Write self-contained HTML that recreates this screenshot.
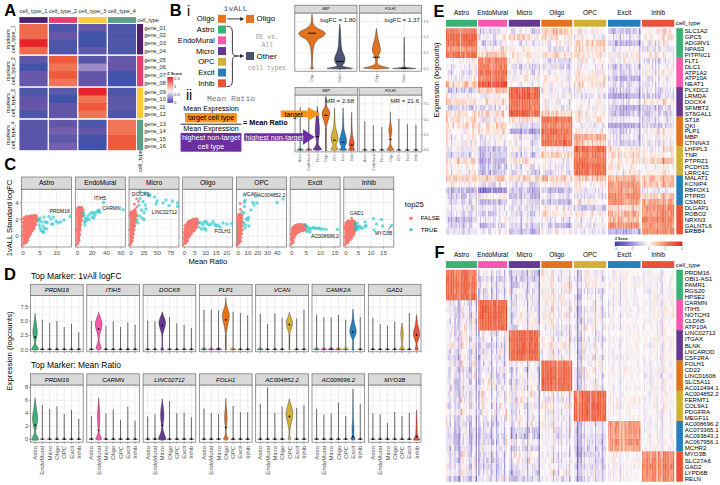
<!DOCTYPE html>
<html><head><meta charset="utf-8"><style>html,body{margin:0;padding:0;background:#fff;width:720px;height:485px;overflow:hidden}svg{display:block}</style></head><body>
<svg width="720" height="485" viewBox="0 0 720 485">
<style>.s{font-family:"Liberation Sans",sans-serif}.m{font-family:"Liberation Mono",monospace}</style>
<rect x="0" y="0" width="720" height="485" fill="#FFFFFF"/>
<text class="s" x="4.3" y="16.3" font-size="16.5" font-weight="bold" fill="#000">A</text>
<rect x="19.4" y="17.1" width="28.2" height="5.8" fill="#4F1F6E"/>
<text class="s" x="33.5" y="13.3" font-size="5.5" text-anchor="middle" fill="#222">cell_type_1</text>
<rect x="48.9" y="17.1" width="28.2" height="5.8" fill="#E8406E"/>
<text class="s" x="63" y="13.3" font-size="5.5" text-anchor="middle" fill="#222">cell_type_2</text>
<rect x="78.4" y="17.1" width="28.2" height="5.8" fill="#FDCB3A"/>
<text class="s" x="92.5" y="13.3" font-size="5.5" text-anchor="middle" fill="#222">cell_type_3</text>
<rect x="107.9" y="17.1" width="28.2" height="5.8" fill="#5C9E86"/>
<text class="s" x="122" y="13.3" font-size="5.5" text-anchor="middle" fill="#222">cell_type_4</text>
<text class="s" x="137.2" y="21.6" font-size="5.5" fill="#222">cell_type</text>
<rect x="19.4" y="24" width="28.2" height="8.2" fill="#EE6A4C"/>
<rect x="48.9" y="24" width="28.2" height="8.2" fill="#4E56A9"/>
<rect x="78.4" y="24" width="28.2" height="8.2" fill="#6757A9"/>
<rect x="107.9" y="24" width="28.2" height="8.2" fill="#4E56A9"/>
<text class="s" x="144.3" y="29.8" font-size="5.5" fill="#222">gene_01</text>
<rect x="19.4" y="31.6" width="28.2" height="8.2" fill="#EE6A4C"/>
<rect x="48.9" y="31.6" width="28.2" height="8.2" fill="#6757A9"/>
<rect x="78.4" y="31.6" width="28.2" height="8.2" fill="#4252A8"/>
<rect x="107.9" y="31.6" width="28.2" height="8.2" fill="#4E56A9"/>
<text class="s" x="144.3" y="37.4" font-size="5.5" fill="#222">gene_02</text>
<rect x="19.4" y="39.2" width="28.2" height="8.2" fill="#E8232B"/>
<rect x="48.9" y="39.2" width="28.2" height="8.2" fill="#4E56A9"/>
<rect x="78.4" y="39.2" width="28.2" height="8.2" fill="#4252A8"/>
<rect x="107.9" y="39.2" width="28.2" height="8.2" fill="#4E56A9"/>
<text class="s" x="144.3" y="45" font-size="5.5" fill="#222">gene_03</text>
<rect x="19.4" y="46.8" width="28.2" height="7.6" fill="#EE6A4C"/>
<rect x="48.9" y="46.8" width="28.2" height="7.6" fill="#4E56A9"/>
<rect x="78.4" y="46.8" width="28.2" height="7.6" fill="#5D58AA"/>
<rect x="107.9" y="46.8" width="28.2" height="7.6" fill="#4E56A9"/>
<text class="s" x="144.3" y="52.6" font-size="5.5" fill="#222">gene_04</text>
<rect x="137" y="24" width="6.1" height="30.4" fill="#4F1F6E"/>
<text class="s" x="9.9" y="39.2" font-size="5.5" text-anchor="middle" fill="#222" transform="rotate(-90 9.9 39.2)">markers</text>
<text class="s" x="15" y="39.2" font-size="5.5" text-anchor="middle" fill="#222" transform="rotate(-90 15 39.2)">cell_type_1</text>
<rect x="19.4" y="55.9" width="28.2" height="8.2" fill="#5E56A9"/>
<rect x="48.9" y="55.9" width="28.2" height="8.2" fill="#EF5A3C"/>
<rect x="78.4" y="55.9" width="28.2" height="8.2" fill="#5656A8"/>
<rect x="107.9" y="55.9" width="28.2" height="8.2" fill="#6757A9"/>
<text class="s" x="144.3" y="61.7" font-size="5.5" fill="#222">gene_05</text>
<rect x="19.4" y="63.5" width="28.2" height="8.2" fill="#4252A8"/>
<rect x="48.9" y="63.5" width="28.2" height="8.2" fill="#F07456"/>
<rect x="78.4" y="63.5" width="28.2" height="8.2" fill="#9C8CC8"/>
<rect x="107.9" y="63.5" width="28.2" height="8.2" fill="#6757A9"/>
<text class="s" x="144.3" y="69.3" font-size="5.5" fill="#222">gene_06</text>
<rect x="19.4" y="71.1" width="28.2" height="8.2" fill="#6757A9"/>
<rect x="48.9" y="71.1" width="28.2" height="8.2" fill="#EF5A3C"/>
<rect x="78.4" y="71.1" width="28.2" height="8.2" fill="#6356A9"/>
<rect x="107.9" y="71.1" width="28.2" height="8.2" fill="#4252A8"/>
<text class="s" x="144.3" y="76.9" font-size="5.5" fill="#222">gene_07</text>
<rect x="19.4" y="78.7" width="28.2" height="7.6" fill="#6757A9"/>
<rect x="48.9" y="78.7" width="28.2" height="7.6" fill="#F07456"/>
<rect x="78.4" y="78.7" width="28.2" height="7.6" fill="#6356A9"/>
<rect x="107.9" y="78.7" width="28.2" height="7.6" fill="#4252A8"/>
<text class="s" x="144.3" y="84.5" font-size="5.5" fill="#222">gene_08</text>
<rect x="137" y="55.9" width="6.1" height="30.4" fill="#E8406E"/>
<text class="s" x="9.9" y="71.1" font-size="5.5" text-anchor="middle" fill="#222" transform="rotate(-90 9.9 71.1)">markers</text>
<text class="s" x="15" y="71.1" font-size="5.5" text-anchor="middle" fill="#222" transform="rotate(-90 15 71.1)">cell_type_2</text>
<rect x="19.4" y="87.8" width="28.2" height="8.2" fill="#4E56A9"/>
<rect x="48.9" y="87.8" width="28.2" height="8.2" fill="#5A58A8"/>
<rect x="78.4" y="87.8" width="28.2" height="8.2" fill="#E8232B"/>
<rect x="107.9" y="87.8" width="28.2" height="8.2" fill="#4E56A9"/>
<text class="s" x="144.3" y="93.6" font-size="5.5" fill="#222">gene_09</text>
<rect x="19.4" y="95.4" width="28.2" height="8.2" fill="#6055A8"/>
<rect x="48.9" y="95.4" width="28.2" height="8.2" fill="#4252A8"/>
<rect x="78.4" y="95.4" width="28.2" height="8.2" fill="#F07456"/>
<rect x="107.9" y="95.4" width="28.2" height="8.2" fill="#5D58A8"/>
<text class="s" x="144.3" y="101.2" font-size="5.5" fill="#222">gene_10</text>
<rect x="19.4" y="103" width="28.2" height="8.2" fill="#6757A9"/>
<rect x="48.9" y="103" width="28.2" height="8.2" fill="#6155A8"/>
<rect x="78.4" y="103" width="28.2" height="8.2" fill="#EF5A3C"/>
<rect x="107.9" y="103" width="28.2" height="8.2" fill="#5D58A8"/>
<text class="s" x="144.3" y="108.8" font-size="5.5" fill="#222">gene_11</text>
<rect x="19.4" y="110.6" width="28.2" height="7.6" fill="#4E56A9"/>
<rect x="48.9" y="110.6" width="28.2" height="7.6" fill="#6155A8"/>
<rect x="78.4" y="110.6" width="28.2" height="7.6" fill="#F07456"/>
<rect x="107.9" y="110.6" width="28.2" height="7.6" fill="#4E56A9"/>
<text class="s" x="144.3" y="116.4" font-size="5.5" fill="#222">gene_12</text>
<rect x="137" y="87.8" width="6.1" height="30.4" fill="#FDCB3A"/>
<text class="s" x="9.9" y="103" font-size="5.5" text-anchor="middle" fill="#222" transform="rotate(-90 9.9 103)">markers</text>
<text class="s" x="15" y="103" font-size="5.5" text-anchor="middle" fill="#222" transform="rotate(-90 15 103)">cell_type_3</text>
<rect x="19.4" y="119.8" width="28.2" height="8.2" fill="#5855A8"/>
<rect x="48.9" y="119.8" width="28.2" height="8.2" fill="#6355A8"/>
<rect x="78.4" y="119.8" width="28.2" height="8.2" fill="#4E56A9"/>
<rect x="107.9" y="119.8" width="28.2" height="8.2" fill="#F07456"/>
<text class="s" x="144.3" y="125.6" font-size="5.5" fill="#222">gene_13</text>
<rect x="19.4" y="127.4" width="28.2" height="8.2" fill="#5855A8"/>
<rect x="48.9" y="127.4" width="28.2" height="8.2" fill="#7460AE"/>
<rect x="78.4" y="127.4" width="28.2" height="8.2" fill="#6356A9"/>
<rect x="107.9" y="127.4" width="28.2" height="8.2" fill="#F07456"/>
<text class="s" x="144.3" y="133.2" font-size="5.5" fill="#222">gene_14</text>
<rect x="19.4" y="135" width="28.2" height="8.2" fill="#5855A8"/>
<rect x="48.9" y="135" width="28.2" height="8.2" fill="#5D58A8"/>
<rect x="78.4" y="135" width="28.2" height="8.2" fill="#4252A8"/>
<rect x="107.9" y="135" width="28.2" height="8.2" fill="#EF5A3C"/>
<text class="s" x="144.3" y="140.8" font-size="5.5" fill="#222">gene_15</text>
<rect x="19.4" y="142.6" width="28.2" height="7.6" fill="#5A55A8"/>
<rect x="48.9" y="142.6" width="28.2" height="7.6" fill="#7460AE"/>
<rect x="78.4" y="142.6" width="28.2" height="7.6" fill="#4252A8"/>
<rect x="107.9" y="142.6" width="28.2" height="7.6" fill="#EF5A3C"/>
<text class="s" x="144.3" y="148.4" font-size="5.5" fill="#222">gene_16</text>
<rect x="137" y="119.8" width="6.1" height="30.4" fill="#5C9E86"/>
<text class="s" x="9.9" y="135" font-size="5.5" text-anchor="middle" fill="#222" transform="rotate(-90 9.9 135)">markers</text>
<text class="s" x="15" y="135" font-size="5.5" text-anchor="middle" fill="#222" transform="rotate(-90 15 135)">cell_type_4</text>
<text class="s" x="142.4" y="171.8" font-size="5.5" fill="#222" transform="rotate(-90 142.4 171.8)">cell_type</text>
<defs><linearGradient id="gA" x1="0" y1="0" x2="0" y2="1"><stop offset="0" stop-color="#E8202A"/><stop offset="0.33" stop-color="#F4A090"/><stop offset="0.55" stop-color="#F4F0F4"/><stop offset="0.8" stop-color="#9A8CC8"/><stop offset="1" stop-color="#3A4FB0"/></linearGradient></defs>
<text class="s" x="167" y="74.7" font-size="4.1" font-weight="bold" fill="#222">Z Score</text>
<rect x="167.3" y="77" width="5.9" height="25.8" fill="url(#gA)"/>
<text class="s" x="173.9" y="79.9" font-size="4.2" fill="#333">1.5</text>
<text class="s" x="173.9" y="88" font-size="4.2" fill="#333">1</text>
<text class="s" x="173.9" y="95.8" font-size="4.2" fill="#333">0.5</text>
<text class="s" x="173.9" y="103.8" font-size="4.2" fill="#333">0</text>
<text class="s" x="169.8" y="16.4" font-size="16.5" font-weight="bold" fill="#000">B</text>
<text class="s" x="187" y="16" font-size="14" fill="#000">i</text>
<text class="m" x="223.6" y="10.9" font-size="8" fill="#555">1vALL</text>
<rect x="218" y="14.8" width="8" height="8" fill="#E2731F"/>
<text class="s" x="214.6" y="21.4" font-size="7.6" text-anchor="end">Oligo</text>
<rect x="218" y="25.55" width="8" height="8" fill="#3BB273"/>
<text class="s" x="214.6" y="32.15" font-size="7.6" text-anchor="end">Astro</text>
<rect x="218" y="36.3" width="8" height="8" fill="#F558AE"/>
<text class="s" x="214.6" y="42.9" font-size="7.6" text-anchor="end">EndoMural</text>
<rect x="218" y="47.05" width="8" height="8" fill="#663894"/>
<text class="s" x="214.6" y="53.65" font-size="7.6" text-anchor="end">Micro</text>
<rect x="218" y="57.8" width="8" height="8" fill="#D2B037"/>
<text class="s" x="214.6" y="64.4" font-size="7.6" text-anchor="end">OPC</text>
<rect x="218" y="68.55" width="8" height="8" fill="#247FBC"/>
<text class="s" x="214.6" y="75.15" font-size="7.6" text-anchor="end">Excit</text>
<rect x="218" y="79.3" width="8" height="8" fill="#EA5136"/>
<text class="s" x="214.6" y="85.9" font-size="7.6" text-anchor="end">Inhib</text>
<line x1="227.2" y1="18.9" x2="241" y2="18.9" stroke="#222" stroke-width="0.9"/>
<path d="M244.2 18.9 L240.2 16.9 L240.2 20.9 Z" fill="#222"/>
<rect x="246" y="14.9" width="8" height="8" fill="#E2731F"/>
<text class="s" x="256.6" y="21.4" font-size="8">Oligo</text>
<path d="M226.6 26.3 C231.5 26.3 232.4 28.5 232.4 33 L232.4 50 C232.4 54.5 233.5 56 237.6 56 M226.6 86.6 C231.5 86.6 232.4 84.5 232.4 80 L232.4 62 C232.4 57.5 233.5 56 237.6 56 L241 56" fill="none" stroke="#222" stroke-width="0.9"/>
<path d="M244.2 56 L240.2 54 L240.2 58 Z" fill="#222"/>
<rect x="246" y="52" width="8" height="8" fill="#4B5571"/>
<text class="s" x="256.6" y="58.5" font-size="8">Other</text>
<text class="m" x="255.8" y="38.7" font-size="6.3" fill="#999">DE vs.</text>
<text class="m" x="267.3" y="46.5" font-size="6.3" text-anchor="middle" fill="#999">All</text>
<text class="m" x="248" y="70.4" font-size="6.3" fill="#999">cell types</text>
<rect x="294.8" y="13" width="62.2" height="58.2" fill="#FFFFFF"/>
<line x1="294.8" y1="68.7" x2="357" y2="68.7" stroke="#E6E6E6" stroke-width="0.7"/>
<line x1="294.8" y1="52.93" x2="357" y2="52.93" stroke="#E6E6E6" stroke-width="0.7"/>
<line x1="294.8" y1="37.15" x2="357" y2="37.15" stroke="#E6E6E6" stroke-width="0.7"/>
<line x1="294.8" y1="21.38" x2="357" y2="21.38" stroke="#E6E6E6" stroke-width="0.7"/>
<line x1="312.22" y1="13" x2="312.22" y2="71.2" stroke="#E6E6E6" stroke-width="0.7"/>
<line x1="339.58" y1="13" x2="339.58" y2="71.2" stroke="#E6E6E6" stroke-width="0.7"/>
<rect x="294.8" y="13" width="62.2" height="58.2" fill="none" stroke="#6e6e6e" stroke-width="0.7"/>
<rect x="294.8" y="5.2" width="62.2" height="7.8" fill="#D9D9D9" stroke="#6e6e6e" stroke-width="0.7"/>
<text class="s" x="325.9" y="10.32" font-size="3.4" text-anchor="middle" font-style="italic">MBP</text>
<line x1="312.22" y1="71.2" x2="312.22" y2="72.7" stroke="#777" stroke-width="0.4"/>
<line x1="339.58" y1="71.2" x2="339.58" y2="72.7" stroke="#777" stroke-width="0.4"/>
<rect x="359.6" y="13" width="61.9" height="58.2" fill="#FFFFFF"/>
<line x1="359.6" y1="68.7" x2="421.5" y2="68.7" stroke="#E6E6E6" stroke-width="0.7"/>
<line x1="359.6" y1="52.93" x2="421.5" y2="52.93" stroke="#E6E6E6" stroke-width="0.7"/>
<line x1="359.6" y1="37.15" x2="421.5" y2="37.15" stroke="#E6E6E6" stroke-width="0.7"/>
<line x1="359.6" y1="21.38" x2="421.5" y2="21.38" stroke="#E6E6E6" stroke-width="0.7"/>
<line x1="376.93" y1="13" x2="376.93" y2="71.2" stroke="#E6E6E6" stroke-width="0.7"/>
<line x1="404.17" y1="13" x2="404.17" y2="71.2" stroke="#E6E6E6" stroke-width="0.7"/>
<rect x="359.6" y="13" width="61.9" height="58.2" fill="none" stroke="#6e6e6e" stroke-width="0.7"/>
<rect x="359.6" y="5.2" width="61.9" height="7.8" fill="#D9D9D9" stroke="#6e6e6e" stroke-width="0.7"/>
<text class="s" x="390.55" y="10.32" font-size="3.4" text-anchor="middle" font-style="italic">FOLH1</text>
<line x1="376.93" y1="71.2" x2="376.93" y2="72.7" stroke="#777" stroke-width="0.4"/>
<line x1="404.17" y1="71.2" x2="404.17" y2="72.7" stroke="#777" stroke-width="0.4"/>
<path d="M312.1 14.3 C312.15 14.92 312.2 16.38 312.4 18 C312.6 19.62 312.53 22.33 313.3 24 C314.07 25.67 315.38 26.83 317 28 C318.62 29.17 321.63 30.12 323 31 C324.37 31.88 325.12 32.47 325.2 33.3 C325.28 34.13 324.62 35.05 323.5 36 C322.38 36.95 319.92 37.83 318.5 39 C317.08 40.17 315.85 41.5 315 43 C314.15 44.5 313.77 46.17 313.4 48 C313.03 49.83 312.95 52 312.8 54 C312.65 56 312.55 58 312.5 60 C312.45 62 312.32 64.63 312.5 66 C312.68 67.37 313.65 67.7 313.6 68.2 C313.55 68.7 312.43 68.87 312.2 69 L311.8 69 C311.57 68.87 310.45 68.7 310.4 68.2 C310.35 67.7 311.32 67.37 311.5 66 C311.68 64.63 311.55 62 311.5 60 C311.45 58 311.35 56 311.2 54 C311.05 52 310.97 49.83 310.6 48 C310.23 46.17 309.85 44.5 309 43 C308.15 41.5 306.92 40.17 305.5 39 C304.08 37.83 301.62 36.95 300.5 36 C299.38 35.05 298.72 34.13 298.8 33.3 C298.88 32.47 299.63 31.88 301 31 C302.37 30.12 305.38 29.17 307 28 C308.62 26.83 309.93 25.67 310.7 24 C311.47 22.33 311.4 19.62 311.6 18 C311.8 16.38 311.85 14.92 311.9 14.3 Z" fill="#E2731F" stroke="#222" stroke-width="0.4"/>
<line x1="308" y1="33.2" x2="316" y2="33.2" stroke="#000" stroke-width="0.9"/>
<path d="M339.9 24.3 C339.98 25.25 340.23 27.38 340.4 30 C340.57 32.62 340.73 37.17 340.9 40 C341.07 42.83 341.12 45 341.4 47 C341.68 49 342.1 50.5 342.6 52 C343.1 53.5 343.98 54.73 344.4 56 C344.82 57.27 345.13 58.43 345.1 59.6 C345.07 60.77 344.62 61.93 344.2 63 C343.78 64.07 341.83 65.23 342.6 66 C343.37 66.77 347.2 67.17 348.8 67.6 C350.4 68.03 353.65 68.33 352.2 68.6 C350.75 68.87 342.12 69.1 340.1 69.2 L339.5 69.2 C337.48 69.1 328.85 68.87 327.4 68.6 C325.95 68.33 329.2 68.03 330.8 67.6 C332.4 67.17 336.23 66.77 337 66 C337.77 65.23 335.82 64.07 335.4 63 C334.98 61.93 334.53 60.77 334.5 59.6 C334.47 58.43 334.78 57.27 335.2 56 C335.62 54.73 336.5 53.5 337 52 C337.5 50.5 337.92 49 338.2 47 C338.48 45 338.53 42.83 338.7 40 C338.87 37.17 339.03 32.62 339.2 30 C339.37 27.38 339.62 25.25 339.7 24.3 Z" fill="#4B5571" stroke="#222" stroke-width="0.4"/>
<line x1="336" y1="61.4" x2="343.6" y2="61.4" stroke="#000" stroke-width="0.9"/>
<path d="M376.5 28.6 C376.58 29.33 376.78 31.43 377 33 C377.22 34.57 377.43 36.33 377.8 38 C378.17 39.67 378.77 41.17 379.2 43 C379.63 44.83 380.3 47.33 380.4 49 C380.5 50.67 380.17 51.83 379.8 53 C379.43 54.17 378.6 54.83 378.2 56 C377.8 57.17 377.55 58.83 377.4 60 C377.25 61.17 376.88 62.08 377.3 63 C377.72 63.92 378.38 64.78 379.9 65.5 C381.42 66.22 384.95 66.83 386.4 67.3 C387.85 67.77 390.22 68.02 388.6 68.3 C386.98 68.58 378.68 68.88 376.7 69 L376.1 69 C374.12 68.88 365.82 68.58 364.2 68.3 C362.58 68.02 364.95 67.77 366.4 67.3 C367.85 66.83 371.38 66.22 372.9 65.5 C374.42 64.78 375.08 63.92 375.5 63 C375.92 62.08 375.55 61.17 375.4 60 C375.25 58.83 375 57.17 374.6 56 C374.2 54.83 373.37 54.17 373 53 C372.63 51.83 372.3 50.67 372.4 49 C372.5 47.33 373.17 44.83 373.6 43 C374.03 41.17 374.63 39.67 375 38 C375.37 36.33 375.58 34.57 375.8 33 C376.02 31.43 376.22 29.33 376.3 28.6 Z" fill="#E2731F" stroke="#222" stroke-width="0.4"/>
<line x1="372.8" y1="57.2" x2="380" y2="57.2" stroke="#000" stroke-width="0.9"/>
<path d="M404.25 37 C404.28 38.33 404.4 41.17 404.45 45 C404.5 48.83 404.51 56.42 404.55 60 C404.59 63.58 403.84 65.22 404.7 66.5 C405.56 67.78 407.87 67.37 409.7 67.7 C411.53 68.03 416.58 68.28 415.7 68.5 C414.82 68.72 406.28 68.92 404.4 69 L404 69 C402.12 68.92 393.58 68.72 392.7 68.5 C391.82 68.28 396.87 68.03 398.7 67.7 C400.53 67.37 402.84 67.78 403.7 66.5 C404.56 65.22 403.81 63.58 403.85 60 C403.89 56.42 403.9 48.83 403.95 45 C404 41.17 404.12 38.33 404.15 37 Z" fill="#4B5571" stroke="#222" stroke-width="0.35"/>
<line x1="401.7" y1="68.3" x2="406.7" y2="68.3" stroke="#000" stroke-width="0.9"/>
<text class="s" x="355.8" y="21.5" font-size="6.2" text-anchor="end" fill="#222">logFC = 1.80</text>
<text class="s" x="420" y="21.5" font-size="6.2" text-anchor="end" fill="#222">logFC = 1.37</text>
<line x1="421.5" y1="68.7" x2="423" y2="68.7" stroke="#777" stroke-width="0.4"/>
<text class="s" x="423.6" y="69.9" font-size="3.4" fill="#555">0.0</text>
<line x1="421.5" y1="52.93" x2="423" y2="52.93" stroke="#777" stroke-width="0.4"/>
<text class="s" x="423.6" y="54.13" font-size="3.4" fill="#555">2.5</text>
<line x1="421.5" y1="37.15" x2="423" y2="37.15" stroke="#777" stroke-width="0.4"/>
<text class="s" x="423.6" y="38.35" font-size="3.4" fill="#555">5.0</text>
<line x1="421.5" y1="21.38" x2="423" y2="21.38" stroke="#777" stroke-width="0.4"/>
<text class="s" x="423.6" y="22.58" font-size="3.4" fill="#555">7.5</text>
<text class="s" x="313.2" y="74" font-size="3.4" text-anchor="end" fill="#555" transform="rotate(-90 313.2 74)">Oligo</text>
<text class="s" x="341" y="74" font-size="3.4" text-anchor="end" fill="#555" transform="rotate(-90 341 74)">Other</text>
<text class="s" x="377.6" y="74" font-size="3.4" text-anchor="end" fill="#555" transform="rotate(-90 377.6 74)">Oligo</text>
<text class="s" x="405.4" y="74" font-size="3.4" text-anchor="end" fill="#555" transform="rotate(-90 405.4 74)">Other</text>
<text class="s" x="186" y="99.8" font-size="14" fill="#000">ii</text>
<text class="m" x="207" y="100.8" font-size="8" fill="#777">Mean Ratio</text>
<text class="s" x="211" y="111.4" font-size="7.2" text-anchor="middle">Mean Expression</text>
<rect x="185" y="113" width="51.9" height="9.4" fill="#F7941D"/>
<text class="s" x="211" y="120.3" font-size="7.2" text-anchor="middle">target cell type</text>
<line x1="180.6" y1="124.2" x2="241.4" y2="124.2" stroke="#111" stroke-width="0.9"/>
<text class="s" x="211" y="131" font-size="7.2" text-anchor="middle">Mean Expression</text>
<rect x="180.6" y="132.9" width="60.8" height="18.8" fill="#6B2FA0"/>
<text class="s" x="211" y="139.7" font-size="7.2" text-anchor="middle" fill="#FFFFFF">highest non-target</text>
<text class="s" x="211" y="149" font-size="7.2" text-anchor="middle" fill="#FFFFFF">cell type</text>
<text class="s" x="243" y="125.4" font-size="7.2" font-weight="bold" fill="#000">= Mean Ratio</text>
<rect x="295" y="95" width="62.4" height="56.9" fill="#FFFFFF"/>
<line x1="295" y1="150.2" x2="357.4" y2="150.2" stroke="#E6E6E6" stroke-width="0.7"/>
<line x1="295" y1="134.77" x2="357.4" y2="134.77" stroke="#E6E6E6" stroke-width="0.7"/>
<line x1="295" y1="119.35" x2="357.4" y2="119.35" stroke="#E6E6E6" stroke-width="0.7"/>
<line x1="295" y1="103.92" x2="357.4" y2="103.92" stroke="#E6E6E6" stroke-width="0.7"/>
<line x1="300.2" y1="95" x2="300.2" y2="151.9" stroke="#E6E6E6" stroke-width="0.7"/>
<line x1="308.78" y1="95" x2="308.78" y2="151.9" stroke="#E6E6E6" stroke-width="0.7"/>
<line x1="317.36" y1="95" x2="317.36" y2="151.9" stroke="#E6E6E6" stroke-width="0.7"/>
<line x1="325.94" y1="95" x2="325.94" y2="151.9" stroke="#E6E6E6" stroke-width="0.7"/>
<line x1="334.52" y1="95" x2="334.52" y2="151.9" stroke="#E6E6E6" stroke-width="0.7"/>
<line x1="343.1" y1="95" x2="343.1" y2="151.9" stroke="#E6E6E6" stroke-width="0.7"/>
<line x1="351.68" y1="95" x2="351.68" y2="151.9" stroke="#E6E6E6" stroke-width="0.7"/>
<rect x="295" y="95" width="62.4" height="56.9" fill="none" stroke="#6e6e6e" stroke-width="0.7"/>
<rect x="295" y="87.5" width="62.4" height="7.5" fill="#D9D9D9" stroke="#6e6e6e" stroke-width="0.7"/>
<text class="s" x="326.2" y="92.47" font-size="3.4" text-anchor="middle" font-style="italic">MBP</text>
<line x1="300.2" y1="151.9" x2="300.2" y2="153.3" stroke="#777" stroke-width="0.4"/>
<text class="s" x="301.4" y="154" font-size="3.4" text-anchor="end" fill="#555" transform="rotate(-90 301.4 154)">Astro</text>
<line x1="308.78" y1="151.9" x2="308.78" y2="153.3" stroke="#777" stroke-width="0.4"/>
<text class="s" x="309.98" y="154" font-size="3.4" text-anchor="end" fill="#555" transform="rotate(-90 309.98 154)">EndoMural</text>
<line x1="317.36" y1="151.9" x2="317.36" y2="153.3" stroke="#777" stroke-width="0.4"/>
<text class="s" x="318.56" y="154" font-size="3.4" text-anchor="end" fill="#555" transform="rotate(-90 318.56 154)">Micro</text>
<line x1="325.94" y1="151.9" x2="325.94" y2="153.3" stroke="#777" stroke-width="0.4"/>
<text class="s" x="327.14" y="154" font-size="3.4" text-anchor="end" fill="#555" transform="rotate(-90 327.14 154)">Oligo</text>
<line x1="334.52" y1="151.9" x2="334.52" y2="153.3" stroke="#777" stroke-width="0.4"/>
<text class="s" x="335.72" y="154" font-size="3.4" text-anchor="end" fill="#555" transform="rotate(-90 335.72 154)">OPC</text>
<line x1="343.1" y1="151.9" x2="343.1" y2="153.3" stroke="#777" stroke-width="0.4"/>
<text class="s" x="344.3" y="154" font-size="3.4" text-anchor="end" fill="#555" transform="rotate(-90 344.3 154)">Excit</text>
<line x1="351.68" y1="151.9" x2="351.68" y2="153.3" stroke="#777" stroke-width="0.4"/>
<text class="s" x="352.88" y="154" font-size="3.4" text-anchor="end" fill="#555" transform="rotate(-90 352.88 154)">Inhib</text>
<rect x="359.1" y="95" width="62.8" height="56.9" fill="#FFFFFF"/>
<line x1="359.1" y1="150.2" x2="421.9" y2="150.2" stroke="#E6E6E6" stroke-width="0.7"/>
<line x1="359.1" y1="134.77" x2="421.9" y2="134.77" stroke="#E6E6E6" stroke-width="0.7"/>
<line x1="359.1" y1="119.35" x2="421.9" y2="119.35" stroke="#E6E6E6" stroke-width="0.7"/>
<line x1="359.1" y1="103.92" x2="421.9" y2="103.92" stroke="#E6E6E6" stroke-width="0.7"/>
<line x1="364.8" y1="95" x2="364.8" y2="151.9" stroke="#E6E6E6" stroke-width="0.7"/>
<line x1="373.32" y1="95" x2="373.32" y2="151.9" stroke="#E6E6E6" stroke-width="0.7"/>
<line x1="381.84" y1="95" x2="381.84" y2="151.9" stroke="#E6E6E6" stroke-width="0.7"/>
<line x1="390.36" y1="95" x2="390.36" y2="151.9" stroke="#E6E6E6" stroke-width="0.7"/>
<line x1="398.88" y1="95" x2="398.88" y2="151.9" stroke="#E6E6E6" stroke-width="0.7"/>
<line x1="407.4" y1="95" x2="407.4" y2="151.9" stroke="#E6E6E6" stroke-width="0.7"/>
<line x1="415.92" y1="95" x2="415.92" y2="151.9" stroke="#E6E6E6" stroke-width="0.7"/>
<rect x="359.1" y="95" width="62.8" height="56.9" fill="none" stroke="#6e6e6e" stroke-width="0.7"/>
<rect x="359.1" y="87.5" width="62.8" height="7.5" fill="#D9D9D9" stroke="#6e6e6e" stroke-width="0.7"/>
<text class="s" x="390.5" y="92.47" font-size="3.4" text-anchor="middle" font-style="italic">FOLH1</text>
<line x1="364.8" y1="151.9" x2="364.8" y2="153.3" stroke="#777" stroke-width="0.4"/>
<text class="s" x="366" y="154" font-size="3.4" text-anchor="end" fill="#555" transform="rotate(-90 366 154)">Astro</text>
<line x1="373.32" y1="151.9" x2="373.32" y2="153.3" stroke="#777" stroke-width="0.4"/>
<text class="s" x="374.52" y="154" font-size="3.4" text-anchor="end" fill="#555" transform="rotate(-90 374.52 154)">EndoMural</text>
<line x1="381.84" y1="151.9" x2="381.84" y2="153.3" stroke="#777" stroke-width="0.4"/>
<text class="s" x="383.04" y="154" font-size="3.4" text-anchor="end" fill="#555" transform="rotate(-90 383.04 154)">Micro</text>
<line x1="390.36" y1="151.9" x2="390.36" y2="153.3" stroke="#777" stroke-width="0.4"/>
<text class="s" x="391.56" y="154" font-size="3.4" text-anchor="end" fill="#555" transform="rotate(-90 391.56 154)">Oligo</text>
<line x1="398.88" y1="151.9" x2="398.88" y2="153.3" stroke="#777" stroke-width="0.4"/>
<text class="s" x="400.08" y="154" font-size="3.4" text-anchor="end" fill="#555" transform="rotate(-90 400.08 154)">OPC</text>
<line x1="407.4" y1="151.9" x2="407.4" y2="153.3" stroke="#777" stroke-width="0.4"/>
<text class="s" x="408.6" y="154" font-size="3.4" text-anchor="end" fill="#555" transform="rotate(-90 408.6 154)">Excit</text>
<line x1="415.92" y1="151.9" x2="415.92" y2="153.3" stroke="#777" stroke-width="0.4"/>
<text class="s" x="417.12" y="154" font-size="3.4" text-anchor="end" fill="#555" transform="rotate(-90 417.12 154)">Inhib</text>
<line x1="300.2" y1="107.1" x2="300.2" y2="147.8" stroke="#3a3a3a" stroke-width="0.75"/>
<path d="M300.4 147.5 C300.67 147.75 301.5 148.57 302.01 149 C302.53 149.43 303.79 149.81 303.5 150.05 C303.21 150.29 300.79 150.38 300.25 150.45 L300.15 150.45 C299.61 150.38 297.19 150.29 296.9 150.05 C296.61 149.81 297.87 149.43 298.38 149 C298.9 148.57 299.73 147.75 300 147.5 Z" fill="#3BB273" stroke="#333" stroke-width="0.35"/>
<circle cx="300.2" cy="150" r="0.75" fill="#000"/>
<line x1="308.78" y1="107.6" x2="308.78" y2="147.8" stroke="#3a3a3a" stroke-width="0.75"/>
<path d="M308.98 147.5 C309.25 147.75 310.08 148.57 310.59 149 C311.11 149.43 312.37 149.81 312.08 150.05 C311.79 150.29 309.37 150.38 308.83 150.45 L308.73 150.45 C308.19 150.38 305.77 150.29 305.48 150.05 C305.19 149.81 306.45 149.43 306.96 149 C307.48 148.57 308.31 147.75 308.58 147.5 Z" fill="#F558AE" stroke="#333" stroke-width="0.35"/>
<circle cx="308.78" cy="150" r="0.75" fill="#000"/>
<path d="M317.41 106.4 C317.47 107 317.62 108.73 317.76 110 C317.9 111.27 318.08 112.33 318.26 114 C318.44 115.67 318.68 118 318.86 120 C319.04 122 319.24 124.17 319.36 126 C319.48 127.83 319.59 129.33 319.56 131 C319.53 132.67 319.36 134.33 319.16 136 C318.96 137.67 318.46 139.58 318.36 141 C318.26 142.42 318.26 143.42 318.56 144.5 C318.86 145.58 319.64 146.67 320.16 147.5 C320.68 148.33 322.08 149 321.66 149.5 C321.24 150 318.33 150.33 317.66 150.5 L317.06 150.5 C316.39 150.33 313.48 150 313.06 149.5 C312.64 149 314.04 148.33 314.56 147.5 C315.08 146.67 315.86 145.58 316.16 144.5 C316.46 143.42 316.46 142.42 316.36 141 C316.26 139.58 315.76 137.67 315.56 136 C315.36 134.33 315.19 132.67 315.16 131 C315.13 129.33 315.24 127.83 315.36 126 C315.48 124.17 315.68 122 315.86 120 C316.04 118 316.28 115.67 316.46 114 C316.64 112.33 316.82 111.27 316.96 110 C317.1 108.73 317.25 107 317.31 106.4 Z" fill="#663894" stroke="#222" stroke-width="0.35"/>
<line x1="315.76" y1="136.5" x2="318.96" y2="136.5" stroke="#000" stroke-width="0.9"/>
<path d="M325.99 96.5 C326.03 97.75 326 102.17 326.24 104 C326.48 105.83 326.96 106.42 327.44 107.5 C327.92 108.58 328.72 109.48 329.14 110.5 C329.56 111.52 329.91 112.52 329.94 113.6 C329.97 114.68 329.67 115.77 329.34 117 C329.01 118.23 328.34 119.67 327.94 121 C327.54 122.33 327.21 123.5 326.94 125 C326.67 126.5 326.45 126 326.34 130 C326.23 134 326.26 145.62 326.29 149 C326.32 152.38 326.58 150 326.54 150.3 C326.5 150.6 326.12 150.72 326.04 150.8 L325.84 150.8 C325.76 150.72 325.38 150.6 325.34 150.3 C325.3 150 325.56 152.38 325.59 149 C325.62 145.62 325.65 134 325.54 130 C325.43 126 325.21 126.5 324.94 125 C324.67 123.5 324.34 122.33 323.94 121 C323.54 119.67 322.87 118.23 322.54 117 C322.21 115.77 321.91 114.68 321.94 113.6 C321.97 112.52 322.32 111.52 322.74 110.5 C323.16 109.48 323.96 108.58 324.44 107.5 C324.92 106.42 325.4 105.83 325.64 104 C325.88 102.17 325.85 97.75 325.89 96.5 Z" fill="#E2731F" stroke="#222" stroke-width="0.35"/>
<line x1="324.14" y1="115.4" x2="327.74" y2="115.4" stroke="#000" stroke-width="0.9"/>
<line x1="325.94" y1="128" x2="325.94" y2="149.5" stroke="#3a3a3a" stroke-width="0.6"/>
<line x1="325.94" y1="96.5" x2="325.94" y2="106" stroke="#3a3a3a" stroke-width="0.6"/>
<path d="M334.57 108 C334.61 109.17 334.75 112.67 334.82 115 C334.89 117.33 334.9 120 335.02 122 C335.14 124 335.2 125.33 335.52 127 C335.84 128.67 336.5 130.22 336.92 132 C337.34 133.78 337.92 136.12 338.02 137.7 C338.12 139.28 337.84 140.28 337.52 141.5 C337.2 142.72 336.25 144.05 336.12 145 C335.99 145.95 336.35 146.48 336.72 147.2 C337.09 147.92 338.64 148.75 338.32 149.3 C338 149.85 335.4 150.3 334.82 150.5 L334.22 150.5 C333.64 150.3 331.04 149.85 330.72 149.3 C330.4 148.75 331.95 147.92 332.32 147.2 C332.69 146.48 333.05 145.95 332.92 145 C332.79 144.05 331.84 142.72 331.52 141.5 C331.2 140.28 330.92 139.28 331.02 137.7 C331.12 136.12 331.7 133.78 332.12 132 C332.54 130.22 333.2 128.67 333.52 127 C333.84 125.33 333.9 124 334.02 122 C334.14 120 334.14 117.33 334.22 115 C334.29 112.67 334.43 109.17 334.47 108 Z" fill="#D2B037" stroke="#222" stroke-width="0.35"/>
<line x1="332.92" y1="140.2" x2="336.12" y2="140.2" stroke="#000" stroke-width="0.9"/>
<path d="M343.15 108 C343.19 109.33 343.32 113.33 343.4 116 C343.48 118.67 343.52 121.67 343.65 124 C343.78 126.33 343.88 128.08 344.2 130 C344.52 131.92 345.18 133.7 345.6 135.5 C346.02 137.3 346.65 139.3 346.7 140.8 C346.75 142.3 346.22 143.47 345.9 144.5 C345.58 145.53 344.87 146.33 344.8 147 C344.73 147.67 345.15 148.03 345.5 148.5 C345.85 148.97 347.25 149.45 346.9 149.8 C346.55 150.15 343.98 150.47 343.4 150.6 L342.8 150.6 C342.22 150.47 339.65 150.15 339.3 149.8 C338.95 149.45 340.35 148.97 340.7 148.5 C341.05 148.03 341.47 147.67 341.4 147 C341.33 146.33 340.62 145.53 340.3 144.5 C339.98 143.47 339.45 142.3 339.5 140.8 C339.55 139.3 340.18 137.3 340.6 135.5 C341.02 133.7 341.67 131.92 342 130 C342.32 128.08 342.42 126.33 342.55 124 C342.68 121.67 342.72 118.67 342.8 116 C342.88 113.33 343.01 109.33 343.05 108 Z" fill="#247FBC" stroke="#222" stroke-width="0.35"/>
<line x1="341.5" y1="142.3" x2="344.7" y2="142.3" stroke="#000" stroke-width="0.9"/>
<path d="M351.73 112.3 C351.76 113.58 351.86 117.05 351.93 120 C352 122.95 352.06 127.33 352.18 130 C352.31 132.67 352.43 134.25 352.68 136 C352.93 137.75 353.41 139.18 353.68 140.5 C353.95 141.82 354.28 142.9 354.28 143.9 C354.28 144.9 353.75 145.73 353.68 146.5 C353.61 147.27 353.68 147.92 353.88 148.5 C354.08 149.08 355.2 149.63 354.88 150 C354.56 150.37 352.46 150.58 351.98 150.7 L351.38 150.7 C350.9 150.58 348.8 150.37 348.48 150 C348.16 149.63 349.28 149.08 349.48 148.5 C349.68 147.92 349.75 147.27 349.68 146.5 C349.61 145.73 349.08 144.9 349.08 143.9 C349.08 142.9 349.41 141.82 349.68 140.5 C349.95 139.18 350.43 137.75 350.68 136 C350.93 134.25 351.06 132.67 351.18 130 C351.31 127.33 351.36 122.95 351.43 120 C351.5 117.05 351.6 113.58 351.63 112.3 Z" fill="#EA5136" stroke="#222" stroke-width="0.35"/>
<line x1="350.38" y1="145.1" x2="352.98" y2="145.1" stroke="#000" stroke-width="0.9"/>
<line x1="364.8" y1="121.2" x2="364.8" y2="149.2" stroke="#3a3a3a" stroke-width="0.75"/>
<path d="M365 148.9 C365.2 149.03 365.83 149.51 366.23 149.7 C366.63 149.89 367.63 149.92 367.4 150.05 C367.17 150.17 365.28 150.38 364.85 150.45 L364.75 150.45 C364.32 150.38 362.43 150.17 362.2 150.05 C361.97 149.92 362.97 149.89 363.37 149.7 C363.77 149.51 364.4 149.03 364.6 148.9 Z" fill="#444" stroke="#333" stroke-width="0.35"/>
<circle cx="364.8" cy="150" r="0.75" fill="#000"/>
<line x1="373.32" y1="125.3" x2="373.32" y2="149.2" stroke="#3a3a3a" stroke-width="0.75"/>
<path d="M373.52 148.9 C373.72 149.03 374.35 149.51 374.75 149.7 C375.15 149.89 376.15 149.92 375.92 150.05 C375.69 150.17 373.8 150.38 373.37 150.45 L373.27 150.45 C372.84 150.38 370.95 150.17 370.72 150.05 C370.49 149.92 371.49 149.89 371.89 149.7 C372.29 149.51 372.92 149.03 373.12 148.9 Z" fill="#444" stroke="#333" stroke-width="0.35"/>
<circle cx="373.32" cy="150" r="0.75" fill="#000"/>
<line x1="381.84" y1="126.9" x2="381.84" y2="149.2" stroke="#3a3a3a" stroke-width="0.75"/>
<path d="M382.04 148.9 C382.25 149.03 382.87 149.51 383.27 149.7 C383.67 149.89 384.67 149.92 384.44 150.05 C384.21 150.17 382.32 150.38 381.89 150.45 L381.79 150.45 C381.37 150.38 379.47 150.17 379.24 150.05 C379.01 149.92 380.01 149.89 380.41 149.7 C380.81 149.51 381.44 149.03 381.64 148.9 Z" fill="#444" stroke="#333" stroke-width="0.35"/>
<circle cx="381.84" cy="150" r="0.75" fill="#000"/>
<line x1="390.36" y1="111.7" x2="390.36" y2="123.5" stroke="#3a3a3a" stroke-width="0.7"/>
<path d="M390.41 121.5 C390.5 121.92 390.75 123 390.96 124 C391.17 125 391.49 126.35 391.66 127.5 C391.83 128.65 391.98 129.82 391.96 130.9 C391.94 131.98 391.73 132.98 391.56 134 C391.39 135.02 391.09 136 390.96 137 C390.83 138 390.79 138.83 390.76 140 C390.73 141.17 390.59 142.92 390.76 144 C390.93 145.08 391.36 145.7 391.76 146.5 C392.16 147.3 392.79 148.2 393.16 148.8 C393.53 149.4 394.38 149.8 393.96 150.1 C393.54 150.4 391.21 150.52 390.66 150.6 L390.06 150.6 C389.51 150.52 387.18 150.4 386.76 150.1 C386.34 149.8 387.19 149.4 387.56 148.8 C387.93 148.2 388.56 147.3 388.96 146.5 C389.36 145.7 389.79 145.08 389.96 144 C390.13 142.92 389.99 141.17 389.96 140 C389.93 138.83 389.89 138 389.76 137 C389.63 136 389.33 135.02 389.16 134 C388.99 132.98 388.78 131.98 388.76 130.9 C388.74 129.82 388.89 128.65 389.06 127.5 C389.23 126.35 389.55 125 389.76 124 C389.97 123 390.22 121.92 390.31 121.5 Z" fill="#E2731F" stroke="#222" stroke-width="0.35"/>
<line x1="389.06" y1="139.3" x2="391.66" y2="139.3" stroke="#000" stroke-width="0.9"/>
<line x1="398.88" y1="118.8" x2="398.88" y2="149.2" stroke="#3a3a3a" stroke-width="0.75"/>
<path d="M399.08 148.9 C399.28 149.03 399.91 149.51 400.31 149.7 C400.71 149.89 401.71 149.92 401.48 150.05 C401.25 150.17 399.36 150.38 398.93 150.45 L398.83 150.45 C398.4 150.38 396.51 150.17 396.28 150.05 C396.05 149.92 397.05 149.89 397.45 149.7 C397.85 149.51 398.48 149.03 398.68 148.9 Z" fill="#444" stroke="#333" stroke-width="0.35"/>
<circle cx="398.88" cy="150" r="0.75" fill="#000"/>
<line x1="407.4" y1="124.3" x2="407.4" y2="149.2" stroke="#3a3a3a" stroke-width="0.75"/>
<path d="M407.6 148.9 C407.8 149.03 408.43 149.51 408.83 149.7 C409.23 149.89 410.23 149.92 410 150.05 C409.77 150.17 407.88 150.38 407.45 150.45 L407.35 150.45 C406.92 150.38 405.03 150.17 404.8 150.05 C404.57 149.92 405.57 149.89 405.97 149.7 C406.37 149.51 407 149.03 407.2 148.9 Z" fill="#444" stroke="#333" stroke-width="0.35"/>
<circle cx="407.4" cy="150" r="0.75" fill="#000"/>
<line x1="415.92" y1="124.7" x2="415.92" y2="149.2" stroke="#3a3a3a" stroke-width="0.75"/>
<path d="M416.12 148.9 C416.32 149.03 416.95 149.51 417.35 149.7 C417.75 149.89 418.75 149.92 418.52 150.05 C418.29 150.17 416.4 150.38 415.97 150.45 L415.87 150.45 C415.44 150.38 413.55 150.17 413.32 150.05 C413.09 149.92 414.09 149.89 414.49 149.7 C414.89 149.51 415.52 149.03 415.72 148.9 Z" fill="#444" stroke="#333" stroke-width="0.35"/>
<circle cx="415.92" cy="150" r="0.75" fill="#000"/>
<text class="s" x="354" y="103.2" font-size="6.2" text-anchor="end" fill="#222">MR = 2.68</text>
<text class="s" x="419.2" y="102.9" font-size="6.2" text-anchor="end" fill="#222">MR = 21.6</text>
<line x1="421.9" y1="150.2" x2="423.4" y2="150.2" stroke="#777" stroke-width="0.4"/>
<text class="s" x="423.8" y="151.4" font-size="3.4" fill="#555">0.0</text>
<line x1="421.9" y1="134.77" x2="423.4" y2="134.77" stroke="#777" stroke-width="0.4"/>
<text class="s" x="423.8" y="135.97" font-size="3.4" fill="#555">2.5</text>
<line x1="421.9" y1="119.35" x2="423.4" y2="119.35" stroke="#777" stroke-width="0.4"/>
<text class="s" x="423.8" y="120.55" font-size="3.4" fill="#555">5.0</text>
<line x1="421.9" y1="103.92" x2="423.4" y2="103.92" stroke="#777" stroke-width="0.4"/>
<text class="s" x="423.8" y="105.12" font-size="3.4" fill="#555">7.5</text>
<path d="M280.7 110.6 L308.2 110.6 L308.2 107.3 L320.5 113.9 L308.2 120.5 L308.2 117.2 L280.7 117.2 Z" fill="#F7941D"/>
<text class="s" x="284.3" y="116.5" font-size="7.2">target</text>
<path d="M244.2 133.3 L303.0 133.3 L303.0 129.2 L314.8 137.0 L303.0 144.8 L303.0 140.7 L244.2 140.7 Z" fill="#6B2FA0"/>
<text class="s" x="245.6" y="139.6" font-size="7.2" fill="#FFFFFF">highest non-target</text>
<text class="s" x="439.2" y="80" font-size="7.4" text-anchor="middle" transform="rotate(-90 439.2 80)">Expression (logcounts)</text>
<text class="s" x="4.2" y="170.3" font-size="16.5" font-weight="bold" fill="#000">C</text>
<rect x="21.6" y="189.2" width="50" height="57.8" fill="#FFFFFF"/>
<line x1="21.6" y1="194.05" x2="71.6" y2="194.05" stroke="#F2F2F2" stroke-width="0.5"/>
<line x1="21.6" y1="210.95" x2="71.6" y2="210.95" stroke="#F2F2F2" stroke-width="0.5"/>
<line x1="21.6" y1="227.8" x2="71.6" y2="227.8" stroke="#F2F2F2" stroke-width="0.5"/>
<line x1="21.6" y1="244.65" x2="71.6" y2="244.65" stroke="#F2F2F2" stroke-width="0.5"/>
<line x1="31.4" y1="189.2" x2="31.4" y2="247" stroke="#F2F2F2" stroke-width="0.5"/>
<line x1="48.4" y1="189.2" x2="48.4" y2="247" stroke="#F2F2F2" stroke-width="0.5"/>
<line x1="65.1" y1="189.2" x2="65.1" y2="247" stroke="#F2F2F2" stroke-width="0.5"/>
<line x1="21.6" y1="202.5" x2="71.6" y2="202.5" stroke="#E6E6E6" stroke-width="0.7"/>
<line x1="21.6" y1="219.4" x2="71.6" y2="219.4" stroke="#E6E6E6" stroke-width="0.7"/>
<line x1="21.6" y1="236.2" x2="71.6" y2="236.2" stroke="#E6E6E6" stroke-width="0.7"/>
<line x1="22.9" y1="189.2" x2="22.9" y2="247" stroke="#E6E6E6" stroke-width="0.7"/>
<line x1="39.9" y1="189.2" x2="39.9" y2="247" stroke="#E6E6E6" stroke-width="0.7"/>
<line x1="56.6" y1="189.2" x2="56.6" y2="247" stroke="#E6E6E6" stroke-width="0.7"/>
<rect x="21.6" y="189.2" width="50" height="57.8" fill="none" stroke="#6e6e6e" stroke-width="0.7"/>
<rect x="21.6" y="177" width="50" height="12.2" fill="#D9D9D9" stroke="#6e6e6e" stroke-width="0.7"/>
<text class="s" x="46.6" y="185.48" font-size="6.6" text-anchor="middle">Astro</text>
<line x1="22.9" y1="247" x2="22.9" y2="248.6" stroke="#555" stroke-width="0.5"/>
<text class="s" x="22.9" y="255.4" font-size="6.2" text-anchor="middle" fill="#4d4d4d">0</text>
<line x1="39.9" y1="247" x2="39.9" y2="248.6" stroke="#555" stroke-width="0.5"/>
<text class="s" x="39.9" y="255.4" font-size="6.2" text-anchor="middle" fill="#4d4d4d">5</text>
<line x1="56.6" y1="247" x2="56.6" y2="248.6" stroke="#555" stroke-width="0.5"/>
<text class="s" x="56.6" y="255.4" font-size="6.2" text-anchor="middle" fill="#4d4d4d">10</text>
<rect x="75.3" y="189.2" width="50" height="57.8" fill="#FFFFFF"/>
<line x1="75.3" y1="194.05" x2="125.3" y2="194.05" stroke="#F2F2F2" stroke-width="0.5"/>
<line x1="75.3" y1="210.95" x2="125.3" y2="210.95" stroke="#F2F2F2" stroke-width="0.5"/>
<line x1="75.3" y1="227.8" x2="125.3" y2="227.8" stroke="#F2F2F2" stroke-width="0.5"/>
<line x1="75.3" y1="244.65" x2="125.3" y2="244.65" stroke="#F2F2F2" stroke-width="0.5"/>
<line x1="84.75" y1="189.2" x2="84.75" y2="247" stroke="#F2F2F2" stroke-width="0.5"/>
<line x1="99.45" y1="189.2" x2="99.45" y2="247" stroke="#F2F2F2" stroke-width="0.5"/>
<line x1="113.75" y1="189.2" x2="113.75" y2="247" stroke="#F2F2F2" stroke-width="0.5"/>
<line x1="75.3" y1="202.5" x2="125.3" y2="202.5" stroke="#E6E6E6" stroke-width="0.7"/>
<line x1="75.3" y1="219.4" x2="125.3" y2="219.4" stroke="#E6E6E6" stroke-width="0.7"/>
<line x1="75.3" y1="236.2" x2="125.3" y2="236.2" stroke="#E6E6E6" stroke-width="0.7"/>
<line x1="77.4" y1="189.2" x2="77.4" y2="247" stroke="#E6E6E6" stroke-width="0.7"/>
<line x1="92.1" y1="189.2" x2="92.1" y2="247" stroke="#E6E6E6" stroke-width="0.7"/>
<line x1="106.4" y1="189.2" x2="106.4" y2="247" stroke="#E6E6E6" stroke-width="0.7"/>
<line x1="121" y1="189.2" x2="121" y2="247" stroke="#E6E6E6" stroke-width="0.7"/>
<rect x="75.3" y="189.2" width="50" height="57.8" fill="none" stroke="#6e6e6e" stroke-width="0.7"/>
<rect x="75.3" y="177" width="50" height="12.2" fill="#D9D9D9" stroke="#6e6e6e" stroke-width="0.7"/>
<text class="s" x="100.3" y="185.48" font-size="6.6" text-anchor="middle">EndoMural</text>
<line x1="77.4" y1="247" x2="77.4" y2="248.6" stroke="#555" stroke-width="0.5"/>
<text class="s" x="77.4" y="255.4" font-size="6.2" text-anchor="middle" fill="#4d4d4d">0</text>
<line x1="92.1" y1="247" x2="92.1" y2="248.6" stroke="#555" stroke-width="0.5"/>
<text class="s" x="92.1" y="255.4" font-size="6.2" text-anchor="middle" fill="#4d4d4d">20</text>
<line x1="106.4" y1="247" x2="106.4" y2="248.6" stroke="#555" stroke-width="0.5"/>
<text class="s" x="106.4" y="255.4" font-size="6.2" text-anchor="middle" fill="#4d4d4d">40</text>
<line x1="121" y1="247" x2="121" y2="248.6" stroke="#555" stroke-width="0.5"/>
<text class="s" x="121" y="255.4" font-size="6.2" text-anchor="middle" fill="#4d4d4d">60</text>
<rect x="129" y="189.2" width="50" height="57.8" fill="#FFFFFF"/>
<line x1="129" y1="194.05" x2="179" y2="194.05" stroke="#F2F2F2" stroke-width="0.5"/>
<line x1="129" y1="210.95" x2="179" y2="210.95" stroke="#F2F2F2" stroke-width="0.5"/>
<line x1="129" y1="227.8" x2="179" y2="227.8" stroke="#F2F2F2" stroke-width="0.5"/>
<line x1="129" y1="244.65" x2="179" y2="244.65" stroke="#F2F2F2" stroke-width="0.5"/>
<line x1="137.55" y1="189.2" x2="137.55" y2="247" stroke="#F2F2F2" stroke-width="0.5"/>
<line x1="150.65" y1="189.2" x2="150.65" y2="247" stroke="#F2F2F2" stroke-width="0.5"/>
<line x1="163.95" y1="189.2" x2="163.95" y2="247" stroke="#F2F2F2" stroke-width="0.5"/>
<line x1="177.25" y1="189.2" x2="177.25" y2="247" stroke="#F2F2F2" stroke-width="0.5"/>
<line x1="129" y1="202.5" x2="179" y2="202.5" stroke="#E6E6E6" stroke-width="0.7"/>
<line x1="129" y1="219.4" x2="179" y2="219.4" stroke="#E6E6E6" stroke-width="0.7"/>
<line x1="129" y1="236.2" x2="179" y2="236.2" stroke="#E6E6E6" stroke-width="0.7"/>
<line x1="131" y1="189.2" x2="131" y2="247" stroke="#E6E6E6" stroke-width="0.7"/>
<line x1="144.1" y1="189.2" x2="144.1" y2="247" stroke="#E6E6E6" stroke-width="0.7"/>
<line x1="157.4" y1="189.2" x2="157.4" y2="247" stroke="#E6E6E6" stroke-width="0.7"/>
<line x1="170.7" y1="189.2" x2="170.7" y2="247" stroke="#E6E6E6" stroke-width="0.7"/>
<rect x="129" y="189.2" width="50" height="57.8" fill="none" stroke="#6e6e6e" stroke-width="0.7"/>
<rect x="129" y="177" width="50" height="12.2" fill="#D9D9D9" stroke="#6e6e6e" stroke-width="0.7"/>
<text class="s" x="154" y="185.48" font-size="6.6" text-anchor="middle">Micro</text>
<line x1="131" y1="247" x2="131" y2="248.6" stroke="#555" stroke-width="0.5"/>
<text class="s" x="131" y="255.4" font-size="6.2" text-anchor="middle" fill="#4d4d4d">0</text>
<line x1="144.1" y1="247" x2="144.1" y2="248.6" stroke="#555" stroke-width="0.5"/>
<text class="s" x="144.1" y="255.4" font-size="6.2" text-anchor="middle" fill="#4d4d4d">25</text>
<line x1="157.4" y1="247" x2="157.4" y2="248.6" stroke="#555" stroke-width="0.5"/>
<text class="s" x="157.4" y="255.4" font-size="6.2" text-anchor="middle" fill="#4d4d4d">50</text>
<line x1="170.7" y1="247" x2="170.7" y2="248.6" stroke="#555" stroke-width="0.5"/>
<text class="s" x="170.7" y="255.4" font-size="6.2" text-anchor="middle" fill="#4d4d4d">75</text>
<rect x="182.7" y="189.2" width="50" height="57.8" fill="#FFFFFF"/>
<line x1="182.7" y1="194.05" x2="232.7" y2="194.05" stroke="#F2F2F2" stroke-width="0.5"/>
<line x1="182.7" y1="210.95" x2="232.7" y2="210.95" stroke="#F2F2F2" stroke-width="0.5"/>
<line x1="182.7" y1="227.8" x2="232.7" y2="227.8" stroke="#F2F2F2" stroke-width="0.5"/>
<line x1="182.7" y1="244.65" x2="232.7" y2="244.65" stroke="#F2F2F2" stroke-width="0.5"/>
<line x1="189.65" y1="189.2" x2="189.65" y2="247" stroke="#F2F2F2" stroke-width="0.5"/>
<line x1="200.15" y1="189.2" x2="200.15" y2="247" stroke="#F2F2F2" stroke-width="0.5"/>
<line x1="210.85" y1="189.2" x2="210.85" y2="247" stroke="#F2F2F2" stroke-width="0.5"/>
<line x1="221.45" y1="189.2" x2="221.45" y2="247" stroke="#F2F2F2" stroke-width="0.5"/>
<line x1="232.05" y1="189.2" x2="232.05" y2="247" stroke="#F2F2F2" stroke-width="0.5"/>
<line x1="182.7" y1="202.5" x2="232.7" y2="202.5" stroke="#E6E6E6" stroke-width="0.7"/>
<line x1="182.7" y1="219.4" x2="232.7" y2="219.4" stroke="#E6E6E6" stroke-width="0.7"/>
<line x1="182.7" y1="236.2" x2="232.7" y2="236.2" stroke="#E6E6E6" stroke-width="0.7"/>
<line x1="184.4" y1="189.2" x2="184.4" y2="247" stroke="#E6E6E6" stroke-width="0.7"/>
<line x1="194.9" y1="189.2" x2="194.9" y2="247" stroke="#E6E6E6" stroke-width="0.7"/>
<line x1="205.6" y1="189.2" x2="205.6" y2="247" stroke="#E6E6E6" stroke-width="0.7"/>
<line x1="216.2" y1="189.2" x2="216.2" y2="247" stroke="#E6E6E6" stroke-width="0.7"/>
<line x1="226.8" y1="189.2" x2="226.8" y2="247" stroke="#E6E6E6" stroke-width="0.7"/>
<rect x="182.7" y="189.2" width="50" height="57.8" fill="none" stroke="#6e6e6e" stroke-width="0.7"/>
<rect x="182.7" y="177" width="50" height="12.2" fill="#D9D9D9" stroke="#6e6e6e" stroke-width="0.7"/>
<text class="s" x="207.7" y="185.48" font-size="6.6" text-anchor="middle">Oligo</text>
<line x1="184.4" y1="247" x2="184.4" y2="248.6" stroke="#555" stroke-width="0.5"/>
<text class="s" x="184.4" y="255.4" font-size="6.2" text-anchor="middle" fill="#4d4d4d">0</text>
<line x1="194.9" y1="247" x2="194.9" y2="248.6" stroke="#555" stroke-width="0.5"/>
<text class="s" x="194.9" y="255.4" font-size="6.2" text-anchor="middle" fill="#4d4d4d">5</text>
<line x1="205.6" y1="247" x2="205.6" y2="248.6" stroke="#555" stroke-width="0.5"/>
<text class="s" x="205.6" y="255.4" font-size="6.2" text-anchor="middle" fill="#4d4d4d">10</text>
<line x1="216.2" y1="247" x2="216.2" y2="248.6" stroke="#555" stroke-width="0.5"/>
<text class="s" x="216.2" y="255.4" font-size="6.2" text-anchor="middle" fill="#4d4d4d">15</text>
<line x1="226.8" y1="247" x2="226.8" y2="248.6" stroke="#555" stroke-width="0.5"/>
<text class="s" x="226.8" y="255.4" font-size="6.2" text-anchor="middle" fill="#4d4d4d">20</text>
<rect x="236.4" y="189.2" width="50" height="57.8" fill="#FFFFFF"/>
<line x1="236.4" y1="194.05" x2="286.4" y2="194.05" stroke="#F2F2F2" stroke-width="0.5"/>
<line x1="236.4" y1="210.95" x2="286.4" y2="210.95" stroke="#F2F2F2" stroke-width="0.5"/>
<line x1="236.4" y1="227.8" x2="286.4" y2="227.8" stroke="#F2F2F2" stroke-width="0.5"/>
<line x1="236.4" y1="244.65" x2="286.4" y2="244.65" stroke="#F2F2F2" stroke-width="0.5"/>
<line x1="243.1" y1="189.2" x2="243.1" y2="247" stroke="#F2F2F2" stroke-width="0.5"/>
<line x1="252.9" y1="189.2" x2="252.9" y2="247" stroke="#F2F2F2" stroke-width="0.5"/>
<line x1="262.6" y1="189.2" x2="262.6" y2="247" stroke="#F2F2F2" stroke-width="0.5"/>
<line x1="272.3" y1="189.2" x2="272.3" y2="247" stroke="#F2F2F2" stroke-width="0.5"/>
<line x1="282" y1="189.2" x2="282" y2="247" stroke="#F2F2F2" stroke-width="0.5"/>
<line x1="236.4" y1="202.5" x2="286.4" y2="202.5" stroke="#E6E6E6" stroke-width="0.7"/>
<line x1="236.4" y1="219.4" x2="286.4" y2="219.4" stroke="#E6E6E6" stroke-width="0.7"/>
<line x1="236.4" y1="236.2" x2="286.4" y2="236.2" stroke="#E6E6E6" stroke-width="0.7"/>
<line x1="238.2" y1="189.2" x2="238.2" y2="247" stroke="#E6E6E6" stroke-width="0.7"/>
<line x1="248" y1="189.2" x2="248" y2="247" stroke="#E6E6E6" stroke-width="0.7"/>
<line x1="257.7" y1="189.2" x2="257.7" y2="247" stroke="#E6E6E6" stroke-width="0.7"/>
<line x1="267.4" y1="189.2" x2="267.4" y2="247" stroke="#E6E6E6" stroke-width="0.7"/>
<line x1="277.1" y1="189.2" x2="277.1" y2="247" stroke="#E6E6E6" stroke-width="0.7"/>
<rect x="236.4" y="189.2" width="50" height="57.8" fill="none" stroke="#6e6e6e" stroke-width="0.7"/>
<rect x="236.4" y="177" width="50" height="12.2" fill="#D9D9D9" stroke="#6e6e6e" stroke-width="0.7"/>
<text class="s" x="261.4" y="185.48" font-size="6.6" text-anchor="middle">OPC</text>
<line x1="238.2" y1="247" x2="238.2" y2="248.6" stroke="#555" stroke-width="0.5"/>
<text class="s" x="238.2" y="255.4" font-size="6.2" text-anchor="middle" fill="#4d4d4d">0</text>
<line x1="248" y1="247" x2="248" y2="248.6" stroke="#555" stroke-width="0.5"/>
<text class="s" x="248" y="255.4" font-size="6.2" text-anchor="middle" fill="#4d4d4d">10</text>
<line x1="257.7" y1="247" x2="257.7" y2="248.6" stroke="#555" stroke-width="0.5"/>
<text class="s" x="257.7" y="255.4" font-size="6.2" text-anchor="middle" fill="#4d4d4d">20</text>
<line x1="267.4" y1="247" x2="267.4" y2="248.6" stroke="#555" stroke-width="0.5"/>
<text class="s" x="267.4" y="255.4" font-size="6.2" text-anchor="middle" fill="#4d4d4d">30</text>
<line x1="277.1" y1="247" x2="277.1" y2="248.6" stroke="#555" stroke-width="0.5"/>
<text class="s" x="277.1" y="255.4" font-size="6.2" text-anchor="middle" fill="#4d4d4d">40</text>
<rect x="290.1" y="189.2" width="50" height="57.8" fill="#FFFFFF"/>
<line x1="290.1" y1="194.05" x2="340.1" y2="194.05" stroke="#F2F2F2" stroke-width="0.5"/>
<line x1="290.1" y1="210.95" x2="340.1" y2="210.95" stroke="#F2F2F2" stroke-width="0.5"/>
<line x1="290.1" y1="227.8" x2="340.1" y2="227.8" stroke="#F2F2F2" stroke-width="0.5"/>
<line x1="290.1" y1="244.65" x2="340.1" y2="244.65" stroke="#F2F2F2" stroke-width="0.5"/>
<line x1="299" y1="189.2" x2="299" y2="247" stroke="#F2F2F2" stroke-width="0.5"/>
<line x1="313.4" y1="189.2" x2="313.4" y2="247" stroke="#F2F2F2" stroke-width="0.5"/>
<line x1="327.7" y1="189.2" x2="327.7" y2="247" stroke="#F2F2F2" stroke-width="0.5"/>
<line x1="290.1" y1="202.5" x2="340.1" y2="202.5" stroke="#E6E6E6" stroke-width="0.7"/>
<line x1="290.1" y1="219.4" x2="340.1" y2="219.4" stroke="#E6E6E6" stroke-width="0.7"/>
<line x1="290.1" y1="236.2" x2="340.1" y2="236.2" stroke="#E6E6E6" stroke-width="0.7"/>
<line x1="291.8" y1="189.2" x2="291.8" y2="247" stroke="#E6E6E6" stroke-width="0.7"/>
<line x1="306.2" y1="189.2" x2="306.2" y2="247" stroke="#E6E6E6" stroke-width="0.7"/>
<line x1="320.5" y1="189.2" x2="320.5" y2="247" stroke="#E6E6E6" stroke-width="0.7"/>
<line x1="334.9" y1="189.2" x2="334.9" y2="247" stroke="#E6E6E6" stroke-width="0.7"/>
<rect x="290.1" y="189.2" width="50" height="57.8" fill="none" stroke="#6e6e6e" stroke-width="0.7"/>
<rect x="290.1" y="177" width="50" height="12.2" fill="#D9D9D9" stroke="#6e6e6e" stroke-width="0.7"/>
<text class="s" x="315.1" y="185.48" font-size="6.6" text-anchor="middle">Excit</text>
<line x1="291.8" y1="247" x2="291.8" y2="248.6" stroke="#555" stroke-width="0.5"/>
<text class="s" x="291.8" y="255.4" font-size="6.2" text-anchor="middle" fill="#4d4d4d">0</text>
<line x1="306.2" y1="247" x2="306.2" y2="248.6" stroke="#555" stroke-width="0.5"/>
<text class="s" x="306.2" y="255.4" font-size="6.2" text-anchor="middle" fill="#4d4d4d">5</text>
<line x1="320.5" y1="247" x2="320.5" y2="248.6" stroke="#555" stroke-width="0.5"/>
<text class="s" x="320.5" y="255.4" font-size="6.2" text-anchor="middle" fill="#4d4d4d">10</text>
<line x1="334.9" y1="247" x2="334.9" y2="248.6" stroke="#555" stroke-width="0.5"/>
<text class="s" x="334.9" y="255.4" font-size="6.2" text-anchor="middle" fill="#4d4d4d">15</text>
<rect x="343.8" y="189.2" width="50" height="57.8" fill="#FFFFFF"/>
<line x1="343.8" y1="194.05" x2="393.8" y2="194.05" stroke="#F2F2F2" stroke-width="0.5"/>
<line x1="343.8" y1="210.95" x2="393.8" y2="210.95" stroke="#F2F2F2" stroke-width="0.5"/>
<line x1="343.8" y1="227.8" x2="393.8" y2="227.8" stroke="#F2F2F2" stroke-width="0.5"/>
<line x1="343.8" y1="244.65" x2="393.8" y2="244.65" stroke="#F2F2F2" stroke-width="0.5"/>
<line x1="352.15" y1="189.2" x2="352.15" y2="247" stroke="#F2F2F2" stroke-width="0.5"/>
<line x1="364.65" y1="189.2" x2="364.65" y2="247" stroke="#F2F2F2" stroke-width="0.5"/>
<line x1="377.15" y1="189.2" x2="377.15" y2="247" stroke="#F2F2F2" stroke-width="0.5"/>
<line x1="389.75" y1="189.2" x2="389.75" y2="247" stroke="#F2F2F2" stroke-width="0.5"/>
<line x1="343.8" y1="202.5" x2="393.8" y2="202.5" stroke="#E6E6E6" stroke-width="0.7"/>
<line x1="343.8" y1="219.4" x2="393.8" y2="219.4" stroke="#E6E6E6" stroke-width="0.7"/>
<line x1="343.8" y1="236.2" x2="393.8" y2="236.2" stroke="#E6E6E6" stroke-width="0.7"/>
<line x1="345.9" y1="189.2" x2="345.9" y2="247" stroke="#E6E6E6" stroke-width="0.7"/>
<line x1="358.4" y1="189.2" x2="358.4" y2="247" stroke="#E6E6E6" stroke-width="0.7"/>
<line x1="370.9" y1="189.2" x2="370.9" y2="247" stroke="#E6E6E6" stroke-width="0.7"/>
<line x1="383.5" y1="189.2" x2="383.5" y2="247" stroke="#E6E6E6" stroke-width="0.7"/>
<rect x="343.8" y="189.2" width="50" height="57.8" fill="none" stroke="#6e6e6e" stroke-width="0.7"/>
<rect x="343.8" y="177" width="50" height="12.2" fill="#D9D9D9" stroke="#6e6e6e" stroke-width="0.7"/>
<text class="s" x="368.8" y="185.48" font-size="6.6" text-anchor="middle">Inhib</text>
<line x1="345.9" y1="247" x2="345.9" y2="248.6" stroke="#555" stroke-width="0.5"/>
<text class="s" x="345.9" y="255.4" font-size="6.2" text-anchor="middle" fill="#4d4d4d">0</text>
<line x1="358.4" y1="247" x2="358.4" y2="248.6" stroke="#555" stroke-width="0.5"/>
<text class="s" x="358.4" y="255.4" font-size="6.2" text-anchor="middle" fill="#4d4d4d">5</text>
<line x1="370.9" y1="247" x2="370.9" y2="248.6" stroke="#555" stroke-width="0.5"/>
<text class="s" x="370.9" y="255.4" font-size="6.2" text-anchor="middle" fill="#4d4d4d">10</text>
<line x1="383.5" y1="247" x2="383.5" y2="248.6" stroke="#555" stroke-width="0.5"/>
<text class="s" x="383.5" y="255.4" font-size="6.2" text-anchor="middle" fill="#4d4d4d">15</text>
<line x1="19.9" y1="202.5" x2="21.6" y2="202.5" stroke="#555" stroke-width="0.5"/>
<text class="s" x="18.8" y="204.7" font-size="6.2" text-anchor="end" fill="#4d4d4d">4</text>
<line x1="19.9" y1="219.4" x2="21.6" y2="219.4" stroke="#555" stroke-width="0.5"/>
<text class="s" x="18.8" y="221.6" font-size="6.2" text-anchor="end" fill="#4d4d4d">2</text>
<line x1="19.9" y1="236.2" x2="21.6" y2="236.2" stroke="#555" stroke-width="0.5"/>
<text class="s" x="18.8" y="238.4" font-size="6.2" text-anchor="end" fill="#4d4d4d">0</text>
<text class="s" x="11.8" y="218" font-size="7.6" text-anchor="middle" transform="rotate(-90 11.8 218)">1vALL Standard logFC</text>
<text class="s" x="207.8" y="264.4" font-size="7.6" text-anchor="middle">Mean Ratio</text>
<text class="s" x="404.8" y="207.2" font-size="7.6">top25</text>
<circle cx="410.9" cy="218.2" r="1.7" fill="#F8766D"/>
<circle cx="410.9" cy="229.7" r="1.7" fill="#00BFC4" fill-opacity="0.75"/>
<text class="s" x="420.7" y="220.3" font-size="6.2">FALSE</text>
<text class="s" x="420.7" y="231.9" font-size="6.2">TRUE</text>
<path d="M22.3 244.8 L22.4 226 L23.5 218.5 L26 216.3 L30 215.8 L33 215.3 L36.5 215.3 L37.2 219 L35.5 224 L34 229 L31 234 L28 240 L25.5 244.8 Z" fill="#F8766D"/>
<circle cx="22.34" cy="244.97" r="1.2" fill="#F8766D"/>
<circle cx="22.18" cy="235.41" r="1.2" fill="#F8766D"/>
<circle cx="22.71" cy="226.32" r="1.2" fill="#F8766D"/>
<circle cx="22.65" cy="222.02" r="1.2" fill="#F8766D"/>
<circle cx="23.14" cy="218.45" r="1.2" fill="#F8766D"/>
<circle cx="24.37" cy="217.37" r="1.2" fill="#F8766D"/>
<circle cx="26.12" cy="216.12" r="1.2" fill="#F8766D"/>
<circle cx="28.14" cy="216.12" r="1.2" fill="#F8766D"/>
<circle cx="29.62" cy="215.85" r="1.2" fill="#F8766D"/>
<circle cx="31.31" cy="215.48" r="1.2" fill="#F8766D"/>
<circle cx="32.83" cy="215.45" r="1.2" fill="#F8766D"/>
<circle cx="34.7" cy="215.03" r="1.2" fill="#F8766D"/>
<circle cx="36.54" cy="215.52" r="1.2" fill="#F8766D"/>
<circle cx="36.7" cy="216.93" r="1.2" fill="#F8766D"/>
<circle cx="37.11" cy="219.35" r="1.2" fill="#F8766D"/>
<circle cx="36.73" cy="221.64" r="1.2" fill="#F8766D"/>
<circle cx="35.82" cy="224.28" r="1.2" fill="#F8766D"/>
<circle cx="34.65" cy="226.17" r="1.2" fill="#F8766D"/>
<circle cx="34.12" cy="229.05" r="1.2" fill="#F8766D"/>
<circle cx="32.39" cy="231.28" r="1.2" fill="#F8766D"/>
<circle cx="30.93" cy="233.98" r="1.2" fill="#F8766D"/>
<circle cx="29.32" cy="236.83" r="1.2" fill="#F8766D"/>
<circle cx="27.97" cy="240.29" r="1.2" fill="#F8766D"/>
<circle cx="26.82" cy="242.23" r="1.2" fill="#F8766D"/>
<circle cx="38.5" cy="219.5" r="1.75" fill="#00BFC4" fill-opacity="0.55"/>
<circle cx="40" cy="218" r="1.75" fill="#00BFC4" fill-opacity="0.55"/>
<circle cx="42" cy="222" r="1.75" fill="#00BFC4" fill-opacity="0.55"/>
<circle cx="44" cy="217" r="1.75" fill="#00BFC4" fill-opacity="0.55"/>
<circle cx="45.5" cy="222" r="1.75" fill="#00BFC4" fill-opacity="0.55"/>
<circle cx="47" cy="222.5" r="1.75" fill="#00BFC4" fill-opacity="0.55"/>
<circle cx="44.5" cy="228.5" r="1.75" fill="#00BFC4" fill-opacity="0.55"/>
<circle cx="46.5" cy="229" r="1.75" fill="#00BFC4" fill-opacity="0.55"/>
<circle cx="43" cy="226" r="1.75" fill="#00BFC4" fill-opacity="0.55"/>
<circle cx="40" cy="228" r="1.75" fill="#00BFC4" fill-opacity="0.55"/>
<circle cx="39" cy="225" r="1.75" fill="#00BFC4" fill-opacity="0.55"/>
<circle cx="49" cy="216.5" r="1.75" fill="#00BFC4" fill-opacity="0.55"/>
<circle cx="51.5" cy="224" r="1.75" fill="#00BFC4" fill-opacity="0.55"/>
<circle cx="53" cy="224" r="1.75" fill="#00BFC4" fill-opacity="0.55"/>
<circle cx="51" cy="219" r="1.75" fill="#00BFC4" fill-opacity="0.55"/>
<circle cx="53.5" cy="217" r="1.75" fill="#00BFC4" fill-opacity="0.55"/>
<circle cx="56" cy="221" r="1.75" fill="#00BFC4" fill-opacity="0.55"/>
<circle cx="58" cy="223" r="1.75" fill="#00BFC4" fill-opacity="0.55"/>
<circle cx="60.5" cy="222" r="1.75" fill="#00BFC4" fill-opacity="0.55"/>
<circle cx="64" cy="220" r="1.75" fill="#00BFC4" fill-opacity="0.55"/>
<circle cx="70" cy="216.5" r="1.75" fill="#00BFC4" fill-opacity="0.55"/>
<circle cx="39.5" cy="221" r="1.75" fill="#00BFC4" fill-opacity="0.55"/>
<circle cx="41" cy="230.5" r="1.75" fill="#00BFC4" fill-opacity="0.55"/>
<circle cx="42.5" cy="231.5" r="1.75" fill="#00BFC4" fill-opacity="0.55"/>
<circle cx="44" cy="232.5" r="1.75" fill="#00BFC4" fill-opacity="0.55"/>
<path d="M76.3 244.8 L76.2 215 L77 208.3 L79 206.8 L82 207.3 L82.9 210 L82.5 216 L81.2 225 L80.2 235 L79 244.8 Z" fill="#F8766D"/>
<circle cx="76.12" cy="244.76" r="1.2" fill="#F8766D"/>
<circle cx="76.01" cy="229.66" r="1.2" fill="#F8766D"/>
<circle cx="76.21" cy="214.67" r="1.2" fill="#F8766D"/>
<circle cx="76.59" cy="211.54" r="1.2" fill="#F8766D"/>
<circle cx="77.17" cy="208.5" r="1.2" fill="#F8766D"/>
<circle cx="78.15" cy="207.7" r="1.2" fill="#F8766D"/>
<circle cx="78.9" cy="206.93" r="1.2" fill="#F8766D"/>
<circle cx="80.37" cy="207.11" r="1.2" fill="#F8766D"/>
<circle cx="81.86" cy="207.26" r="1.2" fill="#F8766D"/>
<circle cx="82.1" cy="208.44" r="1.2" fill="#F8766D"/>
<circle cx="83.28" cy="209.78" r="1.2" fill="#F8766D"/>
<circle cx="82.85" cy="213.12" r="1.2" fill="#F8766D"/>
<circle cx="82.68" cy="215.98" r="1.2" fill="#F8766D"/>
<circle cx="81.93" cy="220.15" r="1.2" fill="#F8766D"/>
<circle cx="80.86" cy="224.76" r="1.2" fill="#F8766D"/>
<circle cx="80.42" cy="229.68" r="1.2" fill="#F8766D"/>
<circle cx="79.9" cy="235.04" r="1.2" fill="#F8766D"/>
<circle cx="79.35" cy="240.26" r="1.2" fill="#F8766D"/>
<circle cx="83.5" cy="212.5" r="1.75" fill="#00BFC4" fill-opacity="0.55"/>
<circle cx="84" cy="215" r="1.75" fill="#00BFC4" fill-opacity="0.55"/>
<circle cx="85" cy="218" r="1.75" fill="#00BFC4" fill-opacity="0.55"/>
<circle cx="86" cy="221" r="1.75" fill="#00BFC4" fill-opacity="0.55"/>
<circle cx="87" cy="219" r="1.75" fill="#00BFC4" fill-opacity="0.55"/>
<circle cx="84.5" cy="222" r="1.75" fill="#00BFC4" fill-opacity="0.55"/>
<circle cx="88" cy="216" r="1.75" fill="#00BFC4" fill-opacity="0.55"/>
<circle cx="90" cy="214" r="1.75" fill="#00BFC4" fill-opacity="0.55"/>
<circle cx="92" cy="212.5" r="1.75" fill="#00BFC4" fill-opacity="0.55"/>
<circle cx="94" cy="213" r="1.75" fill="#00BFC4" fill-opacity="0.55"/>
<circle cx="95" cy="215" r="1.75" fill="#00BFC4" fill-opacity="0.55"/>
<circle cx="96.5" cy="212" r="1.75" fill="#00BFC4" fill-opacity="0.55"/>
<circle cx="98" cy="211" r="1.75" fill="#00BFC4" fill-opacity="0.55"/>
<circle cx="99" cy="210" r="1.75" fill="#00BFC4" fill-opacity="0.55"/>
<circle cx="100" cy="212.5" r="1.75" fill="#00BFC4" fill-opacity="0.55"/>
<circle cx="92.5" cy="217" r="1.75" fill="#00BFC4" fill-opacity="0.55"/>
<circle cx="94" cy="218" r="1.75" fill="#00BFC4" fill-opacity="0.55"/>
<circle cx="89" cy="219.5" r="1.75" fill="#00BFC4" fill-opacity="0.55"/>
<circle cx="103.5" cy="202.6" r="1.75" fill="#00BFC4" fill-opacity="0.55"/>
<circle cx="123" cy="209.7" r="1.75" fill="#00BFC4" fill-opacity="0.55"/>
<circle cx="85" cy="225" r="1.75" fill="#00BFC4" fill-opacity="0.55"/>
<path d="M129.6 244.8 L129.5 215 L130.5 211.8 L133 210.8 L136 211.3 L136.6 216 L135.5 222 L134.5 230 L133 238 L132 244.8 Z" fill="#F8766D"/>
<circle cx="129.75" cy="244.83" r="1.2" fill="#F8766D"/>
<circle cx="129.72" cy="229.71" r="1.2" fill="#F8766D"/>
<circle cx="129.84" cy="215.27" r="1.2" fill="#F8766D"/>
<circle cx="130.18" cy="213.38" r="1.2" fill="#F8766D"/>
<circle cx="130.77" cy="212" r="1.2" fill="#F8766D"/>
<circle cx="131.88" cy="211.63" r="1.2" fill="#F8766D"/>
<circle cx="133.11" cy="210.69" r="1.2" fill="#F8766D"/>
<circle cx="134.54" cy="210.81" r="1.2" fill="#F8766D"/>
<circle cx="135.75" cy="211.48" r="1.2" fill="#F8766D"/>
<circle cx="136.53" cy="214.03" r="1.2" fill="#F8766D"/>
<circle cx="136.88" cy="216.03" r="1.2" fill="#F8766D"/>
<circle cx="135.72" cy="218.99" r="1.2" fill="#F8766D"/>
<circle cx="135.84" cy="222.23" r="1.2" fill="#F8766D"/>
<circle cx="134.99" cy="225.96" r="1.2" fill="#F8766D"/>
<circle cx="134.27" cy="229.74" r="1.2" fill="#F8766D"/>
<circle cx="133.41" cy="234.31" r="1.2" fill="#F8766D"/>
<circle cx="133.11" cy="237.71" r="1.2" fill="#F8766D"/>
<circle cx="132.43" cy="241.04" r="1.2" fill="#F8766D"/>
<circle cx="136.5" cy="198.8" r="1.4" fill="#F8766D" fill-opacity="0.85"/>
<circle cx="138.5" cy="201.5" r="1.4" fill="#F8766D" fill-opacity="0.85"/>
<circle cx="134.5" cy="204.2" r="1.4" fill="#F8766D" fill-opacity="0.85"/>
<circle cx="137" cy="207" r="1.4" fill="#F8766D" fill-opacity="0.85"/>
<circle cx="135" cy="209" r="1.4" fill="#F8766D" fill-opacity="0.85"/>
<circle cx="140" cy="191.5" r="1.75" fill="#00BFC4" fill-opacity="0.55"/>
<circle cx="145" cy="193" r="1.75" fill="#00BFC4" fill-opacity="0.55"/>
<circle cx="149" cy="196" r="1.75" fill="#00BFC4" fill-opacity="0.55"/>
<circle cx="140" cy="198.5" r="1.75" fill="#00BFC4" fill-opacity="0.55"/>
<circle cx="143" cy="201.5" r="1.75" fill="#00BFC4" fill-opacity="0.55"/>
<circle cx="139" cy="205" r="1.75" fill="#00BFC4" fill-opacity="0.55"/>
<circle cx="141.5" cy="210" r="1.75" fill="#00BFC4" fill-opacity="0.55"/>
<circle cx="144" cy="212.5" r="1.75" fill="#00BFC4" fill-opacity="0.55"/>
<circle cx="145.5" cy="205" r="1.75" fill="#00BFC4" fill-opacity="0.55"/>
<circle cx="146" cy="209" r="1.75" fill="#00BFC4" fill-opacity="0.55"/>
<circle cx="150" cy="195" r="1.75" fill="#00BFC4" fill-opacity="0.55"/>
<circle cx="154.5" cy="197" r="1.75" fill="#00BFC4" fill-opacity="0.55"/>
<circle cx="157" cy="201" r="1.75" fill="#00BFC4" fill-opacity="0.55"/>
<circle cx="156" cy="204" r="1.75" fill="#00BFC4" fill-opacity="0.55"/>
<circle cx="163" cy="203" r="1.75" fill="#00BFC4" fill-opacity="0.55"/>
<circle cx="166" cy="200" r="1.75" fill="#00BFC4" fill-opacity="0.55"/>
<circle cx="169" cy="205.5" r="1.75" fill="#00BFC4" fill-opacity="0.55"/>
<circle cx="172.5" cy="201" r="1.75" fill="#00BFC4" fill-opacity="0.55"/>
<circle cx="177.5" cy="203" r="1.75" fill="#00BFC4" fill-opacity="0.55"/>
<circle cx="177.5" cy="206.5" r="1.75" fill="#00BFC4" fill-opacity="0.55"/>
<circle cx="139.5" cy="216" r="1.75" fill="#00BFC4" fill-opacity="0.55"/>
<circle cx="142" cy="218" r="1.75" fill="#00BFC4" fill-opacity="0.55"/>
<circle cx="144" cy="219.5" r="1.75" fill="#00BFC4" fill-opacity="0.55"/>
<circle cx="137" cy="220" r="1.75" fill="#00BFC4" fill-opacity="0.55"/>
<circle cx="138" cy="223" r="1.75" fill="#00BFC4" fill-opacity="0.55"/>
<path d="M183.3 244.8 L183.5 232 L185 226 L187.5 222 L191 219.8 L195 218.8 L197.5 219.3 L197.7 224 L196 228 L194 231 L191 234 L188.5 238 L186.5 244.8 Z" fill="#F8766D"/>
<circle cx="183.07" cy="244.98" r="1.2" fill="#F8766D"/>
<circle cx="183.52" cy="238.38" r="1.2" fill="#F8766D"/>
<circle cx="183.32" cy="232.12" r="1.2" fill="#F8766D"/>
<circle cx="184.62" cy="228.95" r="1.2" fill="#F8766D"/>
<circle cx="184.66" cy="225.65" r="1.2" fill="#F8766D"/>
<circle cx="185.92" cy="224.37" r="1.2" fill="#F8766D"/>
<circle cx="187.53" cy="222.27" r="1.2" fill="#F8766D"/>
<circle cx="188.99" cy="220.71" r="1.2" fill="#F8766D"/>
<circle cx="191.15" cy="220.12" r="1.2" fill="#F8766D"/>
<circle cx="192.87" cy="218.95" r="1.2" fill="#F8766D"/>
<circle cx="195.29" cy="218.63" r="1.2" fill="#F8766D"/>
<circle cx="196.44" cy="218.78" r="1.2" fill="#F8766D"/>
<circle cx="197.66" cy="219.57" r="1.2" fill="#F8766D"/>
<circle cx="197.78" cy="221.54" r="1.2" fill="#F8766D"/>
<circle cx="197.88" cy="223.71" r="1.2" fill="#F8766D"/>
<circle cx="196.7" cy="225.94" r="1.2" fill="#F8766D"/>
<circle cx="196.3" cy="227.72" r="1.2" fill="#F8766D"/>
<circle cx="195.3" cy="229.74" r="1.2" fill="#F8766D"/>
<circle cx="194.38" cy="230.89" r="1.2" fill="#F8766D"/>
<circle cx="192.26" cy="232.29" r="1.2" fill="#F8766D"/>
<circle cx="191.26" cy="234.37" r="1.2" fill="#F8766D"/>
<circle cx="189.91" cy="235.99" r="1.2" fill="#F8766D"/>
<circle cx="188.33" cy="238.27" r="1.2" fill="#F8766D"/>
<circle cx="187.8" cy="241.07" r="1.2" fill="#F8766D"/>
<circle cx="199" cy="222.5" r="1.75" fill="#00BFC4" fill-opacity="0.55"/>
<circle cx="201" cy="223" r="1.75" fill="#00BFC4" fill-opacity="0.55"/>
<circle cx="203" cy="225" r="1.75" fill="#00BFC4" fill-opacity="0.55"/>
<circle cx="204" cy="222" r="1.75" fill="#00BFC4" fill-opacity="0.55"/>
<circle cx="206" cy="221.5" r="1.75" fill="#00BFC4" fill-opacity="0.55"/>
<circle cx="207" cy="223.5" r="1.75" fill="#00BFC4" fill-opacity="0.55"/>
<circle cx="209" cy="225" r="1.75" fill="#00BFC4" fill-opacity="0.55"/>
<circle cx="211" cy="224" r="1.75" fill="#00BFC4" fill-opacity="0.55"/>
<circle cx="213" cy="221.5" r="1.75" fill="#00BFC4" fill-opacity="0.55"/>
<circle cx="214.5" cy="224" r="1.75" fill="#00BFC4" fill-opacity="0.55"/>
<circle cx="216" cy="226" r="1.75" fill="#00BFC4" fill-opacity="0.55"/>
<circle cx="218" cy="225" r="1.75" fill="#00BFC4" fill-opacity="0.55"/>
<circle cx="220" cy="227" r="1.75" fill="#00BFC4" fill-opacity="0.55"/>
<circle cx="223" cy="223" r="1.75" fill="#00BFC4" fill-opacity="0.55"/>
<circle cx="227" cy="224" r="1.75" fill="#00BFC4" fill-opacity="0.55"/>
<circle cx="231.5" cy="223.5" r="1.75" fill="#00BFC4" fill-opacity="0.55"/>
<circle cx="199" cy="227" r="1.75" fill="#00BFC4" fill-opacity="0.55"/>
<circle cx="201.5" cy="229" r="1.75" fill="#00BFC4" fill-opacity="0.55"/>
<circle cx="204.5" cy="228.5" r="1.75" fill="#00BFC4" fill-opacity="0.55"/>
<circle cx="206" cy="230" r="1.75" fill="#00BFC4" fill-opacity="0.55"/>
<path d="M237 244.8 L237 220 L238 214.8 L240 213.8 L242.2 215.3 L242.6 222 L242.2 230 L241.2 238 L240.2 244.8 Z" fill="#F8766D"/>
<circle cx="236.77" cy="245.07" r="1.2" fill="#F8766D"/>
<circle cx="237.28" cy="232.25" r="1.2" fill="#F8766D"/>
<circle cx="236.82" cy="219.94" r="1.2" fill="#F8766D"/>
<circle cx="237.53" cy="217.08" r="1.2" fill="#F8766D"/>
<circle cx="238.27" cy="214.83" r="1.2" fill="#F8766D"/>
<circle cx="239.22" cy="214.08" r="1.2" fill="#F8766D"/>
<circle cx="240.37" cy="214" r="1.2" fill="#F8766D"/>
<circle cx="240.97" cy="214.91" r="1.2" fill="#F8766D"/>
<circle cx="242.36" cy="215.57" r="1.2" fill="#F8766D"/>
<circle cx="242.04" cy="218.29" r="1.2" fill="#F8766D"/>
<circle cx="242.79" cy="221.84" r="1.2" fill="#F8766D"/>
<circle cx="242.41" cy="225.73" r="1.2" fill="#F8766D"/>
<circle cx="242.58" cy="230" r="1.2" fill="#F8766D"/>
<circle cx="241.96" cy="233.66" r="1.2" fill="#F8766D"/>
<circle cx="241.18" cy="237.65" r="1.2" fill="#F8766D"/>
<circle cx="241.01" cy="241.36" r="1.2" fill="#F8766D"/>
<circle cx="240.2" cy="203.5" r="1.4" fill="#F8766D" fill-opacity="0.85"/>
<circle cx="240.5" cy="209.5" r="1.4" fill="#F8766D" fill-opacity="0.85"/>
<circle cx="244" cy="195" r="1.75" fill="#00BFC4" fill-opacity="0.55"/>
<circle cx="245" cy="200.5" r="1.75" fill="#00BFC4" fill-opacity="0.55"/>
<circle cx="244.5" cy="202" r="1.75" fill="#00BFC4" fill-opacity="0.55"/>
<circle cx="244.5" cy="206.5" r="1.75" fill="#00BFC4" fill-opacity="0.55"/>
<circle cx="242" cy="212" r="1.75" fill="#00BFC4" fill-opacity="0.55"/>
<circle cx="244" cy="213" r="1.75" fill="#00BFC4" fill-opacity="0.55"/>
<circle cx="246" cy="219" r="1.75" fill="#00BFC4" fill-opacity="0.55"/>
<circle cx="248" cy="220" r="1.75" fill="#00BFC4" fill-opacity="0.55"/>
<circle cx="243.5" cy="223" r="1.75" fill="#00BFC4" fill-opacity="0.55"/>
<circle cx="245.5" cy="225" r="1.75" fill="#00BFC4" fill-opacity="0.55"/>
<circle cx="245" cy="228" r="1.75" fill="#00BFC4" fill-opacity="0.55"/>
<circle cx="251" cy="210" r="1.75" fill="#00BFC4" fill-opacity="0.55"/>
<circle cx="253" cy="202.5" r="1.75" fill="#00BFC4" fill-opacity="0.55"/>
<circle cx="254" cy="205" r="1.75" fill="#00BFC4" fill-opacity="0.55"/>
<circle cx="257" cy="203" r="1.75" fill="#00BFC4" fill-opacity="0.55"/>
<circle cx="255.5" cy="196.5" r="1.75" fill="#00BFC4" fill-opacity="0.55"/>
<circle cx="277" cy="202.5" r="1.75" fill="#00BFC4" fill-opacity="0.55"/>
<circle cx="283" cy="199" r="1.75" fill="#00BFC4" fill-opacity="0.55"/>
<circle cx="248.5" cy="217.5" r="1.75" fill="#00BFC4" fill-opacity="0.55"/>
<circle cx="249" cy="226" r="1.75" fill="#00BFC4" fill-opacity="0.55"/>
<path d="M290.8 244.8 L291 234 L292 229 L294 226 L297 224.6 L301 224.1 L304.7 224.3 L305.7 227 L305.2 230 L301 231.5 L297.5 233 L295 236 L293.5 240 L293 244.8 Z" fill="#F8766D"/>
<circle cx="290.45" cy="244.46" r="1.2" fill="#F8766D"/>
<circle cx="290.93" cy="239.06" r="1.2" fill="#F8766D"/>
<circle cx="290.75" cy="233.95" r="1.2" fill="#F8766D"/>
<circle cx="291.5" cy="231.57" r="1.2" fill="#F8766D"/>
<circle cx="292.1" cy="228.9" r="1.2" fill="#F8766D"/>
<circle cx="293.09" cy="227.23" r="1.2" fill="#F8766D"/>
<circle cx="293.82" cy="226.24" r="1.2" fill="#F8766D"/>
<circle cx="295.22" cy="225.08" r="1.2" fill="#F8766D"/>
<circle cx="296.79" cy="224.58" r="1.2" fill="#F8766D"/>
<circle cx="298.6" cy="223.97" r="1.2" fill="#F8766D"/>
<circle cx="300.97" cy="223.83" r="1.2" fill="#F8766D"/>
<circle cx="302.99" cy="224.44" r="1.2" fill="#F8766D"/>
<circle cx="304.76" cy="224.46" r="1.2" fill="#F8766D"/>
<circle cx="305.11" cy="225.29" r="1.2" fill="#F8766D"/>
<circle cx="305.65" cy="226.9" r="1.2" fill="#F8766D"/>
<circle cx="305.53" cy="228.21" r="1.2" fill="#F8766D"/>
<circle cx="304.98" cy="230.25" r="1.2" fill="#F8766D"/>
<circle cx="302.91" cy="230.68" r="1.2" fill="#F8766D"/>
<circle cx="301.35" cy="231.32" r="1.2" fill="#F8766D"/>
<circle cx="298.97" cy="232.41" r="1.2" fill="#F8766D"/>
<circle cx="297.55" cy="233.09" r="1.2" fill="#F8766D"/>
<circle cx="295.88" cy="234.43" r="1.2" fill="#F8766D"/>
<circle cx="294.6" cy="235.8" r="1.2" fill="#F8766D"/>
<circle cx="294.41" cy="237.65" r="1.2" fill="#F8766D"/>
<circle cx="293.34" cy="240.39" r="1.2" fill="#F8766D"/>
<circle cx="293.63" cy="242.39" r="1.2" fill="#F8766D"/>
<circle cx="305.5" cy="225" r="1.75" fill="#00BFC4" fill-opacity="0.55"/>
<circle cx="307" cy="226.5" r="1.75" fill="#00BFC4" fill-opacity="0.55"/>
<circle cx="309" cy="228" r="1.75" fill="#00BFC4" fill-opacity="0.55"/>
<circle cx="308" cy="230" r="1.75" fill="#00BFC4" fill-opacity="0.55"/>
<circle cx="311" cy="229" r="1.75" fill="#00BFC4" fill-opacity="0.55"/>
<circle cx="313" cy="227.5" r="1.75" fill="#00BFC4" fill-opacity="0.55"/>
<circle cx="315" cy="228" r="1.75" fill="#00BFC4" fill-opacity="0.55"/>
<circle cx="317" cy="228.5" r="1.75" fill="#00BFC4" fill-opacity="0.55"/>
<circle cx="319" cy="228" r="1.75" fill="#00BFC4" fill-opacity="0.55"/>
<circle cx="320.5" cy="229" r="1.75" fill="#00BFC4" fill-opacity="0.55"/>
<circle cx="323" cy="229" r="1.75" fill="#00BFC4" fill-opacity="0.55"/>
<circle cx="326" cy="229.5" r="1.75" fill="#00BFC4" fill-opacity="0.55"/>
<circle cx="307" cy="231.5" r="1.75" fill="#00BFC4" fill-opacity="0.55"/>
<circle cx="310" cy="232" r="1.75" fill="#00BFC4" fill-opacity="0.55"/>
<circle cx="337.5" cy="229.5" r="1.75" fill="#00BFC4" fill-opacity="0.55"/>
<path d="M344.5 244.8 L344.5 228 L345.5 223 L348 220.8 L352 220.3 L354.7 221.3 L355.7 226 L355.6 231 L353 236 L350 240 L347.5 244.8 Z" fill="#F8766D"/>
<circle cx="344.69" cy="244.91" r="1.2" fill="#F8766D"/>
<circle cx="344.47" cy="236.69" r="1.2" fill="#F8766D"/>
<circle cx="344.24" cy="228.26" r="1.2" fill="#F8766D"/>
<circle cx="344.63" cy="225.79" r="1.2" fill="#F8766D"/>
<circle cx="345.64" cy="222.96" r="1.2" fill="#F8766D"/>
<circle cx="346.89" cy="221.87" r="1.2" fill="#F8766D"/>
<circle cx="348.22" cy="220.49" r="1.2" fill="#F8766D"/>
<circle cx="350.01" cy="220.85" r="1.2" fill="#F8766D"/>
<circle cx="352.34" cy="220.08" r="1.2" fill="#F8766D"/>
<circle cx="353.15" cy="221.12" r="1.2" fill="#F8766D"/>
<circle cx="354.58" cy="220.95" r="1.2" fill="#F8766D"/>
<circle cx="355.37" cy="223.58" r="1.2" fill="#F8766D"/>
<circle cx="355.89" cy="225.98" r="1.2" fill="#F8766D"/>
<circle cx="355.65" cy="228.43" r="1.2" fill="#F8766D"/>
<circle cx="355.43" cy="231.32" r="1.2" fill="#F8766D"/>
<circle cx="354.44" cy="233.73" r="1.2" fill="#F8766D"/>
<circle cx="353.32" cy="235.8" r="1.2" fill="#F8766D"/>
<circle cx="351.84" cy="238.29" r="1.2" fill="#F8766D"/>
<circle cx="350" cy="240.05" r="1.2" fill="#F8766D"/>
<circle cx="348.44" cy="242.61" r="1.2" fill="#F8766D"/>
<circle cx="351.5" cy="218.2" r="1.4" fill="#F8766D" fill-opacity="0.85"/>
<circle cx="355" cy="224" r="1.75" fill="#00BFC4" fill-opacity="0.55"/>
<circle cx="356" cy="226" r="1.75" fill="#00BFC4" fill-opacity="0.55"/>
<circle cx="357.5" cy="227.5" r="1.75" fill="#00BFC4" fill-opacity="0.55"/>
<circle cx="359" cy="226" r="1.75" fill="#00BFC4" fill-opacity="0.55"/>
<circle cx="360.5" cy="227" r="1.75" fill="#00BFC4" fill-opacity="0.55"/>
<circle cx="362" cy="228.5" r="1.75" fill="#00BFC4" fill-opacity="0.55"/>
<circle cx="358" cy="229.5" r="1.75" fill="#00BFC4" fill-opacity="0.55"/>
<circle cx="355.5" cy="229" r="1.75" fill="#00BFC4" fill-opacity="0.55"/>
<circle cx="365" cy="222" r="1.75" fill="#00BFC4" fill-opacity="0.55"/>
<circle cx="366" cy="225.5" r="1.75" fill="#00BFC4" fill-opacity="0.55"/>
<circle cx="365" cy="227" r="1.75" fill="#00BFC4" fill-opacity="0.55"/>
<circle cx="373.5" cy="218.5" r="1.75" fill="#00BFC4" fill-opacity="0.55"/>
<circle cx="376.5" cy="224" r="1.75" fill="#00BFC4" fill-opacity="0.55"/>
<circle cx="381.5" cy="219.5" r="1.75" fill="#00BFC4" fill-opacity="0.55"/>
<circle cx="382.5" cy="226" r="1.75" fill="#00BFC4" fill-opacity="0.55"/>
<circle cx="374" cy="230" r="1.75" fill="#00BFC4" fill-opacity="0.55"/>
<circle cx="391.5" cy="225.5" r="1.75" fill="#00BFC4" fill-opacity="0.55"/>
<circle cx="357" cy="223" r="1.75" fill="#00BFC4" fill-opacity="0.55"/>
<text class="s" x="49.5" y="212.5" font-size="5" fill="#111">PRDM16</text>
<text class="s" x="93.9" y="199.5" font-size="5" fill="#111">ITIH5</text>
<text class="s" x="102.2" y="209.8" font-size="5" fill="#111">CARMN</text>
<text class="s" x="132.1" y="196.4" font-size="5" fill="#111">DOCK8</text>
<text class="s" x="151.8" y="213.5" font-size="5" fill="#111">LINC02712</text>
<text class="s" x="214.6" y="232.7" font-size="5" fill="#111">FOLH1</text>
<text class="s" x="243.7" y="195.7" font-size="5" fill="#111">VCAN</text>
<text class="s" x="257.5" y="197.1" font-size="5" fill="#111">AC004852.2</text>
<text class="s" x="311.1" y="238" font-size="5" fill="#111">AC008696.2</text>
<text class="s" x="349.8" y="214.8" font-size="5" fill="#111">GAD1</text>
<text class="s" x="374.9" y="235.3" font-size="5" fill="#111">MYO3B</text>
<line x1="387.6" y1="230.6" x2="391" y2="226.2" stroke="#111" stroke-width="0.5"/>
<text class="s" x="4" y="279.8" font-size="16.5" font-weight="bold" fill="#000">D</text>
<text class="s" x="31" y="278.7" font-size="8.5">Top Marker: 1vAll logFC</text>
<text class="s" x="31" y="368.3" font-size="8.45">Top Marker: Mean Ratio</text>
<text class="s" x="11.6" y="351" font-size="7.8" text-anchor="middle" transform="rotate(-90 11.6 351)">Expression (logcounts)</text>
<rect x="30.5" y="295.6" width="52.7" height="56.2" fill="#FFFFFF"/>
<line x1="30.5" y1="342.49" x2="83.2" y2="342.49" stroke="#F2F2F2" stroke-width="0.5"/>
<line x1="30.5" y1="328.26" x2="83.2" y2="328.26" stroke="#F2F2F2" stroke-width="0.5"/>
<line x1="30.5" y1="314.04" x2="83.2" y2="314.04" stroke="#F2F2F2" stroke-width="0.5"/>
<line x1="30.5" y1="299.81" x2="83.2" y2="299.81" stroke="#F2F2F2" stroke-width="0.5"/>
<line x1="30.5" y1="349.6" x2="83.2" y2="349.6" stroke="#E6E6E6" stroke-width="0.7"/>
<line x1="30.5" y1="335.38" x2="83.2" y2="335.38" stroke="#E6E6E6" stroke-width="0.7"/>
<line x1="30.5" y1="321.15" x2="83.2" y2="321.15" stroke="#E6E6E6" stroke-width="0.7"/>
<line x1="30.5" y1="306.93" x2="83.2" y2="306.93" stroke="#E6E6E6" stroke-width="0.7"/>
<line x1="35.1" y1="295.6" x2="35.1" y2="351.8" stroke="#E6E6E6" stroke-width="0.7"/>
<line x1="42.38" y1="295.6" x2="42.38" y2="351.8" stroke="#E6E6E6" stroke-width="0.7"/>
<line x1="49.66" y1="295.6" x2="49.66" y2="351.8" stroke="#E6E6E6" stroke-width="0.7"/>
<line x1="56.94" y1="295.6" x2="56.94" y2="351.8" stroke="#E6E6E6" stroke-width="0.7"/>
<line x1="64.22" y1="295.6" x2="64.22" y2="351.8" stroke="#E6E6E6" stroke-width="0.7"/>
<line x1="71.5" y1="295.6" x2="71.5" y2="351.8" stroke="#E6E6E6" stroke-width="0.7"/>
<line x1="78.78" y1="295.6" x2="78.78" y2="351.8" stroke="#E6E6E6" stroke-width="0.7"/>
<rect x="30.5" y="295.6" width="52.7" height="56.2" fill="none" stroke="#6e6e6e" stroke-width="0.7"/>
<rect x="30.5" y="284.3" width="52.7" height="11.3" fill="#D9D9D9" stroke="#6e6e6e" stroke-width="0.7"/>
<text class="s" x="56.85" y="292.11" font-size="6" text-anchor="middle" font-style="italic">PRDM16</text>
<line x1="35.1" y1="351.8" x2="35.1" y2="353.4" stroke="#555" stroke-width="0.5"/>
<line x1="42.38" y1="351.8" x2="42.38" y2="353.4" stroke="#555" stroke-width="0.5"/>
<line x1="49.66" y1="351.8" x2="49.66" y2="353.4" stroke="#555" stroke-width="0.5"/>
<line x1="56.94" y1="351.8" x2="56.94" y2="353.4" stroke="#555" stroke-width="0.5"/>
<line x1="64.22" y1="351.8" x2="64.22" y2="353.4" stroke="#555" stroke-width="0.5"/>
<line x1="71.5" y1="351.8" x2="71.5" y2="353.4" stroke="#555" stroke-width="0.5"/>
<line x1="78.78" y1="351.8" x2="78.78" y2="353.4" stroke="#555" stroke-width="0.5"/>
<rect x="86.8" y="295.6" width="52.7" height="56.2" fill="#FFFFFF"/>
<line x1="86.8" y1="342.49" x2="139.5" y2="342.49" stroke="#F2F2F2" stroke-width="0.5"/>
<line x1="86.8" y1="328.26" x2="139.5" y2="328.26" stroke="#F2F2F2" stroke-width="0.5"/>
<line x1="86.8" y1="314.04" x2="139.5" y2="314.04" stroke="#F2F2F2" stroke-width="0.5"/>
<line x1="86.8" y1="299.81" x2="139.5" y2="299.81" stroke="#F2F2F2" stroke-width="0.5"/>
<line x1="86.8" y1="349.6" x2="139.5" y2="349.6" stroke="#E6E6E6" stroke-width="0.7"/>
<line x1="86.8" y1="335.38" x2="139.5" y2="335.38" stroke="#E6E6E6" stroke-width="0.7"/>
<line x1="86.8" y1="321.15" x2="139.5" y2="321.15" stroke="#E6E6E6" stroke-width="0.7"/>
<line x1="86.8" y1="306.93" x2="139.5" y2="306.93" stroke="#E6E6E6" stroke-width="0.7"/>
<line x1="91.4" y1="295.6" x2="91.4" y2="351.8" stroke="#E6E6E6" stroke-width="0.7"/>
<line x1="98.68" y1="295.6" x2="98.68" y2="351.8" stroke="#E6E6E6" stroke-width="0.7"/>
<line x1="105.96" y1="295.6" x2="105.96" y2="351.8" stroke="#E6E6E6" stroke-width="0.7"/>
<line x1="113.24" y1="295.6" x2="113.24" y2="351.8" stroke="#E6E6E6" stroke-width="0.7"/>
<line x1="120.52" y1="295.6" x2="120.52" y2="351.8" stroke="#E6E6E6" stroke-width="0.7"/>
<line x1="127.8" y1="295.6" x2="127.8" y2="351.8" stroke="#E6E6E6" stroke-width="0.7"/>
<line x1="135.08" y1="295.6" x2="135.08" y2="351.8" stroke="#E6E6E6" stroke-width="0.7"/>
<rect x="86.8" y="295.6" width="52.7" height="56.2" fill="none" stroke="#6e6e6e" stroke-width="0.7"/>
<rect x="86.8" y="284.3" width="52.7" height="11.3" fill="#D9D9D9" stroke="#6e6e6e" stroke-width="0.7"/>
<text class="s" x="113.15" y="292.11" font-size="6" text-anchor="middle" font-style="italic">ITIH5</text>
<line x1="91.4" y1="351.8" x2="91.4" y2="353.4" stroke="#555" stroke-width="0.5"/>
<line x1="98.68" y1="351.8" x2="98.68" y2="353.4" stroke="#555" stroke-width="0.5"/>
<line x1="105.96" y1="351.8" x2="105.96" y2="353.4" stroke="#555" stroke-width="0.5"/>
<line x1="113.24" y1="351.8" x2="113.24" y2="353.4" stroke="#555" stroke-width="0.5"/>
<line x1="120.52" y1="351.8" x2="120.52" y2="353.4" stroke="#555" stroke-width="0.5"/>
<line x1="127.8" y1="351.8" x2="127.8" y2="353.4" stroke="#555" stroke-width="0.5"/>
<line x1="135.08" y1="351.8" x2="135.08" y2="353.4" stroke="#555" stroke-width="0.5"/>
<rect x="143.1" y="295.6" width="52.7" height="56.2" fill="#FFFFFF"/>
<line x1="143.1" y1="342.49" x2="195.8" y2="342.49" stroke="#F2F2F2" stroke-width="0.5"/>
<line x1="143.1" y1="328.26" x2="195.8" y2="328.26" stroke="#F2F2F2" stroke-width="0.5"/>
<line x1="143.1" y1="314.04" x2="195.8" y2="314.04" stroke="#F2F2F2" stroke-width="0.5"/>
<line x1="143.1" y1="299.81" x2="195.8" y2="299.81" stroke="#F2F2F2" stroke-width="0.5"/>
<line x1="143.1" y1="349.6" x2="195.8" y2="349.6" stroke="#E6E6E6" stroke-width="0.7"/>
<line x1="143.1" y1="335.38" x2="195.8" y2="335.38" stroke="#E6E6E6" stroke-width="0.7"/>
<line x1="143.1" y1="321.15" x2="195.8" y2="321.15" stroke="#E6E6E6" stroke-width="0.7"/>
<line x1="143.1" y1="306.93" x2="195.8" y2="306.93" stroke="#E6E6E6" stroke-width="0.7"/>
<line x1="147.7" y1="295.6" x2="147.7" y2="351.8" stroke="#E6E6E6" stroke-width="0.7"/>
<line x1="154.98" y1="295.6" x2="154.98" y2="351.8" stroke="#E6E6E6" stroke-width="0.7"/>
<line x1="162.26" y1="295.6" x2="162.26" y2="351.8" stroke="#E6E6E6" stroke-width="0.7"/>
<line x1="169.54" y1="295.6" x2="169.54" y2="351.8" stroke="#E6E6E6" stroke-width="0.7"/>
<line x1="176.82" y1="295.6" x2="176.82" y2="351.8" stroke="#E6E6E6" stroke-width="0.7"/>
<line x1="184.1" y1="295.6" x2="184.1" y2="351.8" stroke="#E6E6E6" stroke-width="0.7"/>
<line x1="191.38" y1="295.6" x2="191.38" y2="351.8" stroke="#E6E6E6" stroke-width="0.7"/>
<rect x="143.1" y="295.6" width="52.7" height="56.2" fill="none" stroke="#6e6e6e" stroke-width="0.7"/>
<rect x="143.1" y="284.3" width="52.7" height="11.3" fill="#D9D9D9" stroke="#6e6e6e" stroke-width="0.7"/>
<text class="s" x="169.45" y="292.11" font-size="6" text-anchor="middle" font-style="italic">DOCK8</text>
<line x1="147.7" y1="351.8" x2="147.7" y2="353.4" stroke="#555" stroke-width="0.5"/>
<line x1="154.98" y1="351.8" x2="154.98" y2="353.4" stroke="#555" stroke-width="0.5"/>
<line x1="162.26" y1="351.8" x2="162.26" y2="353.4" stroke="#555" stroke-width="0.5"/>
<line x1="169.54" y1="351.8" x2="169.54" y2="353.4" stroke="#555" stroke-width="0.5"/>
<line x1="176.82" y1="351.8" x2="176.82" y2="353.4" stroke="#555" stroke-width="0.5"/>
<line x1="184.1" y1="351.8" x2="184.1" y2="353.4" stroke="#555" stroke-width="0.5"/>
<line x1="191.38" y1="351.8" x2="191.38" y2="353.4" stroke="#555" stroke-width="0.5"/>
<rect x="199.4" y="295.6" width="52.7" height="56.2" fill="#FFFFFF"/>
<line x1="199.4" y1="342.49" x2="252.1" y2="342.49" stroke="#F2F2F2" stroke-width="0.5"/>
<line x1="199.4" y1="328.26" x2="252.1" y2="328.26" stroke="#F2F2F2" stroke-width="0.5"/>
<line x1="199.4" y1="314.04" x2="252.1" y2="314.04" stroke="#F2F2F2" stroke-width="0.5"/>
<line x1="199.4" y1="299.81" x2="252.1" y2="299.81" stroke="#F2F2F2" stroke-width="0.5"/>
<line x1="199.4" y1="349.6" x2="252.1" y2="349.6" stroke="#E6E6E6" stroke-width="0.7"/>
<line x1="199.4" y1="335.38" x2="252.1" y2="335.38" stroke="#E6E6E6" stroke-width="0.7"/>
<line x1="199.4" y1="321.15" x2="252.1" y2="321.15" stroke="#E6E6E6" stroke-width="0.7"/>
<line x1="199.4" y1="306.93" x2="252.1" y2="306.93" stroke="#E6E6E6" stroke-width="0.7"/>
<line x1="204" y1="295.6" x2="204" y2="351.8" stroke="#E6E6E6" stroke-width="0.7"/>
<line x1="211.28" y1="295.6" x2="211.28" y2="351.8" stroke="#E6E6E6" stroke-width="0.7"/>
<line x1="218.56" y1="295.6" x2="218.56" y2="351.8" stroke="#E6E6E6" stroke-width="0.7"/>
<line x1="225.84" y1="295.6" x2="225.84" y2="351.8" stroke="#E6E6E6" stroke-width="0.7"/>
<line x1="233.12" y1="295.6" x2="233.12" y2="351.8" stroke="#E6E6E6" stroke-width="0.7"/>
<line x1="240.4" y1="295.6" x2="240.4" y2="351.8" stroke="#E6E6E6" stroke-width="0.7"/>
<line x1="247.68" y1="295.6" x2="247.68" y2="351.8" stroke="#E6E6E6" stroke-width="0.7"/>
<rect x="199.4" y="295.6" width="52.7" height="56.2" fill="none" stroke="#6e6e6e" stroke-width="0.7"/>
<rect x="199.4" y="284.3" width="52.7" height="11.3" fill="#D9D9D9" stroke="#6e6e6e" stroke-width="0.7"/>
<text class="s" x="225.75" y="292.11" font-size="6" text-anchor="middle" font-style="italic">PLP1</text>
<line x1="204" y1="351.8" x2="204" y2="353.4" stroke="#555" stroke-width="0.5"/>
<line x1="211.28" y1="351.8" x2="211.28" y2="353.4" stroke="#555" stroke-width="0.5"/>
<line x1="218.56" y1="351.8" x2="218.56" y2="353.4" stroke="#555" stroke-width="0.5"/>
<line x1="225.84" y1="351.8" x2="225.84" y2="353.4" stroke="#555" stroke-width="0.5"/>
<line x1="233.12" y1="351.8" x2="233.12" y2="353.4" stroke="#555" stroke-width="0.5"/>
<line x1="240.4" y1="351.8" x2="240.4" y2="353.4" stroke="#555" stroke-width="0.5"/>
<line x1="247.68" y1="351.8" x2="247.68" y2="353.4" stroke="#555" stroke-width="0.5"/>
<rect x="255.7" y="295.6" width="52.7" height="56.2" fill="#FFFFFF"/>
<line x1="255.7" y1="342.49" x2="308.4" y2="342.49" stroke="#F2F2F2" stroke-width="0.5"/>
<line x1="255.7" y1="328.26" x2="308.4" y2="328.26" stroke="#F2F2F2" stroke-width="0.5"/>
<line x1="255.7" y1="314.04" x2="308.4" y2="314.04" stroke="#F2F2F2" stroke-width="0.5"/>
<line x1="255.7" y1="299.81" x2="308.4" y2="299.81" stroke="#F2F2F2" stroke-width="0.5"/>
<line x1="255.7" y1="349.6" x2="308.4" y2="349.6" stroke="#E6E6E6" stroke-width="0.7"/>
<line x1="255.7" y1="335.38" x2="308.4" y2="335.38" stroke="#E6E6E6" stroke-width="0.7"/>
<line x1="255.7" y1="321.15" x2="308.4" y2="321.15" stroke="#E6E6E6" stroke-width="0.7"/>
<line x1="255.7" y1="306.93" x2="308.4" y2="306.93" stroke="#E6E6E6" stroke-width="0.7"/>
<line x1="260.3" y1="295.6" x2="260.3" y2="351.8" stroke="#E6E6E6" stroke-width="0.7"/>
<line x1="267.58" y1="295.6" x2="267.58" y2="351.8" stroke="#E6E6E6" stroke-width="0.7"/>
<line x1="274.86" y1="295.6" x2="274.86" y2="351.8" stroke="#E6E6E6" stroke-width="0.7"/>
<line x1="282.14" y1="295.6" x2="282.14" y2="351.8" stroke="#E6E6E6" stroke-width="0.7"/>
<line x1="289.42" y1="295.6" x2="289.42" y2="351.8" stroke="#E6E6E6" stroke-width="0.7"/>
<line x1="296.7" y1="295.6" x2="296.7" y2="351.8" stroke="#E6E6E6" stroke-width="0.7"/>
<line x1="303.98" y1="295.6" x2="303.98" y2="351.8" stroke="#E6E6E6" stroke-width="0.7"/>
<rect x="255.7" y="295.6" width="52.7" height="56.2" fill="none" stroke="#6e6e6e" stroke-width="0.7"/>
<rect x="255.7" y="284.3" width="52.7" height="11.3" fill="#D9D9D9" stroke="#6e6e6e" stroke-width="0.7"/>
<text class="s" x="282.05" y="292.11" font-size="6" text-anchor="middle" font-style="italic">VCAN</text>
<line x1="260.3" y1="351.8" x2="260.3" y2="353.4" stroke="#555" stroke-width="0.5"/>
<line x1="267.58" y1="351.8" x2="267.58" y2="353.4" stroke="#555" stroke-width="0.5"/>
<line x1="274.86" y1="351.8" x2="274.86" y2="353.4" stroke="#555" stroke-width="0.5"/>
<line x1="282.14" y1="351.8" x2="282.14" y2="353.4" stroke="#555" stroke-width="0.5"/>
<line x1="289.42" y1="351.8" x2="289.42" y2="353.4" stroke="#555" stroke-width="0.5"/>
<line x1="296.7" y1="351.8" x2="296.7" y2="353.4" stroke="#555" stroke-width="0.5"/>
<line x1="303.98" y1="351.8" x2="303.98" y2="353.4" stroke="#555" stroke-width="0.5"/>
<rect x="312" y="295.6" width="52.7" height="56.2" fill="#FFFFFF"/>
<line x1="312" y1="342.49" x2="364.7" y2="342.49" stroke="#F2F2F2" stroke-width="0.5"/>
<line x1="312" y1="328.26" x2="364.7" y2="328.26" stroke="#F2F2F2" stroke-width="0.5"/>
<line x1="312" y1="314.04" x2="364.7" y2="314.04" stroke="#F2F2F2" stroke-width="0.5"/>
<line x1="312" y1="299.81" x2="364.7" y2="299.81" stroke="#F2F2F2" stroke-width="0.5"/>
<line x1="312" y1="349.6" x2="364.7" y2="349.6" stroke="#E6E6E6" stroke-width="0.7"/>
<line x1="312" y1="335.38" x2="364.7" y2="335.38" stroke="#E6E6E6" stroke-width="0.7"/>
<line x1="312" y1="321.15" x2="364.7" y2="321.15" stroke="#E6E6E6" stroke-width="0.7"/>
<line x1="312" y1="306.93" x2="364.7" y2="306.93" stroke="#E6E6E6" stroke-width="0.7"/>
<line x1="316.6" y1="295.6" x2="316.6" y2="351.8" stroke="#E6E6E6" stroke-width="0.7"/>
<line x1="323.88" y1="295.6" x2="323.88" y2="351.8" stroke="#E6E6E6" stroke-width="0.7"/>
<line x1="331.16" y1="295.6" x2="331.16" y2="351.8" stroke="#E6E6E6" stroke-width="0.7"/>
<line x1="338.44" y1="295.6" x2="338.44" y2="351.8" stroke="#E6E6E6" stroke-width="0.7"/>
<line x1="345.72" y1="295.6" x2="345.72" y2="351.8" stroke="#E6E6E6" stroke-width="0.7"/>
<line x1="353" y1="295.6" x2="353" y2="351.8" stroke="#E6E6E6" stroke-width="0.7"/>
<line x1="360.28" y1="295.6" x2="360.28" y2="351.8" stroke="#E6E6E6" stroke-width="0.7"/>
<rect x="312" y="295.6" width="52.7" height="56.2" fill="none" stroke="#6e6e6e" stroke-width="0.7"/>
<rect x="312" y="284.3" width="52.7" height="11.3" fill="#D9D9D9" stroke="#6e6e6e" stroke-width="0.7"/>
<text class="s" x="338.35" y="292.11" font-size="6" text-anchor="middle" font-style="italic">CAMK2A</text>
<line x1="316.6" y1="351.8" x2="316.6" y2="353.4" stroke="#555" stroke-width="0.5"/>
<line x1="323.88" y1="351.8" x2="323.88" y2="353.4" stroke="#555" stroke-width="0.5"/>
<line x1="331.16" y1="351.8" x2="331.16" y2="353.4" stroke="#555" stroke-width="0.5"/>
<line x1="338.44" y1="351.8" x2="338.44" y2="353.4" stroke="#555" stroke-width="0.5"/>
<line x1="345.72" y1="351.8" x2="345.72" y2="353.4" stroke="#555" stroke-width="0.5"/>
<line x1="353" y1="351.8" x2="353" y2="353.4" stroke="#555" stroke-width="0.5"/>
<line x1="360.28" y1="351.8" x2="360.28" y2="353.4" stroke="#555" stroke-width="0.5"/>
<rect x="368.3" y="295.6" width="52.7" height="56.2" fill="#FFFFFF"/>
<line x1="368.3" y1="342.49" x2="421" y2="342.49" stroke="#F2F2F2" stroke-width="0.5"/>
<line x1="368.3" y1="328.26" x2="421" y2="328.26" stroke="#F2F2F2" stroke-width="0.5"/>
<line x1="368.3" y1="314.04" x2="421" y2="314.04" stroke="#F2F2F2" stroke-width="0.5"/>
<line x1="368.3" y1="299.81" x2="421" y2="299.81" stroke="#F2F2F2" stroke-width="0.5"/>
<line x1="368.3" y1="349.6" x2="421" y2="349.6" stroke="#E6E6E6" stroke-width="0.7"/>
<line x1="368.3" y1="335.38" x2="421" y2="335.38" stroke="#E6E6E6" stroke-width="0.7"/>
<line x1="368.3" y1="321.15" x2="421" y2="321.15" stroke="#E6E6E6" stroke-width="0.7"/>
<line x1="368.3" y1="306.93" x2="421" y2="306.93" stroke="#E6E6E6" stroke-width="0.7"/>
<line x1="372.9" y1="295.6" x2="372.9" y2="351.8" stroke="#E6E6E6" stroke-width="0.7"/>
<line x1="380.18" y1="295.6" x2="380.18" y2="351.8" stroke="#E6E6E6" stroke-width="0.7"/>
<line x1="387.46" y1="295.6" x2="387.46" y2="351.8" stroke="#E6E6E6" stroke-width="0.7"/>
<line x1="394.74" y1="295.6" x2="394.74" y2="351.8" stroke="#E6E6E6" stroke-width="0.7"/>
<line x1="402.02" y1="295.6" x2="402.02" y2="351.8" stroke="#E6E6E6" stroke-width="0.7"/>
<line x1="409.3" y1="295.6" x2="409.3" y2="351.8" stroke="#E6E6E6" stroke-width="0.7"/>
<line x1="416.58" y1="295.6" x2="416.58" y2="351.8" stroke="#E6E6E6" stroke-width="0.7"/>
<rect x="368.3" y="295.6" width="52.7" height="56.2" fill="none" stroke="#6e6e6e" stroke-width="0.7"/>
<rect x="368.3" y="284.3" width="52.7" height="11.3" fill="#D9D9D9" stroke="#6e6e6e" stroke-width="0.7"/>
<text class="s" x="394.65" y="292.11" font-size="6" text-anchor="middle" font-style="italic">GAD1</text>
<line x1="372.9" y1="351.8" x2="372.9" y2="353.4" stroke="#555" stroke-width="0.5"/>
<line x1="380.18" y1="351.8" x2="380.18" y2="353.4" stroke="#555" stroke-width="0.5"/>
<line x1="387.46" y1="351.8" x2="387.46" y2="353.4" stroke="#555" stroke-width="0.5"/>
<line x1="394.74" y1="351.8" x2="394.74" y2="353.4" stroke="#555" stroke-width="0.5"/>
<line x1="402.02" y1="351.8" x2="402.02" y2="353.4" stroke="#555" stroke-width="0.5"/>
<line x1="409.3" y1="351.8" x2="409.3" y2="353.4" stroke="#555" stroke-width="0.5"/>
<line x1="416.58" y1="351.8" x2="416.58" y2="353.4" stroke="#555" stroke-width="0.5"/>
<line x1="28.8" y1="349.6" x2="30.5" y2="349.6" stroke="#555" stroke-width="0.5"/>
<text class="s" x="28.2" y="351.6" font-size="5.6" text-anchor="end" fill="#4d4d4d">0.0</text>
<line x1="28.8" y1="335.38" x2="30.5" y2="335.38" stroke="#555" stroke-width="0.5"/>
<text class="s" x="28.2" y="337.38" font-size="5.6" text-anchor="end" fill="#4d4d4d">2.5</text>
<line x1="28.8" y1="321.15" x2="30.5" y2="321.15" stroke="#555" stroke-width="0.5"/>
<text class="s" x="28.2" y="323.15" font-size="5.6" text-anchor="end" fill="#4d4d4d">5.0</text>
<line x1="28.8" y1="306.93" x2="30.5" y2="306.93" stroke="#555" stroke-width="0.5"/>
<text class="s" x="28.2" y="308.93" font-size="5.6" text-anchor="end" fill="#4d4d4d">7.5</text>
<rect x="30.5" y="385" width="52.7" height="57.2" fill="#FFFFFF"/>
<line x1="30.5" y1="432.88" x2="83.2" y2="432.88" stroke="#F2F2F2" stroke-width="0.5"/>
<line x1="30.5" y1="419.84" x2="83.2" y2="419.84" stroke="#F2F2F2" stroke-width="0.5"/>
<line x1="30.5" y1="406.8" x2="83.2" y2="406.8" stroke="#F2F2F2" stroke-width="0.5"/>
<line x1="30.5" y1="393.76" x2="83.2" y2="393.76" stroke="#F2F2F2" stroke-width="0.5"/>
<line x1="30.5" y1="439.4" x2="83.2" y2="439.4" stroke="#E6E6E6" stroke-width="0.7"/>
<line x1="30.5" y1="426.36" x2="83.2" y2="426.36" stroke="#E6E6E6" stroke-width="0.7"/>
<line x1="30.5" y1="413.32" x2="83.2" y2="413.32" stroke="#E6E6E6" stroke-width="0.7"/>
<line x1="30.5" y1="400.28" x2="83.2" y2="400.28" stroke="#E6E6E6" stroke-width="0.7"/>
<line x1="30.5" y1="387.24" x2="83.2" y2="387.24" stroke="#E6E6E6" stroke-width="0.7"/>
<line x1="35.1" y1="385" x2="35.1" y2="442.2" stroke="#E6E6E6" stroke-width="0.7"/>
<line x1="42.38" y1="385" x2="42.38" y2="442.2" stroke="#E6E6E6" stroke-width="0.7"/>
<line x1="49.66" y1="385" x2="49.66" y2="442.2" stroke="#E6E6E6" stroke-width="0.7"/>
<line x1="56.94" y1="385" x2="56.94" y2="442.2" stroke="#E6E6E6" stroke-width="0.7"/>
<line x1="64.22" y1="385" x2="64.22" y2="442.2" stroke="#E6E6E6" stroke-width="0.7"/>
<line x1="71.5" y1="385" x2="71.5" y2="442.2" stroke="#E6E6E6" stroke-width="0.7"/>
<line x1="78.78" y1="385" x2="78.78" y2="442.2" stroke="#E6E6E6" stroke-width="0.7"/>
<rect x="30.5" y="385" width="52.7" height="57.2" fill="none" stroke="#6e6e6e" stroke-width="0.7"/>
<rect x="30.5" y="373.8" width="52.7" height="11.2" fill="#D9D9D9" stroke="#6e6e6e" stroke-width="0.7"/>
<text class="s" x="56.85" y="381.56" font-size="6" text-anchor="middle" font-style="italic">PRDM16</text>
<line x1="35.1" y1="442.2" x2="35.1" y2="443.8" stroke="#555" stroke-width="0.5"/>
<text class="s" x="37.2" y="445.8" font-size="6" text-anchor="end" fill="#4d4d4d" transform="rotate(-90 37.2 445.8)">Astro</text>
<line x1="42.38" y1="442.2" x2="42.38" y2="443.8" stroke="#555" stroke-width="0.5"/>
<text class="s" x="44.48" y="445.8" font-size="6" text-anchor="end" fill="#4d4d4d" transform="rotate(-90 44.48 445.8)">EndoMural</text>
<line x1="49.66" y1="442.2" x2="49.66" y2="443.8" stroke="#555" stroke-width="0.5"/>
<text class="s" x="51.76" y="445.8" font-size="6" text-anchor="end" fill="#4d4d4d" transform="rotate(-90 51.76 445.8)">Micro</text>
<line x1="56.94" y1="442.2" x2="56.94" y2="443.8" stroke="#555" stroke-width="0.5"/>
<text class="s" x="59.04" y="445.8" font-size="6" text-anchor="end" fill="#4d4d4d" transform="rotate(-90 59.04 445.8)">Oligo</text>
<line x1="64.22" y1="442.2" x2="64.22" y2="443.8" stroke="#555" stroke-width="0.5"/>
<text class="s" x="66.32" y="445.8" font-size="6" text-anchor="end" fill="#4d4d4d" transform="rotate(-90 66.32 445.8)">OPC</text>
<line x1="71.5" y1="442.2" x2="71.5" y2="443.8" stroke="#555" stroke-width="0.5"/>
<text class="s" x="73.6" y="445.8" font-size="6" text-anchor="end" fill="#4d4d4d" transform="rotate(-90 73.6 445.8)">Excit</text>
<line x1="78.78" y1="442.2" x2="78.78" y2="443.8" stroke="#555" stroke-width="0.5"/>
<text class="s" x="80.88" y="445.8" font-size="6" text-anchor="end" fill="#4d4d4d" transform="rotate(-90 80.88 445.8)">Inhib</text>
<rect x="86.8" y="385" width="52.7" height="57.2" fill="#FFFFFF"/>
<line x1="86.8" y1="432.88" x2="139.5" y2="432.88" stroke="#F2F2F2" stroke-width="0.5"/>
<line x1="86.8" y1="419.84" x2="139.5" y2="419.84" stroke="#F2F2F2" stroke-width="0.5"/>
<line x1="86.8" y1="406.8" x2="139.5" y2="406.8" stroke="#F2F2F2" stroke-width="0.5"/>
<line x1="86.8" y1="393.76" x2="139.5" y2="393.76" stroke="#F2F2F2" stroke-width="0.5"/>
<line x1="86.8" y1="439.4" x2="139.5" y2="439.4" stroke="#E6E6E6" stroke-width="0.7"/>
<line x1="86.8" y1="426.36" x2="139.5" y2="426.36" stroke="#E6E6E6" stroke-width="0.7"/>
<line x1="86.8" y1="413.32" x2="139.5" y2="413.32" stroke="#E6E6E6" stroke-width="0.7"/>
<line x1="86.8" y1="400.28" x2="139.5" y2="400.28" stroke="#E6E6E6" stroke-width="0.7"/>
<line x1="86.8" y1="387.24" x2="139.5" y2="387.24" stroke="#E6E6E6" stroke-width="0.7"/>
<line x1="91.4" y1="385" x2="91.4" y2="442.2" stroke="#E6E6E6" stroke-width="0.7"/>
<line x1="98.68" y1="385" x2="98.68" y2="442.2" stroke="#E6E6E6" stroke-width="0.7"/>
<line x1="105.96" y1="385" x2="105.96" y2="442.2" stroke="#E6E6E6" stroke-width="0.7"/>
<line x1="113.24" y1="385" x2="113.24" y2="442.2" stroke="#E6E6E6" stroke-width="0.7"/>
<line x1="120.52" y1="385" x2="120.52" y2="442.2" stroke="#E6E6E6" stroke-width="0.7"/>
<line x1="127.8" y1="385" x2="127.8" y2="442.2" stroke="#E6E6E6" stroke-width="0.7"/>
<line x1="135.08" y1="385" x2="135.08" y2="442.2" stroke="#E6E6E6" stroke-width="0.7"/>
<rect x="86.8" y="385" width="52.7" height="57.2" fill="none" stroke="#6e6e6e" stroke-width="0.7"/>
<rect x="86.8" y="373.8" width="52.7" height="11.2" fill="#D9D9D9" stroke="#6e6e6e" stroke-width="0.7"/>
<text class="s" x="113.15" y="381.56" font-size="6" text-anchor="middle" font-style="italic">CARMN</text>
<line x1="91.4" y1="442.2" x2="91.4" y2="443.8" stroke="#555" stroke-width="0.5"/>
<text class="s" x="93.5" y="445.8" font-size="6" text-anchor="end" fill="#4d4d4d" transform="rotate(-90 93.5 445.8)">Astro</text>
<line x1="98.68" y1="442.2" x2="98.68" y2="443.8" stroke="#555" stroke-width="0.5"/>
<text class="s" x="100.78" y="445.8" font-size="6" text-anchor="end" fill="#4d4d4d" transform="rotate(-90 100.78 445.8)">EndoMural</text>
<line x1="105.96" y1="442.2" x2="105.96" y2="443.8" stroke="#555" stroke-width="0.5"/>
<text class="s" x="108.06" y="445.8" font-size="6" text-anchor="end" fill="#4d4d4d" transform="rotate(-90 108.06 445.8)">Micro</text>
<line x1="113.24" y1="442.2" x2="113.24" y2="443.8" stroke="#555" stroke-width="0.5"/>
<text class="s" x="115.34" y="445.8" font-size="6" text-anchor="end" fill="#4d4d4d" transform="rotate(-90 115.34 445.8)">Oligo</text>
<line x1="120.52" y1="442.2" x2="120.52" y2="443.8" stroke="#555" stroke-width="0.5"/>
<text class="s" x="122.62" y="445.8" font-size="6" text-anchor="end" fill="#4d4d4d" transform="rotate(-90 122.62 445.8)">OPC</text>
<line x1="127.8" y1="442.2" x2="127.8" y2="443.8" stroke="#555" stroke-width="0.5"/>
<text class="s" x="129.9" y="445.8" font-size="6" text-anchor="end" fill="#4d4d4d" transform="rotate(-90 129.9 445.8)">Excit</text>
<line x1="135.08" y1="442.2" x2="135.08" y2="443.8" stroke="#555" stroke-width="0.5"/>
<text class="s" x="137.18" y="445.8" font-size="6" text-anchor="end" fill="#4d4d4d" transform="rotate(-90 137.18 445.8)">Inhib</text>
<rect x="143.1" y="385" width="52.7" height="57.2" fill="#FFFFFF"/>
<line x1="143.1" y1="432.88" x2="195.8" y2="432.88" stroke="#F2F2F2" stroke-width="0.5"/>
<line x1="143.1" y1="419.84" x2="195.8" y2="419.84" stroke="#F2F2F2" stroke-width="0.5"/>
<line x1="143.1" y1="406.8" x2="195.8" y2="406.8" stroke="#F2F2F2" stroke-width="0.5"/>
<line x1="143.1" y1="393.76" x2="195.8" y2="393.76" stroke="#F2F2F2" stroke-width="0.5"/>
<line x1="143.1" y1="439.4" x2="195.8" y2="439.4" stroke="#E6E6E6" stroke-width="0.7"/>
<line x1="143.1" y1="426.36" x2="195.8" y2="426.36" stroke="#E6E6E6" stroke-width="0.7"/>
<line x1="143.1" y1="413.32" x2="195.8" y2="413.32" stroke="#E6E6E6" stroke-width="0.7"/>
<line x1="143.1" y1="400.28" x2="195.8" y2="400.28" stroke="#E6E6E6" stroke-width="0.7"/>
<line x1="143.1" y1="387.24" x2="195.8" y2="387.24" stroke="#E6E6E6" stroke-width="0.7"/>
<line x1="147.7" y1="385" x2="147.7" y2="442.2" stroke="#E6E6E6" stroke-width="0.7"/>
<line x1="154.98" y1="385" x2="154.98" y2="442.2" stroke="#E6E6E6" stroke-width="0.7"/>
<line x1="162.26" y1="385" x2="162.26" y2="442.2" stroke="#E6E6E6" stroke-width="0.7"/>
<line x1="169.54" y1="385" x2="169.54" y2="442.2" stroke="#E6E6E6" stroke-width="0.7"/>
<line x1="176.82" y1="385" x2="176.82" y2="442.2" stroke="#E6E6E6" stroke-width="0.7"/>
<line x1="184.1" y1="385" x2="184.1" y2="442.2" stroke="#E6E6E6" stroke-width="0.7"/>
<line x1="191.38" y1="385" x2="191.38" y2="442.2" stroke="#E6E6E6" stroke-width="0.7"/>
<rect x="143.1" y="385" width="52.7" height="57.2" fill="none" stroke="#6e6e6e" stroke-width="0.7"/>
<rect x="143.1" y="373.8" width="52.7" height="11.2" fill="#D9D9D9" stroke="#6e6e6e" stroke-width="0.7"/>
<text class="s" x="169.45" y="381.56" font-size="6" text-anchor="middle" font-style="italic">LINC02712</text>
<line x1="147.7" y1="442.2" x2="147.7" y2="443.8" stroke="#555" stroke-width="0.5"/>
<text class="s" x="149.8" y="445.8" font-size="6" text-anchor="end" fill="#4d4d4d" transform="rotate(-90 149.8 445.8)">Astro</text>
<line x1="154.98" y1="442.2" x2="154.98" y2="443.8" stroke="#555" stroke-width="0.5"/>
<text class="s" x="157.08" y="445.8" font-size="6" text-anchor="end" fill="#4d4d4d" transform="rotate(-90 157.08 445.8)">EndoMural</text>
<line x1="162.26" y1="442.2" x2="162.26" y2="443.8" stroke="#555" stroke-width="0.5"/>
<text class="s" x="164.36" y="445.8" font-size="6" text-anchor="end" fill="#4d4d4d" transform="rotate(-90 164.36 445.8)">Micro</text>
<line x1="169.54" y1="442.2" x2="169.54" y2="443.8" stroke="#555" stroke-width="0.5"/>
<text class="s" x="171.64" y="445.8" font-size="6" text-anchor="end" fill="#4d4d4d" transform="rotate(-90 171.64 445.8)">Oligo</text>
<line x1="176.82" y1="442.2" x2="176.82" y2="443.8" stroke="#555" stroke-width="0.5"/>
<text class="s" x="178.92" y="445.8" font-size="6" text-anchor="end" fill="#4d4d4d" transform="rotate(-90 178.92 445.8)">OPC</text>
<line x1="184.1" y1="442.2" x2="184.1" y2="443.8" stroke="#555" stroke-width="0.5"/>
<text class="s" x="186.2" y="445.8" font-size="6" text-anchor="end" fill="#4d4d4d" transform="rotate(-90 186.2 445.8)">Excit</text>
<line x1="191.38" y1="442.2" x2="191.38" y2="443.8" stroke="#555" stroke-width="0.5"/>
<text class="s" x="193.48" y="445.8" font-size="6" text-anchor="end" fill="#4d4d4d" transform="rotate(-90 193.48 445.8)">Inhib</text>
<rect x="199.4" y="385" width="52.7" height="57.2" fill="#FFFFFF"/>
<line x1="199.4" y1="432.88" x2="252.1" y2="432.88" stroke="#F2F2F2" stroke-width="0.5"/>
<line x1="199.4" y1="419.84" x2="252.1" y2="419.84" stroke="#F2F2F2" stroke-width="0.5"/>
<line x1="199.4" y1="406.8" x2="252.1" y2="406.8" stroke="#F2F2F2" stroke-width="0.5"/>
<line x1="199.4" y1="393.76" x2="252.1" y2="393.76" stroke="#F2F2F2" stroke-width="0.5"/>
<line x1="199.4" y1="439.4" x2="252.1" y2="439.4" stroke="#E6E6E6" stroke-width="0.7"/>
<line x1="199.4" y1="426.36" x2="252.1" y2="426.36" stroke="#E6E6E6" stroke-width="0.7"/>
<line x1="199.4" y1="413.32" x2="252.1" y2="413.32" stroke="#E6E6E6" stroke-width="0.7"/>
<line x1="199.4" y1="400.28" x2="252.1" y2="400.28" stroke="#E6E6E6" stroke-width="0.7"/>
<line x1="199.4" y1="387.24" x2="252.1" y2="387.24" stroke="#E6E6E6" stroke-width="0.7"/>
<line x1="204" y1="385" x2="204" y2="442.2" stroke="#E6E6E6" stroke-width="0.7"/>
<line x1="211.28" y1="385" x2="211.28" y2="442.2" stroke="#E6E6E6" stroke-width="0.7"/>
<line x1="218.56" y1="385" x2="218.56" y2="442.2" stroke="#E6E6E6" stroke-width="0.7"/>
<line x1="225.84" y1="385" x2="225.84" y2="442.2" stroke="#E6E6E6" stroke-width="0.7"/>
<line x1="233.12" y1="385" x2="233.12" y2="442.2" stroke="#E6E6E6" stroke-width="0.7"/>
<line x1="240.4" y1="385" x2="240.4" y2="442.2" stroke="#E6E6E6" stroke-width="0.7"/>
<line x1="247.68" y1="385" x2="247.68" y2="442.2" stroke="#E6E6E6" stroke-width="0.7"/>
<rect x="199.4" y="385" width="52.7" height="57.2" fill="none" stroke="#6e6e6e" stroke-width="0.7"/>
<rect x="199.4" y="373.8" width="52.7" height="11.2" fill="#D9D9D9" stroke="#6e6e6e" stroke-width="0.7"/>
<text class="s" x="225.75" y="381.56" font-size="6" text-anchor="middle" font-style="italic">FOLH1</text>
<line x1="204" y1="442.2" x2="204" y2="443.8" stroke="#555" stroke-width="0.5"/>
<text class="s" x="206.1" y="445.8" font-size="6" text-anchor="end" fill="#4d4d4d" transform="rotate(-90 206.1 445.8)">Astro</text>
<line x1="211.28" y1="442.2" x2="211.28" y2="443.8" stroke="#555" stroke-width="0.5"/>
<text class="s" x="213.38" y="445.8" font-size="6" text-anchor="end" fill="#4d4d4d" transform="rotate(-90 213.38 445.8)">EndoMural</text>
<line x1="218.56" y1="442.2" x2="218.56" y2="443.8" stroke="#555" stroke-width="0.5"/>
<text class="s" x="220.66" y="445.8" font-size="6" text-anchor="end" fill="#4d4d4d" transform="rotate(-90 220.66 445.8)">Micro</text>
<line x1="225.84" y1="442.2" x2="225.84" y2="443.8" stroke="#555" stroke-width="0.5"/>
<text class="s" x="227.94" y="445.8" font-size="6" text-anchor="end" fill="#4d4d4d" transform="rotate(-90 227.94 445.8)">Oligo</text>
<line x1="233.12" y1="442.2" x2="233.12" y2="443.8" stroke="#555" stroke-width="0.5"/>
<text class="s" x="235.22" y="445.8" font-size="6" text-anchor="end" fill="#4d4d4d" transform="rotate(-90 235.22 445.8)">OPC</text>
<line x1="240.4" y1="442.2" x2="240.4" y2="443.8" stroke="#555" stroke-width="0.5"/>
<text class="s" x="242.5" y="445.8" font-size="6" text-anchor="end" fill="#4d4d4d" transform="rotate(-90 242.5 445.8)">Excit</text>
<line x1="247.68" y1="442.2" x2="247.68" y2="443.8" stroke="#555" stroke-width="0.5"/>
<text class="s" x="249.78" y="445.8" font-size="6" text-anchor="end" fill="#4d4d4d" transform="rotate(-90 249.78 445.8)">Inhib</text>
<rect x="255.7" y="385" width="52.7" height="57.2" fill="#FFFFFF"/>
<line x1="255.7" y1="432.88" x2="308.4" y2="432.88" stroke="#F2F2F2" stroke-width="0.5"/>
<line x1="255.7" y1="419.84" x2="308.4" y2="419.84" stroke="#F2F2F2" stroke-width="0.5"/>
<line x1="255.7" y1="406.8" x2="308.4" y2="406.8" stroke="#F2F2F2" stroke-width="0.5"/>
<line x1="255.7" y1="393.76" x2="308.4" y2="393.76" stroke="#F2F2F2" stroke-width="0.5"/>
<line x1="255.7" y1="439.4" x2="308.4" y2="439.4" stroke="#E6E6E6" stroke-width="0.7"/>
<line x1="255.7" y1="426.36" x2="308.4" y2="426.36" stroke="#E6E6E6" stroke-width="0.7"/>
<line x1="255.7" y1="413.32" x2="308.4" y2="413.32" stroke="#E6E6E6" stroke-width="0.7"/>
<line x1="255.7" y1="400.28" x2="308.4" y2="400.28" stroke="#E6E6E6" stroke-width="0.7"/>
<line x1="255.7" y1="387.24" x2="308.4" y2="387.24" stroke="#E6E6E6" stroke-width="0.7"/>
<line x1="260.3" y1="385" x2="260.3" y2="442.2" stroke="#E6E6E6" stroke-width="0.7"/>
<line x1="267.58" y1="385" x2="267.58" y2="442.2" stroke="#E6E6E6" stroke-width="0.7"/>
<line x1="274.86" y1="385" x2="274.86" y2="442.2" stroke="#E6E6E6" stroke-width="0.7"/>
<line x1="282.14" y1="385" x2="282.14" y2="442.2" stroke="#E6E6E6" stroke-width="0.7"/>
<line x1="289.42" y1="385" x2="289.42" y2="442.2" stroke="#E6E6E6" stroke-width="0.7"/>
<line x1="296.7" y1="385" x2="296.7" y2="442.2" stroke="#E6E6E6" stroke-width="0.7"/>
<line x1="303.98" y1="385" x2="303.98" y2="442.2" stroke="#E6E6E6" stroke-width="0.7"/>
<rect x="255.7" y="385" width="52.7" height="57.2" fill="none" stroke="#6e6e6e" stroke-width="0.7"/>
<rect x="255.7" y="373.8" width="52.7" height="11.2" fill="#D9D9D9" stroke="#6e6e6e" stroke-width="0.7"/>
<text class="s" x="282.05" y="381.56" font-size="6" text-anchor="middle" font-style="italic">AC004852.2</text>
<line x1="260.3" y1="442.2" x2="260.3" y2="443.8" stroke="#555" stroke-width="0.5"/>
<text class="s" x="262.4" y="445.8" font-size="6" text-anchor="end" fill="#4d4d4d" transform="rotate(-90 262.4 445.8)">Astro</text>
<line x1="267.58" y1="442.2" x2="267.58" y2="443.8" stroke="#555" stroke-width="0.5"/>
<text class="s" x="269.68" y="445.8" font-size="6" text-anchor="end" fill="#4d4d4d" transform="rotate(-90 269.68 445.8)">EndoMural</text>
<line x1="274.86" y1="442.2" x2="274.86" y2="443.8" stroke="#555" stroke-width="0.5"/>
<text class="s" x="276.96" y="445.8" font-size="6" text-anchor="end" fill="#4d4d4d" transform="rotate(-90 276.96 445.8)">Micro</text>
<line x1="282.14" y1="442.2" x2="282.14" y2="443.8" stroke="#555" stroke-width="0.5"/>
<text class="s" x="284.24" y="445.8" font-size="6" text-anchor="end" fill="#4d4d4d" transform="rotate(-90 284.24 445.8)">Oligo</text>
<line x1="289.42" y1="442.2" x2="289.42" y2="443.8" stroke="#555" stroke-width="0.5"/>
<text class="s" x="291.52" y="445.8" font-size="6" text-anchor="end" fill="#4d4d4d" transform="rotate(-90 291.52 445.8)">OPC</text>
<line x1="296.7" y1="442.2" x2="296.7" y2="443.8" stroke="#555" stroke-width="0.5"/>
<text class="s" x="298.8" y="445.8" font-size="6" text-anchor="end" fill="#4d4d4d" transform="rotate(-90 298.8 445.8)">Excit</text>
<line x1="303.98" y1="442.2" x2="303.98" y2="443.8" stroke="#555" stroke-width="0.5"/>
<text class="s" x="306.08" y="445.8" font-size="6" text-anchor="end" fill="#4d4d4d" transform="rotate(-90 306.08 445.8)">Inhib</text>
<rect x="312" y="385" width="52.7" height="57.2" fill="#FFFFFF"/>
<line x1="312" y1="432.88" x2="364.7" y2="432.88" stroke="#F2F2F2" stroke-width="0.5"/>
<line x1="312" y1="419.84" x2="364.7" y2="419.84" stroke="#F2F2F2" stroke-width="0.5"/>
<line x1="312" y1="406.8" x2="364.7" y2="406.8" stroke="#F2F2F2" stroke-width="0.5"/>
<line x1="312" y1="393.76" x2="364.7" y2="393.76" stroke="#F2F2F2" stroke-width="0.5"/>
<line x1="312" y1="439.4" x2="364.7" y2="439.4" stroke="#E6E6E6" stroke-width="0.7"/>
<line x1="312" y1="426.36" x2="364.7" y2="426.36" stroke="#E6E6E6" stroke-width="0.7"/>
<line x1="312" y1="413.32" x2="364.7" y2="413.32" stroke="#E6E6E6" stroke-width="0.7"/>
<line x1="312" y1="400.28" x2="364.7" y2="400.28" stroke="#E6E6E6" stroke-width="0.7"/>
<line x1="312" y1="387.24" x2="364.7" y2="387.24" stroke="#E6E6E6" stroke-width="0.7"/>
<line x1="316.6" y1="385" x2="316.6" y2="442.2" stroke="#E6E6E6" stroke-width="0.7"/>
<line x1="323.88" y1="385" x2="323.88" y2="442.2" stroke="#E6E6E6" stroke-width="0.7"/>
<line x1="331.16" y1="385" x2="331.16" y2="442.2" stroke="#E6E6E6" stroke-width="0.7"/>
<line x1="338.44" y1="385" x2="338.44" y2="442.2" stroke="#E6E6E6" stroke-width="0.7"/>
<line x1="345.72" y1="385" x2="345.72" y2="442.2" stroke="#E6E6E6" stroke-width="0.7"/>
<line x1="353" y1="385" x2="353" y2="442.2" stroke="#E6E6E6" stroke-width="0.7"/>
<line x1="360.28" y1="385" x2="360.28" y2="442.2" stroke="#E6E6E6" stroke-width="0.7"/>
<rect x="312" y="385" width="52.7" height="57.2" fill="none" stroke="#6e6e6e" stroke-width="0.7"/>
<rect x="312" y="373.8" width="52.7" height="11.2" fill="#D9D9D9" stroke="#6e6e6e" stroke-width="0.7"/>
<text class="s" x="338.35" y="381.56" font-size="6" text-anchor="middle" font-style="italic">AC008696.2</text>
<line x1="316.6" y1="442.2" x2="316.6" y2="443.8" stroke="#555" stroke-width="0.5"/>
<text class="s" x="318.7" y="445.8" font-size="6" text-anchor="end" fill="#4d4d4d" transform="rotate(-90 318.7 445.8)">Astro</text>
<line x1="323.88" y1="442.2" x2="323.88" y2="443.8" stroke="#555" stroke-width="0.5"/>
<text class="s" x="325.98" y="445.8" font-size="6" text-anchor="end" fill="#4d4d4d" transform="rotate(-90 325.98 445.8)">EndoMural</text>
<line x1="331.16" y1="442.2" x2="331.16" y2="443.8" stroke="#555" stroke-width="0.5"/>
<text class="s" x="333.26" y="445.8" font-size="6" text-anchor="end" fill="#4d4d4d" transform="rotate(-90 333.26 445.8)">Micro</text>
<line x1="338.44" y1="442.2" x2="338.44" y2="443.8" stroke="#555" stroke-width="0.5"/>
<text class="s" x="340.54" y="445.8" font-size="6" text-anchor="end" fill="#4d4d4d" transform="rotate(-90 340.54 445.8)">Oligo</text>
<line x1="345.72" y1="442.2" x2="345.72" y2="443.8" stroke="#555" stroke-width="0.5"/>
<text class="s" x="347.82" y="445.8" font-size="6" text-anchor="end" fill="#4d4d4d" transform="rotate(-90 347.82 445.8)">OPC</text>
<line x1="353" y1="442.2" x2="353" y2="443.8" stroke="#555" stroke-width="0.5"/>
<text class="s" x="355.1" y="445.8" font-size="6" text-anchor="end" fill="#4d4d4d" transform="rotate(-90 355.1 445.8)">Excit</text>
<line x1="360.28" y1="442.2" x2="360.28" y2="443.8" stroke="#555" stroke-width="0.5"/>
<text class="s" x="362.38" y="445.8" font-size="6" text-anchor="end" fill="#4d4d4d" transform="rotate(-90 362.38 445.8)">Inhib</text>
<rect x="368.3" y="385" width="52.7" height="57.2" fill="#FFFFFF"/>
<line x1="368.3" y1="432.88" x2="421" y2="432.88" stroke="#F2F2F2" stroke-width="0.5"/>
<line x1="368.3" y1="419.84" x2="421" y2="419.84" stroke="#F2F2F2" stroke-width="0.5"/>
<line x1="368.3" y1="406.8" x2="421" y2="406.8" stroke="#F2F2F2" stroke-width="0.5"/>
<line x1="368.3" y1="393.76" x2="421" y2="393.76" stroke="#F2F2F2" stroke-width="0.5"/>
<line x1="368.3" y1="439.4" x2="421" y2="439.4" stroke="#E6E6E6" stroke-width="0.7"/>
<line x1="368.3" y1="426.36" x2="421" y2="426.36" stroke="#E6E6E6" stroke-width="0.7"/>
<line x1="368.3" y1="413.32" x2="421" y2="413.32" stroke="#E6E6E6" stroke-width="0.7"/>
<line x1="368.3" y1="400.28" x2="421" y2="400.28" stroke="#E6E6E6" stroke-width="0.7"/>
<line x1="368.3" y1="387.24" x2="421" y2="387.24" stroke="#E6E6E6" stroke-width="0.7"/>
<line x1="372.9" y1="385" x2="372.9" y2="442.2" stroke="#E6E6E6" stroke-width="0.7"/>
<line x1="380.18" y1="385" x2="380.18" y2="442.2" stroke="#E6E6E6" stroke-width="0.7"/>
<line x1="387.46" y1="385" x2="387.46" y2="442.2" stroke="#E6E6E6" stroke-width="0.7"/>
<line x1="394.74" y1="385" x2="394.74" y2="442.2" stroke="#E6E6E6" stroke-width="0.7"/>
<line x1="402.02" y1="385" x2="402.02" y2="442.2" stroke="#E6E6E6" stroke-width="0.7"/>
<line x1="409.3" y1="385" x2="409.3" y2="442.2" stroke="#E6E6E6" stroke-width="0.7"/>
<line x1="416.58" y1="385" x2="416.58" y2="442.2" stroke="#E6E6E6" stroke-width="0.7"/>
<rect x="368.3" y="385" width="52.7" height="57.2" fill="none" stroke="#6e6e6e" stroke-width="0.7"/>
<rect x="368.3" y="373.8" width="52.7" height="11.2" fill="#D9D9D9" stroke="#6e6e6e" stroke-width="0.7"/>
<text class="s" x="394.65" y="381.56" font-size="6" text-anchor="middle" font-style="italic">MYO3B</text>
<line x1="372.9" y1="442.2" x2="372.9" y2="443.8" stroke="#555" stroke-width="0.5"/>
<text class="s" x="375" y="445.8" font-size="6" text-anchor="end" fill="#4d4d4d" transform="rotate(-90 375 445.8)">Astro</text>
<line x1="380.18" y1="442.2" x2="380.18" y2="443.8" stroke="#555" stroke-width="0.5"/>
<text class="s" x="382.28" y="445.8" font-size="6" text-anchor="end" fill="#4d4d4d" transform="rotate(-90 382.28 445.8)">EndoMural</text>
<line x1="387.46" y1="442.2" x2="387.46" y2="443.8" stroke="#555" stroke-width="0.5"/>
<text class="s" x="389.56" y="445.8" font-size="6" text-anchor="end" fill="#4d4d4d" transform="rotate(-90 389.56 445.8)">Micro</text>
<line x1="394.74" y1="442.2" x2="394.74" y2="443.8" stroke="#555" stroke-width="0.5"/>
<text class="s" x="396.84" y="445.8" font-size="6" text-anchor="end" fill="#4d4d4d" transform="rotate(-90 396.84 445.8)">Oligo</text>
<line x1="402.02" y1="442.2" x2="402.02" y2="443.8" stroke="#555" stroke-width="0.5"/>
<text class="s" x="404.12" y="445.8" font-size="6" text-anchor="end" fill="#4d4d4d" transform="rotate(-90 404.12 445.8)">OPC</text>
<line x1="409.3" y1="442.2" x2="409.3" y2="443.8" stroke="#555" stroke-width="0.5"/>
<text class="s" x="411.4" y="445.8" font-size="6" text-anchor="end" fill="#4d4d4d" transform="rotate(-90 411.4 445.8)">Excit</text>
<line x1="416.58" y1="442.2" x2="416.58" y2="443.8" stroke="#555" stroke-width="0.5"/>
<text class="s" x="418.68" y="445.8" font-size="6" text-anchor="end" fill="#4d4d4d" transform="rotate(-90 418.68 445.8)">Inhib</text>
<line x1="28.8" y1="439.4" x2="30.5" y2="439.4" stroke="#555" stroke-width="0.5"/>
<text class="s" x="28.2" y="441.4" font-size="5.6" text-anchor="end" fill="#4d4d4d">0</text>
<line x1="28.8" y1="426.36" x2="30.5" y2="426.36" stroke="#555" stroke-width="0.5"/>
<text class="s" x="28.2" y="428.36" font-size="5.6" text-anchor="end" fill="#4d4d4d">2</text>
<line x1="28.8" y1="413.32" x2="30.5" y2="413.32" stroke="#555" stroke-width="0.5"/>
<text class="s" x="28.2" y="415.32" font-size="5.6" text-anchor="end" fill="#4d4d4d">4</text>
<line x1="28.8" y1="400.28" x2="30.5" y2="400.28" stroke="#555" stroke-width="0.5"/>
<text class="s" x="28.2" y="402.28" font-size="5.6" text-anchor="end" fill="#4d4d4d">6</text>
<line x1="28.8" y1="387.24" x2="30.5" y2="387.24" stroke="#555" stroke-width="0.5"/>
<text class="s" x="28.2" y="389.24" font-size="5.6" text-anchor="end" fill="#4d4d4d">8</text>
<line x1="42.38" y1="319.7" x2="42.38" y2="348.3" stroke="#3a3a3a" stroke-width="0.75"/>
<path d="M42.58 348 C42.77 348.16 43.33 348.71 43.7 348.95 C44.07 349.19 44.99 349.3 44.78 349.45 C44.57 349.6 42.82 349.78 42.43 349.85 L42.33 349.85 C41.94 349.78 40.19 349.6 39.98 349.45 C39.77 349.3 40.69 349.19 41.06 348.95 C41.43 348.71 41.99 348.16 42.18 348 Z" fill="#333" stroke="#333" stroke-width="0.35"/>
<circle cx="42.38" cy="349.4" r="0.75" fill="#000"/>
<line x1="49.66" y1="323" x2="49.66" y2="348.3" stroke="#3a3a3a" stroke-width="0.75"/>
<path d="M49.86 348 C50.05 348.16 50.61 348.71 50.98 348.95 C51.35 349.19 52.27 349.3 52.06 349.45 C51.85 349.6 50.1 349.78 49.71 349.85 L49.61 349.85 C49.22 349.78 47.47 349.6 47.26 349.45 C47.05 349.3 47.97 349.19 48.34 348.95 C48.71 348.71 49.27 348.16 49.46 348 Z" fill="#333" stroke="#333" stroke-width="0.35"/>
<circle cx="49.66" cy="349.4" r="0.75" fill="#000"/>
<line x1="56.94" y1="321" x2="56.94" y2="348.3" stroke="#3a3a3a" stroke-width="0.75"/>
<path d="M57.14 348 C57.33 348.16 57.89 348.71 58.26 348.95 C58.63 349.19 59.55 349.3 59.34 349.45 C59.13 349.6 57.38 349.78 56.99 349.85 L56.89 349.85 C56.5 349.78 54.75 349.6 54.54 349.45 C54.33 349.3 55.25 349.19 55.62 348.95 C55.99 348.71 56.55 348.16 56.74 348 Z" fill="#333" stroke="#333" stroke-width="0.35"/>
<circle cx="56.94" cy="349.4" r="0.75" fill="#000"/>
<line x1="64.22" y1="327" x2="64.22" y2="348.3" stroke="#3a3a3a" stroke-width="0.75"/>
<path d="M64.42 348 C64.61 348.16 65.17 348.71 65.54 348.95 C65.91 349.19 66.83 349.3 66.62 349.45 C66.41 349.6 64.66 349.78 64.27 349.85 L64.17 349.85 C63.78 349.78 62.03 349.6 61.82 349.45 C61.61 349.3 62.53 349.19 62.9 348.95 C63.27 348.71 63.83 348.16 64.02 348 Z" fill="#333" stroke="#333" stroke-width="0.35"/>
<circle cx="64.22" cy="349.4" r="0.75" fill="#000"/>
<line x1="71.5" y1="324" x2="71.5" y2="348.3" stroke="#3a3a3a" stroke-width="0.75"/>
<path d="M71.7 348 C71.89 348.16 72.45 348.71 72.82 348.95 C73.19 349.19 74.11 349.3 73.9 349.45 C73.69 349.6 71.94 349.78 71.55 349.85 L71.45 349.85 C71.06 349.78 69.31 349.6 69.1 349.45 C68.89 349.3 69.81 349.19 70.18 348.95 C70.55 348.71 71.11 348.16 71.3 348 Z" fill="#333" stroke="#333" stroke-width="0.35"/>
<circle cx="71.5" cy="349.4" r="0.75" fill="#000"/>
<line x1="78.78" y1="332.2" x2="78.78" y2="348.3" stroke="#3a3a3a" stroke-width="0.75"/>
<path d="M78.98 348 C79.17 348.16 79.73 348.71 80.1 348.95 C80.47 349.19 81.39 349.3 81.18 349.45 C80.97 349.6 79.22 349.78 78.83 349.85 L78.73 349.85 C78.34 349.78 76.59 349.6 76.38 349.45 C76.17 349.3 77.09 349.19 77.46 348.95 C77.83 348.71 78.39 348.16 78.58 348 Z" fill="#333" stroke="#333" stroke-width="0.35"/>
<circle cx="78.78" cy="349.4" r="0.75" fill="#000"/>
<line x1="91.4" y1="321" x2="91.4" y2="348.3" stroke="#3a3a3a" stroke-width="0.75"/>
<path d="M91.6 348 C91.79 348.16 92.35 348.71 92.72 348.95 C93.09 349.19 94.01 349.3 93.8 349.45 C93.59 349.6 91.84 349.78 91.45 349.85 L91.35 349.85 C90.96 349.78 89.21 349.6 89 349.45 C88.79 349.3 89.71 349.19 90.08 348.95 C90.45 348.71 91.01 348.16 91.2 348 Z" fill="#333" stroke="#333" stroke-width="0.35"/>
<circle cx="91.4" cy="349.4" r="0.75" fill="#000"/>
<line x1="105.96" y1="325.7" x2="105.96" y2="348.3" stroke="#3a3a3a" stroke-width="0.75"/>
<path d="M106.16 348 C106.35 348.16 106.91 348.71 107.28 348.95 C107.65 349.19 108.57 349.3 108.36 349.45 C108.15 349.6 106.4 349.78 106.01 349.85 L105.91 349.85 C105.52 349.78 103.77 349.6 103.56 349.45 C103.35 349.3 104.27 349.19 104.64 348.95 C105.01 348.71 105.57 348.16 105.76 348 Z" fill="#333" stroke="#333" stroke-width="0.35"/>
<circle cx="105.96" cy="349.4" r="0.75" fill="#000"/>
<line x1="113.24" y1="321.4" x2="113.24" y2="348.3" stroke="#3a3a3a" stroke-width="0.75"/>
<path d="M113.44 348 C113.63 348.16 114.19 348.71 114.56 348.95 C114.93 349.19 115.85 349.3 115.64 349.45 C115.43 349.6 113.68 349.78 113.29 349.85 L113.19 349.85 C112.8 349.78 111.05 349.6 110.84 349.45 C110.63 349.3 111.55 349.19 111.92 348.95 C112.29 348.71 112.85 348.16 113.04 348 Z" fill="#333" stroke="#333" stroke-width="0.35"/>
<circle cx="113.24" cy="349.4" r="0.75" fill="#000"/>
<line x1="120.52" y1="326.9" x2="120.52" y2="348.3" stroke="#3a3a3a" stroke-width="0.75"/>
<path d="M120.72 348 C120.91 348.16 121.47 348.71 121.84 348.95 C122.21 349.19 123.13 349.3 122.92 349.45 C122.71 349.6 120.96 349.78 120.57 349.85 L120.47 349.85 C120.08 349.78 118.33 349.6 118.12 349.45 C117.91 349.3 118.83 349.19 119.2 348.95 C119.57 348.71 120.13 348.16 120.32 348 Z" fill="#333" stroke="#333" stroke-width="0.35"/>
<circle cx="120.52" cy="349.4" r="0.75" fill="#000"/>
<line x1="127.8" y1="322.5" x2="127.8" y2="348.3" stroke="#3a3a3a" stroke-width="0.75"/>
<path d="M128 348 C128.19 348.16 128.75 348.71 129.12 348.95 C129.49 349.19 130.41 349.3 130.2 349.45 C129.99 349.6 128.24 349.78 127.85 349.85 L127.75 349.85 C127.36 349.78 125.61 349.6 125.4 349.45 C125.19 349.3 126.11 349.19 126.48 348.95 C126.85 348.71 127.41 348.16 127.6 348 Z" fill="#333" stroke="#333" stroke-width="0.35"/>
<circle cx="127.8" cy="349.4" r="0.75" fill="#000"/>
<line x1="135.08" y1="324.6" x2="135.08" y2="348.3" stroke="#3a3a3a" stroke-width="0.75"/>
<path d="M135.28 348 C135.47 348.16 136.03 348.71 136.4 348.95 C136.77 349.19 137.69 349.3 137.48 349.45 C137.27 349.6 135.52 349.78 135.13 349.85 L135.03 349.85 C134.64 349.78 132.89 349.6 132.68 349.45 C132.47 349.3 133.39 349.19 133.76 348.95 C134.13 348.71 134.69 348.16 134.88 348 Z" fill="#333" stroke="#333" stroke-width="0.35"/>
<circle cx="135.08" cy="349.4" r="0.75" fill="#000"/>
<line x1="147.7" y1="320.5" x2="147.7" y2="348.3" stroke="#3a3a3a" stroke-width="0.75"/>
<path d="M147.9 348 C148.09 348.16 148.65 348.71 149.02 348.95 C149.39 349.19 150.31 349.3 150.1 349.45 C149.89 349.6 148.14 349.78 147.75 349.85 L147.65 349.85 C147.26 349.78 145.51 349.6 145.3 349.45 C145.09 349.3 146.01 349.19 146.38 348.95 C146.75 348.71 147.31 348.16 147.5 348 Z" fill="#333" stroke="#333" stroke-width="0.35"/>
<circle cx="147.7" cy="349.4" r="0.75" fill="#000"/>
<line x1="154.98" y1="321.4" x2="154.98" y2="348.3" stroke="#3a3a3a" stroke-width="0.75"/>
<path d="M155.18 348 C155.37 348.16 155.93 348.71 156.3 348.95 C156.67 349.19 157.59 349.3 157.38 349.45 C157.17 349.6 155.42 349.78 155.03 349.85 L154.93 349.85 C154.54 349.78 152.79 349.6 152.58 349.45 C152.37 349.3 153.29 349.19 153.66 348.95 C154.03 348.71 154.59 348.16 154.78 348 Z" fill="#333" stroke="#333" stroke-width="0.35"/>
<circle cx="154.98" cy="349.4" r="0.75" fill="#000"/>
<line x1="169.54" y1="317" x2="169.54" y2="348.3" stroke="#3a3a3a" stroke-width="0.75"/>
<path d="M169.74 348 C169.93 348.16 170.49 348.71 170.86 348.95 C171.23 349.19 172.15 349.3 171.94 349.45 C171.73 349.6 169.98 349.78 169.59 349.85 L169.49 349.85 C169.1 349.78 167.35 349.6 167.14 349.45 C166.93 349.3 167.85 349.19 168.22 348.95 C168.59 348.71 169.15 348.16 169.34 348 Z" fill="#333" stroke="#333" stroke-width="0.35"/>
<circle cx="169.54" cy="349.4" r="0.75" fill="#000"/>
<line x1="176.82" y1="323.3" x2="176.82" y2="348.3" stroke="#3a3a3a" stroke-width="0.75"/>
<path d="M177.02 348 C177.21 348.16 177.77 348.71 178.14 348.95 C178.51 349.19 179.43 349.3 179.22 349.45 C179.01 349.6 177.26 349.78 176.87 349.85 L176.77 349.85 C176.38 349.78 174.63 349.6 174.42 349.45 C174.21 349.3 175.13 349.19 175.5 348.95 C175.87 348.71 176.43 348.16 176.62 348 Z" fill="#333" stroke="#333" stroke-width="0.35"/>
<circle cx="176.82" cy="349.4" r="0.75" fill="#000"/>
<line x1="184.1" y1="324.9" x2="184.1" y2="348.3" stroke="#3a3a3a" stroke-width="0.75"/>
<path d="M184.3 348 C184.49 348.16 185.05 348.71 185.42 348.95 C185.79 349.19 186.71 349.3 186.5 349.45 C186.29 349.6 184.54 349.78 184.15 349.85 L184.05 349.85 C183.66 349.78 181.91 349.6 181.7 349.45 C181.49 349.3 182.41 349.19 182.78 348.95 C183.15 348.71 183.71 348.16 183.9 348 Z" fill="#333" stroke="#333" stroke-width="0.35"/>
<circle cx="184.1" cy="349.4" r="0.75" fill="#000"/>
<line x1="191.38" y1="328.1" x2="191.38" y2="348.3" stroke="#3a3a3a" stroke-width="0.75"/>
<path d="M191.58 348 C191.77 348.16 192.33 348.71 192.7 348.95 C193.07 349.19 193.99 349.3 193.78 349.45 C193.57 349.6 191.82 349.78 191.43 349.85 L191.33 349.85 C190.94 349.78 189.19 349.6 188.98 349.45 C188.77 349.3 189.69 349.19 190.06 348.95 C190.43 348.71 190.99 348.16 191.18 348 Z" fill="#333" stroke="#333" stroke-width="0.35"/>
<circle cx="191.38" cy="349.4" r="0.75" fill="#000"/>
<line x1="204" y1="309.8" x2="204" y2="347.4" stroke="#3a3a3a" stroke-width="0.75"/>
<path d="M204.2 347.1 C204.44 347.33 205.18 348.11 205.65 348.5 C206.12 348.89 207.27 349.23 207 349.45 C206.73 349.68 204.54 349.78 204.05 349.85 L203.95 349.85 C203.46 349.78 201.27 349.68 201 349.45 C200.73 349.23 201.88 348.89 202.35 348.5 C202.82 348.11 203.56 347.33 203.8 347.1 Z" fill="#3BB273" stroke="#333" stroke-width="0.35"/>
<circle cx="204" cy="349.4" r="0.75" fill="#000"/>
<line x1="211.28" y1="309.8" x2="211.28" y2="347.4" stroke="#3a3a3a" stroke-width="0.75"/>
<path d="M211.48 347.1 C211.72 347.33 212.46 348.11 212.93 348.5 C213.4 348.89 214.55 349.23 214.28 349.45 C214.01 349.68 211.82 349.78 211.33 349.85 L211.23 349.85 C210.74 349.78 208.55 349.68 208.28 349.45 C208.01 349.23 209.16 348.89 209.63 348.5 C210.1 348.11 210.84 347.33 211.08 347.1 Z" fill="#F558AE" stroke="#333" stroke-width="0.35"/>
<circle cx="211.28" cy="349.4" r="0.75" fill="#000"/>
<line x1="218.56" y1="310.6" x2="218.56" y2="347.4" stroke="#3a3a3a" stroke-width="0.75"/>
<path d="M218.76 347.1 C219 347.33 219.74 348.11 220.21 348.5 C220.68 348.89 221.83 349.23 221.56 349.45 C221.29 349.68 219.1 349.78 218.61 349.85 L218.51 349.85 C218.02 349.78 215.83 349.68 215.56 349.45 C215.29 349.23 216.44 348.89 216.91 348.5 C217.38 348.11 218.12 347.33 218.36 347.1 Z" fill="#663894" stroke="#333" stroke-width="0.35"/>
<circle cx="218.56" cy="349.4" r="0.75" fill="#000"/>
<line x1="233.12" y1="311.8" x2="233.12" y2="347.4" stroke="#3a3a3a" stroke-width="0.75"/>
<path d="M233.32 347.1 C233.56 347.33 234.3 348.11 234.77 348.5 C235.24 348.89 236.39 349.23 236.12 349.45 C235.85 349.68 233.66 349.78 233.17 349.85 L233.07 349.85 C232.58 349.78 230.39 349.68 230.12 349.45 C229.85 349.23 231 348.89 231.47 348.5 C231.94 348.11 232.68 347.33 232.92 347.1 Z" fill="#D2B037" stroke="#333" stroke-width="0.35"/>
<circle cx="233.12" cy="349.4" r="0.75" fill="#000"/>
<line x1="240.4" y1="313" x2="240.4" y2="348.3" stroke="#3a3a3a" stroke-width="0.75"/>
<path d="M240.6 348 C240.79 348.16 241.35 348.71 241.72 348.95 C242.09 349.19 243.01 349.3 242.8 349.45 C242.59 349.6 240.84 349.78 240.45 349.85 L240.35 349.85 C239.96 349.78 238.21 349.6 238 349.45 C237.79 349.3 238.71 349.19 239.08 348.95 C239.45 348.71 240.01 348.16 240.2 348 Z" fill="#333" stroke="#333" stroke-width="0.35"/>
<circle cx="240.4" cy="349.4" r="0.75" fill="#000"/>
<line x1="247.68" y1="315.4" x2="247.68" y2="348.3" stroke="#3a3a3a" stroke-width="0.75"/>
<path d="M247.88 348 C248.07 348.16 248.63 348.71 249 348.95 C249.37 349.19 250.29 349.3 250.08 349.45 C249.87 349.6 248.12 349.78 247.73 349.85 L247.63 349.85 C247.24 349.78 245.49 349.6 245.28 349.45 C245.07 349.3 245.99 349.19 246.36 348.95 C246.73 348.71 247.29 348.16 247.48 348 Z" fill="#333" stroke="#333" stroke-width="0.35"/>
<circle cx="247.68" cy="349.4" r="0.75" fill="#000"/>
<line x1="260.3" y1="313.8" x2="260.3" y2="347.4" stroke="#3a3a3a" stroke-width="0.75"/>
<path d="M260.5 347.1 C260.74 347.33 261.48 348.11 261.95 348.5 C262.42 348.89 263.57 349.23 263.3 349.45 C263.03 349.68 260.84 349.78 260.35 349.85 L260.25 349.85 C259.76 349.78 257.57 349.68 257.3 349.45 C257.03 349.23 258.18 348.89 258.65 348.5 C259.12 348.11 259.86 347.33 260.1 347.1 Z" fill="#3BB273" stroke="#333" stroke-width="0.35"/>
<circle cx="260.3" cy="349.4" r="0.75" fill="#000"/>
<line x1="267.58" y1="324.1" x2="267.58" y2="348.3" stroke="#3a3a3a" stroke-width="0.75"/>
<path d="M267.78 348 C267.97 348.16 268.53 348.71 268.9 348.95 C269.27 349.19 270.19 349.3 269.98 349.45 C269.77 349.6 268.02 349.78 267.63 349.85 L267.53 349.85 C267.14 349.78 265.39 349.6 265.18 349.45 C264.97 349.3 265.89 349.19 266.26 348.95 C266.63 348.71 267.19 348.16 267.38 348 Z" fill="#333" stroke="#333" stroke-width="0.35"/>
<circle cx="267.58" cy="349.4" r="0.75" fill="#000"/>
<line x1="274.86" y1="313.4" x2="274.86" y2="348.3" stroke="#3a3a3a" stroke-width="0.75"/>
<path d="M275.06 348 C275.25 348.16 275.81 348.71 276.18 348.95 C276.55 349.19 277.47 349.3 277.26 349.45 C277.05 349.6 275.3 349.78 274.91 349.85 L274.81 349.85 C274.42 349.78 272.67 349.6 272.46 349.45 C272.25 349.3 273.17 349.19 273.54 348.95 C273.91 348.71 274.47 348.16 274.66 348 Z" fill="#333" stroke="#333" stroke-width="0.35"/>
<circle cx="274.86" cy="349.4" r="0.75" fill="#000"/>
<line x1="282.14" y1="317.7" x2="282.14" y2="348.3" stroke="#3a3a3a" stroke-width="0.75"/>
<path d="M282.34 348 C282.53 348.16 283.09 348.71 283.46 348.95 C283.83 349.19 284.75 349.3 284.54 349.45 C284.33 349.6 282.58 349.78 282.19 349.85 L282.09 349.85 C281.7 349.78 279.95 349.6 279.74 349.45 C279.53 349.3 280.45 349.19 280.82 348.95 C281.19 348.71 281.75 348.16 281.94 348 Z" fill="#333" stroke="#333" stroke-width="0.35"/>
<circle cx="282.14" cy="349.4" r="0.75" fill="#000"/>
<line x1="296.7" y1="318.5" x2="296.7" y2="348.3" stroke="#3a3a3a" stroke-width="0.75"/>
<path d="M296.9 348 C297.09 348.16 297.65 348.71 298.02 348.95 C298.39 349.19 299.31 349.3 299.1 349.45 C298.89 349.6 297.14 349.78 296.75 349.85 L296.65 349.85 C296.26 349.78 294.51 349.6 294.3 349.45 C294.09 349.3 295.01 349.19 295.38 348.95 C295.75 348.71 296.31 348.16 296.5 348 Z" fill="#333" stroke="#333" stroke-width="0.35"/>
<circle cx="296.7" cy="349.4" r="0.75" fill="#000"/>
<line x1="303.98" y1="309.8" x2="303.98" y2="348.3" stroke="#3a3a3a" stroke-width="0.75"/>
<path d="M304.18 348 C304.37 348.16 304.93 348.71 305.3 348.95 C305.67 349.19 306.59 349.3 306.38 349.45 C306.17 349.6 304.42 349.78 304.03 349.85 L303.93 349.85 C303.54 349.78 301.79 349.6 301.58 349.45 C301.37 349.3 302.29 349.19 302.66 348.95 C303.03 348.71 303.59 348.16 303.78 348 Z" fill="#333" stroke="#333" stroke-width="0.35"/>
<circle cx="303.98" cy="349.4" r="0.75" fill="#000"/>
<line x1="316.6" y1="314.6" x2="316.6" y2="347.4" stroke="#3a3a3a" stroke-width="0.75"/>
<path d="M316.8 347.1 C317.04 347.33 317.78 348.11 318.25 348.5 C318.72 348.89 319.87 349.23 319.6 349.45 C319.33 349.68 317.14 349.78 316.65 349.85 L316.55 349.85 C316.06 349.78 313.87 349.68 313.6 349.45 C313.33 349.23 314.48 348.89 314.95 348.5 C315.42 348.11 316.16 347.33 316.4 347.1 Z" fill="#3BB273" stroke="#333" stroke-width="0.35"/>
<circle cx="316.6" cy="349.4" r="0.75" fill="#000"/>
<line x1="323.88" y1="317.3" x2="323.88" y2="347.4" stroke="#3a3a3a" stroke-width="0.75"/>
<path d="M324.08 347.1 C324.32 347.33 325.06 348.11 325.53 348.5 C326 348.89 327.15 349.23 326.88 349.45 C326.61 349.68 324.42 349.78 323.93 349.85 L323.83 349.85 C323.34 349.78 321.15 349.68 320.88 349.45 C320.61 349.23 321.76 348.89 322.23 348.5 C322.7 348.11 323.44 347.33 323.68 347.1 Z" fill="#F558AE" stroke="#333" stroke-width="0.35"/>
<circle cx="323.88" cy="349.4" r="0.75" fill="#000"/>
<line x1="331.16" y1="317.3" x2="331.16" y2="347.4" stroke="#3a3a3a" stroke-width="0.75"/>
<path d="M331.36 347.1 C331.6 347.33 332.34 348.11 332.81 348.5 C333.28 348.89 334.43 349.23 334.16 349.45 C333.89 349.68 331.7 349.78 331.21 349.85 L331.11 349.85 C330.62 349.78 328.43 349.68 328.16 349.45 C327.89 349.23 329.04 348.89 329.51 348.5 C329.98 348.11 330.72 347.33 330.96 347.1 Z" fill="#663894" stroke="#333" stroke-width="0.35"/>
<circle cx="331.16" cy="349.4" r="0.75" fill="#000"/>
<line x1="338.44" y1="315" x2="338.44" y2="347.4" stroke="#3a3a3a" stroke-width="0.75"/>
<path d="M338.64 347.1 C338.88 347.33 339.62 348.11 340.09 348.5 C340.56 348.89 341.71 349.23 341.44 349.45 C341.17 349.68 338.98 349.78 338.49 349.85 L338.39 349.85 C337.9 349.78 335.71 349.68 335.44 349.45 C335.17 349.23 336.32 348.89 336.79 348.5 C337.26 348.11 338 347.33 338.24 347.1 Z" fill="#E2731F" stroke="#333" stroke-width="0.35"/>
<circle cx="338.44" cy="349.4" r="0.75" fill="#000"/>
<line x1="345.72" y1="319.8" x2="345.72" y2="347.4" stroke="#3a3a3a" stroke-width="0.75"/>
<path d="M345.92 347.1 C346.16 347.33 346.9 348.11 347.37 348.5 C347.84 348.89 348.99 349.23 348.72 349.45 C348.45 349.68 346.26 349.78 345.77 349.85 L345.67 349.85 C345.18 349.78 342.99 349.68 342.72 349.45 C342.45 349.23 343.6 348.89 344.07 348.5 C344.54 348.11 345.28 347.33 345.52 347.1 Z" fill="#D2B037" stroke="#333" stroke-width="0.35"/>
<circle cx="345.72" cy="349.4" r="0.75" fill="#000"/>
<line x1="360.28" y1="317" x2="360.28" y2="348.3" stroke="#3a3a3a" stroke-width="0.75"/>
<path d="M360.48 348 C360.67 348.16 361.23 348.71 361.6 348.95 C361.97 349.19 362.89 349.3 362.68 349.45 C362.47 349.6 360.72 349.78 360.33 349.85 L360.23 349.85 C359.84 349.78 358.09 349.6 357.88 349.45 C357.67 349.3 358.59 349.19 358.96 348.95 C359.33 348.71 359.89 348.16 360.08 348 Z" fill="#333" stroke="#333" stroke-width="0.35"/>
<circle cx="360.28" cy="349.4" r="0.75" fill="#000"/>
<line x1="372.9" y1="317.7" x2="372.9" y2="348.3" stroke="#3a3a3a" stroke-width="0.75"/>
<path d="M373.1 348 C373.29 348.16 373.85 348.71 374.22 348.95 C374.59 349.19 375.51 349.3 375.3 349.45 C375.09 349.6 373.34 349.78 372.95 349.85 L372.85 349.85 C372.46 349.78 370.71 349.6 370.5 349.45 C370.29 349.3 371.21 349.19 371.58 348.95 C371.95 348.71 372.51 348.16 372.7 348 Z" fill="#333" stroke="#333" stroke-width="0.35"/>
<circle cx="372.9" cy="349.4" r="0.75" fill="#000"/>
<line x1="380.18" y1="324.1" x2="380.18" y2="348.3" stroke="#3a3a3a" stroke-width="0.75"/>
<path d="M380.38 348 C380.57 348.16 381.13 348.71 381.5 348.95 C381.87 349.19 382.79 349.3 382.58 349.45 C382.37 349.6 380.62 349.78 380.23 349.85 L380.13 349.85 C379.74 349.78 377.99 349.6 377.78 349.45 C377.57 349.3 378.49 349.19 378.86 348.95 C379.23 348.71 379.79 348.16 379.98 348 Z" fill="#333" stroke="#333" stroke-width="0.35"/>
<circle cx="380.18" cy="349.4" r="0.75" fill="#000"/>
<line x1="387.46" y1="325.7" x2="387.46" y2="348.3" stroke="#3a3a3a" stroke-width="0.75"/>
<path d="M387.66 348 C387.85 348.16 388.41 348.71 388.78 348.95 C389.15 349.19 390.07 349.3 389.86 349.45 C389.65 349.6 387.9 349.78 387.51 349.85 L387.41 349.85 C387.02 349.78 385.27 349.6 385.06 349.45 C384.85 349.3 385.77 349.19 386.14 348.95 C386.51 348.71 387.07 348.16 387.26 348 Z" fill="#333" stroke="#333" stroke-width="0.35"/>
<circle cx="387.46" cy="349.4" r="0.75" fill="#000"/>
<line x1="394.74" y1="321.7" x2="394.74" y2="348.3" stroke="#3a3a3a" stroke-width="0.75"/>
<path d="M394.94 348 C395.13 348.16 395.69 348.71 396.06 348.95 C396.43 349.19 397.35 349.3 397.14 349.45 C396.93 349.6 395.18 349.78 394.79 349.85 L394.69 349.85 C394.3 349.78 392.55 349.6 392.34 349.45 C392.13 349.3 393.05 349.19 393.42 348.95 C393.79 348.71 394.35 348.16 394.54 348 Z" fill="#333" stroke="#333" stroke-width="0.35"/>
<circle cx="394.74" cy="349.4" r="0.75" fill="#000"/>
<path d="M402.07 323 C402.14 323.5 402.36 324.83 402.52 326 C402.68 327.17 402.89 328.67 403.02 330 C403.15 331.33 403.32 332.67 403.32 334 C403.32 335.33 403.15 336.67 403.02 338 C402.89 339.33 402.59 340.67 402.52 342 C402.45 343.33 402.34 344.95 402.62 346 C402.9 347.05 403.85 347.72 404.22 348.3 C404.59 348.88 405.15 349.2 404.82 349.5 C404.49 349.8 402.65 350 402.22 350.1 L401.82 350.1 C401.39 350 399.55 349.8 399.22 349.5 C398.89 349.2 399.45 348.88 399.82 348.3 C400.19 347.72 401.14 347.05 401.42 346 C401.7 344.95 401.59 343.33 401.52 342 C401.45 340.67 401.15 339.33 401.02 338 C400.89 336.67 400.72 335.33 400.72 334 C400.72 332.67 400.89 331.33 401.02 330 C401.15 328.67 401.36 327.17 401.52 326 C401.68 324.83 401.89 323.5 401.97 323 Z" fill="#D2B037" stroke="#222" stroke-width="0.35"/>
<circle cx="402.02" cy="349.4" r="0.75" fill="#000"/>
<line x1="409.3" y1="313" x2="409.3" y2="348.3" stroke="#3a3a3a" stroke-width="0.75"/>
<path d="M409.5 348 C409.69 348.16 410.25 348.71 410.62 348.95 C410.99 349.19 411.91 349.3 411.7 349.45 C411.49 349.6 409.74 349.78 409.35 349.85 L409.25 349.85 C408.86 349.78 407.11 349.6 406.9 349.45 C406.69 349.3 407.61 349.19 407.98 348.95 C408.35 348.71 408.91 348.16 409.1 348 Z" fill="#333" stroke="#333" stroke-width="0.35"/>
<circle cx="409.3" cy="349.4" r="0.75" fill="#000"/>
<path d="M35.15 313.4 C35.23 314.17 35.39 316.23 35.6 318 C35.81 319.77 36.15 322.17 36.4 324 C36.65 325.83 36.93 327.67 37.1 329 C37.27 330.33 37.43 330.83 37.4 332 C37.37 333.17 37.15 334.5 36.9 336 C36.65 337.5 36.03 339.58 35.9 341 C35.77 342.42 35.77 343.42 36.1 344.5 C36.43 345.58 37.5 346.67 37.9 347.5 C38.3 348.33 38.93 349.05 38.5 349.5 C38.07 349.95 35.83 350.08 35.3 350.2 L34.9 350.2 C34.37 350.08 32.13 349.95 31.7 349.5 C31.27 349.05 31.9 348.33 32.3 347.5 C32.7 346.67 33.77 345.58 34.1 344.5 C34.43 343.42 34.43 342.42 34.3 341 C34.17 339.58 33.55 337.5 33.3 336 C33.05 334.5 32.83 333.17 32.8 332 C32.77 330.83 32.93 330.33 33.1 329 C33.27 327.67 33.55 325.83 33.8 324 C34.05 322.17 34.39 319.77 34.6 318 C34.81 316.23 34.98 314.17 35.05 313.4 Z" fill="#3BB273" stroke="#222" stroke-width="0.35"/>
<circle cx="35.1" cy="337" r="0.9" fill="#000"/>
<path d="M98.73 312.2 C98.85 312.67 99.1 313.87 99.48 315 C99.85 316.13 100.53 317.48 100.98 319 C101.43 320.52 102.13 322.43 102.18 324.1 C102.23 325.77 101.65 327.35 101.28 329 C100.91 330.65 100.33 332.33 99.98 334 C99.63 335.67 99.26 337.67 99.18 339 C99.1 340.33 99.23 340.92 99.48 342 C99.73 343.08 100.38 344.42 100.68 345.5 C100.98 346.58 101.58 347.72 101.28 348.5 C100.98 349.28 99.28 349.92 98.88 350.2 L98.48 350.2 C98.08 349.92 96.38 349.28 96.08 348.5 C95.78 347.72 96.38 346.58 96.68 345.5 C96.98 344.42 97.63 343.08 97.88 342 C98.13 340.92 98.26 340.33 98.18 339 C98.1 337.67 97.73 335.67 97.38 334 C97.03 332.33 96.45 330.65 96.08 329 C95.71 327.35 95.13 325.77 95.18 324.1 C95.23 322.43 95.93 320.52 96.38 319 C96.83 317.48 97.5 316.13 97.88 315 C98.25 313.87 98.5 312.67 98.63 312.2 Z" fill="#F558AE" stroke="#222" stroke-width="0.35"/>
<circle cx="98.68" cy="328.9" r="0.9" fill="#000"/>
<path d="M162.31 311.8 C162.47 312.33 162.83 313.8 163.26 315 C163.69 316.2 164.46 317.62 164.86 319 C165.26 320.38 165.69 321.8 165.66 323.3 C165.63 324.8 165.03 326.55 164.66 328 C164.29 329.45 163.78 330.67 163.46 332 C163.14 333.33 162.89 333.67 162.76 336 C162.63 338.33 162.53 343.92 162.66 346 C162.79 348.08 163.38 347.87 163.56 348.5 C163.74 349.13 163.94 349.5 163.76 349.8 C163.58 350.1 162.68 350.22 162.46 350.3 L162.06 350.3 C161.84 350.22 160.94 350.1 160.76 349.8 C160.58 349.5 160.78 349.13 160.96 348.5 C161.14 347.87 161.73 348.08 161.86 346 C161.99 343.92 161.89 338.33 161.76 336 C161.63 333.67 161.38 333.33 161.06 332 C160.74 330.67 160.23 329.45 159.86 328 C159.49 326.55 158.89 324.8 158.86 323.3 C158.83 321.8 159.26 320.38 159.66 319 C160.06 317.62 160.83 316.2 161.26 315 C161.69 313.8 162.05 312.33 162.21 311.8 Z" fill="#663894" stroke="#222" stroke-width="0.35"/>
<circle cx="162.26" cy="325.3" r="0.9" fill="#000"/>
<path d="M225.89 297.8 C225.95 298.67 225.98 301.3 226.24 303 C226.5 304.7 227.01 306.5 227.44 308 C227.87 309.5 228.52 310.63 228.84 312 C229.16 313.37 229.37 314.7 229.34 316.2 C229.31 317.7 228.97 319.2 228.64 321 C228.31 322.8 227.71 325 227.34 327 C226.97 329 226.63 331.33 226.44 333 C226.25 334.67 226.23 334.5 226.19 337 C226.15 339.5 226.1 345.95 226.19 348 C226.28 350.05 226.76 348.93 226.74 349.3 C226.71 349.67 226.16 350.05 226.04 350.2 L225.64 350.2 C225.52 350.05 224.96 349.67 224.94 349.3 C224.91 348.93 225.4 350.05 225.49 348 C225.58 345.95 225.53 339.5 225.49 337 C225.45 334.5 225.43 334.67 225.24 333 C225.05 331.33 224.71 329 224.34 327 C223.97 325 223.37 322.8 223.04 321 C222.71 319.2 222.37 317.7 222.34 316.2 C222.31 314.7 222.52 313.37 222.84 312 C223.16 310.63 223.81 309.5 224.24 308 C224.67 306.5 225.18 304.7 225.44 303 C225.7 301.3 225.73 298.67 225.79 297.8 Z" fill="#E2731F" stroke="#222" stroke-width="0.35"/>
<circle cx="225.84" cy="319.8" r="0.9" fill="#000"/>
<path d="M289.47 312.2 C289.6 312.67 289.85 313.87 290.22 315 C290.6 316.13 291.32 317.62 291.72 319 C292.12 320.38 292.64 321.8 292.62 323.3 C292.6 324.8 291.99 326.55 291.62 328 C291.25 329.45 290.72 330.83 290.42 332 C290.12 333.17 289.93 332.33 289.82 335 C289.71 337.67 289.69 345.62 289.77 348 C289.85 350.38 290.35 348.93 290.32 349.3 C290.29 349.67 289.74 350.05 289.62 350.2 L289.22 350.2 C289.1 350.05 288.55 349.67 288.52 349.3 C288.5 348.93 288.99 350.38 289.07 348 C289.15 345.62 289.13 337.67 289.02 335 C288.91 332.33 288.72 333.17 288.42 332 C288.12 330.83 287.59 329.45 287.22 328 C286.85 326.55 286.24 324.8 286.22 323.3 C286.2 321.8 286.72 320.38 287.12 319 C287.52 317.62 288.25 316.13 288.62 315 C289 313.87 289.25 312.67 289.37 312.2 Z" fill="#D2B037" stroke="#222" stroke-width="0.35"/>
<circle cx="289.42" cy="324.5" r="0.9" fill="#000"/>
<line x1="225.84" y1="335" x2="225.84" y2="348.6" stroke="#3a3a3a" stroke-width="0.6"/>
<line x1="289.42" y1="334" x2="289.42" y2="348.6" stroke="#3a3a3a" stroke-width="0.6"/>
<path d="M353.05 309 C353.11 309.83 353.26 312.17 353.4 314 C353.54 315.83 353.63 318.17 353.9 320 C354.17 321.83 354.65 323.5 355 325 C355.35 326.5 355.78 327.82 356 329 C356.22 330.18 356.43 330.93 356.3 332.1 C356.17 333.27 355.65 334.68 355.2 336 C354.75 337.32 353.88 338.08 353.6 340 C353.32 341.92 353.4 345.97 353.5 347.5 C353.6 349.03 354.25 348.75 354.2 349.2 C354.15 349.65 353.37 350.03 353.2 350.2 L352.8 350.2 C352.63 350.03 351.85 349.65 351.8 349.2 C351.75 348.75 352.4 349.03 352.5 347.5 C352.6 345.97 352.68 341.92 352.4 340 C352.12 338.08 351.25 337.32 350.8 336 C350.35 334.68 349.83 333.27 349.7 332.1 C349.57 330.93 349.78 330.18 350 329 C350.22 327.82 350.65 326.5 351 325 C351.35 323.5 351.83 321.83 352.1 320 C352.37 318.17 352.46 315.83 352.6 314 C352.74 312.17 352.89 309.83 352.95 309 Z" fill="#247FBC" stroke="#222" stroke-width="0.35"/>
<circle cx="353" cy="332" r="0.9" fill="#000"/>
<path d="M416.63 314.6 C416.7 315.33 416.89 317.27 417.08 319 C417.27 320.73 417.43 323.17 417.78 325 C418.13 326.83 418.85 328.42 419.18 330 C419.51 331.58 419.81 333.17 419.78 334.5 C419.75 335.83 419.35 336.75 418.98 338 C418.61 339.25 417.9 340.83 417.58 342 C417.26 343.17 417.01 343.92 417.08 345 C417.15 346.08 417.8 347.7 417.98 348.5 C418.16 349.3 418.38 349.5 418.18 349.8 C417.98 350.1 417.01 350.22 416.78 350.3 L416.38 350.3 C416.15 350.22 415.18 350.1 414.98 349.8 C414.78 349.5 415 349.3 415.18 348.5 C415.36 347.7 416.01 346.08 416.08 345 C416.15 343.92 415.9 343.17 415.58 342 C415.26 340.83 414.55 339.25 414.18 338 C413.81 336.75 413.41 335.83 413.38 334.5 C413.35 333.17 413.65 331.58 413.98 330 C414.31 328.42 415.03 326.83 415.38 325 C415.73 323.17 415.89 320.73 416.08 319 C416.27 317.27 416.45 315.33 416.53 314.6 Z" fill="#EA5136" stroke="#222" stroke-width="0.35"/>
<circle cx="416.58" cy="335" r="0.9" fill="#000"/>
<line x1="42.38" y1="404.8" x2="42.38" y2="438.1" stroke="#3a3a3a" stroke-width="0.75"/>
<path d="M42.58 437.8 C42.77 437.96 43.33 438.51 43.7 438.75 C44.07 438.99 44.99 439.1 44.78 439.25 C44.57 439.4 42.82 439.58 42.43 439.65 L42.33 439.65 C41.94 439.58 40.19 439.4 39.98 439.25 C39.77 439.1 40.69 438.99 41.06 438.75 C41.43 438.51 41.99 437.96 42.18 437.8 Z" fill="#F558AE" stroke="#333" stroke-width="0.35"/>
<circle cx="42.38" cy="439.2" r="0.75" fill="#000"/>
<line x1="49.66" y1="409.1" x2="49.66" y2="438.1" stroke="#3a3a3a" stroke-width="0.75"/>
<path d="M49.86 437.8 C50.05 437.96 50.61 438.51 50.98 438.75 C51.35 438.99 52.27 439.1 52.06 439.25 C51.85 439.4 50.1 439.58 49.71 439.65 L49.61 439.65 C49.22 439.58 47.47 439.4 47.26 439.25 C47.05 439.1 47.97 438.99 48.34 438.75 C48.71 438.51 49.27 437.96 49.46 437.8 Z" fill="#333" stroke="#333" stroke-width="0.35"/>
<circle cx="49.66" cy="439.2" r="0.75" fill="#000"/>
<line x1="56.94" y1="406.4" x2="56.94" y2="438.1" stroke="#3a3a3a" stroke-width="0.75"/>
<path d="M57.14 437.8 C57.33 437.96 57.89 438.51 58.26 438.75 C58.63 438.99 59.55 439.1 59.34 439.25 C59.13 439.4 57.38 439.58 56.99 439.65 L56.89 439.65 C56.5 439.58 54.75 439.4 54.54 439.25 C54.33 439.1 55.25 438.99 55.62 438.75 C55.99 438.51 56.55 437.96 56.74 437.8 Z" fill="#333" stroke="#333" stroke-width="0.35"/>
<circle cx="56.94" cy="439.2" r="0.75" fill="#000"/>
<line x1="64.22" y1="413.9" x2="64.22" y2="438.1" stroke="#3a3a3a" stroke-width="0.75"/>
<path d="M64.42 437.8 C64.61 437.96 65.17 438.51 65.54 438.75 C65.91 438.99 66.83 439.1 66.62 439.25 C66.41 439.4 64.66 439.58 64.27 439.65 L64.17 439.65 C63.78 439.58 62.03 439.4 61.82 439.25 C61.61 439.1 62.53 438.99 62.9 438.75 C63.27 438.51 63.83 437.96 64.02 437.8 Z" fill="#333" stroke="#333" stroke-width="0.35"/>
<circle cx="64.22" cy="439.2" r="0.75" fill="#000"/>
<line x1="71.5" y1="410" x2="71.5" y2="438.1" stroke="#3a3a3a" stroke-width="0.75"/>
<path d="M71.7 437.8 C71.89 437.96 72.45 438.51 72.82 438.75 C73.19 438.99 74.11 439.1 73.9 439.25 C73.69 439.4 71.94 439.58 71.55 439.65 L71.45 439.65 C71.06 439.58 69.31 439.4 69.1 439.25 C68.89 439.1 69.81 438.99 70.18 438.75 C70.55 438.51 71.11 437.96 71.3 437.8 Z" fill="#333" stroke="#333" stroke-width="0.35"/>
<circle cx="71.5" cy="439.2" r="0.75" fill="#000"/>
<line x1="78.78" y1="419.1" x2="78.78" y2="438.1" stroke="#3a3a3a" stroke-width="0.75"/>
<path d="M78.98 437.8 C79.17 437.96 79.73 438.51 80.1 438.75 C80.47 438.99 81.39 439.1 81.18 439.25 C80.97 439.4 79.22 439.58 78.83 439.65 L78.73 439.65 C78.34 439.58 76.59 439.4 76.38 439.25 C76.17 439.1 77.09 438.99 77.46 438.75 C77.83 438.51 78.39 437.96 78.58 437.8 Z" fill="#333" stroke="#333" stroke-width="0.35"/>
<circle cx="78.78" cy="439.2" r="0.75" fill="#000"/>
<line x1="91.4" y1="416" x2="91.4" y2="438.1" stroke="#3a3a3a" stroke-width="0.75"/>
<path d="M91.6 437.8 C91.79 437.96 92.35 438.51 92.72 438.75 C93.09 438.99 94.01 439.1 93.8 439.25 C93.59 439.4 91.84 439.58 91.45 439.65 L91.35 439.65 C90.96 439.58 89.21 439.4 89 439.25 C88.79 439.1 89.71 438.99 90.08 438.75 C90.45 438.51 91.01 437.96 91.2 437.8 Z" fill="#333" stroke="#333" stroke-width="0.35"/>
<circle cx="91.4" cy="439.2" r="0.75" fill="#000"/>
<line x1="105.96" y1="413.5" x2="105.96" y2="438.1" stroke="#3a3a3a" stroke-width="0.75"/>
<path d="M106.16 437.8 C106.35 437.96 106.91 438.51 107.28 438.75 C107.65 438.99 108.57 439.1 108.36 439.25 C108.15 439.4 106.4 439.58 106.01 439.65 L105.91 439.65 C105.52 439.58 103.77 439.4 103.56 439.25 C103.35 439.1 104.27 438.99 104.64 438.75 C105.01 438.51 105.57 437.96 105.76 437.8 Z" fill="#333" stroke="#333" stroke-width="0.35"/>
<circle cx="105.96" cy="439.2" r="0.75" fill="#000"/>
<line x1="113.24" y1="409.6" x2="113.24" y2="438.1" stroke="#3a3a3a" stroke-width="0.75"/>
<path d="M113.44 437.8 C113.63 437.96 114.19 438.51 114.56 438.75 C114.93 438.99 115.85 439.1 115.64 439.25 C115.43 439.4 113.68 439.58 113.29 439.65 L113.19 439.65 C112.8 439.58 111.05 439.4 110.84 439.25 C110.63 439.1 111.55 438.99 111.92 438.75 C112.29 438.51 112.85 437.96 113.04 437.8 Z" fill="#333" stroke="#333" stroke-width="0.35"/>
<circle cx="113.24" cy="439.2" r="0.75" fill="#000"/>
<line x1="120.52" y1="419.9" x2="120.52" y2="438.1" stroke="#3a3a3a" stroke-width="0.75"/>
<path d="M120.72 437.8 C120.91 437.96 121.47 438.51 121.84 438.75 C122.21 438.99 123.13 439.1 122.92 439.25 C122.71 439.4 120.96 439.58 120.57 439.65 L120.47 439.65 C120.08 439.58 118.33 439.4 118.12 439.25 C117.91 439.1 118.83 438.99 119.2 438.75 C119.57 438.51 120.13 437.96 120.32 437.8 Z" fill="#333" stroke="#333" stroke-width="0.35"/>
<circle cx="120.52" cy="439.2" r="0.75" fill="#000"/>
<line x1="127.8" y1="406.8" x2="127.8" y2="438.1" stroke="#3a3a3a" stroke-width="0.75"/>
<path d="M128 437.8 C128.19 437.96 128.75 438.51 129.12 438.75 C129.49 438.99 130.41 439.1 130.2 439.25 C129.99 439.4 128.24 439.58 127.85 439.65 L127.75 439.65 C127.36 439.58 125.61 439.4 125.4 439.25 C125.19 439.1 126.11 438.99 126.48 438.75 C126.85 438.51 127.41 437.96 127.6 437.8 Z" fill="#333" stroke="#333" stroke-width="0.35"/>
<circle cx="127.8" cy="439.2" r="0.75" fill="#000"/>
<line x1="135.08" y1="420.7" x2="135.08" y2="438.1" stroke="#3a3a3a" stroke-width="0.75"/>
<path d="M135.28 437.8 C135.47 437.96 136.03 438.51 136.4 438.75 C136.77 438.99 137.69 439.1 137.48 439.25 C137.27 439.4 135.52 439.58 135.13 439.65 L135.03 439.65 C134.64 439.58 132.89 439.4 132.68 439.25 C132.47 439.1 133.39 438.99 133.76 438.75 C134.13 438.51 134.69 437.96 134.88 437.8 Z" fill="#333" stroke="#333" stroke-width="0.35"/>
<circle cx="135.08" cy="439.2" r="0.75" fill="#000"/>
<line x1="147.7" y1="416.4" x2="147.7" y2="438.1" stroke="#3a3a3a" stroke-width="0.75"/>
<path d="M147.9 437.8 C148.09 437.96 148.65 438.51 149.02 438.75 C149.39 438.99 150.31 439.1 150.1 439.25 C149.89 439.4 148.14 439.58 147.75 439.65 L147.65 439.65 C147.26 439.58 145.51 439.4 145.3 439.25 C145.09 439.1 146.01 438.99 146.38 438.75 C146.75 438.51 147.31 437.96 147.5 437.8 Z" fill="#333" stroke="#333" stroke-width="0.35"/>
<circle cx="147.7" cy="439.2" r="0.75" fill="#000"/>
<line x1="154.98" y1="414.3" x2="154.98" y2="438.1" stroke="#3a3a3a" stroke-width="0.75"/>
<path d="M155.18 437.8 C155.37 437.96 155.93 438.51 156.3 438.75 C156.67 438.99 157.59 439.1 157.38 439.25 C157.17 439.4 155.42 439.58 155.03 439.65 L154.93 439.65 C154.54 439.58 152.79 439.4 152.58 439.25 C152.37 439.1 153.29 438.99 153.66 438.75 C154.03 438.51 154.59 437.96 154.78 437.8 Z" fill="#333" stroke="#333" stroke-width="0.35"/>
<circle cx="154.98" cy="439.2" r="0.75" fill="#000"/>
<line x1="169.54" y1="401.1" x2="169.54" y2="438.1" stroke="#3a3a3a" stroke-width="0.75"/>
<path d="M169.74 437.8 C169.93 437.96 170.49 438.51 170.86 438.75 C171.23 438.99 172.15 439.1 171.94 439.25 C171.73 439.4 169.98 439.58 169.59 439.65 L169.49 439.65 C169.1 439.58 167.35 439.4 167.14 439.25 C166.93 439.1 167.85 438.99 168.22 438.75 C168.59 438.51 169.15 437.96 169.34 437.8 Z" fill="#333" stroke="#333" stroke-width="0.35"/>
<circle cx="169.54" cy="439.2" r="0.75" fill="#000"/>
<line x1="176.82" y1="413.1" x2="176.82" y2="438.1" stroke="#3a3a3a" stroke-width="0.75"/>
<path d="M177.02 437.8 C177.21 437.96 177.77 438.51 178.14 438.75 C178.51 438.99 179.43 439.1 179.22 439.25 C179.01 439.4 177.26 439.58 176.87 439.65 L176.77 439.65 C176.38 439.58 174.63 439.4 174.42 439.25 C174.21 439.1 175.13 438.99 175.5 438.75 C175.87 438.51 176.43 437.96 176.62 437.8 Z" fill="#333" stroke="#333" stroke-width="0.35"/>
<circle cx="176.82" cy="439.2" r="0.75" fill="#000"/>
<line x1="184.1" y1="412.7" x2="184.1" y2="438.1" stroke="#3a3a3a" stroke-width="0.75"/>
<path d="M184.3 437.8 C184.49 437.96 185.05 438.51 185.42 438.75 C185.79 438.99 186.71 439.1 186.5 439.25 C186.29 439.4 184.54 439.58 184.15 439.65 L184.05 439.65 C183.66 439.58 181.91 439.4 181.7 439.25 C181.49 439.1 182.41 438.99 182.78 438.75 C183.15 438.51 183.71 437.96 183.9 437.8 Z" fill="#333" stroke="#333" stroke-width="0.35"/>
<circle cx="184.1" cy="439.2" r="0.75" fill="#000"/>
<line x1="191.38" y1="417.2" x2="191.38" y2="438.1" stroke="#3a3a3a" stroke-width="0.75"/>
<path d="M191.58 437.8 C191.77 437.96 192.33 438.51 192.7 438.75 C193.07 438.99 193.99 439.1 193.78 439.25 C193.57 439.4 191.82 439.58 191.43 439.65 L191.33 439.65 C190.94 439.58 189.19 439.4 188.98 439.25 C188.77 439.1 189.69 438.99 190.06 438.75 C190.43 438.51 190.99 437.96 191.18 437.8 Z" fill="#333" stroke="#333" stroke-width="0.35"/>
<circle cx="191.38" cy="439.2" r="0.75" fill="#000"/>
<line x1="204" y1="408.4" x2="204" y2="438.1" stroke="#3a3a3a" stroke-width="0.75"/>
<path d="M204.2 437.8 C204.39 437.96 204.95 438.51 205.32 438.75 C205.69 438.99 206.61 439.1 206.4 439.25 C206.19 439.4 204.44 439.58 204.05 439.65 L203.95 439.65 C203.56 439.58 201.81 439.4 201.6 439.25 C201.39 439.1 202.31 438.99 202.68 438.75 C203.05 438.51 203.61 437.96 203.8 437.8 Z" fill="#333" stroke="#333" stroke-width="0.35"/>
<circle cx="204" cy="439.2" r="0.75" fill="#000"/>
<line x1="211.28" y1="413.1" x2="211.28" y2="438.1" stroke="#3a3a3a" stroke-width="0.75"/>
<path d="M211.48 437.8 C211.67 437.96 212.23 438.51 212.6 438.75 C212.97 438.99 213.89 439.1 213.68 439.25 C213.47 439.4 211.72 439.58 211.33 439.65 L211.23 439.65 C210.84 439.58 209.09 439.4 208.88 439.25 C208.67 439.1 209.59 438.99 209.96 438.75 C210.33 438.51 210.89 437.96 211.08 437.8 Z" fill="#333" stroke="#333" stroke-width="0.35"/>
<circle cx="211.28" cy="439.2" r="0.75" fill="#000"/>
<line x1="218.56" y1="414" x2="218.56" y2="438.1" stroke="#3a3a3a" stroke-width="0.75"/>
<path d="M218.76 437.8 C218.95 437.96 219.51 438.51 219.88 438.75 C220.25 438.99 221.17 439.1 220.96 439.25 C220.75 439.4 219 439.58 218.61 439.65 L218.51 439.65 C218.12 439.58 216.37 439.4 216.16 439.25 C215.95 439.1 216.87 438.99 217.24 438.75 C217.61 438.51 218.17 437.96 218.36 437.8 Z" fill="#333" stroke="#333" stroke-width="0.35"/>
<circle cx="218.56" cy="439.2" r="0.75" fill="#000"/>
<line x1="233.12" y1="406" x2="233.12" y2="438.1" stroke="#3a3a3a" stroke-width="0.75"/>
<path d="M233.32 437.8 C233.51 437.96 234.07 438.51 234.44 438.75 C234.81 438.99 235.73 439.1 235.52 439.25 C235.31 439.4 233.56 439.58 233.17 439.65 L233.07 439.65 C232.68 439.58 230.93 439.4 230.72 439.25 C230.51 439.1 231.43 438.99 231.8 438.75 C232.17 438.51 232.73 437.96 232.92 437.8 Z" fill="#333" stroke="#333" stroke-width="0.35"/>
<circle cx="233.12" cy="439.2" r="0.75" fill="#000"/>
<line x1="240.4" y1="412" x2="240.4" y2="438.1" stroke="#3a3a3a" stroke-width="0.75"/>
<path d="M240.6 437.8 C240.79 437.96 241.35 438.51 241.72 438.75 C242.09 438.99 243.01 439.1 242.8 439.25 C242.59 439.4 240.84 439.58 240.45 439.65 L240.35 439.65 C239.96 439.58 238.21 439.4 238 439.25 C237.79 439.1 238.71 438.99 239.08 438.75 C239.45 438.51 240.01 437.96 240.2 437.8 Z" fill="#333" stroke="#333" stroke-width="0.35"/>
<circle cx="240.4" cy="439.2" r="0.75" fill="#000"/>
<line x1="247.68" y1="412.3" x2="247.68" y2="438.1" stroke="#3a3a3a" stroke-width="0.75"/>
<path d="M247.88 437.8 C248.07 437.96 248.63 438.51 249 438.75 C249.37 438.99 250.29 439.1 250.08 439.25 C249.87 439.4 248.12 439.58 247.73 439.65 L247.63 439.65 C247.24 439.58 245.49 439.4 245.28 439.25 C245.07 439.1 245.99 438.99 246.36 438.75 C246.73 438.51 247.29 437.96 247.48 437.8 Z" fill="#333" stroke="#333" stroke-width="0.35"/>
<circle cx="247.68" cy="439.2" r="0.75" fill="#000"/>
<line x1="260.3" y1="404" x2="260.3" y2="438.1" stroke="#3a3a3a" stroke-width="0.75"/>
<path d="M260.5 437.8 C260.69 437.96 261.25 438.51 261.62 438.75 C261.99 438.99 262.91 439.1 262.7 439.25 C262.49 439.4 260.74 439.58 260.35 439.65 L260.25 439.65 C259.86 439.58 258.11 439.4 257.9 439.25 C257.69 439.1 258.61 438.99 258.98 438.75 C259.35 438.51 259.91 437.96 260.1 437.8 Z" fill="#333" stroke="#333" stroke-width="0.35"/>
<circle cx="260.3" cy="439.2" r="0.75" fill="#000"/>
<line x1="267.58" y1="387.2" x2="267.58" y2="438.1" stroke="#3a3a3a" stroke-width="0.75"/>
<path d="M267.78 437.8 C267.97 437.96 268.53 438.51 268.9 438.75 C269.27 438.99 270.19 439.1 269.98 439.25 C269.77 439.4 268.02 439.58 267.63 439.65 L267.53 439.65 C267.14 439.58 265.39 439.4 265.18 439.25 C264.97 439.1 265.89 438.99 266.26 438.75 C266.63 438.51 267.19 437.96 267.38 437.8 Z" fill="#333" stroke="#333" stroke-width="0.35"/>
<circle cx="267.58" cy="439.2" r="0.75" fill="#000"/>
<line x1="274.86" y1="412.7" x2="274.86" y2="438.1" stroke="#3a3a3a" stroke-width="0.75"/>
<path d="M275.06 437.8 C275.25 437.96 275.81 438.51 276.18 438.75 C276.55 438.99 277.47 439.1 277.26 439.25 C277.05 439.4 275.3 439.58 274.91 439.65 L274.81 439.65 C274.42 439.58 272.67 439.4 272.46 439.25 C272.25 439.1 273.17 438.99 273.54 438.75 C273.91 438.51 274.47 437.96 274.66 437.8 Z" fill="#333" stroke="#333" stroke-width="0.35"/>
<circle cx="274.86" cy="439.2" r="0.75" fill="#000"/>
<line x1="282.14" y1="406.4" x2="282.14" y2="438.1" stroke="#3a3a3a" stroke-width="0.75"/>
<path d="M282.34 437.8 C282.53 437.96 283.09 438.51 283.46 438.75 C283.83 438.99 284.75 439.1 284.54 439.25 C284.33 439.4 282.58 439.58 282.19 439.65 L282.09 439.65 C281.7 439.58 279.95 439.4 279.74 439.25 C279.53 439.1 280.45 438.99 280.82 438.75 C281.19 438.51 281.75 437.96 281.94 437.8 Z" fill="#333" stroke="#333" stroke-width="0.35"/>
<circle cx="282.14" cy="439.2" r="0.75" fill="#000"/>
<line x1="296.7" y1="408" x2="296.7" y2="438.1" stroke="#3a3a3a" stroke-width="0.75"/>
<path d="M296.9 437.8 C297.09 437.96 297.65 438.51 298.02 438.75 C298.39 438.99 299.31 439.1 299.1 439.25 C298.89 439.4 297.14 439.58 296.75 439.65 L296.65 439.65 C296.26 439.58 294.51 439.4 294.3 439.25 C294.09 439.1 295.01 438.99 295.38 438.75 C295.75 438.51 296.31 437.96 296.5 437.8 Z" fill="#333" stroke="#333" stroke-width="0.35"/>
<circle cx="296.7" cy="439.2" r="0.75" fill="#000"/>
<line x1="303.98" y1="404.8" x2="303.98" y2="438.1" stroke="#3a3a3a" stroke-width="0.75"/>
<path d="M304.18 437.8 C304.37 437.96 304.93 438.51 305.3 438.75 C305.67 438.99 306.59 439.1 306.38 439.25 C306.17 439.4 304.42 439.58 304.03 439.65 L303.93 439.65 C303.54 439.58 301.79 439.4 301.58 439.25 C301.37 439.1 302.29 438.99 302.66 438.75 C303.03 438.51 303.59 437.96 303.78 437.8 Z" fill="#333" stroke="#333" stroke-width="0.35"/>
<circle cx="303.98" cy="439.2" r="0.75" fill="#000"/>
<line x1="316.6" y1="408.8" x2="316.6" y2="438.1" stroke="#3a3a3a" stroke-width="0.75"/>
<path d="M316.8 437.8 C316.99 437.96 317.55 438.51 317.92 438.75 C318.29 438.99 319.21 439.1 319 439.25 C318.79 439.4 317.04 439.58 316.65 439.65 L316.55 439.65 C316.16 439.58 314.41 439.4 314.2 439.25 C313.99 439.1 314.91 438.99 315.28 438.75 C315.65 438.51 316.21 437.96 316.4 437.8 Z" fill="#333" stroke="#333" stroke-width="0.35"/>
<circle cx="316.6" cy="439.2" r="0.75" fill="#000"/>
<line x1="323.88" y1="414.8" x2="323.88" y2="438.1" stroke="#3a3a3a" stroke-width="0.75"/>
<path d="M324.08 437.8 C324.27 437.96 324.83 438.51 325.2 438.75 C325.57 438.99 326.49 439.1 326.28 439.25 C326.07 439.4 324.32 439.58 323.93 439.65 L323.83 439.65 C323.44 439.58 321.69 439.4 321.48 439.25 C321.27 439.1 322.19 438.99 322.56 438.75 C322.93 438.51 323.49 437.96 323.68 437.8 Z" fill="#333" stroke="#333" stroke-width="0.35"/>
<circle cx="323.88" cy="439.2" r="0.75" fill="#000"/>
<line x1="331.16" y1="413.5" x2="331.16" y2="438.1" stroke="#3a3a3a" stroke-width="0.75"/>
<path d="M331.36 437.8 C331.55 437.96 332.11 438.51 332.48 438.75 C332.85 438.99 333.77 439.1 333.56 439.25 C333.35 439.4 331.6 439.58 331.21 439.65 L331.11 439.65 C330.72 439.58 328.97 439.4 328.76 439.25 C328.55 439.1 329.47 438.99 329.84 438.75 C330.21 438.51 330.77 437.96 330.96 437.8 Z" fill="#333" stroke="#333" stroke-width="0.35"/>
<circle cx="331.16" cy="439.2" r="0.75" fill="#000"/>
<line x1="338.44" y1="402.4" x2="338.44" y2="438.1" stroke="#3a3a3a" stroke-width="0.75"/>
<path d="M338.64 437.8 C338.83 437.96 339.39 438.51 339.76 438.75 C340.13 438.99 341.05 439.1 340.84 439.25 C340.63 439.4 338.88 439.58 338.49 439.65 L338.39 439.65 C338 439.58 336.25 439.4 336.04 439.25 C335.83 439.1 336.75 438.99 337.12 438.75 C337.49 438.51 338.05 437.96 338.24 437.8 Z" fill="#333" stroke="#333" stroke-width="0.35"/>
<circle cx="338.44" cy="439.2" r="0.75" fill="#000"/>
<line x1="345.72" y1="416" x2="345.72" y2="438.1" stroke="#3a3a3a" stroke-width="0.75"/>
<path d="M345.92 437.8 C346.11 437.96 346.67 438.51 347.04 438.75 C347.41 438.99 348.33 439.1 348.12 439.25 C347.91 439.4 346.16 439.58 345.77 439.65 L345.67 439.65 C345.28 439.58 343.53 439.4 343.32 439.25 C343.11 439.1 344.03 438.99 344.4 438.75 C344.77 438.51 345.33 437.96 345.52 437.8 Z" fill="#333" stroke="#333" stroke-width="0.35"/>
<circle cx="345.72" cy="439.2" r="0.75" fill="#000"/>
<line x1="360.28" y1="404" x2="360.28" y2="438.1" stroke="#3a3a3a" stroke-width="0.75"/>
<path d="M360.48 437.8 C360.67 437.96 361.23 438.51 361.6 438.75 C361.97 438.99 362.89 439.1 362.68 439.25 C362.47 439.4 360.72 439.58 360.33 439.65 L360.23 439.65 C359.84 439.58 358.09 439.4 357.88 439.25 C357.67 439.1 358.59 438.99 358.96 438.75 C359.33 438.51 359.89 437.96 360.08 437.8 Z" fill="#333" stroke="#333" stroke-width="0.35"/>
<circle cx="360.28" cy="439.2" r="0.75" fill="#000"/>
<line x1="372.9" y1="413.3" x2="372.9" y2="438.1" stroke="#3a3a3a" stroke-width="0.75"/>
<path d="M373.1 437.8 C373.29 437.96 373.85 438.51 374.22 438.75 C374.59 438.99 375.51 439.1 375.3 439.25 C375.09 439.4 373.34 439.58 372.95 439.65 L372.85 439.65 C372.46 439.58 370.71 439.4 370.5 439.25 C370.29 439.1 371.21 438.99 371.58 438.75 C371.95 438.51 372.51 437.96 372.7 437.8 Z" fill="#333" stroke="#333" stroke-width="0.35"/>
<circle cx="372.9" cy="439.2" r="0.75" fill="#000"/>
<line x1="380.18" y1="414.3" x2="380.18" y2="438.1" stroke="#3a3a3a" stroke-width="0.75"/>
<path d="M380.38 437.8 C380.57 437.96 381.13 438.51 381.5 438.75 C381.87 438.99 382.79 439.1 382.58 439.25 C382.37 439.4 380.62 439.58 380.23 439.65 L380.13 439.65 C379.74 439.58 377.99 439.4 377.78 439.25 C377.57 439.1 378.49 438.99 378.86 438.75 C379.23 438.51 379.79 437.96 379.98 437.8 Z" fill="#333" stroke="#333" stroke-width="0.35"/>
<circle cx="380.18" cy="439.2" r="0.75" fill="#000"/>
<line x1="387.46" y1="422.9" x2="387.46" y2="438.1" stroke="#3a3a3a" stroke-width="0.75"/>
<path d="M387.66 437.8 C387.85 437.96 388.41 438.51 388.78 438.75 C389.15 438.99 390.07 439.1 389.86 439.25 C389.65 439.4 387.9 439.58 387.51 439.65 L387.41 439.65 C387.02 439.58 385.27 439.4 385.06 439.25 C384.85 439.1 385.77 438.99 386.14 438.75 C386.51 438.51 387.07 437.96 387.26 437.8 Z" fill="#333" stroke="#333" stroke-width="0.35"/>
<circle cx="387.46" cy="439.2" r="0.75" fill="#000"/>
<line x1="394.74" y1="412" x2="394.74" y2="438.1" stroke="#3a3a3a" stroke-width="0.75"/>
<path d="M394.94 437.8 C395.13 437.96 395.69 438.51 396.06 438.75 C396.43 438.99 397.35 439.1 397.14 439.25 C396.93 439.4 395.18 439.58 394.79 439.65 L394.69 439.65 C394.3 439.58 392.55 439.4 392.34 439.25 C392.13 439.1 393.05 438.99 393.42 438.75 C393.79 438.51 394.35 437.96 394.54 437.8 Z" fill="#333" stroke="#333" stroke-width="0.35"/>
<circle cx="394.74" cy="439.2" r="0.75" fill="#000"/>
<line x1="402.02" y1="416" x2="402.02" y2="438.1" stroke="#3a3a3a" stroke-width="0.75"/>
<path d="M402.22 437.8 C402.41 437.96 402.97 438.51 403.34 438.75 C403.71 438.99 404.63 439.1 404.42 439.25 C404.21 439.4 402.46 439.58 402.07 439.65 L401.97 439.65 C401.58 439.58 399.83 439.4 399.62 439.25 C399.41 439.1 400.33 438.99 400.7 438.75 C401.07 438.51 401.63 437.96 401.82 437.8 Z" fill="#333" stroke="#333" stroke-width="0.35"/>
<circle cx="402.02" cy="439.2" r="0.75" fill="#000"/>
<line x1="409.3" y1="412.7" x2="409.3" y2="438.1" stroke="#3a3a3a" stroke-width="0.75"/>
<path d="M409.5 437.8 C409.69 437.96 410.25 438.51 410.62 438.75 C410.99 438.99 411.91 439.1 411.7 439.25 C411.49 439.4 409.74 439.58 409.35 439.65 L409.25 439.65 C408.86 439.58 407.11 439.4 406.9 439.25 C406.69 439.1 407.61 438.99 407.98 438.75 C408.35 438.51 408.91 437.96 409.1 437.8 Z" fill="#333" stroke="#333" stroke-width="0.35"/>
<circle cx="409.3" cy="439.2" r="0.75" fill="#000"/>
<path d="M35.15 397.9 C35.23 398.58 35.41 400.32 35.6 402 C35.79 403.68 36.02 406 36.3 408 C36.58 410 37.07 412.15 37.3 414 C37.53 415.85 37.73 417.43 37.7 419.1 C37.67 420.77 37.37 422.35 37.1 424 C36.83 425.65 36.33 427.55 36.1 429 C35.87 430.45 35.53 431.53 35.7 432.7 C35.87 433.87 36.67 435.02 37.1 436 C37.53 436.98 38.08 437.95 38.3 438.6 C38.52 439.25 38.9 439.62 38.4 439.9 C37.9 440.18 35.82 440.23 35.3 440.3 L34.9 440.3 C34.38 440.23 32.3 440.18 31.8 439.9 C31.3 439.62 31.68 439.25 31.9 438.6 C32.12 437.95 32.67 436.98 33.1 436 C33.53 435.02 34.33 433.87 34.5 432.7 C34.67 431.53 34.33 430.45 34.1 429 C33.87 427.55 33.37 425.65 33.1 424 C32.83 422.35 32.53 420.77 32.5 419.1 C32.47 417.43 32.67 415.85 32.9 414 C33.13 412.15 33.62 410 33.9 408 C34.18 406 34.41 403.68 34.6 402 C34.79 400.32 34.98 398.58 35.05 397.9 Z" fill="#3BB273" stroke="#222" stroke-width="0.35"/>
<circle cx="35.1" cy="425.2" r="0.9" fill="#000"/>
<path d="M98.73 397.9 C98.79 398.75 98.94 400.98 99.08 403 C99.22 405.02 99.44 407.45 99.58 410 C99.72 412.55 99.93 415.8 99.93 418.3 C99.93 420.8 99.7 423.05 99.58 425 C99.46 426.95 99.26 428.67 99.23 430 C99.2 431.33 99.14 431.92 99.38 433 C99.62 434.08 100.28 435.5 100.68 436.5 C101.08 437.5 102.08 438.38 101.78 439 C101.48 439.62 99.36 440 98.88 440.2 L98.48 440.2 C98 440 95.88 439.62 95.58 439 C95.28 438.38 96.28 437.5 96.68 436.5 C97.08 435.5 97.74 434.08 97.98 433 C98.22 431.92 98.16 431.33 98.13 430 C98.1 428.67 97.9 426.95 97.78 425 C97.66 423.05 97.43 420.8 97.43 418.3 C97.43 415.8 97.64 412.55 97.78 410 C97.92 407.45 98.14 405.02 98.28 403 C98.42 400.98 98.57 398.75 98.63 397.9 Z" fill="#F558AE" stroke="#222" stroke-width="0.35"/>
<circle cx="98.68" cy="430.3" r="0.9" fill="#000"/>
<path d="M162.31 398.8 C162.38 399.5 162.55 401.3 162.76 403 C162.97 404.7 163.36 406.98 163.56 409 C163.76 411.02 163.96 413.1 163.96 415.1 C163.96 417.1 163.73 419.13 163.56 421 C163.39 422.87 163.03 424.8 162.96 426.3 C162.89 427.8 162.94 428.72 163.16 430 C163.38 431.28 163.84 432.75 164.26 434 C164.68 435.25 165.38 436.57 165.66 437.5 C165.94 438.43 166.49 439.13 165.96 439.6 C165.43 440.07 163.04 440.18 162.46 440.3 L162.06 440.3 C161.48 440.18 159.09 440.07 158.56 439.6 C158.03 439.13 158.58 438.43 158.86 437.5 C159.14 436.57 159.84 435.25 160.26 434 C160.68 432.75 161.14 431.28 161.36 430 C161.58 428.72 161.63 427.8 161.56 426.3 C161.49 424.8 161.13 422.87 160.96 421 C160.79 419.13 160.56 417.1 160.56 415.1 C160.56 413.1 160.76 411.02 160.96 409 C161.16 406.98 161.55 404.7 161.76 403 C161.97 401.3 162.13 399.5 162.21 398.8 Z" fill="#663894" stroke="#222" stroke-width="0.35"/>
<circle cx="162.26" cy="425.5" r="0.9" fill="#000"/>
<path d="M225.89 398.4 C225.94 399.5 226.03 402.73 226.19 405 C226.35 407.27 226.68 409.78 226.84 412 C227 414.22 227.16 416.3 227.14 418.3 C227.12 420.3 226.89 422.22 226.74 424 C226.59 425.78 226.29 427.33 226.24 429 C226.19 430.67 226.26 432.67 226.44 434 C226.62 435.33 227.02 436.15 227.34 437 C227.66 437.85 228.56 438.57 228.34 439.1 C228.12 439.63 226.42 440.02 226.04 440.2 L225.64 440.2 C225.26 440.02 223.56 439.63 223.34 439.1 C223.12 438.57 224.02 437.85 224.34 437 C224.66 436.15 225.06 435.33 225.24 434 C225.42 432.67 225.49 430.67 225.44 429 C225.39 427.33 225.09 425.78 224.94 424 C224.79 422.22 224.56 420.3 224.54 418.3 C224.52 416.3 224.68 414.22 224.84 412 C225 409.78 225.33 407.27 225.49 405 C225.65 402.73 225.74 399.5 225.79 398.4 Z" fill="#E2731F" stroke="#222" stroke-width="0.35"/>
<circle cx="225.84" cy="427.6" r="0.9" fill="#000"/>
<path d="M289.47 398.8 C289.6 399.33 289.9 400.8 290.22 402 C290.55 403.2 291.05 404.67 291.42 406 C291.79 407.33 292.17 408.62 292.42 410 C292.67 411.38 292.95 412.8 292.92 414.3 C292.89 415.8 292.57 417.22 292.22 419 C291.87 420.78 291.19 423.17 290.82 425 C290.45 426.83 290.18 428.58 290.02 430 C289.86 431.42 289.84 432.33 289.87 433.5 C289.9 434.67 290.06 436.12 290.22 437 C290.38 437.88 290.92 438.3 290.82 438.8 C290.72 439.3 289.82 439.8 289.62 440 L289.22 440 C289.02 439.8 288.12 439.3 288.02 438.8 C287.92 438.3 288.46 437.88 288.62 437 C288.78 436.12 288.94 434.67 288.97 433.5 C289 432.33 288.98 431.42 288.82 430 C288.66 428.58 288.39 426.83 288.02 425 C287.65 423.17 286.97 420.78 286.62 419 C286.27 417.22 285.95 415.8 285.92 414.3 C285.89 412.8 286.17 411.38 286.42 410 C286.67 408.62 287.05 407.33 287.42 406 C287.79 404.67 288.3 403.2 288.62 402 C288.94 400.8 289.25 399.33 289.37 398.8 Z" fill="#D2B037" stroke="#222" stroke-width="0.35"/>
<circle cx="289.42" cy="416.4" r="0.9" fill="#000"/>
<path d="M353.05 388.8 C353.07 390.67 353.15 395.63 353.2 400 C353.25 404.37 353.28 411.33 353.35 415 C353.42 418.67 353.51 420 353.6 422 C353.69 424 353.83 425.5 353.9 427 C353.97 428.5 354.02 429.75 354 431 C353.98 432.25 353.75 433.5 353.8 434.5 C353.85 435.5 354.03 436.23 354.3 437 C354.57 437.77 355.58 438.57 355.4 439.1 C355.22 439.63 353.57 440.02 353.2 440.2 L352.8 440.2 C352.43 440.02 350.78 439.63 350.6 439.1 C350.42 438.57 351.43 437.77 351.7 437 C351.97 436.23 352.15 435.5 352.2 434.5 C352.25 433.5 352.02 432.25 352 431 C351.98 429.75 352.03 428.5 352.1 427 C352.17 425.5 352.31 424 352.4 422 C352.49 420 352.58 418.67 352.65 415 C352.72 411.33 352.75 404.37 352.8 400 C352.85 395.63 352.93 390.67 352.95 388.8 Z" fill="#247FBC" stroke="#222" stroke-width="0.35"/>
<circle cx="353" cy="436.7" r="0.9" fill="#000"/>
<path d="M416.63 410.2 C416.67 411.17 416.81 413.7 416.88 416 C416.95 418.3 417.01 421.67 417.08 424 C417.15 426.33 417.23 428.33 417.28 430 C417.33 431.67 417.26 432.92 417.38 434 C417.5 435.08 417.68 435.73 417.98 436.5 C418.28 437.27 418.91 438.03 419.18 438.6 C419.45 439.17 419.98 439.62 419.58 439.9 C419.18 440.18 417.25 440.23 416.78 440.3 L416.38 440.3 C415.91 440.23 413.98 440.18 413.58 439.9 C413.18 439.62 413.71 439.17 413.98 438.6 C414.25 438.03 414.88 437.27 415.18 436.5 C415.48 435.73 415.66 435.08 415.78 434 C415.9 432.92 415.83 431.67 415.88 430 C415.93 428.33 416.01 426.33 416.08 424 C416.15 421.67 416.2 418.3 416.28 416 C416.35 413.7 416.49 411.17 416.53 410.2 Z" fill="#EA5136" stroke="#222" stroke-width="0.35"/>
<circle cx="416.58" cy="436.5" r="0.9" fill="#000"/>
<text class="s" x="433.4" y="16.7" font-size="16.5" font-weight="bold" fill="#000">E</text>
<text class="s" x="434.6" y="258.3" font-size="16.5" font-weight="bold" fill="#000">F</text>
<g transform="scale(0.1)" stroke-width="16.6" fill="none">
<path stroke="#655bbb" d="M4838 1871v62"/>
<path stroke="#6a5ebd" d="M4806 1871v62"/>
<path stroke="#7365c0" d="M4854 1871v62"/>
<path stroke="#7769c2" d="M4902 1871v62"/>
<path stroke="#7c6cc4" d="M5211 1283v61"/>
<path stroke="#8575c8" d="M6397 400v62"/>
<path stroke="#897aca" d="M4822 1871v62M4870 1871v62M4951 1871v62M5015 1871v62M5326 1283v61M6267 929v62M6397 929v62M6397 1047v62"/>
<path stroke="#8e7fcd" d="M4822 1577v62M4790 1871v62M4886 1871v62M4935 1871v62M4999 1871v62M6397 282v62M6267 2283v62"/>
<path stroke="#9284cf" d="M4902 1695v61M5047 1871v62M6397 753v62M6397 871v61M6397 2283v62"/>
<path stroke="#9789d1" d="M4517 1871v62M4967 1871v62M5326 1871v62M5392 1930v62M5326 2283v62M6397 635v62M6397 1224v62"/>
<path stroke="#9b8dd3" d="M4566 2165v62M4983 1871v62M4806 2224v62M5113 1283v61M5310 1283v61M6202 929v62M6202 1047v62M6267 1047v62M6121 1224v62M6153 1224v62M6397 1341v62M6234 2283v62"/>
<path stroke="#a092d5" d="M4935 1459v62M4999 1989v62M5343 1283v61M5392 1283v61M5326 1518v62M5211 1930v62M5503 1871v62M5584 1871v62M5698 2224v62M6153 400v62M6169 400v62M6234 929v62M6234 1047v62M6234 1106v62M6397 1106v62M6202 1224v62M6251 1224v62M6169 2283v62M6589 1047v62"/>
<path stroke="#a497d7" d="M4566 871v61M4517 1518v62M4697 1518v62M4729 1871v62M4517 2165v62M4806 1518v62M4822 1695v61M5063 1871v62M5293 1283v61M5211 1518v62M5211 2224v62M5211 2283v62M5503 1989v62M5681 2224v62M6137 282v62M6267 400v62M6169 753v62M6202 753v62M6088 1224v62M6283 1224v62M6316 1224v62M6397 1283v61M6557 1047v62M6589 1224v62"/>
<path stroke="#a99cda" d="M4484 871v61M4680 1871v62M4631 2224v62M4806 282v62M4806 1459v62M4838 1518v62M4806 1577v62M4854 1577v62M4886 1577v62M5063 1636v62M4918 1871v62M5326 282v62M5359 1695v61M5359 1930v62M5343 2283v62M5681 1989v62M5698 1989v62M6153 635v62M6137 871v61M6202 871v61M6137 929v62M6153 929v62M6186 929v62M6169 1224v62M6397 1400v62M6589 576v62M6589 929v62"/>
<path stroke="#ada1dc" d="M4697 871v61M4615 1871v62M4697 1871v62M4517 1930v62M4484 2165v62M4838 400v62M4886 1636v62M4983 1636v62M4838 2224v62M5211 635v62M5359 1283v61M5211 1636v62M5392 1695v61M5293 1871v62M5343 1871v62M5310 1930v62M5310 2107v61M5211 2165v62M5326 2224v62M5698 576v62M5600 1989v62M5860 2048v62M5940 2048v62M6299 400v62M6267 753v62M6316 753v62M6381 753v62M6397 812v62M6169 929v62M6332 1047v62M6153 1106v62M6202 1106v62M6267 1106v62M6202 1283v61M6202 1341v62M6299 2283v62M6381 2283v62"/>
<path stroke="#b2a6de" d="M4517 694v62M4517 871v61M4729 1047v62M4533 1871v62M4664 1871v62M4615 1930v62M4697 1989v62M4648 2165v62M4713 2165v62M4951 400v62M4951 1047v62M4951 1459v62M4902 1518v62M4902 1577v62M4951 1577v62M4838 1636v62M4951 1636v62M4838 1695v61M5031 1871v62M4822 1989v62M4854 1989v62M4886 1989v62M4935 1989v62M4918 2107v61M4854 2224v62M5129 1283v61M5145 1283v61M5162 1283v61M5343 1518v62M5211 1871v62M5392 1871v62M5326 1930v62M5211 2107v61M5310 2283v62M5552 1871v62M5665 2224v62M5827 2048v62M6267 282v62M6202 341v62M6299 341v62M6202 400v62M6381 400v62M6348 753v62M6104 929v62M6299 929v62M6381 929v62M6251 1047v62M6348 1047v62M6234 1224v62M6332 1224v62M6348 1224v62M6381 1224v62M6202 2283v62M6476 929v62M6557 929v62M6670 1106v62"/>
<path stroke="#b7ace0" d="M4648 871v61M4713 871v61M4517 1047v62M4713 1047v62M4484 1871v62M4582 1871v62M4713 1871v62M4582 2165v62M4631 2165v62M4697 2165v62M4517 2224v62M5015 1577v62M4806 1636v62M4999 1636v62M4806 1989v62M4902 1989v62M4983 1989v62M5326 694v62M5178 1283v61M5195 1283v61M5162 1518v62M5162 1812v62M5310 1812v62M5129 1871v62M5343 1930v62M5392 2283v62M5503 576v62M5681 635v62M5487 1871v62M5519 1871v62M5600 1871v62M5617 1871v62M5633 1871v62M5698 1871v62M5698 2165v62M5584 2224v62M5746 2048v62M5811 2165v62M6121 282v62M6299 282v62M6218 400v62M6202 635v62M6218 753v62M6234 753v62M6251 753v62M6088 929v62M6121 929v62M6218 929v62M6169 1047v62M6283 1047v62M6381 1047v62M6397 1165v62M6104 1224v62M6137 1224v62M6267 1224v62M6088 2283v62M6251 2283v62M6557 400v62M6492 1106v62M6589 1106v62M6428 1165v62M6557 1165v62M6541 1224v62"/>
<path stroke="#bdb2e2" d="M4501 871v61M4615 871v61M4599 1871v62M4631 1871v62M4566 1930v62M4631 1930v62M4648 1930v62M4517 1989v62M4599 2224v62M4902 282v62M4886 1459v62M4999 1459v62M4822 1518v62M4790 1577v62M4838 1577v62M5031 1577v62M5047 1577v62M4935 1695v61M4951 1695v61M4838 1989v62M4951 1989v62M4886 2107v61M4822 2224v62M4870 2224v62M5015 2224v62M5211 400v62M5195 635v62M5326 635v62M5392 635v62M5343 694v62M5326 1224v62M5244 1283v61M5260 1283v61M5326 1400v62M5195 1871v62M5211 1989v62M5343 2107v61M5359 2283v62M5633 635v62M5503 1695v61M5698 1695v61M5584 1989v62M5633 1989v62M5503 2224v62M5552 2224v62M5633 2224v62M5908 2048v62M6022 2048v62M6038 2048v62M6054 2048v62M5940 2224v62M6153 282v62M6397 341v62M6316 400v62M6397 459v61M6137 635v62M6299 635v62M6202 694v62M6169 871v61M6251 929v62M6283 929v62M6397 988v62M6299 1047v62M6316 1047v62M6137 1106v62M6218 1106v62M6332 1106v62M6186 1224v62M6218 1224v62M6299 1224v62M6234 1283v61M6267 1283v61M6202 1400v62M6104 2283v62M6153 2283v62M6316 2283v62M6557 576v62M6557 812v62M6605 871v61M6444 929v62M6492 929v62M6525 929v62M6428 1047v62M6460 1106v62M6702 1106v62M6653 1224v62"/>
<path stroke="#c2b8e4" d="M4484 1047v62M4631 1047v62M4697 1047v62M4762 1047v62M4517 1341v62M4517 1695v61M4697 1695v61M4550 1871v62M4697 1930v62M4517 2048v62M4631 2107v61M4550 2165v62M4599 2165v62M4680 2165v62M4631 2283v62M4951 341v62M4822 1459v62M4838 1459v62M4854 1459v62M4983 1459v62M4999 1518v62M5063 1518v62M4983 1577v62M4999 1577v62M4822 1636v62M4854 1695v61M4886 1695v61M5047 1695v61M4999 1812v62M4838 2107v61M4902 2107v61M5293 635v62M5211 694v62M5211 1224v62M5375 1283v61M5211 1341v62M5359 1341v62M5129 1695v61M5326 1695v61M5277 1871v62M5310 1871v62M5359 1871v62M5375 1871v62M5096 1930v62M5113 1930v62M5145 1930v62M5162 1930v62M5375 1930v62M5326 2048v62M5310 2224v62M5392 2224v62M5096 2283v62M5113 2283v62M5228 2283v62M5698 871v61M5698 988v62M5438 1989v62M5649 1989v62M5487 2224v62M5617 2224v62M5649 2224v62M6022 1930v62M5843 2048v62M6218 282v62M6283 282v62M6332 282v62M6234 400v62M6397 576v62M6169 635v62M6267 635v62M6299 694v62M6088 753v62M6299 753v62M6332 753v62M6202 812v62M6104 871v61M6348 929v62M6364 1047v62M6283 1106v62M6299 1106v62M6381 1106v62M6299 1283v61M6218 1400v62M6299 1400v62M6234 1695v61M6121 2283v62M6186 2283v62M6476 459v61M6525 635v62M6525 753v62M6589 753v62M6734 929v62M6476 1047v62M6702 1047v62M6476 1106v62M6653 1106v62M6670 1165v62M6428 1224v62M6509 1224v62M6589 1400v62"/>
<path stroke="#c7bee6" d="M4697 694v62M4501 1047v62M4664 1930v62M4762 1930v62M4713 2048v62M4648 2107v61M4501 2165v62M4615 2165v62M4838 282v62M4822 400v62M4854 400v62M4902 400v62M4838 1047v62M4999 1047v62M4790 1459v62M4951 1518v62M4967 1577v62M4854 1636v62M4935 1636v62M5047 1636v62M4806 1695v61M4967 1695v61M4918 1812v62M4870 1989v62M5015 1989v62M5047 2048v62M4822 2107v61M4854 2107v61M4935 2107v61M4918 2224v62M4935 2224v62M4983 2224v62M4999 2283v62M5343 282v62M5392 282v62M5359 635v62M5310 1518v62M5343 1812v62M5195 1930v62M5244 1930v62M5129 2283v62M5552 576v62M5600 635v62M5698 635v62M5698 694v62M5536 1871v62M5681 1871v62M5503 1930v62M5681 1930v62M5487 1989v62M5536 1989v62M5633 2165v62M5519 2224v62M5568 2224v62M5957 635v62M5811 929v62M5860 929v62M5892 988v62M5811 1930v62M5843 1930v62M5908 1930v62M5811 2048v62M6234 282v62M6137 341v62M6283 400v62M6348 400v62M6397 694v62M6137 753v62M6153 753v62M6267 871v61M6299 871v61M6316 929v62M6332 929v62M6153 1047v62M6218 1047v62M6218 1283v61M6169 1341v62M6381 1341v62M6234 1400v62M6137 2283v62M6348 2283v62M6589 459v61M6525 576v62M6557 694v62M6557 871v61M6621 1047v62M6476 1224v62M6557 1224v62M6589 1283v61"/>
<path stroke="#cdc3e8" d="M4762 694v62M4664 1047v62M4631 1518v62M4468 1871v62M4746 1871v62M4762 1871v62M4484 1930v62M4501 1989v62M4713 1989v62M4729 2048v62M4517 2107v61M4697 2224v62M4713 2224v62M4697 2283v62M4983 282v62M4935 400v62M4806 1047v62M4902 1047v62M4918 1047v62M4838 1165v62M4854 1400v62M4951 1400v62M5047 1400v62M5047 1459v62M5063 1459v62M4854 1518v62M4935 1518v62M4935 1577v62M4790 1695v61M4983 1695v61M4854 1812v62M4935 1812v62M4951 1812v62M4918 1989v62M5063 1989v62M4951 2048v62M4951 2107v61M4806 2165v62M4902 2224v62M4902 2283v62M5129 282v62M5162 635v62M5392 694v62M5211 1459v62M5326 1459v62M5178 1518v62M5162 1636v62M5326 1812v62M5228 1871v62M5129 1930v62M5359 1989v62M5392 1989v62M5129 2048v62M5195 2048v62M5260 2224v62M5195 2283v62M5260 2283v62M5552 459v61M5681 459v61M5487 576v62M5681 753v62M5422 871v61M5633 1047v62M5698 1047v62M5633 1577v62M5438 1871v62M5422 1989v62M5471 1989v62M5552 1989v62M5617 1989v62M5714 1989v62M5503 2165v62M5422 2224v62M5746 341v62M6022 635v62M6038 929v62M5860 1871v62M5778 1930v62M6054 1930v62M5924 2048v62M5811 2224v62M5908 2224v62M5843 2283v62M6202 282v62M6364 282v62M6251 400v62M6137 459v61M6088 635v62M6218 635v62M6137 694v62M6234 694v62M6364 753v62M6218 812v62M6283 812v62M6364 929v62M6234 988v62M6283 988v62M6121 1047v62M6121 1106v62M6251 1106v62M6364 1224v62M6137 1341v62M6283 1400v62M6332 1400v62M6218 2283v62M6283 2283v62M6492 400v62M6589 400v62M6428 459v61M6444 576v62M6653 576v62M6557 635v62M6589 635v62M6670 753v62M6476 871v61M6589 871v61M6734 871v61M6428 929v62M6509 1047v62M6541 1047v62M6605 1047v62M6686 1047v62M6605 1106v62M6492 1165v62M6605 1224v62M6621 1224v62M6589 1871v62"/>
<path stroke="#d2c9ea" d="M4517 635v62M4697 635v62M4631 694v62M4631 871v61M4533 1047v62M4566 1047v62M4517 1400v62M4713 1400v62M4501 1518v62M4615 1518v62M4517 1636v62M4501 1930v62M4533 1930v62M4615 1989v62M4631 1989v62M4648 1989v62M4762 1989v62M4697 2107v61M4713 2107v61M4762 2107v61M4664 2165v62M4762 2165v62M4550 2224v62M4566 2224v62M4648 2224v62M4951 282v62M4935 341v62M4967 400v62M4822 1047v62M4951 1165v62M4806 1341v62M4902 1459v62M4918 1459v62M4790 1518v62M4918 1518v62M4967 1518v62M5015 1518v62M5063 1577v62M5015 1695v61M4790 1989v62M5047 1989v62M5063 2107v61M4854 2165v62M4951 2224v62M5047 2224v62M4838 2283v62M5113 282v62M5359 282v62M5326 812v62M5375 1224v62M5228 1283v61M5195 1341v62M5326 1341v62M5310 1400v62M5310 1636v62M5326 1636v62M5343 1636v62M5145 1695v61M5162 1695v61M5211 1695v61M5343 1695v61M5113 1871v62M5129 1989v62M5326 1989v62M5375 1989v62M5392 2048v62M5162 2107v61M5326 2107v61M5162 2224v62M5277 2224v62M5145 2283v62M5178 2283v62M5293 2283v62M5375 2283v62M5600 459v61M5633 459v61M5438 635v62M5698 812v62M5617 1047v62M5455 1695v61M5665 1695v61M5714 1871v62M5600 1930v62M5633 1930v62M5665 1989v62M5633 2048v62M5681 2048v62M5552 2165v62M5714 2224v62M5811 635v62M5989 929v62M5892 1047v62M6022 1283v61M5908 1812v62M5957 1871v62M5989 1871v62M6022 1871v62M5940 1930v62M5778 2048v62M5892 2048v62M5892 2224v62M5924 2283v62M6104 282v62M6348 282v62M6104 400v62M6332 400v62M6397 517v62M6121 635v62M6381 635v62M6153 812v62M6234 812v62M6299 812v62M6121 871v61M6234 871v61M6283 871v61M6104 1106v62M6169 1106v62M6169 1283v61M6137 1400v62M6348 1400v62M6397 1695v61M6557 517v62M6476 576v62M6492 576v62M6589 812v62M6428 871v61M6621 871v61M6605 929v62M6460 1047v62M6492 1047v62M6525 1106v62M6637 1106v62M6589 1165v62M6492 1400v62M6557 1400v62M6702 1400v62"/>
<path stroke="#d7cfec" d="M4484 694v62M4533 871v61M4729 871v61M4517 929v62M4550 1047v62M4582 1047v62M4582 1518v62M4713 1518v62M4517 1812v62M4697 1812v62M4582 1930v62M4550 1989v62M4566 1989v62M4631 2048v62M4501 2107v61M4566 2107v61M4484 2224v62M4533 2283v62M4599 2283v62M4648 2283v62M4680 2283v62M4854 459v61M4854 929v62M5063 1047v62M4854 1165v62M4822 1341v62M4854 1341v62M4806 1400v62M4838 1400v62M5031 1459v62M4983 1518v62M4870 1577v62M4918 1636v62M4967 1636v62M4918 1695v61M4999 1695v61M4822 1812v62M4838 1812v62M4902 1812v62M4999 2048v62M4806 2107v61M4999 2107v61M4999 2165v62M4886 2224v62M5031 2224v62M4886 2283v62M5145 282v62M5211 282v62M5375 282v62M5195 400v62M5260 400v62M5326 400v62M5343 400v62M5260 635v62M5343 635v62M5145 694v62M5211 812v62M5326 1165v62M5343 1224v62M5277 1283v61M5343 1341v62M5162 1400v62M5211 1400v62M5343 1400v62M5244 1518v62M5113 1636v62M5392 1636v62M5277 1695v61M5310 1695v61M5211 1812v62M5359 1812v62M5162 1871v62M5310 1989v62M5211 2048v62M5277 2048v62M5310 2048v62M5359 2048v62M5277 2107v61M5096 2165v62M5277 2165v62M5310 2165v62M5326 2165v62M5343 2224v62M5375 2224v62M5244 2283v62M5503 400v62M5681 400v62M5487 459v61M5503 459v61M5584 576v62M5617 576v62M5649 576v62M5617 635v62M5665 635v62M5487 694v62M5600 988v62M5471 1047v62M5633 1459v62M5681 1577v62M5617 1636v62M5471 1695v61M5519 1695v61M5681 1695v61M5422 1871v62M5471 1871v62M5568 1871v62M5665 1930v62M5600 2224v62M5487 2283v62M5940 341v62M6022 341v62M6038 341v62M5860 576v62M5940 576v62M5746 871v61M5746 929v62M5892 929v62M6054 929v62M5811 1224v62M5940 1224v62M5957 1224v62M6022 1224v62M5746 1930v62M5892 1930v62M5989 1930v62M5795 2048v62M5957 2048v62M5908 2165v62M6022 2165v62M5989 2283v62M6022 2283v62M6088 282v62M6186 282v62M6088 400v62M6186 400v62M6348 635v62M6153 694v62M6218 694v62M6251 694v62M6137 812v62M6364 871v61M6381 871v61M6088 988v62M6137 988v62M6137 1047v62M6186 1106v62M6137 1283v61M6348 1283v61M6234 1341v62M6088 1400v62M6169 1400v62M6251 1400v62M6381 1400v62M6332 2283v62M6428 400v62M6541 459v61M6557 459v61M6686 459v61M6589 694v62M6476 753v62M6492 753v62M6525 812v62M6653 929v62M6686 929v62M6428 1106v62M6444 1106v62M6670 1224v62M6702 1224v62M6670 1459v62M6460 1636v62M6557 1636v62M6428 1871v62M6670 1871v62"/>
<path stroke="#ddd5ee" d="M4501 694v62M4713 694v62M4517 753v62M4615 753v62M4582 871v61M4746 871v61M4599 1047v62M4746 1400v62M4468 1518v62M4484 1518v62M4664 1518v62M4501 1871v62M4566 1871v62M4648 1871v62M4713 1930v62M4680 2107v61M4533 2165v62M4729 2165v62M4746 2165v62M4533 2224v62M4468 2283v62M4484 2283v62M4550 2283v62M4762 2283v62M4918 282v62M4935 282v62M4999 400v62M5015 400v62M4854 1047v62M4886 1047v62M4822 1165v62M4999 1165v62M4902 1341v62M4870 1459v62M4967 1459v62M4870 1518v62M4886 1518v62M5031 1518v62M5047 1518v62M4918 1577v62M4790 1636v62M5015 1636v62M5031 1695v61M4886 1812v62M5063 1812v62M5031 1989v62M4822 2048v62M4935 2048v62M4967 2107v61M4935 2165v62M4951 2165v62M5310 282v62M5392 400v62M5096 694v62M5310 694v62M5343 753v62M5277 1224v62M5310 1224v62M5096 1283v61M5375 1341v62M5195 1459v62M5113 1518v62M5129 1518v62M5359 1518v62M5113 1695v61M5228 1812v62M5293 1812v62M5375 1812v62M5145 1871v62M5178 1871v62M5260 1930v62M5293 1930v62M5145 1989v62M5162 1989v62M5277 1989v62M5343 1989v62M5260 2048v62M5113 2107v61M5195 2107v61M5113 2224v62M5129 2224v62M5359 2224v62M5162 2283v62M5487 400v62M5600 576v62M5633 576v62M5665 576v62M5503 635v62M5503 694v62M5519 871v61M5584 929v62M5503 1636v62M5487 1695v61M5584 1695v61M5649 1871v62M5665 1871v62M5471 1930v62M5698 1930v62M5568 1989v62M5471 2165v62M5811 282v62M5811 576v62M5778 635v62M5778 929v62M5827 929v62M5860 1106v62M5908 1224v62M6038 1224v62M5811 1871v62M5843 1871v62M5811 1989v62M5876 2048v62M5778 2224v62M5892 2283v62M6251 282v62M6234 341v62M6267 341v62M6121 400v62M6137 400v62M6364 400v62M6153 459v61M6202 459v61M6283 635v62M6169 694v62M6316 694v62M6364 694v62M6283 753v62M6267 812v62M6316 812v62M6088 871v61M6153 988v62M6088 1047v62M6104 1047v62M6186 1047v62M6121 1165v62M6169 1165v62M6202 1165v62M6234 1165v62M6121 1283v61M6153 1283v61M6251 1283v61M6104 1400v62M6267 1400v62M6397 1459v62M6397 1577v62M6397 2048v62M6364 2283v62M6492 459v61M6605 459v61M6734 517v62M6605 576v62M6734 576v62M6734 635v62M6670 812v62M6702 871v61M6573 929v62M6718 929v62M6444 1047v62M6557 1106v62M6460 1165v62M6476 1165v62M6460 1224v62M6525 1224v62M6573 1224v62M6686 1224v62M6718 1224v62M6428 1341v62M6476 1400v62M6476 1871v62M6653 1871v62"/>
<path stroke="#e2dbf0" d="M4533 635v62M4762 635v62M4615 694v62M4680 694v62M4550 753v62M4566 753v62M4599 871v61M4680 871v61M4762 871v61M4713 929v62M4517 1165v62M4631 1165v62M4501 1283v61M4550 1341v62M4615 1341v62M4484 1459v62M4517 1459v62M4615 1459v62M4631 1459v62M4697 1459v62M4599 1518v62M4599 1695v61M4550 1930v62M4762 2048v62M4615 2107v61M4501 2224v62M4615 2224v62M4664 2224v62M4870 282v62M5063 282v62M4806 341v62M4918 400v62M4935 459v61M4854 1106v62M4886 1400v62M4902 1636v62M4806 1930v62M4967 1989v62M4806 2048v62M4838 2048v62M4790 2107v61M4999 2224v62M5129 635v62M5145 635v62M5310 635v62M5162 1224v62M5228 1224v62M5244 1224v62M5260 1224v62M5392 1224v62M5162 1341v62M5392 1341v62M5375 1400v62M5260 1459v62M5310 1459v62M5359 1459v62M5260 1518v62M5375 1695v61M5096 1812v62M5129 1812v62M5178 1812v62M5096 1871v62M5244 1871v62M5178 1930v62M5293 1989v62M5113 2048v62M5129 2107v61M5178 2107v61M5392 2107v61M5162 2165v62M5145 2224v62M5277 2283v62M5422 400v62M5536 459v61M5568 459v61M5681 576v62M5455 635v62M5519 635v62M5536 635v62M5552 635v62M5665 694v62M5698 753v62M5503 812v62M5503 871v61M5633 871v61M5649 871v61M5487 988v62M5519 1459v62M5665 1459v62M5503 1577v62M5665 1577v62M5552 1636v62M5584 1636v62M5633 1636v62M5665 1636v62M5681 1636v62M5552 1695v61M5600 1812v62M5698 1812v62M5455 1871v62M5519 1930v62M5519 1989v62M5422 2165v62M5617 2165v62M5681 2165v62M5552 2283v62M5698 2283v62M5860 282v62M5778 341v62M5811 341v62M5989 341v62M5957 694v62M5778 871v61M5811 871v61M5908 929v62M5924 929v62M6005 929v62M5860 1165v62M5892 1165v62M5827 1224v62M5940 1812v62M6054 1812v62M5876 1930v62M5843 1989v62M5973 2048v62M5989 2048v62M6005 2048v62M5957 2165v62M5746 2283v62M5811 2283v62M5957 2283v62M6169 282v62M6316 282v62M6169 341v62M6381 341v62M6234 517v62M6121 576v62M6202 576v62M6234 576v62M6088 694v62M6283 694v62M6348 694v62M6153 871v61M6251 871v61M6121 988v62M6218 988v62M6267 988v62M6299 988v62M6088 1106v62M6088 1165v62M6381 1283v61M6283 1341v62M6364 1400v62M6397 1518v62M6589 282v62M6670 400v62M6444 459v61M6734 459v61M6670 635v62M6428 694v62M6557 753v62M6428 812v62M6460 812v62M6476 812v62M6492 812v62M6653 871v61M6670 871v61M6541 929v62M6621 929v62M6670 929v62M6653 1047v62M6670 1047v62M6718 1106v62M6686 1165v62M6444 1224v62M6557 1341v62M6589 1341v62M6525 1400v62M6605 1400v62M6509 1459v62M6525 1459v62M6589 1459v62M6734 1636v62M6444 1871v62M6557 1871v62"/>
<path stroke="#e6e0f2" d="M4697 576v62M4550 635v62M4648 635v62M4664 694v62M4631 753v62M4697 753v62M4550 871v61M4664 871v61M4615 1047v62M4680 1047v62M4648 1283v61M4664 1283v61M4615 1400v62M4631 1400v62M4501 1459v62M4599 1459v62M4664 1459v62M4680 1459v62M4713 1459v62M4533 1518v62M4550 1518v62M4648 1518v62M4648 1812v62M4599 1930v62M4729 1930v62M4746 1930v62M4680 1989v62M4550 2048v62M4664 2048v62M4484 2107v61M4533 2107v61M4729 2107v61M4582 2224v62M4729 2224v62M4501 2283v62M4566 2283v62M4615 2283v62M4790 282v62M4822 282v62M4854 282v62M4999 282v62M4838 341v62M4838 929v62M4886 929v62M4935 929v62M4790 1047v62M4951 1106v62M4806 1165v62M4886 1165v62M4902 1165v62M4935 1165v62M4806 1224v62M5015 1459v62M4870 1636v62M4870 1695v61M5063 1695v61M4918 2048v62M4967 2048v62M4902 2165v62M4790 2224v62M5063 2283v62M5195 282v62M5260 282v62M5343 341v62M5343 576v62M5113 635v62M5228 635v62M5162 694v62M5260 694v62M5129 753v62M5145 753v62M5310 753v62M5392 753v62M5392 812v62M5392 1165v62M5195 1224v62M5359 1224v62M5145 1400v62M5359 1400v62M5375 1459v62M5392 1459v62M5145 1518v62M5277 1518v62M5392 1518v62M5195 1636v62M5195 1695v61M5392 1812v62M5260 1871v62M5277 1930v62M5096 2048v62M5178 2048v62M5244 2048v62M5375 2048v62M5228 2107v61M5293 2107v61M5359 2107v61M5129 2165v62M5096 2224v62M5178 2224v62M5195 2224v62M5617 459v61M5665 459v61M5698 459v61M5438 576v62M5471 576v62M5536 576v62M5552 694v62M5617 929v62M5633 929v62M5681 988v62M5665 1047v62M5681 1047v62M5698 1459v62M5552 1577v62M5438 1695v61M5536 1695v61M5503 1812v62M5665 1812v62M5681 1812v62M5487 1930v62M5698 2048v62M5503 2107v61M5519 2165v62M5665 2165v62M5503 2283v62M5940 282v62M5778 576v62M5746 635v62M5892 694v62M5989 694v62M6022 694v62M5989 812v62M5843 871v61M5989 871v61M5989 988v62M5811 1047v62M5940 1047v62M6054 1047v62M5811 1106v62M5843 1224v62M5989 1224v62M5811 1283v61M5908 1283v61M5957 1283v61M6022 1812v62M5892 1871v62M5860 1930v62M5924 1930v62M5811 2107v61M5860 2224v62M5957 2224v62M5762 2283v62M5940 2283v62M6038 2283v62M6054 2283v62M6299 459v61M6088 517v62M6169 517v62M6202 517v62M6234 635v62M6251 635v62M6121 694v62M6104 753v62M6121 753v62M6186 753v62M6381 812v62M6169 988v62M6348 1106v62M6299 1165v62M6104 1283v61M6299 1341v62M6348 1341v62M6153 1400v62M6316 1400v62M6202 1518v62M6169 1695v61M6460 459v61M6525 459v61M6653 459v61M6670 459v61M6702 459v61M6718 459v61M6686 576v62M6686 694v62M6428 753v62M6460 753v62M6509 753v62M6444 812v62M6509 871v61M6573 871v61M6525 1047v62M6509 1106v62M6444 1165v62M6509 1165v62M6541 1165v62M6734 1165v62M6734 1224v62M6460 1283v61M6476 1341v62M6670 1341v62M6428 1400v62M6444 1400v62M6557 1459v62M6589 1518v62M6670 1636v62M6525 1871v62"/>
<path stroke="#ebe5f3" d="M4533 576v62M4631 576v62M4533 694v62M4599 694v62M4648 694v62M4664 753v62M4680 753v62M4713 753v62M4550 929v62M4566 929v62M4648 1047v62M4501 1341v62M4697 1341v62M4550 1400v62M4648 1400v62M4697 1400v62M4648 1459v62M4566 1518v62M4680 1518v62M4762 1518v62M4615 1636v62M4664 1695v61M4599 1812v62M4484 1989v62M4533 1989v62M4615 2048v62M4468 2107v61M4468 2165v62M4729 2283v62M4746 2283v62M4886 282v62M4967 282v62M4870 400v62M4886 400v62M5063 400v62M4999 459v61M4806 929v62M4822 929v62M4854 988v62M4983 1047v62M5031 1047v62M4935 1341v62M4951 1341v62M4999 1341v62M4902 1400v62M5031 1636v62M4790 1812v62M4806 1812v62M4999 1930v62M4790 2048v62M4854 2048v62M4886 2048v62M5031 2107v61M4838 2165v62M4886 2165v62M4822 2283v62M4951 2283v62M5129 400v62M5343 459v61M5392 459v61M5392 517v62M5211 576v62M5326 576v62M5375 694v62M5195 812v62M5310 812v62M5129 1224v62M5260 1341v62M5310 1341v62M5096 1518v62M5178 1636v62M5260 1636v62M5293 1695v61M5228 1930v62M5195 1989v62M5244 1989v62M5228 2165v62M5698 341v62M5617 400v62M5584 459v61M5455 576v62M5519 576v62M5714 576v62M5422 635v62M5471 635v62M5714 635v62M5617 694v62M5681 694v62M5665 812v62M5552 871v61M5681 871v61M5714 871v61M5503 929v62M5471 988v62M5584 988v62M5487 1047v62M5584 1459v62M5681 1459v62M5455 1577v62M5455 1636v62M5487 1636v62M5600 1636v62M5698 1636v62M5633 1695v61M5552 1812v62M5536 1930v62M5455 1989v62M5503 2048v62M5471 2224v62M5471 2283v62M5519 2283v62M5584 2283v62M5957 341v62M6054 341v62M5811 459v61M6022 517v62M6054 517v62M5860 635v62M5746 694v62M5762 871v61M5908 871v61M5940 871v61M6022 871v61M5843 929v62M5940 929v62M5811 988v62M5924 1047v62M6022 1047v62M5940 1106v62M5908 1165v62M5892 1224v62M5746 1812v62M5778 1871v62M5876 1871v62M5924 1871v62M5989 2107v61M6022 2107v61M5827 2165v62M5892 2165v62M5746 2224v62M5876 2224v62M6038 2224v62M5827 2283v62M6332 341v62M6153 517v62M6283 517v62M6104 576v62M6137 576v62M6153 576v62M6364 576v62M6316 635v62M6267 694v62M6088 812v62M6121 812v62M6169 812v62M6332 812v62M6348 871v61M6202 988v62M6316 1106v62M6364 1106v62M6218 1165v62M6088 1283v61M6332 1341v62M6153 1636v62M6234 1636v62M6492 282v62M6686 282v62M6444 341v62M6476 400v62M6525 400v62M6686 400v62M6460 576v62M6541 576v62M6573 576v62M6476 694v62M6525 694v62M6686 753v62M6460 871v61M6686 871v61M6460 929v62M6734 1047v62M6541 1106v62M6525 1165v62M6476 1283v61M6734 1283v61M6509 1341v62M6509 1400v62M6718 1400v62M6734 1400v62M6476 1459v62M6525 1518v62M6541 1871v62M6573 1871v62M6702 1871v62"/>
<path stroke="#efeaf4" d="M4566 576v62M4615 635v62M4680 635v62M4729 694v62M4468 871v61M4533 929v62M4615 929v62M4648 929v62M4517 988v62M4468 1047v62M4615 1283v61M4746 1518v62M4697 1636v62M4484 1695v61M4566 1695v61M4615 1695v61M4550 1812v62M4615 1812v62M4680 1812v62M4713 1812v62M4468 1930v62M4582 1989v62M4599 1989v62M4697 2048v62M4599 2107v61M4680 2224v62M4582 2283v62M4713 2283v62M4886 341v62M4918 341v62M4806 400v62M4983 400v62M4902 459v61M4902 929v62M4951 929v62M4999 929v62M4806 1106v62M4838 1341v62M5047 1341v62M5063 1341v62M4822 1400v62M4999 1400v62M5063 1400v62M4838 1930v62M4967 1930v62M5015 2048v62M4983 2165v62M5063 2224v62M5293 282v62M5113 400v62M5277 400v62M5293 400v62M5211 517v62M5343 517v62M5195 576v62M5392 576v62M5244 635v62M5375 635v62M5129 694v62M5277 812v62M5211 1165v62M5145 1224v62M5293 1224v62M5113 1400v62M5375 1518v62M5359 1577v62M5096 1695v61M5145 1812v62M5260 1812v62M5113 1989v62M5178 1989v62M5162 2048v62M5293 2048v62M5359 2165v62M5392 2165v62M5228 2224v62M5293 2224v62M5665 341v62M5455 400v62M5665 400v62M5487 635v62M5584 635v62M5471 694v62M5600 694v62M5617 753v62M5633 753v62M5487 812v62M5633 812v62M5681 812v62M5487 871v61M5584 871v61M5519 929v62M5681 929v62M5698 929v62M5552 1047v62M5438 1459v62M5536 1459v62M5649 1459v62M5714 1459v62M5487 1577v62M5600 1577v62M5698 1577v62M5584 1812v62M5633 1812v62M5438 1930v62M5584 1930v62M5681 2107v61M5487 2165v62M5649 2283v62M5957 282v62M5860 341v62M5940 459v61M6038 576v62M5989 635v62M6005 871v61M5876 929v62M5843 988v62M5957 988v62M6054 988v62M5827 1047v62M5957 1047v62M6038 1047v62M5746 1224v62M6054 1224v62M5860 1812v62M5908 1871v62M5940 1871v62M5762 1930v62M6005 1930v62M5778 1989v62M5940 1989v62M6038 1989v62M5908 2107v61M5940 2107v61M5746 2165v62M5843 2165v62M5876 2165v62M5989 2224v62M6022 2224v62M5908 2283v62M6381 282v62M6088 341v62M6348 341v62M6088 459v61M6121 459v61M6169 459v61M6332 459v61M6137 517v62M6251 517v62M6283 576v62M6348 576v62M6104 635v62M6186 635v62M6381 694v62M6104 812v62M6364 812v62M6218 871v61M6316 871v61M6332 871v61M6186 988v62M6137 1165v62M6153 1165v62M6251 1165v62M6267 1165v62M6186 1283v61M6316 1283v61M6364 1283v61M6267 1341v62M6186 1400v62M6218 1459v62M6121 1695v61M6316 1695v61M6364 1695v61M6589 341v62M6621 459v61M6670 576v62M6702 576v62M6428 635v62M6460 635v62M6686 635v62M6621 812v62M6492 871v61M6702 929v62M6589 988v62M6573 1047v62M6573 1106v62M6686 1106v62M6734 1106v62M6573 1165v62M6637 1165v62M6653 1165v62M6718 1165v62M6492 1224v62M6525 1283v61M6444 1341v62M6605 1341v62M6718 1341v62M6653 1400v62M6670 1400v62M6525 1636v62M6589 1636v62M6589 1695v61M6621 1871v62"/>
<path stroke="#f3eef6" d="M4517 576v62M4615 576v62M4680 576v62M4762 576v62M4468 635v62M4501 635v62M4599 635v62M4664 635v62M4713 635v62M4566 694v62M4501 753v62M4648 753v62M4599 929v62M4631 929v62M4517 1106v62M4484 1165v62M4697 1165v62M4615 1224v62M4697 1224v62M4697 1283v61M4484 1636v62M4631 1695v61M4648 1695v61M4664 1989v62M4729 1989v62M4484 2048v62M4648 2048v62M4517 2283v62M5015 282v62M4902 341v62M5063 341v62M5047 400v62M4838 459v61M4806 988v62M4999 988v62M4935 1047v62M5047 1165v62M4918 1341v62M4967 1341v62M4935 1400v62M4983 1812v62M4854 1930v62M4886 1930v62M4870 2048v62M5031 2048v62M4806 2283v62M4854 2283v62M4918 2283v62M5162 282v62M5228 400v62M5310 400v62M5359 400v62M5375 400v62M5195 517v62M5113 694v62M5195 694v62M5359 694v62M5195 753v62M5326 753v62M5145 812v62M5375 812v62M5293 1341v62M5392 1400v62M5096 1459v62M5162 1459v62M5293 1459v62M5195 1518v62M5228 1518v62M5096 1636v62M5195 1812v62M5145 2048v62M5343 2048v62M5244 2107v61M5260 2107v61M5519 400v62M5552 400v62M5698 517v62M5422 694v62M5633 694v62M5487 753v62M5503 753v62M5584 812v62M5600 812v62M5536 871v61M5568 871v61M5617 871v61M5487 929v62M5503 988v62M5552 988v62M5649 988v62M5503 1047v62M5584 1047v62M5649 1047v62M5487 1459v62M5600 1459v62M5617 1459v62M5584 1577v62M5600 1695v61M5714 1695v61M5617 1812v62M5422 1930v62M5617 1930v62M5714 1930v62M5552 2048v62M5487 2107v61M5698 2107v61M5438 2224v62M5455 2224v62M5536 2224v62M5617 2283v62M5762 282v62M5843 282v62M5892 282v62M5908 282v62M6022 282v62M5795 341v62M5876 341v62M6005 341v62M5908 517v62M5843 635v62M5876 635v62M5924 635v62M5940 694v62M5811 753v62M5989 753v62M5811 812v62M5876 812v62M5860 871v61M6054 871v61M5762 988v62M6038 988v62M5778 1047v62M5860 1224v62M5876 1224v62M5924 1224v62M5973 1224v62M5940 1283v61M5989 1283v61M5811 1753v62M5746 1871v62M5795 1930v62M5827 1930v62M6038 1930v62M5762 2048v62M5778 2165v62M5973 2224v62M6005 2224v62M6251 341v62M6316 341v62M6251 459v61M6267 459v61M6364 635v62M6348 812v62M6364 988v62M6283 1165v62M6381 1165v62M6153 1341v62M6218 1341v62M6364 1341v62M6137 1459v62M6153 1577v62M6283 1636v62M6397 1636v62M6137 1695v61M6670 282v62M6492 341v62M6460 400v62M6621 400v62M6509 459v61M6589 517v62M6670 517v62M6621 576v62M6444 635v62M6476 635v62M6734 694v62M6605 753v62M6653 753v62M6702 812v62M6444 871v61M6525 871v61M6509 929v62M6605 1165v62M6621 1400v62M6460 1459v62M6492 1459v62M6492 1518v62M6509 1871v62M6605 1871v62M6637 1871v62"/>
<path stroke="#f8f3f8" d="M4501 576v62M4550 576v62M4648 576v62M4566 635v62M4631 635v62M4468 694v62M4550 694v62M4746 694v62M4533 753v62M4762 753v62M4697 812v62M4501 929v62M4762 929v62M4517 1224v62M4550 1224v62M4566 1283v61M4599 1283v61M4533 1341v62M4713 1341v62M4501 1400v62M4533 1459v62M4713 1636v62M4533 1695v61M4713 1695v61M4762 1695v61M4582 1812v62M4680 1930v62M4468 1989v62M4746 1989v62M4533 2048v62M4566 2048v62M5047 282v62M4983 341v62M4999 341v62M4790 400v62M4886 459v61M5031 929v62M4870 1047v62M4967 1047v62M5015 1047v62M5047 1106v62M5015 1165v62M4999 1283v61M4870 1341v62M4886 1341v62M4790 1400v62M4967 1400v62M4870 1812v62M5047 1812v62M4870 2107v61M5047 2107v61M4790 2165v62M4918 2165v62M5031 2283v62M5392 341v62M5162 400v62M5178 400v62M5244 400v62M5178 459v61M5310 459v61M5310 576v62M5178 635v62M5178 694v62M5293 694v62M5228 812v62M5113 1165v62M5293 1400v62M5228 1459v62M5293 1518v62M5392 1577v62M5129 1636v62M5145 1636v62M5228 1695v61M5260 1695v61M5211 1753v62M5113 1812v62M5244 1812v62M5260 1989v62M5096 2107v61M5178 2165v62M5244 2165v62M5471 341v62M5438 459v61M5471 459v61M5519 459v61M5568 576v62M5455 694v62M5714 694v62M5519 753v62M5649 753v62M5422 812v62M5455 812v62M5714 812v62M5422 929v62M5422 988v62M5536 988v62M5633 988v62M5714 1047v62M5503 1459v62M5552 1459v62M5665 1518v62M5617 1577v62M5714 1636v62M5568 1695v61M5698 1753v62M5438 1812v62M5600 2107v61M5665 2107v61M5438 2165v62M5584 2165v62M5714 2165v62M5455 2283v62M5665 2283v62M5876 282v62M6038 282v62M5843 341v62M5924 341v62M5778 459v61M5892 459v61M5957 576v62M5892 635v62M5908 635v62M5940 635v62M6038 635v62M5860 694v62M5908 694v62M6005 753v62M5892 871v61M6038 871v61M5957 929v62M6022 929v62M5795 988v62M5908 988v62M5940 988v62M6022 988v62M5989 1047v62M5957 1165v62M5778 1224v62M5843 1283v61M5892 1283v61M5860 1400v62M5811 1812v62M5892 1812v62M5957 1812v62M5973 1812v62M6005 1871v62M6005 1989v62M6022 1989v62M5795 2165v62M6038 2165v62M6054 2165v62M5843 2224v62M5778 2283v62M5795 2283v62M5860 2283v62M5973 2283v62M6104 459v61M6234 459v61M6316 459v61M6381 459v61M6104 694v62M6251 812v62M6186 1165v62M6364 1165v62M6332 1283v61M6088 1341v62M6186 1341v62M6234 1518v62M6251 1636v62M6267 1636v62M6153 1695v61M6202 2048v62M6557 282v62M6476 341v62M6670 341v62M6444 400v62M6702 400v62M6637 459v61M6444 517v62M6476 517v62M6702 517v62M6428 576v62M6718 576v62M6509 635v62M6573 635v62M6605 635v62M6653 635v62M6702 635v62M6734 753v62M6573 812v62M6718 812v62M6541 871v61M6718 1047v62M6621 1106v62M6637 1224v62M6718 1283v61M6460 1341v62M6492 1341v62M6686 1341v62M6460 1400v62M6541 1400v62M6686 1400v62M6573 1459v62M6670 1518v62M6702 1518v62M6444 1636v62M6492 1636v62M6509 1636v62M6605 1636v62M6702 1636v62M6460 1695v61M6557 1695v61M6670 1695v61M6492 1871v62M6589 1930v62"/>
<path stroke="#fcf8f9" d="M4468 576v62M4484 576v62M4582 576v62M4582 635v62M4582 694v62M4468 753v62M4582 753v62M4729 753v62M4517 812v62M4697 1106v62M4713 1106v62M4648 1165v62M4501 1224v62M4517 1283v61M4533 1283v61M4550 1283v61M4713 1283v61M4582 1341v62M4599 1341v62M4648 1341v62M4550 1459v62M4729 1518v62M4533 1636v62M4566 1636v62M4631 1636v62M4648 1636v62M4762 1636v62M4468 1812v62M4729 1812v62M4599 2048v62M4550 2107v61M4468 2224v62M4746 2224v62M4822 341v62M5015 341v62M4806 459v61M4983 459v61M4935 871v61M4790 929v62M4838 988v62M5047 1047v62M4999 1106v62M5063 1106v62M5063 1165v62M4838 1224v62M4951 1224v62M4838 1283v61M5015 1400v62M4935 1753v62M5031 1812v62M4951 1930v62M5015 2107v61M4822 2165v62M4967 2165v62M5031 2165v62M4967 2224v62M4870 2283v62M4967 2283v62M5015 2283v62M5096 282v62M5178 282v62M5228 282v62M5277 282v62M5096 400v62M5145 400v62M5195 459v61M5326 459v61M5113 517v62M5244 576v62M5096 635v62M5277 635v62M5211 753v62M5293 753v62M5129 812v62M5162 812v62M5244 812v62M5343 812v62M5359 812v62M5113 1224v62M5096 1341v62M5113 1341v62M5129 1341v62M5129 1400v62M5228 1400v62M5260 1400v62M5343 1459v62M5228 1636v62M5244 1636v62M5359 1636v62M5633 341v62M5536 400v62M5633 400v62M5714 459v61M5422 576v62M5649 635v62M5568 694v62M5584 694v62M5649 694v62M5552 812v62M5649 812v62M5455 871v61M5600 871v61M5600 929v62M5617 988v62M5438 1047v62M5698 1106v62M5471 1459v62M5633 1518v62M5568 1577v62M5649 1695v61M5487 1812v62M5455 1930v62M5568 1930v62M5519 2048v62M5600 2048v62M5568 2165v62M5600 2165v62M5536 2283v62M5600 2283v62M5681 2283v62M5989 282v62M6054 282v62M5843 400v62M6022 459v61M5860 517v62M5762 576v62M5892 576v62M5908 576v62M6054 576v62M5762 635v62M6054 694v62M5746 753v62M5860 812v62M5957 871v61M5795 929v62M5746 988v62M5778 988v62M5746 1047v62M5908 1047v62M5908 1106v62M5989 1106v62M5746 1165v62M5811 1165v62M5843 1165v62M6038 1165v62M5762 1224v62M5795 1224v62M6005 1224v62M5746 1283v61M5908 1400v62M5843 1812v62M5876 1812v62M5973 1871v62M5973 1930v62M5860 1989v62M5989 1989v62M6054 1989v62M5746 2107v61M5876 2107v61M5892 2107v61M5957 2107v61M5940 2165v62M6005 2165v62M5924 2224v62M6005 2283v62M6121 341v62M6283 341v62M6218 459v61M6299 517v62M6169 576v62M6218 576v62M6267 576v62M6332 635v62M6186 812v62M6186 871v61M6104 988v62M6348 988v62M6316 1165v62M6283 1283v61M6121 1341v62M6316 1341v62M6121 1400v62M6234 1459v62M6169 1518v62M6267 1518v62M6169 1577v62M6234 1577v62M6251 1577v62M6381 1636v62M6202 1695v61M6397 2165v62M6444 282v62M6734 282v62M6428 341v62M6557 341v62M6734 400v62M6573 459v61M6525 517v62M6621 517v62M6509 576v62M6541 635v62M6621 635v62M6573 753v62M6541 812v62M6605 812v62M6653 812v62M6718 871v61M6428 988v62M6492 988v62M6557 988v62M6686 988v62M6621 1165v62M6492 1283v61M6541 1341v62M6734 1341v62M6686 1518v62M6444 1695v61M6718 1871v62M6734 1871v62"/>
<path stroke="#fcf3f1" d="M4484 635v62M4664 929v62M4697 929v62M4729 929v62M4746 1047v62M4533 1106v62M4680 1106v62M4615 1165v62M4566 1224v62M4713 1224v62M4582 1283v61M4762 1283v61M4664 1341v62M4484 1400v62M4533 1400v62M4566 1400v62M4582 1400v62M4680 1400v62M4484 1577v62M4517 1577v62M4697 1577v62M4599 1636v62M4746 1636v62M4517 1753v62M4484 1812v62M4501 2048v62M4582 2107v61M4664 2107v61M4746 2107v61M4762 2224v62M4664 2283v62M5031 282v62M4951 459v61M4918 929v62M5015 929v62M5047 929v62M4902 1283v61M5063 1283v61M4790 1341v62M4918 1930v62M4983 1930v62M5063 2048v62M4983 2107v61M5015 2165v62M4790 2283v62M4935 2283v62M5244 282v62M5162 341v62M5260 341v62M5326 341v62M5162 459v61M5211 459v61M5359 459v61M5162 517v62M5260 517v62M5113 576v62M5162 576v62M5260 576v62M5359 576v62M5228 694v62M5113 753v62M5096 812v62M5343 1165v62M5178 1341v62M5178 1400v62M5113 1459v62M5145 1459v62M5129 1577v62M5211 1577v62M5277 1636v62M5375 1636v62M5244 1695v61M5343 1753v62M5096 1989v62M5228 2048v62M5375 2107v61M5145 2165v62M5195 2165v62M5260 2165v62M5375 2165v62M5244 2224v62M5698 282v62M5617 341v62M5584 400v62M5455 459v61M5649 459v61M5617 517v62M5422 753v62M5438 753v62M5552 753v62M5600 753v62M5552 929v62M5665 988v62M5519 1047v62M5536 1047v62M5503 1106v62M5698 1518v62M5422 1577v62M5536 1577v62M5422 1636v62M5471 1636v62M5536 1636v62M5422 1812v62M5714 1812v62M5422 2048v62M5536 2048v62M5584 2048v62M5617 2048v62M5665 2048v62M5536 2165v62M5892 341v62M5908 341v62M5973 341v62M5746 576v62M5924 576v62M5973 576v62M6022 576v62M5827 635v62M5811 694v62M5876 753v62M5762 812v62M5843 812v62M5940 812v62M5827 871v61M5924 871v61M5973 929v62M5860 988v62M5876 988v62M5924 988v62M5843 1047v62M5860 1047v62M6005 1047v62M5843 1106v62M5973 1283v61M6038 1283v61M6054 1283v61M6022 1400v62M5908 1753v62M5778 1812v62M5924 1812v62M6038 1871v62M5957 1930v62M5762 1989v62M5827 1989v62M5860 2165v62M5973 2165v62M5876 2283v62M6153 341v62M6283 459v61M6364 459v61M6316 576v62M6186 694v62M6332 694v62M6316 988v62M6332 1165v62M6088 1577v62M6283 1577v62M6299 1577v62M6299 1636v62M6218 1695v61M6267 1695v61M6234 2048v62M6476 282v62M6509 282v62M6525 282v62M6541 341v62M6573 341v62M6605 341v62M6653 341v62M6718 400v62M6653 694v62M6670 694v62M6444 753v62M6541 753v62M6621 753v62M6718 753v62M6686 812v62M6734 812v62M6637 929v62M6476 988v62M6621 988v62M6428 1283v61M6557 1283v61M6621 1283v61M6670 1283v61M6525 1341v62M6621 1341v62M6653 1341v62M6605 1459v62M6621 1459v62M6460 1518v62M6476 1518v62M6605 1518v62M6653 1518v62M6428 1636v62M6476 1636v62M6653 1636v62M6428 1695v61M6718 1695v61M6460 1871v62M6686 1871v62"/>
<path stroke="#fbeeea" d="M4713 576v62M4729 635v62M4501 812v62M4615 812v62M4582 929v62M4680 988v62M4566 1106v62M4566 1341v62M4762 1341v62M4729 1400v62M4533 1577v62M4762 1577v62M4501 1636v62M4501 1695v61M4550 1695v61M4566 1812v62M4631 1812v62M4664 1812v62M4582 2048v62M4967 341v62M5047 459v61M4806 517v62M4967 929v62M4822 988v62M4935 988v62M4902 1106v62M4790 1165v62M4918 1165v62M4983 1165v62M4822 1224v62M4854 1224v62M4854 1283v61M5015 1283v61M5031 1341v62M4918 1400v62M5063 1753v62M4967 1812v62M5015 1812v62M4902 1930v62M5015 1930v62M4983 2048v62M4870 2165v62M5359 341v62M5145 459v61M5260 459v61M5277 459v61M5375 459v61M5096 517v62M5228 517v62M5326 517v62M5375 517v62M5129 576v62M5228 576v62M5162 753v62M5228 753v62M5359 753v62M5260 812v62M5293 812v62M5178 1165v62M5096 1224v62M5228 1341v62M5277 1341v62M5195 1400v62M5244 1400v62M5277 1400v62M5096 1577v62M5326 1577v62M5375 1577v62M5145 1753v62M5326 1753v62M5228 1989v62M5293 2165v62M5343 2165v62M5600 341v62M5438 400v62M5422 459v61M5633 517v62M5536 694v62M5584 753v62M5455 929v62M5471 929v62M5438 988v62M5714 988v62M5422 1047v62M5600 1047v62M5665 1106v62M5503 1518v62M5438 1577v62M5649 1577v62M5714 1577v62M5519 1636v62M5649 1636v62M5422 1695v61M5471 1812v62M5649 1930v62M5438 2048v62M5519 2107v61M5617 2107v61M5746 282v62M5827 282v62M6005 282v62M5762 341v62M5843 459v61M5860 459v61M5811 517v62M5940 517v62M5957 517v62M6038 517v62M5973 635v62M6005 635v62M6054 635v62M5843 694v62M5876 694v62M6022 812v62M6054 812v62M5762 929v62M5827 988v62M5762 1047v62M5892 1106v62M5924 1106v62M5973 1106v62M6022 1106v62M6054 1106v62M5924 1165v62M6022 1165v62M5940 1400v62M5827 1812v62M5989 1812v62M6054 1871v62M6038 2107v61M5924 2165v62M5989 2165v62M5827 2224v62M6218 341v62M6218 517v62M6348 517v62M6251 988v62M6267 1459v62M6299 1459v62M6348 1459v62M6104 1518v62M6104 1577v62M6137 1577v62M6202 1577v62M6218 1636v62M6348 1636v62M6104 1695v61M6283 1695v61M6428 282v62M6460 282v62M6541 282v62M6718 282v62M6525 341v62M6541 400v62M6573 400v62M6460 517v62M6541 517v62M6605 517v62M6686 517v62M6718 517v62M6637 576v62M6637 635v62M6444 694v62M6492 694v62M6605 694v62M6637 753v62M6509 812v62M6541 988v62M6605 988v62M6605 1283v61M6653 1283v61M6702 1283v61M6573 1400v62M6573 1518v62M6492 1577v62M6557 1577v62M6541 1636v62M6573 1636v62M6621 1636v62M6718 1636v62M6509 1695v61M6541 1695v61M6573 1695v61M6492 1930v62"/>
<path stroke="#fbe9e2" d="M4484 929v62M4746 929v62M4631 1106v62M4484 1283v61M4631 1283v61M4746 1283v61M4484 1341v62M4631 1341v62M4599 1400v62M4566 1459v62M4582 1459v62M4746 1459v62M4550 1577v62M4550 1636v62M4680 1695v61M4729 1695v61M4582 1753v62M4501 1812v62M4762 1812v62M4854 341v62M5031 400v62M4822 459v61M4967 459v61M4854 517v62M5063 517v62M5063 929v62M4790 988v62M4902 988v62M5047 988v62M4838 1106v62M4902 1224v62M4918 1224v62M4999 1224v62M4806 1283v61M4935 1283v61M4983 1341v62M4870 1400v62M4983 1400v62M5031 1400v62M5063 1930v62M4983 2283v62M5047 2283v62M5113 459v61M5359 517v62M5145 576v62M5375 576v62M5178 812v62M5162 1165v62M5293 1165v62M5359 1165v62M5277 1459v62M5178 1577v62M5293 1577v62M5310 1577v62M5178 1695v61M5277 1812v62M5145 2107v61M5113 2165v62M5633 282v62M5584 341v62M5698 400v62M5503 517v62M5665 517v62M5438 694v62M5519 694v62M5471 753v62M5536 753v62M5471 812v62M5568 812v62M5471 871v61M5438 929v62M5568 929v62M5665 929v62M5519 988v62M5568 1047v62M5422 1459v62M5471 1577v62M5487 1753v62M5552 1753v62M5681 1753v62M5519 1812v62M5552 1930v62M5471 2048v62M5552 2107v61M5568 2107v61M5584 2107v61M5633 2107v61M5455 2165v62M5649 2165v62M5438 2283v62M5633 2283v62M5746 400v62M5940 400v62M5843 576v62M5876 576v62M5989 576v62M5827 694v62M5957 753v62M6022 753v62M5892 812v62M5876 871v61M5973 871v61M5876 1047v62M5746 1106v62M5827 1165v62M6054 1165v62M6038 1812v62M5746 1989v62M5908 1989v62M5973 1989v62M5778 2107v61M5843 2107v61M5860 2107v61M5973 2107v61M6054 2107v61M5762 2224v62M6054 2224v62M6104 341v62M6186 341v62M6364 341v62M6186 459v61M6348 459v61M6332 517v62M6364 517v62M6088 576v62M6348 1165v62M6251 1341v62M6121 1459v62M6169 1459v62M6251 1459v62M6283 1459v62M6316 1577v62M6381 1577v62M6169 1636v62M6202 1636v62M6332 1636v62M6364 1636v62M6186 1695v61M6348 2048v62M6621 282v62M6605 400v62M6653 517v62M6718 635v62M6509 694v62M6573 694v62M6702 753v62M6702 988v62M6718 988v62M6637 1047v62M6509 1283v61M6541 1283v61M6686 1283v61M6428 1459v62M6541 1459v62M6653 1459v62M6541 1518v62M6686 1636v62M6492 1695v61M6525 1695v61M6605 1695v61M6621 1695v61M6702 1695v61M6734 1695v61"/>
<path stroke="#fbe4da" d="M4664 576v62M4746 576v62M4746 635v62M4484 753v62M4550 812v62M4566 812v62M4713 988v62M4762 988v62M4648 1106v62M4729 1106v62M4501 1165v62M4664 1165v62M4762 1165v62M4648 1224v62M4762 1224v62M4680 1283v61M4680 1341v62M4746 1341v62M4729 1459v62M4566 1577v62M4615 1577v62M4680 1577v62M4680 1636v62M4582 1695v61M4713 1753v62M4468 2048v62M4838 517v62M4854 871v61M4886 988v62M4918 988v62M4967 988v62M5015 988v62M5063 988v62M4935 1106v62M4935 1224v62M4951 1283v61M4935 1930v62M5031 1930v62M5047 1930v62M4902 2048v62M5310 341v62M5129 459v61M5145 517v62M5244 517v62M5244 694v62M5096 753v62M5178 753v62M5113 812v62M5244 1165v62M5244 1341v62M5244 1459v62M5343 1577v62M5293 1636v62M5310 1753v62M5600 517v62M5681 517v62M5714 753v62M5536 812v62M5665 871v61M5536 929v62M5584 1106v62M5600 1106v62M5633 1106v62M5568 1459v62M5519 1577v62M5665 1753v62M5455 1812v62M5487 2048v62M5714 2048v62M5778 282v62M5811 400v62M5957 400v62M5746 459v61M5973 459v61M5989 459v61M5989 517v62M5795 635v62M5762 694v62M5843 753v62M5860 753v62M5924 753v62M5908 812v62M5973 988v62M6005 988v62M5762 1106v62M5827 1106v62M6005 1106v62M5762 1165v62M5940 1165v62M5778 1283v61M5795 1283v61M5989 1400v62M5843 1753v62M5795 1871v62M5827 1871v62M5924 1989v62M5957 1989v62M5795 2107v61M5762 2165v62M6104 517v62M6121 517v62M6299 576v62M6332 576v62M6381 576v62M6332 988v62M6104 1165v62M6088 1459v62M6202 1459v62M6332 1459v62M6381 1459v62M6088 1518v62M6283 1518v62M6348 1518v62M6137 1636v62M6088 1695v61M6381 1695v61M6267 2048v62M6428 517v62M6492 517v62M6492 635v62M6541 694v62M6621 694v62M6702 694v62M6637 812v62M6670 988v62M6444 1283v61M6702 1341v62M6686 1459v62M6734 1459v62M6557 1518v62M6476 1577v62M6476 1695v61M6589 1812v62M6605 1930v62"/>
<path stroke="#fadfd3" d="M4729 576v62M4533 988v62M4550 988v62M4664 988v62M4729 988v62M4484 1106v62M4762 1106v62M4550 1165v62M4680 1165v62M4746 1224v62M4762 1400v62M4468 1459v62M4762 1459v62M4582 1636v62M4729 1636v62M4746 1812v62M4870 341v62M4790 459v61M4870 459v61M4918 459v61M4999 517v62M4983 988v62M4918 1106v62M5031 1165v62M4822 1283v61M4918 1283v61M4967 1283v61M5015 1341v62M4806 1753v62M4822 1930v62M4870 1930v62M5047 2165v62M5063 2165v62M5211 341v62M5096 459v61M5228 459v61M5244 459v61M5293 459v61M5277 576v62M5293 576v62M5244 753v62M5375 1165v62M5178 1224v62M5145 1341v62M5178 1459v62M5113 1577v62M5584 282v62M5487 341v62M5503 341v62M5649 341v62M5471 400v62M5649 400v62M5422 517v62M5487 517v62M5519 517v62M5665 753v62M5438 812v62M5617 812v62M5649 929v62M5552 1106v62M5438 1636v62M5568 1636v62M5584 1753v62M5600 1753v62M5568 1812v62M5422 2107v61M5714 2283v62M5973 282v62M5908 400v62M6054 400v62M5908 459v61M5924 459v61M5827 517v62M5843 517v62M5892 517v62M5924 517v62M6005 576v62M5778 753v62M5795 753v62M5827 753v62M5908 753v62M5940 753v62M5778 812v62M5957 812v62M5973 812v62M5795 1047v62M5957 1106v62M5778 1165v62M5876 1165v62M5827 1283v61M5860 1283v61M5924 1283v61M5762 1871v62M5876 1989v62M5795 2224v62M6186 576v62M6381 988v62M6153 1459v62M6153 1518v62M6299 1518v62M6316 1518v62M6364 1518v62M6218 1577v62M6348 1577v62M6088 1636v62M6251 1695v61M6332 1695v61M6348 1695v61M6137 2048v62M6169 2048v62M6283 2048v62M6299 2048v62M6381 2048v62M6137 2107v61M6605 282v62M6653 400v62M6718 694v62M6637 871v61M6509 988v62M6573 988v62M6702 1165v62M6444 1459v62M6428 1518v62M6444 1518v62M6621 1518v62M6637 1518v62M6734 1518v62M6460 1577v62M6686 1695v61M6460 1753v62M6476 1753v62M6605 1812v62M6670 1812v62M6525 1930v62"/>
<path stroke="#fadacb" d="M4599 576v62M4599 753v62M4582 812v62M4599 812v62M4713 812v62M4680 929v62M4582 988v62M4648 988v62M4697 988v62M4501 1106v62M4468 1224v62M4599 1224v62M4664 1400v62M4631 1577v62M4468 1636v62M4648 1753v62M4697 1753v62M4533 1812v62M4680 2048v62M4746 2048v62M5031 341v62M4790 517v62M4822 871v61M4983 929v62M4967 1165v62M5047 1224v62M5063 1224v62M4983 1283v61M4822 1753v62M4854 1753v62M4902 1753v62M5113 341v62M5129 341v62M5293 517v62M5310 517v62M5178 576v62M5277 694v62M5277 753v62M5145 1165v62M5310 1165v62M5096 1400v62M5129 1459v62M5244 1577v62M5162 1753v62M5438 282v62M5487 282v62M5519 282v62M5438 341v62M5536 341v62M5552 341v62M5681 341v62M5714 341v62M5600 400v62M5438 517v62M5471 517v62M5568 753v62M5519 812v62M5438 871v61M5438 1106v62M5471 1518v62M5600 1518v62M5617 1695v61M5536 1812v62M5649 1812v62M5471 2107v61M5649 2107v61M5422 2283v62M5924 282v62M5827 341v62M5827 400v62M5892 400v62M6054 459v61M5762 517v62M5876 517v62M5973 517v62M5795 576v62M5778 694v62M5924 694v62M5973 694v62M6005 694v62M5973 753v62M5973 1047v62M5778 1106v62M5876 1106v62M6038 1106v62M5762 1283v61M5876 1283v61M6005 1283v61M6054 1400v62M5746 1753v62M5940 1753v62M5989 1753v62M6005 1812v62M6005 2107v61M6316 517v62M6218 1518v62M6364 1577v62M6121 1636v62M6153 2048v62M6251 2048v62M6316 2048v62M6202 2107v61M6397 2107v61M6121 2165v62M6169 2165v62M6397 2224v62M6573 282v62M6509 341v62M6621 341v62M6734 341v62M6460 988v62M6525 988v62M6734 988v62M6637 1341v62M6509 1518v62M6557 1753v62M6573 1753v62M6589 1753v62M6476 1812v62M6444 1930v62M6557 1930v62M6670 1930v62M6686 1930v62"/>
<path stroke="#fad4c3" d="M4631 812v62M4615 988v62M4631 988v62M4615 1106v62M4664 1106v62M4533 1165v62M4566 1165v62M4582 1165v62M4713 1165v62M4729 1165v62M4484 1224v62M4582 1224v62M4631 1224v62M4729 1341v62M4501 1577v62M4648 1577v62M4664 1636v62M4746 1695v61M4484 1753v62M5063 459v61M4935 517v62M4838 871v61M4870 929v62M4951 988v62M4870 1165v62M5031 1224v62M4870 1283v61M5047 1283v61M4838 1753v62M4886 1753v62M5047 1753v62M5277 341v62M5293 341v62M5375 341v62M5178 517v62M5096 576v62M5375 753v62M5096 1165v62M5145 1577v62M5162 1577v62M5195 1577v62M5113 1753v62M5129 1753v62M5178 1753v62M5228 1753v62M5260 1753v62M5422 282v62M5503 282v62M5681 282v62M5568 400v62M5714 400v62M5536 517v62M5552 517v62M5584 517v62M5568 635v62M5568 988v62M5455 1047v62M5617 1106v62M5681 1106v62M5455 1518v62M5487 1518v62M5536 1518v62M5617 1518v62M5503 1753v62M5633 1753v62M5455 2048v62M5649 2048v62M5536 2107v61M5714 2107v61M5860 400v62M5957 459v61M6005 459v61M5746 517v62M5795 517v62M6038 694v62M5762 753v62M5892 753v62M6054 753v62M5924 812v62M5843 1400v62M5876 1400v62M5762 1753v62M5778 1753v62M5957 1753v62M5892 1989v62M5827 2107v61M6186 517v62M6267 517v62M6381 517v62M6251 576v62M6104 1341v62M6186 1459v62M6316 1459v62M6121 1577v62M6186 1577v62M6267 1577v62M6153 1753v62M6364 1753v62M6104 2048v62M6267 2165v62M6348 2165v62M6702 282v62M6460 341v62M6702 341v62M6509 400v62M6573 517v62M6460 694v62M6573 1341v62M6718 1518v62M6444 1577v62M6637 1636v62M6637 1695v61M6428 1753v62M6428 1812v62M6525 1812v62M6557 1812v62M6428 1930v62M6476 1930v62M6460 1989v62"/>
<path stroke="#f9cebc" d="M4762 812v62M4566 988v62M4550 1106v62M4582 1106v62M4680 1224v62M4729 1283v61M4599 1577v62M4664 1577v62M4468 1695v61M4615 1753v62M4762 1753v62M5047 341v62M4822 517v62M4806 871v61M4951 871v61M5015 871v61M4967 1106v62M4886 1283v61M4790 1753v62M4967 1753v62M5260 753v62M5195 1165v62M5228 1577v62M5277 1577v62M5096 1753v62M5277 1753v62M5392 1753v62M5422 341v62M5714 517v62M5714 929v62M5455 988v62M5471 1106v62M5519 1106v62M5649 1106v62M5455 1459v62M5438 1518v62M5552 1518v62M5649 1518v62M5714 1518v62M5519 1753v62M5568 2048v62M5568 2283v62M5762 400v62M5989 400v62M6022 400v62M5827 459v61M5876 459v61M5827 576v62M6005 812v62M5795 871v61M5989 1165v62M5957 1400v62M6038 1400v62M5892 1753v62M6038 1753v62M5762 1812v62M5795 1812v62M5762 2107v61M6364 1459v62M6251 1518v62M6104 1636v62M6121 2048v62M6218 2048v62M6169 2107v61M6088 2165v62M6251 2165v62M6686 341v62M6718 341v62M6637 694v62M6573 1283v61M6702 1459v62M6428 1577v62M6589 1577v62M6734 1577v62M6702 1753v62M6492 1812v62M6670 1989v62"/>
<path stroke="#f9c8b4" d="M4746 753v62M4468 929v62M4484 988v62M4599 988v62M4746 988v62M4599 1106v62M4599 1165v62M4468 1283v61M4468 1341v62M4468 1400v62M4713 1577v62M4599 1753v62M4631 1753v62M4729 1753v62M4886 517v62M4902 517v62M4983 517v62M4902 871v61M5047 871v61M4886 1224v62M4983 1224v62M4951 1753v62M5129 1165v62M5228 1165v62M5260 1165v62M5293 1753v62M5552 282v62M5519 341v62M5455 517v62M5649 517v62M5536 1106v62M5438 2107v61M5778 517v62M6038 753v62M5746 812v62M5973 1165v62M6005 1165v62M5746 1400v62M5811 1400v62M5892 1400v62M5973 1400v62M5876 1753v62M6121 1518v62M6381 1518v62M6316 1636v62M6299 1695v61M6121 1753v62M6397 1753v62M6088 2048v62M6364 2048v62M6234 2165v62M6299 2165v62M6509 517v62M6637 517v62M6653 988v62M6718 1459v62M6509 1577v62M6573 1577v62M6605 1577v62M6653 1577v62M6702 1577v62M6492 1753v62M6653 1753v62M6541 1812v62M6460 1930v62"/>
<path stroke="#f8c2ac" d="M4729 812v62M4501 988v62M4729 1577v62M4746 1577v62M4501 1753v62M4533 1753v62M4550 1753v62M4664 1753v62M4680 1753v62M4746 1753v62M5047 517v62M4870 871v61M4886 871v61M4822 1106v62M4983 1106v62M5015 1106v62M4918 1753v62M4999 1753v62M4790 1930v62M5178 341v62M5195 341v62M5129 517v62M5277 517v62M5277 1165v62M5195 1753v62M5359 1753v62M5375 1753v62M5471 282v62M5665 282v62M5714 282v62M5455 753v62M5455 1106v62M5536 1753v62M5795 282v62M5795 400v62M5762 459v61M6038 459v61M6005 517v62M5795 694v62M5811 1341v62M5940 1341v62M5957 1341v62M6022 1341v62M5924 2107v61M6137 1518v62M6332 1577v62M6186 1636v62M6137 1753v62M6186 1753v62M6202 1753v62M6299 1753v62M6234 1871v62M6267 1989v62M6397 1989v62M6218 2107v61M6234 2107v61M6299 2107v61M6637 400v62M6444 988v62M6637 1400v62M6525 1577v62M6541 1577v62M6653 1695v61M6460 1812v62M6573 1930v62M6476 1989v62"/>
<path stroke="#f8bca5" d="M4680 812v62M4468 1106v62M4746 1106v62M4533 1224v62M4468 1577v62M5031 459v61M4967 517v62M5063 871v61M4790 1106v62M4886 1106v62M4790 1224v62M4870 1224v62M5015 1224v62M4790 1283v61M5096 341v62M5244 341v62M5600 282v62M5455 341v62M5568 341v62M5584 1518v62M5778 400v62M5876 400v62M5973 400v62M5795 1165v62M6005 1753v62M6022 1753v62M6054 1753v62M6332 1518v62M6218 1753v62M6267 1753v62M6299 1871v62M6316 2165v62M6169 2224v62M6637 282v62M6637 341v62M6605 1753v62M6686 1753v62M6509 1930v62M6541 1930v62M6653 1930v62M6734 1989v62"/>
<path stroke="#f8b69d" d="M4648 812v62M4664 1224v62M4729 1224v62M4468 1753v62M4566 1753v62M4790 341v62M5015 459v61M5015 517v62M4983 871v61M4999 871v61M5031 1283v61M5145 341v62M5228 341v62M5260 1577v62M5455 282v62M5649 282v62M5422 1106v62M5519 1518v62M5568 1518v62M5568 1753v62M5617 1753v62M5455 2107v61M6005 400v62M5827 812v62M5795 1106v62M5924 1341v62M5795 1400v62M6005 1400v62M5827 1753v62M6186 1518v62M6381 1753v62M6169 1812v62M6169 1871v62M6153 2107v61M6316 2107v61M6364 2107v61M6153 2165v62M6202 2165v62M6364 2165v62M6637 1283v61M6670 1577v62M6686 1577v62M6718 1577v62M6621 1753v62M6670 1753v62M6509 1812v62M6621 1812v62M6686 1812v62M6702 1930v62M6605 1989v62"/>
<path stroke="#f7b096" d="M4484 459v61M4533 812v62M4468 988v62M4951 517v62M5031 517v62M4838 576v62M5031 988v62M4870 1106v62M5015 1753v62M5031 1753v62M5568 517v62M5714 1106v62M5681 1518v62M5422 1753v62M5714 1753v62M6038 400v62M5795 459v61M6038 812v62M5746 1341v62M5778 1341v62M5843 1341v62M5892 1341v62M6038 1341v62M6104 1459v62M6234 1753v62M6251 1753v62M6283 1753v62M6137 1812v62M6153 1812v62M6397 1812v62M6137 1871v62M6283 1989v62M6186 2048v62M6104 2107v61M6186 2107v61M6267 2107v61M6381 2107v61M6332 2165v62M6381 2165v62M6653 282v62M6637 988v62M6637 1459v62M6621 1577v62M6718 1753v62M6734 1753v62M6621 1930v62M6718 1930v62M6428 1989v62M6525 1989v62M6621 1989v62M6557 2107v61"/>
<path stroke="#f7aa8e" d="M4484 812v62M4746 1165v62M4918 871v61M5031 871v61M4870 988v62M4967 1224v62M4983 1753v62M5617 282v62M5487 1106v62M5568 1106v62M5924 400v62M5795 812v62M5827 1341v62M5876 1341v62M5989 1341v62M6054 1341v62M5924 1400v62M5924 1753v62M5795 1989v62M6104 1753v62M6267 1812v62M6348 1812v62M6104 1871v62M6251 1871v62M6316 1871v62M6444 1753v62M6525 1753v62M6444 1812v62M6573 1812v62M6702 1812v62M6718 1812v62M6653 1989v62M6557 2048v62M6525 2107v61M6734 2224v62M6686 2283v62"/>
<path stroke="#f6a487" d="M4533 459v61M4631 459v61M4746 812v62M4468 1165v62M4967 871v61M5244 1753v62M5487 1224v62M5422 1518v62M5455 1753v62M5649 1753v62M5778 1400v62M5827 1400v62M5795 1753v62M5860 1753v62M6088 1753v62M6316 1753v62M6234 1812v62M6267 1871v62M6169 1930v62M6234 1930v62M6251 1930v62M6251 1989v62M6299 1989v62M6348 1989v62M6104 2165v62M6251 2224v62M6332 2224v62M6509 1753v62M6541 1753v62M6653 1812v62M6734 1812v62M6734 1930v62M6557 1989v62M6589 1989v62M6686 1989v62M6444 2048v62M6525 2048v62M6670 2048v62M6444 2107v61M6541 2107v61M6589 2107v61M6428 2224v62M6476 2224v62M6557 2224v62"/>
<path stroke="#f69e80" d="M4550 459v61M4566 459v61M4599 459v61M4615 459v61M4648 459v61M4680 459v61M4697 459v61M4664 812v62M4582 1577v62M4870 517v62M4918 517v62M4790 871v61M5031 1106v62M4870 1753v62M5600 1224v62M5552 1341v62M5762 1400v62M5811 1518v62M6022 1518v62M6202 1812v62M6299 1812v62M6153 1871v62M6202 1871v62M6283 1871v62M6397 1871v62M6234 1989v62M6332 2048v62M6218 2165v62M6088 2224v62M6202 2224v62M6218 2224v62M6492 1989v62M6573 1989v62M6718 1989v62M6428 2107v61M6492 2107v61M6686 2107v61M6589 2224v62M6557 2283v62M6589 2283v62"/>
<path stroke="#f59779" d="M4713 459v61M4746 459v61M4935 576v62M4902 635v62M4983 635v62M4822 753v62M5326 1047v62M5568 282v62M5649 1224v62M5438 1753v62M5762 1341v62M5908 1341v62M5973 1753v62M6169 1753v62M6348 1753v62M6104 1812v62M6381 1812v62M6121 1871v62M6332 1871v62M6381 1871v62M6202 1930v62M6267 1930v62M6299 1930v62M6088 1989v62M6104 1989v62M6121 1989v62M6169 1989v62M6332 1989v62M6381 1989v62M6088 2107v61M6121 2107v61M6283 2107v61M6137 2165v62M6283 2165v62M6283 2224v62M6637 1930v62M6509 1989v62M6541 1989v62M6428 2048v62M6460 2048v62M6492 2048v62M6605 2048v62M6653 2048v62M6476 2107v61M6702 2107v61M6492 2165v62M6557 2165v62M6670 2165v62M6444 2224v62M6525 2224v62M6605 2224v62M6621 2224v62M6492 2283v62M6509 2283v62M6525 2283v62"/>
<path stroke="#f49172" d="M4762 282v62M4935 635v62M4886 753v62M5310 1106v62M5536 282v62M5584 1224v62M5698 1224v62M5698 1341v62M5471 1753v62M5860 1341v62M6005 1341v62M5908 1518v62M6332 1753v62M6251 1812v62M6316 1812v62M6364 1812v62M6348 1871v62M6364 1871v62M6137 1930v62M6397 1930v62M6202 1989v62M6316 1989v62M6299 2224v62M6348 2224v62M6637 1989v62M6509 2048v62M6460 2107v61M6509 2107v61M6605 2107v61M6589 2165v62M6734 2165v62M6541 2224v62M6573 2224v62M6718 2224v62M6621 2283v62"/>
<path stroke="#f38b6b" d="M4615 282v62M4501 459v61M4517 459v61M4517 517v62M4648 517v62M4468 812v62M4854 576v62M5031 635v62M4838 694v62M4935 694v62M4806 753v62M4838 753v62M5310 871v61M5310 988v62M5665 1165v62M5422 1224v62M5503 1224v62M5568 1224v62M5665 1224v62M5698 1283v61M5438 1341v62M5795 1341v62M5973 1341v62M5746 1518v62M5778 1518v62M5924 1577v62M5940 1577v62M6121 1812v62M6088 1871v62M6364 1930v62M6381 1930v62M6137 1989v62M6153 1989v62M6251 2107v61M6348 2107v61M6153 2224v62M6234 2224v62M6267 2224v62M6637 1753v62M6637 1812v62M6702 1989v62M6573 2048v62M6718 2048v62M6670 2107v61M6509 2165v62M6541 2165v62M6460 2224v62M6492 2224v62M6637 2224v62M6653 2224v62M6670 2224v62M6702 2224v62M6428 2283v62M6460 2283v62"/>
<path stroke="#f28464" d="M4484 282v62M4582 282v62M4631 282v62M4648 282v62M4697 282v62M4713 282v62M4582 459v61M4501 517v62M4918 576v62M4999 576v62M5015 576v62M5031 576v62M5063 576v62M4838 635v62M4854 635v62M4951 635v62M4854 753v62M5063 753v62M5096 988v62M5211 988v62M5326 988v62M5343 988v62M5211 1047v62M5600 1165v62M5438 1224v62M5536 1224v62M5552 1224v62M5617 1224v62M5633 1224v62M5681 1224v62M5633 1283v61M5617 1341v62M5681 1341v62M5584 1400v62M5617 1400v62M5827 1518v62M5843 1518v62M5940 1518v62M5989 1518v62M6005 1518v62M5957 1577v62M6022 1577v62M5746 1695v61M5908 1695v61M6022 1695v61M6088 1812v62M6186 1812v62M6218 1812v62M6283 1812v62M6186 1871v62M6088 1930v62M6104 1930v62M6218 1930v62M6348 1930v62M6186 1989v62M6218 1989v62M6364 1989v62M6332 2107v61M6186 2165v62M6186 2224v62M6381 2224v62M6589 2048v62M6621 2048v62M6653 2107v61M6476 2165v62M6605 2165v62M6686 2224v62M6444 2283v62M6541 2283v62M6605 2283v62M6637 2283v62M6670 2283v62"/>
<path stroke="#f27e5d" d="M4550 282v62M4680 282v62M4517 400v62M4729 459v61M4762 459v61M4664 517v62M4806 576v62M4886 576v62M4902 576v62M4983 576v62M4790 635v62M4822 635v62M4918 635v62M4935 753v62M4999 753v62M5047 753v62M5211 871v61M5326 871v61M5326 929v62M5392 988v62M5129 1047v62M5162 1047v62M5244 1047v62M5277 1047v62M5375 1047v62M5471 1224v62M5519 1224v62M5600 1283v61M5455 1341v62M5519 1341v62M5665 1341v62M5811 1459v62M5973 1518v62M6218 1871v62M6121 1930v62M6186 1930v62M6316 1930v62M6121 2224v62M6476 2048v62M6541 2048v62M6573 2107v61M6525 2165v62M6653 2165v62M6718 2165v62M6476 2283v62M6702 2283v62M6718 2283v62"/>
<path stroke="#f17856" d="M4517 282v62M4599 282v62M4664 282v62M4501 400v62M4550 400v62M4615 400v62M4468 459v61M4664 459v61M4697 517v62M4790 576v62M4870 576v62M4951 576v62M4967 635v62M5063 635v62M4951 753v62M5260 871v61M5244 988v62M5359 1047v62M5503 1165v62M5519 1165v62M5584 1165v62M5633 1165v62M5487 1283v61M5584 1283v61M5584 1341v62M5714 1341v62M5536 1400v62M5940 1459v62M5762 1518v62M6054 1518v62M5778 1577v62M5811 1577v62M5860 1577v62M5876 1577v62M5973 1577v62M6022 1636v62M5940 1695v61M6332 1812v62M6283 1930v62M6332 1930v62M6137 2224v62M6364 2224v62M6702 2048v62M6621 2107v61M6734 2107v61M6444 2165v62M6460 2165v62M6702 2165v62M6509 2224v62M6653 2283v62"/>
<path stroke="#f07453" d="M4501 282v62M4533 282v62M4566 282v62M4729 282v62M4615 341v62M4468 400v62M4566 400v62M4599 400v62M4762 400v62M4615 517v62M5047 576v62M4806 635v62M4886 635v62M4999 635v62M5015 635v62M4854 694v62M5015 694v62M4790 753v62M4902 753v62M4983 753v62M5113 988v62M5129 988v62M5178 988v62M5277 988v62M5359 988v62M5195 1047v62M5343 1047v62M5343 1106v62M5422 1165v62M5438 1165v62M5455 1165v62M5714 1165v62M5455 1283v61M5714 1283v61M5471 1341v62M5487 1341v62M5600 1341v62M5633 1341v62M5422 1400v62M5438 1400v62M5503 1400v62M5519 1400v62M5681 1400v62M5746 1459v62M5876 1518v62M6038 1518v62M5762 1577v62M6005 1577v62M6038 1577v62M5811 1636v62M6038 1636v62M6054 1636v62M6153 1930v62M6444 1989v62M6637 2048v62M6686 2048v62M6718 2107v61M6621 2165v62M6686 2165v62M6734 2283v62"/>
<path stroke="#f0704f" d="M4484 341v62M4517 341v62M4550 341v62M4599 341v62M4550 517v62M4566 517v62M4822 576v62M4806 694v62M4822 694v62M4983 694v62M4999 694v62M5047 694v62M4870 753v62M5096 871v61M5162 929v62M5211 929v62M5375 988v62M5310 1047v62M5392 1047v62M5326 1106v62M5536 1165v62M5649 1165v62M5681 1165v62M5455 1224v62M5471 1283v61M5665 1283v61M5681 1283v61M5422 1341v62M5503 1341v62M5471 1400v62M5552 1400v62M5714 1400v62M5924 1459v62M6054 1459v62M5860 1518v62M5892 1518v62M5924 1518v62M5746 1577v62M5989 1577v62M6054 1577v62M5762 1636v62M5811 1695v61M5827 1695v61M6316 2224v62M6734 2048v62M6637 2107v61M6428 2165v62"/>
<path stroke="#ef6c4c" d="M4631 400v62M4648 400v62M4746 400v62M4484 517v62M4713 517v62M4967 576v62M4870 635v62M5047 635v62M4967 694v62M4806 812v62M4999 812v62M5392 871v61M5260 988v62M5113 1047v62M5552 1165v62M5617 1165v62M5649 1283v61M5536 1341v62M5568 1341v62M5568 1400v62M5665 1400v62M5698 1400v62M5908 1459v62M5957 1459v62M5795 1518v62M5843 1577v62M5892 1577v62M5860 1636v62M5924 1636v62M5957 1636v62M5973 1636v62M5989 1636v62M6005 1636v62M5843 1695v61M5924 1695v61M5989 1695v61M6104 2224v62M6637 2165v62"/>
<path stroke="#ee6848" d="M4501 341v62M4713 341v62M4680 400v62M4697 400v62M4713 400v62M4762 517v62M4886 694v62M4918 694v62M4951 694v62M4967 753v62M5031 753v62M5195 871v61M5096 929v62M5392 929v62M5145 988v62M5228 988v62M5293 988v62M5145 1047v62M5178 1047v62M5487 1165v62M5698 1165v62M5714 1224v62M5438 1283v61M5503 1283v61M5552 1283v61M5568 1283v61M5617 1283v61M5795 1459v62M5827 1459v62M5843 1459v62M5973 1459v62M5957 1518v62M5827 1577v62M5908 1577v62M5746 1636v62M5778 1636v62M5795 1636v62M5843 1636v62M5908 1636v62M5892 1695v61M6038 1695v61M6573 2165v62M6573 2283v62"/>
<path stroke="#ee6444" d="M4468 282v62M4746 282v62M4566 341v62M4697 341v62M4746 341v62M4762 341v62M4664 400v62M4729 400v62M4533 517v62M4729 517v62M4746 517v62M4790 694v62M4902 694v62M4918 753v62M5015 753v62M5129 871v61M5343 871v61M5359 871v61M5129 929v62M5260 929v62M5310 929v62M5162 988v62M5195 988v62M5096 1047v62M5228 1047v62M5260 1047v62M5293 1047v62M5392 1106v62M5471 1165v62M5649 1341v62M5455 1400v62M5487 1400v62M5860 1459v62M5892 1459v62M6005 1459v62M5860 1695v61M5957 1695v61M6005 1695v61M6637 1577v62"/>
<path stroke="#ed6041" d="M4582 341v62M4631 341v62M4648 341v62M4484 400v62M4631 517v62M4680 517v62M4870 694v62M4870 812v62M5113 871v61M5178 871v61M5145 929v62M5359 929v62M5211 1106v62M5293 1106v62M5375 1106v62M5633 1400v62M6022 1459v62M6038 1459v62M5940 1636v62M5778 1695v61M5973 1695v61"/>
<path stroke="#ed5c3e" d="M4468 341v62M4582 400v62M4468 517v62M5031 694v62M4951 812v62M5145 871v61M5375 929v62M5129 1106v62M5145 1106v62M5178 1106v62M5519 1283v61M5876 1459v62M5795 1577v62M5892 1636v62M5762 1695v61M6054 1695v61"/>
<path stroke="#ec583a" d="M4533 341v62M4680 341v62M4533 400v62M4582 517v62M4854 812v62M5228 871v61M5113 929v62M5178 929v62M5228 929v62M5096 1106v62M5195 1106v62M5260 1106v62M5568 1165v62M5422 1283v61M5536 1283v61M5600 1400v62M5778 1459v62M5827 1636v62M5876 1636v62M5795 1695v61M5876 1695v61"/>
<path stroke="#eb5238" d="M4664 341v62M4729 341v62M4599 517v62M5063 694v62M4822 812v62M4838 812v62M4918 812v62M5244 871v61M5375 871v61M5244 929v62M5277 929v62M5293 929v62M5343 929v62M5228 1106v62M5244 1106v62M5277 1106v62M5359 1106v62M5989 1459v62"/>
<path stroke="#ea4c36" d="M4902 812v62M4935 812v62M4967 812v62M5162 871v61M5293 871v61M5195 929v62M5162 1106v62"/>
<path stroke="#ea4734" d="M5277 871v61M5113 1106v62M5762 1459v62"/>
<path stroke="#e94132" d="M4790 812v62M5031 812v62M5047 812v62M5063 812v62"/>
<path stroke="#e83b30" d="M4983 812v62M5015 812v62M5649 1400v62"/>
<path stroke="#e7352e" d="M4886 812v62"/>
</g>
<line x1="460.4" y1="28.2" x2="460.4" y2="234.2" stroke="#ffffff" stroke-width="0.6" stroke-opacity="0.8"/>
<line x1="491.6" y1="28.2" x2="491.6" y2="234.2" stroke="#ffffff" stroke-width="0.6" stroke-opacity="0.8"/>
<line x1="590" y1="28.2" x2="590" y2="234.2" stroke="#ffffff" stroke-width="0.6" stroke-opacity="0.8"/>
<rect x="446" y="19.8" width="31" height="6.9" fill="#3BB273"/>
<text class="s" x="461.5" y="15.3" font-size="6.4" text-anchor="middle">Astro</text>
<rect x="478.2" y="19.8" width="28.9" height="6.9" fill="#F558AE"/>
<text class="s" x="492.65" y="15.3" font-size="6.4" text-anchor="middle">EndoMural</text>
<rect x="508.8" y="19.8" width="31.2" height="6.9" fill="#663894"/>
<text class="s" x="524.4" y="15.3" font-size="6.4" text-anchor="middle">Micro</text>
<rect x="541.4" y="19.8" width="30.8" height="6.9" fill="#E2731F"/>
<text class="s" x="556.8" y="15.3" font-size="6.4" text-anchor="middle">Oligo</text>
<rect x="573.8" y="19.8" width="32.4" height="6.9" fill="#D2B037"/>
<text class="s" x="590" y="15.3" font-size="6.4" text-anchor="middle">OPC</text>
<rect x="608" y="19.8" width="32.5" height="6.9" fill="#247FBC"/>
<text class="s" x="624.25" y="15.3" font-size="6.4" text-anchor="middle">Excit</text>
<rect x="642" y="19.8" width="32.2" height="6.9" fill="#EA5136"/>
<text class="s" x="658.1" y="15.3" font-size="6.4" text-anchor="middle">Inhib</text>
<text class="s" x="675.8" y="25.4" font-size="6.2">cell_type</text>
<rect x="676.3" y="28.2" width="6.6" height="29.63" fill="#3BB273"/>
<rect x="676.3" y="57.63" width="6.6" height="29.63" fill="#F558AE"/>
<rect x="676.3" y="87.06" width="6.6" height="29.63" fill="#663894"/>
<rect x="676.3" y="116.49" width="6.6" height="29.63" fill="#E2731F"/>
<rect x="676.3" y="145.91" width="6.6" height="29.63" fill="#D2B037"/>
<rect x="676.3" y="175.34" width="6.6" height="29.63" fill="#247FBC"/>
<rect x="676.3" y="204.77" width="6.6" height="29.63" fill="#EA5136"/>
<text class="s" x="684.7" y="33.34" font-size="6.1">SLC1A2</text>
<text class="s" x="684.7" y="39.23" font-size="6.1">GPC5</text>
<text class="s" x="684.7" y="45.11" font-size="6.1">ADGRV1</text>
<text class="s" x="684.7" y="51" font-size="6.1">NPAS3</text>
<text class="s" x="684.7" y="56.89" font-size="6.1">PITPNC1</text>
<text class="s" x="684.7" y="62.77" font-size="6.1">FLT1</text>
<text class="s" x="684.7" y="68.66" font-size="6.1">DLC1</text>
<text class="s" x="684.7" y="74.54" font-size="6.1">ATP1A2</text>
<text class="s" x="684.7" y="80.43" font-size="6.1">ATP10A</text>
<text class="s" x="684.7" y="86.31" font-size="6.1">NEAT1</text>
<text class="s" x="684.7" y="92.2" font-size="6.1">PLXDC2</text>
<text class="s" x="684.7" y="98.09" font-size="6.1">LRMDA</text>
<text class="s" x="684.7" y="103.97" font-size="6.1">DOCK4</text>
<text class="s" x="684.7" y="109.86" font-size="6.1">SFMBT2</text>
<text class="s" x="684.7" y="115.74" font-size="6.1">ST6GAL1</text>
<text class="s" x="684.7" y="121.63" font-size="6.1">ST18</text>
<text class="s" x="684.7" y="127.51" font-size="6.1">QKI</text>
<text class="s" x="684.7" y="133.4" font-size="6.1">PLP1</text>
<text class="s" x="684.7" y="139.29" font-size="6.1">MBP</text>
<text class="s" x="684.7" y="145.17" font-size="6.1">CTNNA3</text>
<text class="s" x="684.7" y="151.06" font-size="6.1">LHFPL3</text>
<text class="s" x="684.7" y="156.94" font-size="6.1">TNR</text>
<text class="s" x="684.7" y="162.83" font-size="6.1">PTPRZ1</text>
<text class="s" x="684.7" y="168.71" font-size="6.1">PCDH15</text>
<text class="s" x="684.7" y="174.6" font-size="6.1">LRRC4C</text>
<text class="s" x="684.7" y="180.49" font-size="6.1">MALAT1</text>
<text class="s" x="684.7" y="186.37" font-size="6.1">KCNIP4</text>
<text class="s" x="684.7" y="192.26" font-size="6.1">RBFOX1</text>
<text class="s" x="684.7" y="198.14" font-size="6.1">PTPRD</text>
<text class="s" x="684.7" y="204.03" font-size="6.1">CSMD1</text>
<text class="s" x="684.7" y="209.91" font-size="6.1">DLGAP1</text>
<text class="s" x="684.7" y="215.8" font-size="6.1">ROBO2</text>
<text class="s" x="684.7" y="221.69" font-size="6.1">NRXN3</text>
<text class="s" x="684.7" y="227.57" font-size="6.1">GALNTL6</text>
<text class="s" x="684.7" y="233.46" font-size="6.1">ERBB4</text>
<defs><linearGradient id="gE" x1="0" y1="0" x2="1" y2="0"><stop offset="0" stop-color="#423eac"/><stop offset="0.17" stop-color="#8070c6"/><stop offset="0.31" stop-color="#b2a6de"/><stop offset="0.42" stop-color="#e2dbf0"/><stop offset="0.5" stop-color="#fcf8f9"/><stop offset="0.57" stop-color="#fadacb"/><stop offset="0.68" stop-color="#f7aa8e"/><stop offset="0.78" stop-color="#f17856"/><stop offset="0.88" stop-color="#ec583a"/><stop offset="1" stop-color="#e41e26"/></linearGradient></defs>
<text class="s" x="614.9" y="239.5" font-size="3.6" font-weight="bold" fill="#222">Z Score</text>
<rect x="614.8" y="241.5" width="67.5" height="4.5" fill="url(#gE)"/>
<line x1="615.6" y1="246" x2="615.6" y2="247" stroke="#555" stroke-width="0.3"/>
<text class="s" x="615.6" y="249.6" font-size="3" text-anchor="middle" fill="#555">-4</text>
<line x1="632.2" y1="246" x2="632.2" y2="247" stroke="#555" stroke-width="0.3"/>
<text class="s" x="632.2" y="249.6" font-size="3" text-anchor="middle" fill="#555">-2</text>
<line x1="648.8" y1="246" x2="648.8" y2="247" stroke="#555" stroke-width="0.3"/>
<text class="s" x="648.8" y="249.6" font-size="3" text-anchor="middle" fill="#555">0</text>
<line x1="665.4" y1="246" x2="665.4" y2="247" stroke="#555" stroke-width="0.3"/>
<text class="s" x="665.4" y="249.6" font-size="3" text-anchor="middle" fill="#555">2</text>
<line x1="682" y1="246" x2="682" y2="247" stroke="#555" stroke-width="0.3"/>
<text class="s" x="682" y="249.6" font-size="3" text-anchor="middle" fill="#555">4</text>
<g transform="scale(0.1)" stroke-width="16.6" fill="none">
<path stroke="#655bbb" d="M5392 2697v64"/>
<path stroke="#6a5ebd" d="M5392 4331v63M5778 4452v63M5778 4573v63"/>
<path stroke="#6e62bf" d="M5778 4512v64"/>
<path stroke="#7365c0" d="M4762 4754v64M5778 4270v64M5778 4391v64"/>
<path stroke="#7769c2" d="M5277 3665v64"/>
<path stroke="#7c6cc4" d="M5392 2818v64M5392 3726v63M5778 3060v64M5778 3121v63M5778 3484v63M5778 4633v64"/>
<path stroke="#8070c6" d="M4790 3544v64M5392 4270v64M5113 4331v63M5778 4754v64"/>
<path stroke="#8575c8" d="M4762 4331v63M4599 4754v64M5392 2939v64M5392 3665v64M5778 3242v63M5778 4210v63"/>
<path stroke="#897aca" d="M5392 2879v63M5778 2939v64M5811 4512v64"/>
<path stroke="#8e7fcd" d="M4762 4149v64M4762 4391v64M5392 3181v64M5392 3786v64M5392 4210v63M5392 4452v63M5392 4633v64M5392 4694v63M5778 2697v64M5778 3363v63M5778 3605v63M5778 3786v64M5778 3847v63M5778 4331v63"/>
<path stroke="#9284cf" d="M4697 4270v64M4762 4270v64M4918 4512v64M5392 2758v63M5392 3907v64M5113 4270v64M5162 4331v63M5244 4331v63M5113 4694v63M5778 2879v63M5778 3302v64M5778 3423v64M5778 3665v64M6022 4391v64M5811 4573v63M5778 4694v63"/>
<path stroke="#9789d1" d="M4762 3000v63M4762 3181v64M4762 3786v64M4599 4331v63M4967 4149v64M4790 4331v63M4967 4391v64M4790 4573v63M5277 2697v64M5162 2758v63M5277 2818v64M5392 3000v63M5392 3060v64M5277 3726v63M5392 3968v63M5392 4028v64M5392 4149v64M5277 4331v63M5392 4512v64M5392 4573v63M5811 3181v64M5811 4452v63"/>
<path stroke="#9b8dd3" d="M4762 3484v63M4582 3544v64M4762 4210v63M4501 4452v63M4762 4452v63M4790 3302v64M4918 4331v63M5113 2758v63M5277 3000v63M5392 3121v63M5277 3847v63M5277 4210v63M5277 4270v64M5778 3000v63M5778 3181v64M5778 3544v64"/>
<path stroke="#a092d5" d="M4697 3665v64M4697 4210v63M4582 4391v64M4599 4452v63M4713 4452v63M4599 4512v64M4762 4512v64M4762 4573v63M4790 2879v63M4918 2879v63M5047 3605v63M4790 3786v64M4790 3907v64M4918 4028v64M5047 4512v64M4918 4573v63M5113 3786v64M5392 3847v63M5277 4089v63M5113 4452v63M5392 4754v64M5698 4512v64M5698 4754v64M5811 3363v63M5778 3726v63M5811 4210v63M5957 4452v63"/>
<path stroke="#a497d7" d="M4762 3060v64M4713 3121v63M4762 3847v63M4713 4331v63M4713 4391v64M4582 4573v63M4762 4633v64M4582 4754v64M5047 2879v63M4967 4028v64M4918 4210v63M4967 4210v63M4790 4270v64M4918 4270v64M4790 4391v64M5047 4633v64M4967 4694v63M5113 2697v64M5113 2818v64M5113 2879v63M5113 3121v63M5113 3181v64M5277 4028v64M5392 4391v64M5277 4573v63M5698 4270v64M5778 2758v63M5811 3544v64M5811 4331v63M5811 4391v64"/>
<path stroke="#a99cda" d="M4762 3242v63M4762 3302v64M4762 3544v64M4697 3786v64M4550 4210v63M4550 4270v64M4599 4270v64M4582 4331v63M4697 4331v63M4599 4573v63M4790 2939v64M4918 2939v64M4967 3302v64M4918 3363v63M4790 3423v64M4967 3423v64M5047 3423v64M4790 3605v63M4790 3665v64M4918 4391v64M4790 4452v63M4967 4512v64M5047 4573v63M4967 4633v64M4790 4694v63M5047 4694v63M5277 2879v63M5113 2939v64M5277 3060v64M5113 3665v64M5392 4089v63M5277 4149v64M5343 4331v63M5277 4452v63M5277 4694v63M5698 3363v63M5698 3968v63M5811 3060v64M5811 3302v64M5957 4210v63M5811 4270v64M6022 4573v63M5811 4754v64"/>
<path stroke="#ada1dc" d="M4599 3665v64M4762 3665v64M4762 3726v63M4599 3907v64M4762 3907v64M4599 3968v63M4762 3968v63M4550 4331v63M4550 4452v63M4713 4633v64M4762 4694v63M4501 4754v64M4550 4754v64M5047 2697v64M4790 2758v63M4967 2818v64M4967 2879v63M4967 2939v64M4918 3484v63M5047 3484v63M5047 3544v64M4918 3605v63M4918 3726v63M4918 3847v63M4790 4028v64M4790 4512v64M4790 4633v64M4967 4754v64M5277 2758v63M5277 3605v63M5277 4633v64M5129 4694v63M5698 3302v64M5698 3907v64M5584 4331v63M5698 4331v63M5536 4694v63M5584 4694v63M5778 2818v64M5811 2879v63M5811 2939v64M6022 4331v63M5876 4452v63M5795 4512v64M5957 4573v63"/>
<path stroke="#b2a6de" d="M4582 3000v63M4713 3000v63M4550 3181v64M4582 3484v63M4762 3605v63M4582 3665v64M4550 3786v64M4582 3847v63M4762 4089v63M4501 4210v63M4599 4391v64M4697 4391v64M4582 4452v63M4697 4754v64M4713 4754v64M4918 2758v63M4967 3484v63M5047 3726v63M4967 3847v63M4918 3907v64M4790 3968v63M4790 4149v64M5047 4331v63M4935 4391v64M4838 4633v64M5211 2758v63M5343 2758v63M5277 3181v64M5277 3242v63M5392 3605v63M5375 4331v63M5113 4573v63M5113 4633v64M5536 3484v63M5698 4149v64M5584 4512v64M5536 4573v63M5811 2758v63M5811 3605v63M6022 3726v63M5811 3786v64M6022 4452v63M6022 4512v64"/>
<path stroke="#b7ace0" d="M4599 3000v63M4582 3060v64M4599 3060v64M4697 3060v64M4599 3121v63M4501 3181v64M4582 3181v64M4550 3302v64M4582 3363v63M4697 3363v63M4762 3423v64M4501 3484v63M4713 3484v63M4599 3544v64M4713 3665v64M4599 3726v63M4501 3847v63M4713 4149v64M4713 4210v63M4550 4391v64M4713 4512v64M4697 4633v64M4967 2758v63M5047 2939v64M5015 3423v64M4838 3605v63M4918 3665v64M4790 3726v63M4967 3726v63M4967 4089v63M4967 4270v64M5047 4270v64M5047 4391v64M4967 4573v63M4918 4694v63M5047 4754v64M5375 2697v64M5113 3726v63M5293 4270v64M5129 4331v63M5260 4331v63M5277 4391v64M5113 4512v64M5375 4694v63M5129 4754v64M5698 3242v63M5698 3423v64M5698 4210v63M5698 4452v63M5536 4512v64M6022 2879v63M5795 2939v64M5957 3000v63M6022 3060v64M5811 3121v63M6022 3121v63M5957 3302v64M6022 3423v64M5811 3484v63M6022 3544v64M5811 3726v63M6022 3847v63M5843 4512v64M5908 4512v64M5989 4512v64M5811 4633v64M5957 4754v64"/>
<path stroke="#bdb2e2" d="M4762 3121v63M4550 3242v63M4582 3242v63M4599 3302v64M4713 3786v64M4582 4149v64M4582 4210v63M4566 4331v63M4999 2758v63M5047 2758v63M4838 2879v63M4790 3363v63M4967 3363v63M4790 3484v63M4918 3544v64M4967 3665v64M4983 3726v63M5047 3786v64M5047 3907v64M4790 4210v63M4838 4210v63M4902 4331v63M4967 4452v63M4870 4573v63M4918 4633v64M5096 2697v64M5129 2758v63M5129 2818v64M5162 2818v64M5129 3121v63M5129 3665v64M5162 3786v64M5113 3847v63M5162 3968v63M5129 4270v64M5326 4270v64M5260 4452v63M5145 4754v64M5162 4754v64M5326 4754v64M5698 2758v63M5698 2818v64M5568 3302v64M5536 3968v63M5536 4089v63M5536 4210v63M5568 4331v63M5536 4754v64M6022 2758v63M6022 2939v64M6022 3000v63M5957 3060v64M6022 3363v63M5795 3726v63M6022 4210v63M5843 4331v63M5957 4391v64M5762 4512v64M6022 4633v64M6038 4633v64M6022 4694v63"/>
<path stroke="#c2b8e4" d="M4697 3121v63M4713 3181v64M4697 3544v64M4550 3605v63M4599 3605v63M4631 3665v64M4566 3786v64M4582 3786v64M4599 3786v64M4550 3847v63M4631 3847v63M4582 3907v64M4697 3907v64M4582 4028v64M4550 4149v64M4501 4573v63M4550 4633v64M4599 4633v64M4790 2697v64M4918 2697v64M4918 2818v64M4838 2939v64M5047 3363v63M4838 3484v63M4918 3786v64M4806 4089v63M4918 4149v64M4983 4210v63M4967 4331v63M4838 4573v63M4935 4573v63M4983 4633v64M4838 4694v63M5228 2697v64M5343 2697v64M5277 2939v64M5113 3000v63M5113 3060v64M5129 3242v63M5162 3242v63M5392 3242v63M5162 3665v64M5277 3786v64M5277 3968v63M5113 4089v63M5260 4270v64M5343 4270v64M5211 4331v63M5162 4452v63M5096 4754v64M5244 4754v64M5277 4754v64M5584 2758v63M5584 3484v63M5617 3544v64M5536 4270v64M5536 4452v63M5633 4754v64M5811 2697v64M5957 2879v63M5811 3423v64M5957 3544v64M5843 3726v63M5957 3786v64M5811 3847v63M5957 4270v64M6022 4270v64M5957 4331v63M5795 4452v63M5762 4633v64M5811 4694v63M5843 4754v64M6621 2818v64"/>
<path stroke="#c7bee6" d="M4501 3000v63M4680 3000v63M4550 3121v63M4631 3121v63M4599 3181v64M4713 3363v63M4762 3363v63M4697 3484v63M4550 3544v64M4697 3605v63M4501 3665v64M4599 3847v63M4697 3968v63M4762 4028v64M4501 4149v64M4664 4210v63M4713 4270v64M4566 4391v64M4697 4512v64M4697 4573v63M4599 4694v63M4680 4754v64M4806 2758v63M5015 2758v63M4806 2818v64M5047 2818v64M4918 3302v64M4806 3423v64M4918 3423v64M4999 3544v64M4918 3968v63M4967 3968v63M5047 3968v63M4870 4210v63M4935 4210v63M5047 4210v63M4983 4331v63M4838 4391v64M4838 4512v64M4902 4754v64M5244 2758v63M5326 2758v63M5145 2818v64M5178 2818v64M5326 2879v63M5162 2939v64M5260 2939v64M5277 3121v63M5375 3665v64M5375 3847v63M5326 4452v63M5162 4694v63M5113 4754v64M5178 4754v64M5228 4754v64M5698 2879v63M5698 3060v64M5617 3302v64M5536 3363v63M5698 4028v64M5617 4089v63M5584 4270v64M5665 4270v64M5617 4573v63M5617 4754v64M5989 2879v63M5811 3000v63M5843 3181v64M5811 3242v63M5843 3242v63M6022 3302v64M5795 3363v63M5957 3363v63M6022 3786v64M5762 4270v64M5843 4270v64M5795 4331v63M5892 4391v64M5762 4452v63M6038 4573v63M5843 4633v64M5762 4754v64M5795 4754v64M6022 4754v64M6202 3000v63M6202 3242v63M6573 3242v63M6621 3302v64M6573 3968v63"/>
<path stroke="#cdc3e8" d="M4697 3000v63M4550 3060v64M4582 3121v63M4582 3423v64M4484 3544v64M4713 3726v63M4566 3847v63M4501 3968v63M4550 3968v63M4484 4028v64M4501 4028v64M4550 4028v64M4599 4028v64M4697 4028v64M4713 4028v64M4599 4149v64M4697 4149v64M4582 4270v64M4729 4331v63M4631 4391v64M4550 4512v64M4550 4573v63M4501 4633v64M4713 4694v63M4999 2697v64M4870 2758v63M4838 3363v63M4967 3605v63M5031 3726v63M4999 3786v64M4790 3847v63M5047 4149v64M4806 4270v64M5031 4331v63M4918 4452v63M4806 4512v64M5228 2758v63M5129 2879v63M5260 2879v63M5162 3000v63M5145 3242v63M5260 3665v64M5096 3786v64M5244 4028v64M5162 4089v63M5162 4149v64M5113 4210v63M5129 4210v63M5145 4270v64M5359 4270v64M5375 4270v64M5129 4452v63M5145 4452v63M5310 4452v63M5375 4452v63M5277 4512v64M5129 4633v64M5617 2697v64M5536 2879v63M5698 3121v63M5536 3302v64M5584 3363v63M5698 3484v63M5698 3544v64M5536 3907v64M5698 4089v63M5617 4391v64M5617 4512v64M5584 4573v63M5698 4633v64M5568 4754v64M5843 2879v63M5876 2879v63M5957 2939v64M5908 3181v64M5957 3181v64M6022 3181v64M5957 3242v63M5795 3665v64M5811 3665v64M5843 3665v64M5957 3665v64M5843 3786v64M5795 3847v63M5843 4210v63M5762 4331v63M5795 4391v64M5924 4391v64M5892 4452v63M6038 4452v63M5957 4512v64M5924 4633v64M5908 4694v63M5957 4694v63M6202 2818v64M6202 2879v63M6202 2939v64M6202 3121v63M6202 4694v63M6621 2697v64M6621 3000v63M6573 4028v64M6621 4149v64M6621 4210v63"/>
<path stroke="#d2c9ea" d="M4713 3060v64M4566 3121v63M4697 3181v64M4599 3242v63M4713 3242v63M4697 3423v64M4713 3544v64M4582 3605v63M4713 3605v63M4550 3726v63M4550 3907v64M4631 3907v64M4664 3907v64M4713 3907v64M4680 4149v64M4599 4210v63M4566 4270v64M4484 4331v63M4533 4331v63M4631 4331v63M4533 4391v64M4566 4452v63M4501 4512v64M4582 4512v64M4566 4754v64M4631 4754v64M4967 2697v64M4790 2818v64M4870 2939v64M4870 3423v64M4886 3423v64M4902 3423v64M4806 3544v64M4886 3665v64M4999 3665v64M4806 3786v64M4983 3786v64M4838 3907v64M4790 4089v63M4886 4210v63M4838 4270v64M4806 4331v63M4854 4331v63M4870 4331v63M4886 4391v64M4983 4573v63M4886 4633v64M4983 4694v63M4918 4754v64M5260 2697v64M5359 2697v64M5359 2758v63M5129 3000v63M5129 3181v64M5162 3726v63M5178 3786v64M5162 3847v63M5244 3847v63M5162 3907v64M5162 4028v64M5129 4089v63M5195 4089v63M5162 4391v64M5195 4452v63M5228 4452v63M5096 4694v63M5195 4694v63M5359 4694v63M5310 4754v64M5698 2697v64M5536 2758v63M5617 2879v63M5698 3000v63M5665 3121v63M5455 3242v63M5536 3242v63M5665 3242v63M5665 3302v64M5422 3484v63M5584 3544v64M5455 3968v63M5487 3968v63M5536 4028v64M5487 4089v63M5617 4210v63M5617 4331v63M5584 4391v64M5568 4573v63M5584 4633v64M5665 4694v63M5698 4694v63M6022 2697v64M6038 2758v63M5811 2818v64M6038 2879v63M5795 3060v64M5843 3121v63M6022 3242v63M5746 3363v63M5843 3484v63M5795 3544v64M6022 3605v63M5795 4210v63M5908 4210v63M5908 4270v64M5908 4331v63M5843 4391v64M5843 4452v63M5908 4452v63M5973 4452v63M5843 4573v63M5908 4633v64M5892 4754v64M6088 3000v63M6202 4028v64M6202 4633v64M6573 2818v64M6621 2879v63M6573 2939v64M6621 3242v63M6573 3302v64M6621 3423v64M6605 3726v63M6621 3726v63M6621 3786v64M6573 4089v63M6573 4331v63"/>
<path stroke="#d7cfec" d="M4533 3000v63M4664 3181v64M4566 3302v64M4550 3363v63M4599 3363v63M4599 3423v64M4501 3544v64M4484 3726v63M4501 3726v63M4566 3726v63M4631 3726v63M4566 3907v64M4648 3968v63M4713 3968v63M4550 4089v63M4566 4149v64M4566 4210v63M4664 4270v64M4501 4331v63M4501 4391v64M4680 4452v63M4697 4452v63M4680 4512v64M4713 4573v63M4935 2758v63M4854 2879v63M4870 2879v63M4983 2879v63M4838 3302v64M5047 3302v64M4806 3726v63M4902 3726v63M4967 3907v64M4983 3907v64M4902 4270v64M4838 4331v63M4983 4391v64M5031 4391v64M4999 4452v63M5047 4452v63M4886 4573v63M5015 4633v64M4870 4694v63M4790 4754v64M5211 2697v64M5310 2697v64M5326 2697v64M5096 2758v63M5343 2879v63M5326 2939v64M5244 3000v63M5326 3000v63M5375 3000v63M5162 3060v64M5375 3121v63M5113 3242v63M5162 3605v63M5096 3665v64M5129 3726v63M5113 4028v64M5260 4028v64M5343 4028v64M5129 4149v64M5326 4149v64M5195 4331v63M5228 4391v64M5162 4633v64M5326 4633v64M5178 4694v63M5326 4694v63M5536 2697v64M5617 2758v63M5536 3000v63M5536 3060v64M5584 3060v64M5536 3121v63M5698 3181v64M5568 3242v63M5536 3544v64M5584 3907v64M5617 3907v64M5584 3968v63M5665 3968v63M5455 4089v63M5536 4149v64M5584 4149v64M5455 4210v63M5617 4270v64M5665 4391v64M5698 4391v64M5698 4573v63M5665 4754v64M5795 2697v64M5746 2758v63M5795 2879v63M5762 3060v64M5843 3060v64M5908 3060v64M5746 3121v63M5957 3121v63M5795 3181v64M5876 3181v64M5843 3363v63M5989 3363v63M6038 3363v63M5957 3423v64M5795 3484v63M6022 3484v63M5908 3605v63M5957 3726v63M5843 3847v63M5795 4270v64M6038 4331v63M5989 4391v64M5746 4452v63M5827 4452v63M5860 4512v64M5892 4512v64M5795 4573v63M5795 4633v64M5957 4633v64M5973 4633v64M5989 4694v63M6038 4754v64M6137 2697v64M6137 2939v64M6088 3121v63M6202 3423v64M6202 3544v64M6202 3786v64M6202 4754v64M6605 2758v63M6573 3000v63M6621 3181v64M6621 3484v63M6573 3544v64M6621 3605v63M6573 3726v63M6509 3786v64M6573 3847v63M6621 3847v63M6621 4089v63M6573 4210v63M6573 4270v64M6621 4270v64M6621 4331v63M6621 4452v63"/>
<path stroke="#ddd5ee" d="M4648 3000v63M4566 3242v63M4501 3302v64M4713 3302v64M4501 3363v63M4550 3484v63M4566 3484v63M4599 3484v63M4680 3484v63M4566 3544v64M4680 3544v64M4484 3665v64M4566 3665v64M4664 3665v64M4582 3726v63M4664 3726v63M4680 3726v63M4697 3726v63M4631 3786v64M4713 3847v63M4484 3907v64M4501 3907v64M4501 4089v63M4664 4149v64M4631 4210v63M4484 4270v64M4729 4270v64M4729 4391v64M4468 4452v63M4631 4512v64M4566 4573v63M4550 4694v63M4582 4694v63M4697 4694v63M4484 4754v64M4533 4754v64M4664 4754v64M4983 2758v63M5031 2758v63M4806 2879v63M4983 3302v64M4854 3423v64M4935 3423v64M4806 3484v63M4870 3484v63M4806 3605v63M4806 3665v64M4935 3665v64M5047 3665v64M4838 3786v64M4967 3786v64M5031 3847v63M4838 3968v63M4838 4028v64M5047 4028v64M4918 4089v63M4854 4149v64M4951 4149v64M5015 4331v63M5015 4452v63M4854 4512v64M4935 4512v64M4806 4633v64M4870 4633v64M4902 4633v64M4902 4694v63M5129 2697v64M5162 2697v64M5178 2697v64M5244 2697v64M5310 2758v63M5195 2818v64M5228 2818v64M5310 3060v64M5375 3060v64M5162 3121v63M5129 3907v64M5129 4028v64M5326 4089v63M5113 4149v64M5343 4149v64M5145 4210v63M5211 4270v64M5145 4331v63M5228 4331v63M5326 4331v63M5359 4331v63M5113 4391v64M5359 4452v63M5162 4512v64M5129 4573v63M5260 4573v63M5375 4573v63M5178 4633v64M5293 4754v64M5422 2879v63M5584 3000v63M5617 3000v63M5455 3060v64M5568 3181v64M5617 3181v64M5584 3242v63M5617 3242v63M5584 3302v64M5568 3423v64M5665 3484v63M5487 3907v64M5568 3907v64M5568 3968v63M5617 3968v63M5633 3968v63M5455 4149v64M5568 4270v64M5536 4331v63M5665 4331v63M5536 4391v64M5617 4452v63M5471 4512v64M5665 4633v64M5422 4754v64M5957 2697v64M5957 2818v64M5876 2939v64M5908 2939v64M5795 3000v63M5795 3121v63M6054 3121v63M5762 3181v64M5843 3302v64M5892 3363v63M6054 3363v63M5795 3423v64M5957 3484v63M5924 3544v64M6038 3544v64M6022 3665v64M5762 3726v63M6038 3726v63M5762 3847v63M5957 3847v63M5989 4270v64M6038 4270v64M5746 4331v63M5827 4331v63M5746 4391v64M5762 4391v64M6054 4452v63M5908 4573v63M5989 4573v63M5795 4694v63M5876 4694v63M5876 4754v64M5989 4754v64M6348 2879v63M6088 3060v64M6137 3060v64M6202 3181v64M6137 3242v63M6202 3363v63M6202 3484v63M6234 3544v64M6202 3665v64M6202 3726v63M6137 3847v63M6202 3847v63M6202 3907v64M6573 2758v63M6605 3181v64M6509 3423v64M6573 3423v64M6573 3484v63M6605 3544v64M6509 3605v63M6573 3605v63M6509 3665v64M6444 3726v63M6460 3726v63M6509 3726v63M6444 3847v63M6492 3907v64M6573 3907v64M6444 3968v63M6573 4149v64M6444 4270v64M6573 4391v64"/>
<path stroke="#e2dbf0" d="M4550 3000v63M4501 3060v64M4566 3060v64M4631 3060v64M4697 3242v63M4697 3302v64M4566 3363v63M4501 3423v64M4631 3423v64M4729 3484v63M4533 3544v64M4501 3605v63M4484 3786v64M4501 3786v64M4680 3847v63M4582 3968v63M4697 4089v63M4468 4149v64M4648 4210v63M4501 4270v64M4648 4452v63M4484 4512v64M4517 4512v64M4631 4573v63M4484 4633v64M4582 4633v64M4501 4694v63M4680 4694v63M4468 4754v64M4648 4754v64M4822 2758v63M4838 2758v63M4902 2758v63M4870 2818v64M5031 2818v64M4935 2879v63M4935 2939v64M4983 2939v64M4902 3302v64M4806 3363v63M4951 3544v64M4967 3544v64M4983 3544v64M4902 3605v63M5015 3847v63M5015 4028v64M4983 4089v63M4935 4149v64M4806 4210v63M4854 4270v64M4886 4331v63M4806 4391v64M4854 4391v64M4886 4512v64M4983 4512v64M5031 4512v64M4951 4573v63M5015 4573v63M4822 4633v64M4999 4633v64M4935 4694v63M4999 4694v63M4822 4754v64M4886 4754v64M5145 2697v64M5195 2697v64M5195 2758v63M5260 2758v63M5293 2758v63M5375 2758v63M5375 2818v64M5162 2879v63M5293 2879v63M5145 2939v64M5359 3060v64M5145 3121v63M5096 3242v63M5178 3242v63M5326 3242v63M5113 3605v63M5178 3665v64M5244 3665v64M5260 3786v64M5343 3907v64M5113 3968v63M5129 3968v63M5343 3968v63M5145 4089v63M5244 4089v63M5326 4210v63M5162 4270v64M5178 4270v64M5195 4270v64M5228 4270v64M5293 4331v63M5129 4391v64M5244 4391v64M5244 4452v63M5343 4573v63M5096 4633v64M5228 4633v64M5343 4633v64M5244 4694v63M5211 4754v64M5260 4754v64M5375 4754v64M5665 2879v63M5536 2939v64M5584 2939v64M5617 3060v64M5584 3121v63M5600 3121v63M5503 3302v64M5633 3302v64M5536 3423v64M5600 3484v63M5422 3544v64M5471 3968v63M5568 4089v63M5665 4089v63M5633 4149v64M5665 4210v63M5600 4270v64M5422 4331v63M5487 4331v63M5584 4452v63M5665 4452v63M5568 4512v64M5584 4754v64M5795 2758v63M5908 2758v63M5892 2879v63M5924 2879v63M5746 2939v64M5762 2939v64M6005 2939v64M6038 3060v64M5908 3121v63M6038 3121v63M5795 3302v64M5989 3302v64M5892 3423v64M5843 3544v64M5957 3605v63M5762 3665v64M5762 3786v64M6038 3847v63M5762 4210v63M5989 4210v63M5876 4331v63M5924 4331v63M5973 4331v63M5876 4391v64M6005 4391v64M6038 4391v64M5876 4512v64M5924 4512v64M5940 4512v64M6054 4512v64M5973 4573v63M5746 4633v64M5827 4633v64M6054 4633v64M5843 4694v63M6038 4694v63M5827 4754v64M6202 2758v63M6234 2758v63M6234 2879v63M6137 3000v63M6234 3000v63M6137 3363v63M6137 3484v63M6202 3605v63M6234 3726v63M6234 3907v64M6137 4028v64M6234 4028v64M6202 4149v64M6137 4512v64M6202 4512v64M6088 4633v64M6234 4633v64M6234 4694v63M6234 4754v64M6621 2758v63M6444 2818v64M6509 2879v63M6573 2879v63M6605 2879v63M6621 2939v64M6605 3000v63M6573 3181v64M6573 3363v63M6444 3423v64M6621 3544v64M6444 3605v63M6573 3665v64M6573 3786v64M6621 3968v63M6702 4089v63M6509 4149v64M6702 4149v64M6702 4210v63M6492 4331v63M6702 4331v63M6573 4452v63"/>
<path stroke="#e6e0f2" d="M4468 3060v64M4533 3060v64M4501 3121v63M4648 3121v63M4664 3242v63M4582 3302v64M4550 3423v64M4484 3484v63M4566 3605v63M4550 3665v64M4680 3665v64M4697 3847v63M4729 3907v64M4533 3968v63M4566 3968v63M4664 4028v64M4729 4028v64M4582 4089v63M4599 4089v63M4533 4270v64M4468 4331v63M4517 4331v63M4680 4331v63M4680 4391v64M4631 4452v63M4729 4452v63M4680 4633v64M4631 4694v63M4870 2697v64M4935 2697v64M4983 2697v64M4999 2879v63M4854 2939v64M4886 2939v64M4935 3302v64M4983 3423v64M4935 3484v63M4870 3544v64M5031 3544v64M5031 3605v63M4822 3665v64M4870 3665v64M4870 3726v63M4935 3726v63M4999 3726v63M4806 3847v63M4838 4149v64M4870 4149v64M5015 4149v64M4983 4270v64M4870 4391v64M4902 4573v63M4999 4573v63M5031 4573v63M4854 4633v64M4951 4633v64M5015 4694v63M4870 4754v64M4983 4754v64M5015 4754v64M5260 2818v64M5293 2818v64M5343 2818v64M5359 2818v64M5375 2879v63M5343 3060v64M5293 3121v63M5375 3181v64M5375 3242v63M5195 3786v64M5244 3786v64M5375 3786v64M5129 3847v63M5113 3907v64M5277 3907v64M5375 3968v63M5145 4028v64M5260 4149v64M5293 4149v64M5359 4210v63M5244 4270v64M5326 4391v64M5375 4391v64M5343 4452v63M5260 4512v64M5195 4573v63M5260 4633v64M5359 4633v64M5145 4694v63M5211 4694v63M5343 4694v63M5195 4754v64M5359 4754v64M5665 2758v63M5617 2818v64M5584 2879v63M5455 3000v63M5487 3060v64M5584 3181v64M5600 3302v64M5665 3363v63M5617 3423v64M5584 4028v64M5617 4028v64M5584 4089v63M5487 4149v64M5617 4149v64M5665 4149v64M5568 4210v63M5455 4331v63M5600 4331v63M5422 4512v64M5649 4512v64M5665 4512v64M5455 4573v63M5503 4633v64M5471 4754v64M5746 2697v64M5762 2818v64M6005 2879v63M5876 3060v64M5924 3060v64M5892 3181v64M5746 3242v63M5762 3242v63M6054 3242v63M5924 3302v64M5876 3363v63M5940 3363v63M5746 3423v64M5908 3423v64M5908 3484v63M5989 3726v63M5795 3786v64M5908 3786v64M6038 4210v63M5746 4270v64M5989 4331v63M6005 4331v63M6054 4331v63M5908 4391v64M5989 4452v63M5827 4512v64M5762 4573v63M5892 4573v63M5940 4573v63M6005 4573v63M5860 4633v64M5892 4633v64M6005 4633v64M5762 4694v63M5924 4694v63M5973 4754v64M6137 2758v63M6381 2758v63M6137 2879v63M6267 3000v63M6299 3060v64M6381 3060v64M6137 3121v63M6088 3242v63M6234 3242v63M6088 3302v64M6267 3363v63M6088 3544v64M6137 3544v64M6234 3605v63M6381 3605v63M6137 3665v64M6088 3786v64M6234 3786v64M6234 3847v63M6267 3847v63M6137 3907v64M6202 3968v63M6137 4089v63M6137 4573v63M6202 4573v63M6348 4633v64M6137 4754v64M6444 2879v63M6476 2879v63M6492 2879v63M6509 3000v63M6509 3060v64M6605 3060v64M6621 3060v64M6573 3121v63M6621 3121v63M6444 3181v64M6444 3242v63M6605 3242v63M6492 3423v64M6718 3423v64M6509 3484v63M6702 3484v63M6444 3544v64M6702 3605v63M6444 3665v64M6621 3665v64M6702 3726v63M6718 3726v63M6525 3847v63M6509 3907v64M6492 3968v63M6444 4028v64M6444 4089v63M6605 4089v63M6444 4149v64M6605 4149v64M6605 4270v64M6509 4331v63M6509 4391v64M6621 4391v64"/>
<path stroke="#ebe5f3" d="M4517 3121v63M4468 3423v64M4713 3423v64M4517 3544v64M4631 3605v63M4664 3786v64M4648 3847v63M4746 3847v63M4566 4028v64M4631 4149v64M4468 4270v64M4468 4391v64M4484 4391v64M4664 4391v64M4746 4391v64M4484 4452v63M4533 4512v64M4533 4573v63M4664 4573v63M4664 4694v63M4517 4754v64M4729 4754v64M4746 4754v64M4838 2697v64M4886 2758v63M4935 2818v64M4983 2818v64M5015 2879v63M4806 2939v64M4983 3363v63M4951 3423v64M5031 3423v64M4886 3484v63M4838 3544v64M4902 3544v64M5015 3544v64M4886 3605v63M5015 3605v63M4935 3786v64M5015 3786v64M4854 3907v64M4999 4089v63M4951 4210v63M5015 4210v63M5015 4270v64M4935 4331v63M4822 4391v64M4902 4391v64M4838 4452v63M4854 4452v63M4902 4452v63M4902 4512v64M4806 4573v63M4822 4573v63M4806 4694v63M5031 4694v63M4999 4754v64M5145 2758v63M5096 2818v64M5129 2939v64M5211 2939v64M5359 2939v64M5375 2939v64M5343 3000v63M5096 3060v64M5129 3060v64M5145 3060v64M5260 3121v63M5244 3242v63M5359 3242v63M5129 3605v63M5343 3605v63M5375 3605v63M5326 3726v63M5129 3786v64M5211 3847v63M5145 3907v64M5293 3907v64M5293 4028v64M5359 4028v64M5375 4028v64M5293 4089v63M5178 4331v63M5244 4512v64M5096 4573v63M5244 4573v63M5145 4633v64M5568 2697v64M5600 2697v64M5503 2758v63M5600 2758v63M5714 2758v63M5536 2818v64M5487 2879v63M5568 2879v63M5617 2939v64M5568 3000v63M5665 3000v63M5568 3060v64M5487 3121v63M5487 3181v64M5536 3181v64M5649 3242v63M5568 3363v63M5617 3363v63M5487 3484v63M5503 3484v63M5568 3484v63M5617 3484v63M5487 3544v64M5503 3544v64M5438 3907v64M5455 3907v64M5438 3968v63M5600 3968v63M5568 4028v64M5568 4149v64M5503 4210v63M5584 4210v63M5633 4331v63M5681 4331v63M5455 4391v64M5438 4512v64M5633 4512v64M5665 4573v63M5422 4633v64M5536 4633v64M5600 4633v64M5617 4633v64M5455 4694v63M5568 4694v63M5633 4694v63M5843 2697v64M5940 2697v64M5973 2697v64M5762 2758v63M5843 2758v63M5957 2758v63M5908 2879v63M6005 3060v64M5762 3121v63M5762 3302v64M5762 3363v63M5973 3363v63M5860 3484v63M6038 3484v63M6054 3605v63M5973 3786v64M5973 4210v63M5876 4270v64M5924 4270v64M5940 4331v63M6054 4391v64M5940 4452v63M5973 4512v64M6038 4512v64M5989 4633v64M5746 4694v63M6054 4694v63M5746 4754v64M5940 4754v64M6202 2697v64M6088 2758v63M6348 2758v63M6234 2818v64M6348 2818v64M6267 2879v63M6088 2939v64M6348 2939v64M6332 3000v63M6364 3000v63M6202 3060v64M6234 3121v63M6381 3121v63M6137 3181v64M6348 3242v63M6381 3242v63M6267 3302v64M6381 3302v64M6218 3363v63M6088 3423v64M6381 3423v64M6088 3484v63M6169 3544v64M6267 3544v64M6088 3605v63M6137 3605v63M6121 3665v64M6267 3665v64M6137 3726v63M6381 3726v63M6137 3968v63M6202 4089v63M6267 4089v63M6234 4149v64M6267 4512v64M6364 4512v64M6137 4633v64M6088 4694v63M6137 4694v63M6267 4694v63M6316 4694v63M6444 2697v64M6492 2697v64M6573 2697v64M6605 2697v64M6444 2758v63M6718 2758v63M6476 2818v64M6509 2818v64M6605 2818v64M6702 2818v64M6702 2879v63M6492 2939v64M6702 3000v63M6718 3000v63M6573 3060v64M6492 3181v64M6509 3181v64M6605 3302v64M6509 3363v63M6702 3363v63M6605 3423v64M6702 3423v64M6605 3484v63M6492 3544v64M6492 3605v63M6605 3605v63M6605 3665v64M6492 3726v63M6525 3726v63M6444 3786v64M6525 3786v64M6509 3847v63M6702 3847v63M6621 3907v64M6460 4089v63M6460 4149v64M6444 4210v63M6492 4210v63M6509 4210v63M6605 4331v63M6718 4331v63M6605 4391v64M6460 4452v63M6509 4452v63M6686 4452v63M6702 4452v63"/>
<path stroke="#efeaf4" d="M4631 3181v64M4680 3181v64M4484 3242v63M4680 3242v63M4729 3242v63M4631 3302v64M4631 3363v63M4729 3363v63M4746 3363v63M4484 3605v63M4533 3605v63M4680 3605v63M4648 3665v64M4746 3665v64M4729 3847v63M4517 4028v64M4631 4089v63M4664 4089v63M4713 4089v63M4533 4149v64M4615 4210v63M4746 4270v64M4664 4452v63M4566 4512v64M4468 4573v63M4854 2697v64M4951 2879v63M5063 2879v63M5031 2939v64M5063 2939v64M4935 3363v63M4999 3363v63M4983 3605v63M4854 3665v64M4902 3665v64M5015 3726v63M4838 3847v63M5047 3847v63M4999 3907v64M4854 3968v63M4983 3968v63M4935 4028v64M4822 4149v64M4999 4149v64M4822 4270v64M4870 4270v64M4935 4270v64M5031 4270v64M4999 4391v64M4806 4452v63M4886 4452v63M4983 4452v63M4870 4512v64M4999 4512v64M4854 4573v63M4951 4694v63M4806 4754v64M4838 4754v64M5244 2818v64M5310 2818v64M5228 2879v63M5244 2879v63M5195 2939v64M5359 3000v63M5195 3060v64M5343 3121v63M5228 3181v64M5260 3181v64M5310 3665v64M5211 3726v63M5244 3726v63M5343 3726v63M5326 3786v64M5096 3847v63M5195 3907v64M5244 3968v63M5359 3968v63M5096 4028v64M5228 4149v64M5260 4210v63M5375 4210v63M5343 4391v64M5178 4452v63M5195 4633v64M5244 4633v64M5293 4694v63M5343 4754v64M5584 2697v64M5665 2697v64M5633 2758v63M5471 2879v63M5633 2879v63M5681 2939v64M5698 2939v64M5714 3000v63M5422 3060v64M5681 3060v64M5422 3121v63M5617 3121v63M5471 3242v63M5552 3242v63M5633 3242v63M5455 3302v64M5487 3423v64M5665 3544v64M5681 3968v63M5471 4089v63M5438 4270v64M5455 4270v64M5487 4270v64M5649 4331v63M5471 4391v64M5519 4391v64M5681 4391v64M5471 4452v63M5487 4452v63M5487 4512v64M5552 4512v64M5600 4573v63M5633 4633v64M5681 4633v64M5503 4694v63M5455 4754v64M5519 4754v64M5649 4754v64M5714 4754v64M6038 2697v64M5908 2818v64M6054 2879v63M5924 3000v63M6054 3000v63M5989 3121v63M5924 3181v64M6054 3181v64M5795 3242v63M5908 3363v63M5843 3423v64M6005 3423v64M5746 3484v63M5762 3484v63M5892 3484v63M5892 3544v64M5989 3544v64M6005 3544v64M5795 3605v63M5843 3605v63M5876 3605v63M5892 3605v63M6038 3665v64M5746 3726v63M5908 3726v63M5924 3786v64M5989 3786v64M5892 3847v63M5989 3847v63M5876 4210v63M5892 4210v63M6005 4210v63M5892 4331v63M5973 4391v64M5746 4512v64M5746 4573v63M5876 4633v64M5924 4754v64M6054 4754v64M6088 2697v64M6267 2697v64M6121 2758v63M6218 2758v63M6267 2758v63M6332 2758v63M6397 2758v63M6088 2818v64M6137 2818v64M6088 2879v63M6121 2939v64M6234 2939v64M6267 2939v64M6316 2939v64M6121 3000v63M6186 3000v63M6348 3000v63M6381 3000v63M6267 3060v64M6121 3121v63M6218 3121v63M6267 3121v63M6283 3121v63M6316 3121v63M6364 3121v63M6234 3181v64M6202 3302v64M6088 3363v63M6234 3363v63M6186 3423v64M6234 3423v64M6267 3423v64M6121 3484v63M6267 3484v63M6121 3544v64M6218 3544v64M6283 3544v64M6348 3544v64M6121 3605v63M6267 3605v63M6234 3665v64M6088 3726v63M6137 3786v64M6267 3786v64M6088 3847v63M6121 3847v63M6348 3847v63M6218 3907v64M6088 3968v63M6234 3968v63M6381 4028v64M6186 4089v63M6088 4149v64M6137 4149v64M6088 4512v64M6234 4512v64M6104 4573v63M6234 4573v63M6267 4573v63M6332 4573v63M6316 4633v64M6381 4633v64M6153 4694v63M6088 4754v64M6428 2697v64M6509 2697v64M6509 2758v63M6702 2758v63M6492 2818v64M6525 2818v64M6557 2818v64M6460 2879v63M6670 2879v63M6718 2879v63M6509 2939v64M6686 2939v64M6702 2939v64M6444 3000v63M6460 3000v63M6492 3000v63M6492 3060v64M6509 3121v63M6460 3181v64M6509 3242v63M6621 3363v63M6476 3423v64M6525 3423v64M6444 3484v63M6557 3544v64M6460 3605v63M6525 3605v63M6718 3605v63M6686 3726v63M6492 3786v64M6670 3786v64M6460 3968v63M6557 3968v63M6605 3968v63M6702 3968v63M6509 4028v64M6702 4028v64M6476 4210v63M6557 4210v63M6492 4270v64M6509 4270v64M6718 4270v64M6492 4391v64M6718 4391v64M6444 4452v63M6492 4452v63M6605 4452v63"/>
<path stroke="#f3eef6" d="M4517 3000v63M4631 3000v63M4517 3060v64M4664 3060v64M4680 3060v64M4566 3181v64M4501 3242v63M4566 3423v64M4680 3423v64M4517 3484v63M4631 3484v63M4533 3665v64M4468 3726v63M4648 3786v64M4664 3847v63M4468 3907v64M4680 3907v64M4484 3968v63M4631 4028v64M4729 4149v64M4517 4210v63M4680 4210v63M4631 4270v64M4648 4331v63M4664 4331v63M4517 4391v64M4648 4391v64M4746 4512v64M4517 4573v63M4680 4573v63M4631 4633v64M4566 4694v63M4838 2818v64M5015 2818v64M4902 2879v63M4822 2939v64M4854 3302v64M4870 3363v63M4902 3363v63M4838 3423v64M4999 3423v64M5015 3484v63M4822 3544v64M4870 3605v63M4838 3665v64M4983 3665v64M5015 3665v64M5031 3786v64M4822 3847v63M4806 3968v63M5031 3968v63M4951 4028v64M5063 4028v64M5047 4089v63M4983 4149v64M4854 4210v63M4999 4210v63M5031 4210v63M4886 4270v64M4951 4270v64M4999 4270v64M4951 4331v63M4999 4331v63M4870 4452v63M4935 4452v63M5015 4512v64M4935 4633v64M4935 4754v64M5178 2758v63M5326 2818v64M5211 2879v63M5343 2939v64M5228 3000v63M5310 3000v63M5326 3121v63M5228 3242v63M5260 3242v63M5293 3665v64M5343 3665v64M5178 3726v63M5228 3726v63M5359 3726v63M5375 3726v63M5211 3786v64M5228 3847v63M5178 3907v64M5293 3968v63M5260 4089v63M5310 4089v63M5375 4149v64M5310 4270v64M5211 4391v64M5096 4452v63M5310 4694v63M5455 2697v64M5487 2697v64M5438 2758v63M5487 2758v63M5471 2818v64M5584 2818v64M5552 2879v63M5455 2939v64M5487 3000v63M5438 3060v64M5665 3060v64M5455 3181v64M5681 3181v64M5471 3302v64M5552 3302v64M5681 3302v64M5584 3423v64M5438 3544v64M5471 3907v64M5552 4089v63M5633 4089v63M5681 4089v63M5471 4149v64M5503 4149v64M5681 4149v64M5714 4149v64M5438 4210v63M5600 4210v63M5503 4270v64M5487 4391v64M5438 4452v63M5552 4452v63M5503 4512v64M5422 4573v63M5487 4573v63M5487 4633v64M5649 4633v64M5487 4694v63M5681 4754v64M5892 2697v64M5989 2697v64M6054 2697v64M5876 2758v63M5924 2758v63M6022 2818v64M6038 2818v64M5973 2879v63M5843 2939v64M5924 2939v64M5989 2939v64M6038 2939v64M5746 3060v64M6038 3181v64M5908 3242v63M6005 3302v64M6005 3363v63M5762 3423v64M6054 3484v63M5876 3544v64M5746 3665v64M5924 3726v63M5827 3786v64M5860 3786v64M5908 3847v63M5924 4210v63M5860 4331v63M5827 4391v64M5940 4391v64M5924 4452v63M6005 4452v63M5860 4573v63M5924 4573v63M5860 4694v63M6005 4694v63M5908 4754v64M6234 2697v64M6186 2758v63M6316 2758v63M6381 2818v64M6218 2879v63M6316 2879v63M6364 2879v63M6218 2939v64M6332 2939v64M6364 2939v64M6283 3000v63M6218 3060v64M6234 3060v64M6316 3060v64M6121 3181v64M6348 3181v64M6169 3242v63M6267 3242v63M6283 3242v63M6332 3242v63M6234 3302v64M6186 3363v63M6332 3363v63M6121 3423v64M6153 3423v64M6283 3423v64M6316 3423v64M6316 3484v63M6332 3484v63M6397 3484v63M6299 3544v64M6381 3544v64M6251 3605v63M6316 3605v63M6316 3665v64M6348 3665v64M6186 3786v64M6316 3786v64M6397 3786v64M6299 3847v63M6381 3847v63M6397 3847v63M6218 3968v63M6186 4028v64M6218 4028v64M6397 4028v64M6088 4089v63M6397 4089v63M6104 4149v64M6186 4149v64M6267 4149v64M6381 4149v64M6121 4633v64M6218 4633v64M6267 4633v64M6121 4694v63M6283 4694v63M6267 4754v64M6299 4754v64M6381 4754v64M6525 2697v64M6460 2758v63M6492 2758v63M6525 2758v63M6557 2758v63M6686 2818v64M6686 2879v63M6444 2939v64M6557 2939v64M6670 2939v64M6718 2939v64M6525 3000v63M6670 3000v63M6444 3060v64M6492 3121v63M6605 3121v63M6702 3121v63M6476 3181v64M6686 3181v64M6702 3181v64M6492 3302v64M6605 3363v63M6509 3544v64M6718 3544v64M6686 3605v63M6525 3665v64M6702 3665v64M6557 3726v63M6670 3726v63M6702 3786v64M6492 3847v63M6557 3847v63M6605 3847v63M6605 3907v64M6702 3907v64M6718 3968v63M6492 4028v64M6605 4028v64M6621 4028v64M6476 4089v63M6492 4149v64M6589 4149v64M6718 4149v64M6460 4210v63M6525 4210v63M6460 4270v64M6557 4270v64M6702 4270v64M6444 4331v63M6444 4391v64M6525 4391v64M6557 4452v63M6718 4452v63"/>
<path stroke="#f8f3f8" d="M4729 3060v64M4484 3181v64M4517 3181v64M4631 3242v63M4468 3302v64M4484 3302v64M4484 3363v63M4648 3363v63M4533 3484v63M4631 3544v64M4664 3544v64M4468 3605v63M4648 3605v63M4664 3605v63M4533 3726v63M4648 3726v63M4680 3786v64M4517 3968v63M4631 3968v63M4664 3968v63M4746 3968v63M4680 4028v64M4533 4089v63M4729 4089v63M4484 4149v64M4517 4149v64M4746 4149v64M4517 4270v64M4615 4331v63M4615 4391v64M4468 4512v64M4664 4512v64M4729 4512v64M4484 4573v63M4729 4573v63M4648 4633v64M4729 4633v64M4806 2697v64M5063 2697v64M4951 2758v63M4999 2939v64M5015 2939v64M4983 3484v63M4999 3605v63M4822 3726v63M4854 3726v63M4902 3847v63M4999 3847v63M4886 3907v64M4902 3907v64M4935 3907v64M4902 3968v63M4935 3968v63M4999 3968v63M4870 4028v64M4886 4028v64M4983 4028v64M5031 4028v64M4838 4089v63M4886 4089v63M4886 4149v64M5031 4149v64M4902 4210v63M5063 4210v63M4951 4391v64M5015 4391v64M5031 4633v64M5063 4633v64M4822 4694v63M4854 4754v64M5244 2939v64M5096 3000v63M5178 3000v63M5211 3000v63M5260 3000v63M5178 3060v64M5244 3121v63M5195 3242v63M5260 3605v63M5195 3665v64M5326 3665v64M5359 3665v64M5359 3786v64M5375 3907v64M5211 4028v64M5228 4028v64M5178 4089v63M5228 4089v63M5145 4149v64M5096 4210v63M5244 4210v63M5096 4270v64M5310 4331v63M5310 4391v64M5359 4391v64M5129 4512v64M5211 4512v64M5228 4512v64M5359 4512v64M5162 4573v63M5326 4573v63M5359 4573v63M5293 4633v64M5310 4633v64M5681 2697v64M5471 2758v63M5552 2758v63M5568 2758v63M5649 2758v63M5568 2818v64M5503 2879v63M5600 2879v63M5438 3000v63M5471 3060v64M5633 3060v64M5714 3121v63M5552 3181v64M5633 3181v64M5665 3181v64M5422 3242v63M5487 3242v63M5487 3302v64M5471 3363v63M5438 3484v63M5455 3484v63M5633 3484v63M5471 3544v64M5568 3544v64M5600 3544v64M5665 3907v64M5422 3968v63M5552 3968v63M5649 3968v63M5633 4028v64M5422 4089v63M5649 4089v63M5438 4331v63M5471 4331v63M5568 4391v64M5422 4452v63M5600 4512v64M5681 4512v64M5552 4573v63M5633 4573v63M5681 4573v63M5455 4633v64M5552 4633v64M5568 4633v64M5422 4694v63M5617 4694v63M5487 4754v64M5503 4754v64M5552 4754v64M5762 2697v64M5989 2758v63M5795 2818v64M5989 2818v64M5746 2879v63M5762 2879v63M5940 2879v63M5908 3000v63M6038 3000v63M5989 3060v64M6054 3060v64M5860 3121v63M5892 3121v63M5924 3121v63M5989 3181v64M5989 3242v63M6005 3242v63M5746 3302v64M5860 3302v64M5892 3302v64M6054 3302v64M5924 3363v63M5924 3423v64M6054 3423v64M5940 3484v63M5989 3484v63M5762 3544v64M5973 3544v64M5924 3605v63M6038 3605v63M5876 3665v64M5908 3665v64M5989 3665v64M5746 3786v64M6038 3786v64M5746 3847v63M5924 3847v63M6054 4210v63M5892 4270v64M5973 4270v64M6005 4270v64M6054 4270v64M5860 4452v63M6005 4512v64M5876 4573v63M6054 4573v63M5860 4754v64M6121 2697v64M6104 2758v63M6283 2758v63M6364 2758v63M6121 2818v64M6121 2879v63M6153 2879v63M6153 2939v64M6251 3000v63M6299 3000v63M6397 3000v63M6121 3060v64M6169 3060v64M6283 3060v64M6364 3060v64M6186 3121v63M6299 3121v63M6332 3121v63M6348 3121v63M6397 3121v63M6153 3181v64M6283 3181v64M6397 3181v64M6121 3242v63M6218 3242v63M6316 3242v63M6137 3302v64M6332 3302v64M6364 3302v64M6299 3363v63M6137 3423v64M6218 3423v64M6332 3423v64M6348 3423v64M6169 3484v63M6234 3484v63M6348 3484v63M6381 3484v63M6397 3544v64M6218 3605v63M6364 3665v64M6169 3726v63M6267 3726v63M6121 3786v64M6218 3786v64M6283 3786v64M6299 3786v64M6348 3786v64M6169 3847v63M6186 3847v63M6283 3847v63M6316 3847v63M6088 3907v64M6121 3907v64M6267 3907v64M6364 3907v64M6316 3968v63M6364 3968v63M6088 4028v64M6316 4028v64M6348 4028v64M6364 4028v64M6153 4089v63M6234 4089v63M6348 4089v63M6283 4149v64M6316 4149v64M6364 4149v64M6153 4512v64M6299 4512v64M6332 4512v64M6381 4512v64M6218 4573v63M6316 4573v63M6251 4633v64M6364 4633v64M6251 4694v63M6364 4694v63M6381 4694v63M6316 4754v64M6364 4754v64M6460 2697v64M6670 2697v64M6702 2697v64M6476 2758v63M6686 2758v63M6589 2818v64M6428 2879v63M6525 2879v63M6589 2879v63M6605 2939v64M6476 3000v63M6718 3060v64M6444 3121v63M6476 3121v63M6460 3242v63M6557 3242v63M6686 3242v63M6702 3242v63M6718 3242v63M6444 3302v64M6460 3302v64M6509 3302v64M6525 3302v64M6557 3302v64M6670 3302v64M6444 3363v63M6492 3363v63M6525 3363v63M6557 3423v64M6670 3423v64M6686 3423v64M6460 3484v63M6460 3544v64M6525 3544v64M6686 3544v64M6428 3605v63M6476 3605v63M6589 3605v63M6653 3605v63M6492 3665v64M6557 3665v64M6686 3665v64M6476 3726v63M6541 3726v63M6589 3726v63M6686 3847v63M6444 3907v64M6476 3907v64M6718 3907v64M6476 3968v63M6509 3968v63M6460 4028v64M6525 4028v64M6686 4028v64M6718 4028v64M6428 4089v63M6509 4089v63M6525 4089v63M6557 4089v63M6653 4089v63M6718 4089v63M6734 4089v63M6428 4149v64M6476 4149v64M6428 4210v63M6605 4210v63M6670 4210v63M6734 4210v63M6541 4270v64M6670 4270v64M6686 4270v64M6734 4270v64M6428 4331v63M6476 4331v63M6653 4331v63M6557 4391v64M6428 4452v63"/>
<path stroke="#fcf8f9" d="M4468 3000v63M4566 3000v63M4664 3000v63M4746 3060v64M4468 3121v63M4484 3121v63M4533 3121v63M4664 3121v63M4533 3181v64M4680 3302v64M4746 3302v64M4517 3363v63M4533 3363v63M4664 3484v63M4468 3665v64M4615 3726v63M4729 3786v64M4484 3847v63M4517 3907v64M4533 4028v64M4517 4089v63M4648 4149v64M4533 4210v63M4729 4210v63M4680 4270v64M4746 4452v63M4648 4573v63M4533 4633v64M4533 4694v63M4886 2697v64M4902 2939v64M4806 3302v64M4870 3302v64M4999 3302v64M5031 3302v64M4886 3363v63M4951 3363v63M4951 3484v63M4935 3544v64M5063 3544v64M4951 3605v63M4951 3665v64M4838 3726v63M4854 3786v64M4854 3847v63M4870 3907v64M4951 3907v64M5031 3907v64M5015 3968v63M4806 4028v64M4902 4089v63M4935 4089v63M5015 4089v63M4806 4149v64M5063 4573v63M4854 4694v63M5178 2879v63M5310 2879v63M5211 3060v64M5178 3121v63M5359 3121v63M5096 3181v64M5211 3242v63M5195 3605v63M5244 3605v63M5326 3605v63M5145 3665v64M5211 3665v64M5293 3847v63M5195 3968v63M5096 4089v63M5211 4089v63M5343 4089v63M5244 4149v64M5162 4210v63M5211 4210v63M5343 4210v63M5195 4391v64M5260 4391v64M5211 4452v63M5293 4452v63M5178 4512v64M5343 4512v64M5145 4573v63M5487 2818v64M5665 2939v64M5519 3121v63M5600 3181v64M5438 3302v64M5552 3363v63M5471 3423v64M5714 3423v64M5455 3544v64M5714 3544v64M5422 3907v64M5503 3907v64M5552 3907v64M5600 3907v64M5714 3968v63M5487 4028v64M5714 4089v63M5471 4210v63M5633 4210v63M5714 4331v63M5503 4391v64M5714 4391v64M5455 4452v63M5568 4452v63M5633 4452v63M5649 4452v63M5681 4452v63M5455 4512v64M5714 4512v64M5471 4633v64M5519 4633v64M5714 4633v64M5471 4694v63M5438 4754v64M5827 2758v63M5746 2818v64M5843 2818v64M5827 2879v63M5860 2879v63M5860 2939v64M5940 2939v64M5973 2939v64M6054 2939v64M5827 3000v63M5860 3000v63M5973 3000v63M5827 3060v64M5973 3060v64M5860 3181v64M5876 3302v64M5908 3302v64M5940 3302v64M6038 3302v64M5989 3423v64M5876 3484v63M6005 3484v63M5746 3605v63M5762 3605v63M5860 3605v63M5973 3605v63M5973 3665v64M6005 3726v63M6005 3786v64M6054 3786v64M5876 3847v63M6054 3847v63M5940 4270v64M6316 2697v64M6348 2697v64M6397 2697v64M6153 2818v64M6283 2818v64M6299 2818v64M6283 2879v63M6299 2879v63M6332 2879v63M6381 2879v63M6397 2879v63M6104 2939v64M6299 2939v64M6397 2939v64M6218 3000v63M6316 3000v63M6153 3060v64M6186 3060v64M6348 3060v64M6169 3121v63M6251 3121v63M6088 3181v64M6218 3181v64M6299 3181v64M6316 3181v64M6381 3181v64M6186 3242v63M6251 3242v63M6397 3242v63M6121 3302v64M6186 3302v64M6153 3363v63M6251 3363v63M6348 3363v63M6169 3423v64M6251 3423v64M6397 3423v64M6218 3484v63M6104 3544v64M6104 3605v63M6169 3605v63M6283 3605v63M6299 3605v63M6348 3605v63M6153 3665v64M6169 3665v64M6218 3665v64M6121 3726v63M6348 3726v63M6364 3726v63M6397 3726v63M6153 3786v64M6169 3786v64M6251 3786v64M6364 3786v64M6381 3786v64M6332 3847v63M6186 3907v64M6251 3907v64M6316 3907v64M6332 3907v64M6397 3907v64M6153 3968v63M6283 3968v63M6251 4089v63M6316 4089v63M6332 4089v63M6364 4089v63M6381 4089v63M6121 4149v64M6153 4149v64M6186 4512v64M6218 4512v64M6316 4512v64M6348 4512v64M6397 4512v64M6169 4573v63M6283 4573v63M6104 4633v64M6186 4633v64M6332 4694v63M6348 4694v63M6397 4694v63M6121 4754v64M6332 4754v64M6397 4754v64M6557 2697v64M6718 2697v64M6670 2758v63M6460 2818v64M6637 2818v64M6670 2818v64M6718 2818v64M6460 2939v64M6476 2939v64M6686 3000v63M6460 3060v64M6476 3060v64M6557 3060v64M6525 3121v63M6541 3181v64M6670 3181v64M6718 3181v64M6476 3242v63M6492 3242v63M6686 3302v64M6702 3302v64M6718 3302v64M6428 3363v63M6653 3363v63M6589 3423v64M6476 3484v63M6492 3484v63M6525 3484v63M6557 3484v63M6589 3484v63M6476 3544v64M6557 3605v63M6670 3605v63M6734 3605v63M6718 3665v64M6428 3726v63M6637 3726v63M6734 3726v63M6460 3786v64M6557 3786v64M6605 3786v64M6686 3786v64M6428 3847v63M6460 3847v63M6670 3847v63M6428 3968v63M6686 3968v63M6525 4149v64M6541 4149v64M6686 4149v64M6686 4210v63M6428 4270v64M6525 4270v64M6557 4331v63M6670 4331v63M6686 4331v63M6734 4331v63M6460 4391v64M6476 4452v63M6653 4452v63"/>
<path stroke="#fcf3f1" d="M4648 3423v64M4648 3484v63M4517 3665v64M4729 3665v64M4517 3726v63M4729 3726v63M4746 3786v64M4468 3847v63M4533 3847v63M4468 3968v63M4648 4028v64M4468 4089v63M4484 4089v63M4680 4089v63M4484 4210v63M4746 4210v63M4746 4331v63M4533 4452v63M4566 4633v64M4484 4694v63M4615 4754v64M4822 2697v64M4902 2697v64M4951 2697v64M5015 2697v64M5031 2697v64M4902 2818v64M4886 2879v63M4854 3363v63M4902 3484v63M4886 3544v64M4822 3605v63M4854 3605v63M4935 3605v63M4886 3726v63M4870 3786v64M4935 3847v63M4886 3968v63M4902 4028v64M4902 4149v64M4822 4210v63M5063 4270v64M4951 4452v63M4822 4512v64M5063 4694v63M5211 2818v64M5145 2879v63M5293 2939v64M5293 3000v63M5228 3060v64M5293 3060v64M5326 3060v64M5145 3181v64M5162 3181v64M5195 3181v64M5145 3605v63M5096 3726v63M5145 3726v63M5260 3726v63M5293 3726v63M5293 3786v64M5310 3786v64M5343 3847v63M5359 3847v63M5211 3907v64M5260 3907v64M5310 3968v63M5326 3968v63M5326 4028v64M5375 4089v63M5178 4149v64M5359 4149v64M5293 4210v63M5096 4331v63M5178 4391v64M5326 4512v64M5375 4512v64M5211 4573v63M5211 4633v64M5260 4694v63M5503 2697v64M5552 2697v64M5633 2697v64M5455 2758v63M5438 2818v64M5714 2939v64M5503 3000v63M5552 3000v63M5600 3000v63M5503 3060v64M5649 3060v64M5568 3121v63M5438 3242v63M5600 3242v63M5519 3302v64M5649 3302v64M5455 3363v63M5503 3363v63M5633 3363v63M5552 3484v63M5600 4028v64M5438 4089v63M5422 4149v64M5600 4149v64M5633 4270v64M5649 4270v64M5681 4270v64M5649 4391v64M5600 4452v63M5714 4452v63M5471 4573v63M5438 4694v63M5827 2697v64M6005 2758v63M5827 2939v64M5892 2939v64M5843 3000v63M5876 3000v63M5892 3000v63M5827 3121v63M5973 3121v63M5746 3181v64M5973 3181v64M5892 3242v63M5973 3242v63M5827 3302v64M5860 3363v63M5876 3423v64M6038 3423v64M5827 3605v63M5940 3605v63M5973 3726v63M6054 3726v63M5876 3786v64M5860 4210v63M5827 4270v64M5860 4270v64M5892 4694v63M6104 2697v64M6186 2697v64M6283 2697v64M6299 2697v64M6381 2697v64M6299 2758v63M6169 2818v64M6218 2818v64M6316 2818v64M6104 2879v63M6169 2879v63M6186 2939v64M6283 2939v64M6153 3000v63M6104 3060v64M6332 3060v64M6153 3121v63M6169 3181v64M6251 3181v64M6267 3181v64M6153 3242v63M6104 3302v64M6153 3302v64M6169 3302v64M6218 3302v64M6251 3302v64M6283 3302v64M6316 3302v64M6348 3302v64M6397 3302v64M6121 3363v63M6283 3363v63M6316 3363v63M6381 3363v63M6153 3484v63M6186 3484v63M6251 3544v64M6316 3544v64M6332 3544v64M6364 3544v64M6332 3605v63M6364 3605v63M6397 3605v63M6283 3665v64M6332 3665v64M6153 3726v63M6186 3726v63M6218 3726v63M6283 3726v63M6299 3726v63M6104 3786v64M6104 3847v63M6153 3847v63M6218 3847v63M6251 3847v63M6169 3907v64M6283 3907v64M6299 3907v64M6381 3907v64M6121 3968v63M6267 3968v63M6381 3968v63M6121 4028v64M6251 4028v64M6267 4028v64M6121 4089v63M6283 4089v63M6169 4149v64M6218 4149v64M6251 4149v64M6348 4149v64M6104 4512v64M6121 4512v64M6251 4512v64M6088 4573v63M6251 4573v63M6299 4573v63M6348 4573v63M6283 4633v64M6299 4633v64M6169 4694v63M6186 4694v63M6299 4694v63M6153 4754v64M6186 4754v64M6218 4754v64M6541 2697v64M6589 2697v64M6653 2697v64M6686 2697v64M6637 2758v63M6428 2818v64M6541 2818v64M6653 2818v64M6734 2818v64M6557 2879v63M6653 2879v63M6428 2939v64M6653 2939v64M6557 3000v63M6525 3060v64M6702 3060v64M6428 3121v63M6460 3121v63M6557 3121v63M6428 3181v64M6589 3181v64M6653 3181v64M6734 3181v64M6541 3242v63M6541 3302v64M6476 3363v63M6428 3423v64M6460 3423v64M6734 3423v64M6428 3484v63M6670 3484v63M6686 3484v63M6718 3484v63M6541 3544v64M6589 3544v64M6541 3605v63M6428 3665v64M6460 3665v64M6428 3786v64M6476 3847v63M6718 3847v63M6460 3907v64M6525 3907v64M6557 3907v64M6734 3907v64M6589 3968v63M6653 3968v63M6428 4028v64M6476 4028v64M6589 4028v64M6492 4089v63M6541 4089v63M6686 4089v63M6557 4149v64M6653 4149v64M6541 4210v63M6589 4210v63M6653 4210v63M6718 4210v63M6589 4270v64M6653 4270v64M6460 4331v63M6525 4331v63M6637 4331v63M6428 4391v64M6670 4391v64M6686 4391v64M6702 4391v64M6525 4452v63M6589 4452v63M6670 4452v63"/>
<path stroke="#fbeeea" d="M4484 3000v63M4615 3000v63M4729 3000v63M4746 3000v63M4648 3060v64M4648 3181v64M4533 3242v63M4615 3242v63M4533 3302v64M4468 3363v63M4680 3363v63M4664 3423v64M4468 3484v63M4746 3484v63M4729 3544v64M4468 3786v64M4517 3786v64M4648 3907v64M4746 3907v64M4615 4028v64M4746 4028v64M4615 4270v64M4615 4452v63M4729 4694v63M4822 2818v64M4886 2818v64M5063 2818v64M5015 3363v63M4854 3484v63M4951 3786v64M4806 3907v64M4854 4028v64M4854 4089v63M5031 4452v63M4886 4694v63M5195 2879v63M5244 3060v64M5260 3060v64M5096 3121v63M5310 3181v64M5310 3242v63M5343 3242v63M5310 3605v63M5326 3847v63M5260 3968v63M5359 4089v63M5310 4149v64M5228 4210v63M5096 4391v64M5096 4512v64M5310 4573v63M5714 2697v64M5552 2818v64M5633 2818v64M5422 2939v64M5487 2939v64M5519 2939v64M5568 2939v64M5649 2939v64M5422 3000v63M5633 3000v63M5681 3000v63M5552 3060v64M5600 3060v64M5552 3121v63M5422 3181v64M5471 3181v64M5503 3181v64M5649 3181v64M5714 3181v64M5422 3302v64M5487 3363v63M5649 3363v63M5681 3363v63M5422 3423v64M5600 3423v64M5665 3423v64M5649 3484v63M5649 3544v64M5519 3968v63M5438 4028v64M5519 4028v64M5552 4028v64M5552 4210v63M5649 4210v63M5519 4270v64M5503 4331v63M5422 4391v64M5438 4391v64M5633 4391v64M5438 4573v63M5503 4573v63M5600 4694v63M5714 4694v63M5600 4754v64M5908 2697v64M5924 2697v64M6054 2758v63M5827 2818v64M5973 2818v64M6005 2818v64M5989 3000v63M6005 3000v63M5892 3060v64M5973 3423v64M5924 3484v63M5746 3544v64M5860 3544v64M5908 3544v64M5892 3665v64M6054 3665v64M5860 3726v63M5940 3726v63M5892 3786v64M5827 4210v63M6005 4754v64M6169 2697v64M6332 2697v64M6364 2697v64M6186 2818v64M6251 2818v64M6267 2818v64M6332 2818v64M6251 2879v63M6381 2939v64M6169 3000v63M6104 3121v63M6186 3181v64M6332 3181v64M6104 3242v63M6299 3242v63M6364 3242v63M6169 3363v63M6364 3363v63M6104 3423v64M6299 3423v64M6251 3484v63M6283 3484v63M6364 3484v63M6153 3544v64M6153 3605v63M6088 3665v64M6104 3665v64M6186 3665v64M6381 3665v64M6104 3726v63M6251 3726v63M6332 3726v63M6332 3786v64M6364 3847v63M6153 3907v64M6348 3907v64M6251 3968v63M6153 4028v64M6299 4028v64M6332 4028v64M6169 4089v63M6218 4089v63M6299 4149v64M6186 4573v63M6381 4573v63M6332 4633v64M6397 4633v64M6218 4694v63M6169 4754v64M6251 4754v64M6637 2879v63M6525 2939v64M6428 3000v63M6589 3000v63M6686 3060v64M6653 3121v63M6670 3121v63M6686 3121v63M6525 3181v64M6525 3242v63M6589 3242v63M6653 3242v63M6670 3242v63M6734 3242v63M6428 3302v64M6476 3302v64M6460 3363v63M6557 3363v63M6670 3363v63M6686 3363v63M6653 3423v64M6653 3484v63M6653 3544v64M6670 3544v64M6702 3544v64M6734 3544v64M6653 3665v64M6670 3665v64M6653 3726v63M6589 3786v64M6718 3786v64M6589 3847v63M6428 3907v64M6589 3907v64M6686 3907v64M6541 3968v63M6670 4089v63M6637 4149v64M6670 4149v64M6734 4149v64M6637 4210v63M6541 4331v63M6541 4391v64"/>
<path stroke="#fbe9e2" d="M4484 3060v64M4615 3121v63M4746 3121v63M4468 3181v64M4615 3181v64M4468 3242v63M4746 3242v63M4729 3302v64M4484 3423v64M4615 3484v63M4533 3786v64M4615 3786v64M4533 3907v64M4680 3968v63M4729 3968v63M4566 4089v63M4648 4089v63M4746 4089v63M4615 4149v64M4648 4270v64M4517 4452v63M4615 4633v64M4468 4694v63M4517 4694v63M4746 4694v63M4854 2758v63M4854 2818v64M4886 3302v64M5015 3302v64M5031 3363v63M4951 3726v63M5063 3726v63M4870 3847v63M4886 3847v63M4983 3847v63M5063 3847v63M4951 3968v63M4870 4089v63M5063 4512v64M5293 2697v64M5359 2879v63M5096 2939v64M5178 2939v64M5228 2939v64M5195 3000v63M5195 3121v63M5228 3121v63M5310 3121v63M5211 3181v64M5244 3181v64M5326 3181v64M5178 3605v63M5228 3605v63M5228 3665v64M5310 3726v63M5195 3847v63M5260 3847v63M5096 3968v63M5096 4149v64M5178 4210v63M5293 4512v64M5471 2697v64M5649 2697v64M5422 2758v63M5681 2758v63M5422 2818v64M5455 2818v64M5600 2818v64M5438 2879v63M5681 2879v63M5471 2939v64M5471 3121v63M5633 3121v63M5438 3181v64M5681 3242v63M5600 3363v63M5455 3423v64M5633 3423v64M5471 3484v63M5681 3484v63M5714 3484v63M5681 3544v64M5633 3907v64M5649 3907v64M5681 3907v64M5665 4028v64M5438 4149v64M5552 4149v64M5681 4210v63M5422 4270v64M5471 4270v64M5714 4270v64M5519 4331v63M5503 4452v63M5649 4573v63M5438 4633v64M5940 2758v63M6054 2818v64M5762 3000v63M5940 3121v63M6005 3181v64M5827 3242v63M5876 3242v63M5827 3363v63M6054 3544v64M5892 3726v63M5827 3847v63M6005 3847v63M5860 4391v64M6218 2697v64M6251 2697v64M6169 2758v63M6364 2818v64M6397 2818v64M6186 2879v63M6169 2939v64M6104 3000v63M6251 3060v64M6397 3060v64M6104 3181v64M6364 3181v64M6104 3363v63M6397 3363v63M6104 3484v63M6299 3484v63M6186 3544v64M6186 3605v63M6299 3665v64M6316 3726v63M6299 3968v63M6283 4028v64M6397 4149v64M6283 4512v64M6121 4573v63M6364 4573v63M6153 4633v64M6283 4754v64M6348 4754v64M6476 2697v64M6637 2697v64M6734 2697v64M6541 2758v63M6589 2758v63M6653 2758v63M6734 2758v63M6541 2879v63M6734 2879v63M6541 2939v64M6637 2939v64M6653 3000v63M6428 3060v64M6589 3060v64M6670 3060v64M6589 3121v63M6718 3121v63M6557 3181v64M6637 3181v64M6734 3302v64M6718 3363v63M6734 3363v63M6541 3423v64M6541 3484v63M6734 3484v63M6476 3665v64M6541 3665v64M6734 3665v64M6476 3786v64M6653 3786v64M6734 3786v64M6541 3847v63M6653 3847v63M6734 3847v63M6541 3907v64M6637 3907v64M6525 3968v63M6637 3968v63M6670 3968v63M6734 3968v63M6557 4028v64M6670 4028v64M6589 4089v63M6476 4270v64M6637 4270v64M6589 4331v63M6476 4391v64M6653 4391v64M6734 4452v63"/>
<path stroke="#fbe4da" d="M4729 3121v63M4729 3181v64M4648 3302v64M4729 3423v64M4468 3544v64M4648 3544v64M4615 3907v64M4648 4694v63M5063 2758v63M4999 2818v64M4822 2879v63M5031 2879v63M4951 2939v64M5063 3423v64M5063 3484v63M5063 3605v63M5063 3786v64M5015 3907v64M4870 3968v63M5031 4089v63M4822 4331v63M5063 4331v63M4951 4512v64M5293 3181v64M5343 3181v64M5293 3242v63M5211 3605v63M5293 3605v63M5359 3605v63M5195 3726v63M5343 3786v64M5228 3907v64M5244 3907v64M5195 4028v64M5310 4512v64M5375 4633v64M5228 4694v63M5665 2818v64M5455 2879v63M5438 3121v63M5503 3242v63M5438 3363v63M5552 3423v64M5681 3423v64M5633 3544v64M5503 4028v64M5503 4089v63M5600 4089v63M5714 4210v63M5552 4331v63M5600 4391v64M5519 4452v63M5519 4512v64M5860 2697v64M6005 2697v64M5892 2758v63M5973 2758v63M5892 2818v64M5924 2818v64M5940 2818v64M5940 3060v64M6005 3121v63M5827 3181v64M5940 3181v64M5924 3242v63M5940 3242v63M5973 3302v64M5827 3544v64M5989 3605v63M6005 3605v63M5924 3665v64M5940 4210v63M5827 4573v63M5827 4694v63M5973 4694v63M6153 2697v64M6153 2758v63M6251 2758v63M6251 2939v64M6299 3302v64M6364 3423v64M6397 3665v64M6104 3907v64M6169 3968v63M6186 3968v63M6332 3968v63M6348 3968v63M6104 4028v64M6104 4089v63M6299 4089v63M6332 4149v64M6153 4573v63M6397 4573v63M6169 4633v64M6104 4694v63M6104 4754v64M6734 2939v64M6637 3000v63M6734 3000v63M6637 3060v64M6541 3121v63M6428 3242v63M6637 3242v63M6589 3302v64M6637 3302v64M6653 3302v64M6589 3363v63M6428 3544v64M6637 3605v63M6589 3665v64M6541 3786v64M6670 3907v64M6653 4028v64M6734 4028v64M6589 4391v64M6541 4452v63M6637 4452v63"/>
<path stroke="#fadfd3" d="M4680 3121v63M4517 3242v63M4517 3302v64M4664 3363v63M4517 3423v64M4746 3423v64M4615 3544v64M4746 3544v64M4517 3605v63M4729 3605v63M4615 3847v63M4468 4028v64M4615 4573v63M4664 4633v64M4822 3302v64M5063 3302v64M4822 3363v63M5063 3363v63M4822 3423v64M5031 3484v63M4854 3544v64M5063 3665v64M4822 3786v64M5063 4452v63M4951 4754v64M5178 3181v64M5096 3605v63M5145 3786v64M5178 3847v63M5310 3847v63M5326 3907v64M5359 3907v64M5228 3968v63M5178 4028v64M5195 4149v64M5211 4149v64M5293 4391v64M5438 2697v64M5649 2879v63M5714 2879v63M5438 2939v64M5552 2939v64M5633 2939v64M5649 3000v63M5649 3121v63M5519 3242v63M5714 3242v63M5714 3302v64M5422 3363v63M5438 3423v64M5552 3544v64M5714 3907v64M5519 4149v64M5649 4149v64M5681 4694v63M5876 2818v64M5860 3060v64M5876 3121v63M5973 3484v63M6005 3665v64M5940 3786v64M5746 4210v63M5940 4694v63M6104 2818v64M6251 3665v64M6104 3968v63M6397 3968v63M6428 2758v63M6589 2939v64M6541 3000v63M6541 3060v64M6653 3060v64M6637 3121v63M6541 3363v63M6637 3363v63M6637 3484v63M6637 3544v64M6637 3847v63M6653 3907v64M6541 4028v64M6637 4391v64"/>
<path stroke="#fadacb" d="M4615 3060v64M4746 3181v64M4664 3302v64M4615 3665v64M4648 4512v64M4468 4633v64M4517 4633v64M4746 4633v64M4951 2818v64M4951 3847v63M5063 3907v64M4822 3968v63M5063 4754v64M5310 2939v64M5145 3000v63M5359 3181v64M5228 3786v64M5145 3847v63M5096 3907v64M5310 4028v64M5195 4512v64M5228 4573v63M5519 2758v63M5503 2818v64M5649 2818v64M5681 2818v64M5503 2939v64M5600 2939v64M5471 3000v63M5519 3000v63M5455 3121v63M5681 3121v63M5519 3544v64M5455 4028v64M5681 4028v64M5714 4028v64M5519 4089v63M5422 4210v63M5487 4210v63M5519 4210v63M5552 4391v64M5519 4573v63M5714 4573v63M5649 4694v63M5860 2758v63M5746 3000v63M5827 3423v64M5860 3423v64M5827 3484v63M5860 3665v64M5940 3665v64M5827 3726v63M5876 3726v63M5860 3847v63M5940 3847v63M5973 3847v63M5940 4633v64M6169 4028v64M6169 4512v64M6637 3786v64M6637 4089v63M6734 4391v64"/>
<path stroke="#fad4c3" d="M4615 3302v64M4533 3423v64M4746 4573v63M4822 3484v63M5031 3665v64M4886 3786v64M4902 3786v64M5063 3968v63M4822 4028v64M4951 4089v63M5096 2879v63M5211 3121v63M5145 3968v63M5178 3968v63M5145 4391v64M5178 4573v63M5519 2818v64M5503 3121v63M5519 3363v63M5519 3484v63M5519 3907v64M5422 4028v64M5471 4028v64M5649 4028v64M5519 4694v63M5876 2697v64M5940 3000v63M6038 3242v63M6202 4210v63M6734 3060v64M6734 3121v63M6637 3423v64M6637 3665v64M6637 4028v64"/>
<path stroke="#f9cebc" d="M4746 3605v63M4517 3847v63M4468 4210v63M4615 4694v63M4951 3302v64M4999 3484v63M4822 4089v63M4822 4452v63M5310 4210v63M5714 2818v64M5519 2879v63M5714 3060v64M5714 3363v63M5519 3423v64M5503 3968v63M5552 4270v64M5552 4694v63M5860 2818v64M5860 3242v63M5827 3665v64M6202 4452v63"/>
<path stroke="#f9c8b4" d="M4746 3726v63M4999 4028v64M5063 4391v64M5031 4754v64M5211 3968v63M5422 2697v64M5519 2697v64M5519 3181v64M5503 3423v64M5940 3423v64M6234 4452v63"/>
<path stroke="#f8c2ac" d="M4648 3242v63M4615 3363v63M4615 3968v63M5310 3907v64M5195 4210v63M5145 4512v64M5293 4573v63M5649 3423v64M6137 4210v63M6202 4270v64M6202 4331v63M6088 4452v63M6137 4452v63M6573 4512v64M6621 4512v64"/>
<path stroke="#f8bca5" d="M5063 4149v64M5940 3544v64M5778 3907v64M6267 4210v63M6137 4331v63M6202 4391v64M6573 4694v63M6573 4754v64"/>
<path stroke="#f8b69d" d="M4615 4512v64M4822 3907v64M6137 4270v64M6088 4391v64"/>
<path stroke="#f7b096" d="M5063 4089v63M5519 3060v64M5778 3968v63M6234 4270v64M6088 4331v63M6381 4331v63M6137 4391v64M6234 4391v64M6283 4452v63M6299 4452v63M6509 4512v64M6573 4573v63M6621 4633v64M6621 4754v64"/>
<path stroke="#f7aa8e" d="M4762 2879v63M4615 3423v64M4615 3605v63M5778 4149v64M6088 4270v64M6218 4270v64M6234 4331v63M6267 4331v63M6267 4452v63M6316 4452v63M6605 4512v64M6621 4694v63"/>
<path stroke="#f6a487" d="M4615 4089v63M5392 3363v63M5778 4028v64M6218 4210v63M6397 4210v63M6121 4270v64M6121 4331v63M6186 4331v63M6299 4331v63M6316 4331v63M6348 4452v63M6381 4452v63M6444 4512v64M6509 4573v63M6621 4573v63M6702 4573v63M6573 4633v64M6605 4754v64M6702 4754v64"/>
<path stroke="#f69e80" d="M4762 2758v63M5698 3605v63M5778 4089v63M6088 4210v63M6234 4210v63M6267 4270v64M6332 4270v64M6381 4270v64M6153 4331v63M6218 4331v63M6283 4331v63M6332 4331v63M6364 4331v63M6397 4391v64M6169 4452v63M6186 4452v63M6251 4452v63M6332 4452v63M6364 4452v63M6444 4694v63M6702 4694v63M6718 4694v63M6444 4754v64"/>
<path stroke="#f59779" d="M4550 2697v64M4762 2697v64M4713 2758v63M4599 2939v64M5811 3968v63M6121 4210v63M6283 4210v63M6316 4210v63M6364 4210v63M6381 4210v63M6104 4270v64M6186 4270v64M6283 4270v64M6169 4331v63M6104 4391v64M6218 4391v64M6251 4391v64M6267 4391v64M6332 4391v64M6348 4391v64M6702 4512v64M6718 4512v64M6428 4573v63M6444 4573v63M6509 4694v63M6492 4754v64"/>
<path stroke="#f49172" d="M4599 2697v64M4697 2697v64M4713 2697v64M4599 2758v63M4599 2818v64M4762 2818v64M4550 2879v63M4697 2879v63M5392 3423v64M6153 4210v63M6332 4210v63M6348 4210v63M6169 4270v64M6299 4270v64M6316 4270v64M6364 4270v64M6104 4331v63M6251 4331v63M6348 4331v63M6104 4452v63M6153 4452v63M6397 4452v63M6492 4512v64M6525 4512v64M6492 4573v63M6605 4573v63M6718 4573v63M6686 4633v64M6492 4694v63M6605 4694v63M6476 4754v64M6509 4754v64"/>
<path stroke="#f38b6b" d="M4697 2758v63M4599 2879v63M4697 2939v64M4918 3000v63M5047 3121v63M5392 3484v63M5584 3605v63M5617 3605v63M5536 3847v63M6186 4210v63M6251 4210v63M6251 4270v64M6348 4270v64M6186 4391v64M6283 4391v64M6121 4452v63M6218 4452v63M6460 4512v64M6686 4512v64M6670 4573v63M6444 4633v64M6492 4633v64M6605 4633v64M6557 4754v64M6686 4754v64M6718 4754v64"/>
<path stroke="#f28464" d="M4729 2697v64M4550 2758v63M4582 2758v63M4713 2818v64M4582 2879v63M4713 2879v63M4582 2939v64M4762 2939v64M4967 3000v63M4790 3060v64M4967 3181v64M5047 3181v64M5047 3242v63M5698 3665v64M5698 3726v63M5536 3786v64M5698 3847v63M5811 3907v64M5957 3907v64M6022 3968v63M5811 4089v63M5811 4149v64M6397 4331v63M6121 4391v64M6153 4391v64M6299 4391v64M6364 4391v64M6381 4391v64M6428 4512v64M6476 4512v64M6541 4512v64M6460 4573v63M6557 4573v63M6460 4694v63M6460 4754v64"/>
<path stroke="#f27e5d" d="M4501 2697v64M4582 2697v64M4967 3060v64M4790 3242v63M5113 3302v64M5392 3302v64M5277 3363v63M5113 3423v64M5277 3423v64M5277 3544v64M5536 3605v63M5957 3968v63M5811 4028v64M6104 4210v63M6299 4210v63M6397 4270v64M6557 4512v64M6670 4512v64M6525 4573v63M6460 4633v64M6541 4633v64M6702 4633v64M6428 4694v63M6525 4694v63M6557 4694v63M6589 4694v63M6670 4694v63M6589 4754v64M6670 4754v64"/>
<path stroke="#f17856" d="M4566 2697v64M4501 2758v63M4697 2818v64M4501 2879v63M4729 2879v63M4501 2939v64M4790 3000v63M4983 3000v63M5047 3060v64M4790 3121v63M4790 3181v64M4838 3242v63M4967 3242v63M5162 3302v64M5277 3302v64M5326 3423v64M5162 3484v63M5260 3544v64M5392 3544v64M5487 3605v63M5665 3605v63M5536 3665v64M5568 3665v64M5584 3665v64M5536 3726v63M5568 3726v63M5617 3786v64M5698 3786v64M5665 3847v63M5762 3907v64M6022 3907v64M5795 3968v63M5843 3968v63M5908 3968v63M5957 4089v63M6022 4089v63M6022 4149v64M6169 4210v63M6153 4270v64M6316 4391v64M6734 4512v64M6589 4573v63M6686 4573v63M6509 4633v64M6557 4633v64M6476 4694v63M6686 4694v63M6734 4694v63M6525 4754v64M6653 4754v64M6734 4754v64"/>
<path stroke="#f07453" d="M4631 2758v63M4631 2879v63M4550 2939v64M4566 2939v64M4713 2939v64M4918 3060v64M4870 3121v63M4838 3181v64M4918 3181v64M4806 3242v63M5162 3423v64M5113 3484v63M5277 3484v63M5113 3544v64M5343 3544v64M5519 3605v63M5568 3605v63M5584 3726v63M5471 3847v63M5503 3847v63M5584 3847v63M5617 3847v63M5633 3847v63M5795 3907v64M5843 3907v64M6038 3968v63M6054 3968v63M5843 4028v64M6022 4028v64M5843 4089v63M6169 4391v64M6653 4512v64M6476 4573v63M6653 4573v63M6428 4633v64M6589 4633v64M6670 4633v64M6718 4633v64M6541 4694v63M6637 4694v63M6428 4754v64"/>
<path stroke="#f0704f" d="M4468 2697v64M4615 2697v64M4631 2697v64M4501 2818v64M4550 2818v64M4533 2879v63M4648 2939v64M4886 3000v63M5047 3000v63M4918 3121v63M4806 3181v64M4870 3181v64M4870 3242v63M4918 3242v63M5129 3302v64M5260 3302v64M5375 3302v64M5113 3363v63M5162 3544v64M5244 3544v64M5438 3605v63M5503 3605v63M5681 3605v63M5438 3665v64M5487 3665v64M5617 3665v64M5665 3665v64M5455 3726v63M5600 3726v63M5633 3726v63M5665 3726v63M5568 3786v64M5584 3786v64M5924 3907v64M5892 4028v64M5957 4028v64M6038 4089v63M5843 4149v64M5924 4149v64M5989 4149v64M6541 4573v63M6637 4573v63M6476 4633v64M6525 4633v64M6653 4694v63M6541 4754v64M6637 4754v64"/>
<path stroke="#ef6c4c" d="M4484 2697v64M4533 2697v64M4648 2697v64M4664 2697v64M4566 2758v63M4680 2758v63M4746 2758v63M4484 2818v64M4631 2818v64M4468 2879v63M4648 2879v63M4664 2879v63M4468 2939v64M4838 3000v63M4902 3000v63M4999 3000v63M4902 3060v64M4935 3060v64M4838 3121v63M4967 3121v63M5031 3181v64M4983 3242v63M4999 3242v63M5343 3363v63M5129 3423v64M5260 3423v64M5096 3544v64M5129 3544v64M5145 3544v64M5195 3544v64M5455 3605v63M5471 3605v63M5633 3605v63M5455 3665v64M5600 3665v64M5633 3665v64M5438 3726v63M5487 3786v64M5665 3786v64M5487 3847v63M5746 3968v63M5762 3968v63M5924 3968v63M5973 3968v63M5795 4028v64M6038 4028v64M5924 4089v63M5892 4149v64M5957 4149v64M6637 4512v64M6734 4573v63"/>
<path stroke="#ee6848" d="M4746 2697v64M4468 2758v63M4484 2758v63M4533 2758v63M4648 2758v63M4664 2758v63M4729 2758v63M4533 2818v64M4566 2818v64M4664 2818v64M4729 2818v64M4484 2879v63M4566 2879v63M4615 2879v63M4680 2879v63M4517 2939v64M4631 2939v64M4806 3000v63M4822 3000v63M4870 3000v63M4806 3060v64M4838 3060v64M5015 3060v64M5031 3060v64M4854 3121v63M4902 3121v63M4999 3121v63M5015 3121v63M4935 3181v64M4983 3181v64M5015 3181v64M4902 3242v63M4935 3242v63M5096 3302v64M5178 3302v64M5326 3302v64M5129 3363v63M5162 3363v63M5359 3363v63M5375 3363v63M5145 3423v64M5211 3423v64M5096 3484v63M5129 3484v63M5260 3484v63M5326 3544v64M5422 3605v63M5552 3605v63M5600 3605v63M5471 3665v64M5422 3726v63M5487 3726v63M5617 3726v63M5471 3786v64M5681 3786v64M5714 3786v64M5422 3847v63M5438 3847v63M5552 3847v63M5568 3847v63M5714 3847v63M5908 3907v64M5973 3907v64M6038 3907v64M5746 4028v64M5762 4089v63M5876 4149v64M5973 4149v64M6005 4149v64M6589 4512v64M6653 4633v64M6734 4633v64"/>
<path stroke="#ee6444" d="M4517 2697v64M4680 2697v64M4517 2758v63M4615 2758v63M4517 2818v64M4582 2818v64M4746 2879v63M5031 3000v63M4870 3060v64M4983 3060v64M4999 3060v64M5031 3121v63M4951 3242v63M5145 3302v64M5195 3363v63M5228 3363v63M5260 3363v63M5293 3363v63M5195 3423v64M5326 3484v63M5343 3484v63M5293 3544v64M5375 3544v64M5649 3605v63M5714 3605v63M5422 3665v64M5681 3665v64M5503 3726v63M5681 3726v63M5455 3786v64M5552 3786v64M5649 3786v64M5455 3847v63M5600 3847v63M5649 3847v63M5876 3907v64M5989 3907v64M5989 3968v63M5762 4028v64M5746 4089v63M5795 4089v63M5892 4089v63M5908 4089v63M5762 4149v64M5795 4149v64M6038 4149v64M6054 4149v64M6637 4633v64"/>
<path stroke="#ed6041" d="M4468 2818v64M4746 2818v64M4533 2939v64M4664 2939v64M4729 2939v64M4746 2939v64M4854 3000v63M4935 3000v63M5015 3000v63M5063 3000v63M4886 3060v64M4983 3121v63M4854 3181v64M4886 3181v64M4822 3242v63M5015 3242v63M5031 3242v63M5211 3302v64M5228 3302v64M5343 3302v64M5145 3363v63M5244 3363v63M5326 3363v63M5096 3423v64M5178 3423v64M5228 3423v64M5244 3423v64M5343 3423v64M5375 3423v64M5178 3484v63M5195 3484v63M5228 3484v63M5244 3484v63M5178 3544v64M5228 3544v64M5503 3665v64M5714 3665v64M5422 3786v64M5503 3786v64M5633 3786v64M5746 3907v64M5860 3907v64M5892 3907v64M5940 3907v64M6054 3907v64M6005 3968v63M5876 4028v64M5924 4028v64M6005 4028v64M5989 4089v63M5908 4149v64"/>
<path stroke="#ed5c3e" d="M4615 2818v64M4680 2818v64M4517 2879v63M4615 2939v64M4806 3121v63M4935 3121v63M4822 3181v64M4902 3181v64M4951 3181v64M4999 3181v64M4854 3242v63M4886 3242v63M5195 3302v64M5293 3302v64M5310 3302v64M5359 3302v64M5178 3363v63M5375 3484v63M5310 3544v64M5359 3544v64M5552 3665v64M5471 3726v63M5649 3726v63M5714 3726v63M5519 3847v63M5681 3847v63M5876 3968v63M5827 4028v64M5908 4028v64M6054 4028v64M5940 4089v63M5973 4089v63M6005 4089v63M6054 4089v63M5827 4149v64M5860 4149v64"/>
<path stroke="#ec583a" d="M4648 2818v64M4484 2939v64M4680 2939v64M4886 3121v63M5244 3302v64M5211 3363v63M5293 3423v64M5310 3423v64M5359 3423v64M5145 3484v63M5211 3484v63M5310 3484v63M5359 3484v63M5211 3544v64M5649 3665v64M5552 3726v63M5519 3786v64M5600 3786v64M6005 3907v64M5827 3968v63M5860 3968v63M5989 4028v64M5860 4089v63M5876 4089v63M5746 4149v64"/>
<path stroke="#eb5238" d="M4951 3060v64M4951 3121v63M5096 3363v63M5293 3484v63M5519 3665v64M5519 3726v63M5438 3786v64M5892 3968v63M5940 3968v63M5940 4149v64"/>
<path stroke="#ea4c36" d="M4951 3000v63M4822 3060v64M4854 3060v64M5063 3121v63M5063 3181v64M5310 3363v63M5827 3907v64M5860 4028v64M5827 4089v63"/>
<path stroke="#ea4734" d="M4822 3121v63M5063 3242v63M5940 4028v64M5973 4028v64"/>
<path stroke="#e94132" d="M5063 3060v64"/>
</g>
<line x1="557" y1="269.7" x2="557" y2="481.5" stroke="#ffffff" stroke-width="0.6" stroke-opacity="0.85"/>
<line x1="590.4" y1="269.7" x2="590.4" y2="481.5" stroke="#ffffff" stroke-width="0.6" stroke-opacity="0.85"/>
<line x1="623.8" y1="269.7" x2="623.8" y2="481.5" stroke="#ffffff" stroke-width="0.6" stroke-opacity="0.85"/>
<line x1="657.2" y1="269.7" x2="657.2" y2="481.5" stroke="#ffffff" stroke-width="0.6" stroke-opacity="0.85"/>
<rect x="446" y="261.1" width="31" height="6.9" fill="#3BB273"/>
<text class="s" x="461.5" y="256.7" font-size="6.4" text-anchor="middle">Astro</text>
<rect x="478.2" y="261.1" width="28.9" height="6.9" fill="#F558AE"/>
<text class="s" x="492.65" y="256.7" font-size="6.4" text-anchor="middle">EndoMural</text>
<rect x="508.8" y="261.1" width="31.2" height="6.9" fill="#663894"/>
<text class="s" x="524.4" y="256.7" font-size="6.4" text-anchor="middle">Micro</text>
<rect x="541.4" y="261.1" width="30.8" height="6.9" fill="#E2731F"/>
<text class="s" x="556.8" y="256.7" font-size="6.4" text-anchor="middle">Oligo</text>
<rect x="573.8" y="261.1" width="32.4" height="6.9" fill="#D2B037"/>
<text class="s" x="590" y="256.7" font-size="6.4" text-anchor="middle">OPC</text>
<rect x="608" y="261.1" width="32.5" height="6.9" fill="#247FBC"/>
<text class="s" x="624.25" y="256.7" font-size="6.4" text-anchor="middle">Excit</text>
<rect x="642" y="261.1" width="32.2" height="6.9" fill="#EA5136"/>
<text class="s" x="658.1" y="256.7" font-size="6.4" text-anchor="middle">Inhib</text>
<text class="s" x="675.8" y="266.7" font-size="6.2">cell_type</text>
<rect x="676.3" y="269.7" width="6.6" height="30.46" fill="#3BB273"/>
<rect x="676.3" y="299.96" width="6.6" height="30.46" fill="#F558AE"/>
<rect x="676.3" y="330.21" width="6.6" height="30.46" fill="#663894"/>
<rect x="676.3" y="360.47" width="6.6" height="30.46" fill="#E2731F"/>
<rect x="676.3" y="390.73" width="6.6" height="30.46" fill="#D2B037"/>
<rect x="676.3" y="420.99" width="6.6" height="30.46" fill="#247FBC"/>
<rect x="676.3" y="451.24" width="6.6" height="30.46" fill="#EA5136"/>
<text class="s" x="684.7" y="274.93" font-size="6.1">PRDM16</text>
<text class="s" x="684.7" y="280.98" font-size="6.1">OBI1-AS1</text>
<text class="s" x="684.7" y="287.03" font-size="6.1">PAMR1</text>
<text class="s" x="684.7" y="293.08" font-size="6.1">RGS20</text>
<text class="s" x="684.7" y="299.13" font-size="6.1">HPSE2</text>
<text class="s" x="684.7" y="305.18" font-size="6.1">CARMN</text>
<text class="s" x="684.7" y="311.23" font-size="6.1">ITIH5</text>
<text class="s" x="684.7" y="317.29" font-size="6.1">NOTCH3</text>
<text class="s" x="684.7" y="323.34" font-size="6.1">CLDN5</text>
<text class="s" x="684.7" y="329.39" font-size="6.1">ATP10A</text>
<text class="s" x="684.7" y="335.44" font-size="6.1">LINC02712</text>
<text class="s" x="684.7" y="341.49" font-size="6.1">ITGAX</text>
<text class="s" x="684.7" y="347.54" font-size="6.1">BLNK</text>
<text class="s" x="684.7" y="353.59" font-size="6.1">LNCAROD</text>
<text class="s" x="684.7" y="359.65" font-size="6.1">CSF2RA</text>
<text class="s" x="684.7" y="365.7" font-size="6.1">FOLH1</text>
<text class="s" x="684.7" y="371.75" font-size="6.1">CD22</text>
<text class="s" x="684.7" y="377.8" font-size="6.1">LINC01608</text>
<text class="s" x="684.7" y="383.85" font-size="6.1">SLC5A11</text>
<text class="s" x="684.7" y="389.9" font-size="6.1">AC012494.1</text>
<text class="s" x="684.7" y="395.95" font-size="6.1">AC004852.2</text>
<text class="s" x="684.7" y="402.01" font-size="6.1">FERMT1</text>
<text class="s" x="684.7" y="408.06" font-size="6.1">COL9A1</text>
<text class="s" x="684.7" y="414.11" font-size="6.1">PDGFRA</text>
<text class="s" x="684.7" y="420.16" font-size="6.1">MEGF11</text>
<text class="s" x="684.7" y="426.21" font-size="6.1">AC008696.2</text>
<text class="s" x="684.7" y="432.26" font-size="6.1">AC073365.1</text>
<text class="s" x="684.7" y="438.31" font-size="6.1">AC093843.1</text>
<text class="s" x="684.7" y="444.37" font-size="6.1">AC067956.1</text>
<text class="s" x="684.7" y="450.42" font-size="6.1">MCHR2</text>
<text class="s" x="684.7" y="456.47" font-size="6.1">MYO3B</text>
<text class="s" x="684.7" y="462.52" font-size="6.1">SLC27A6</text>
<text class="s" x="684.7" y="468.57" font-size="6.1">GAD2</text>
<text class="s" x="684.7" y="474.62" font-size="6.1">LYPD6B</text>
<text class="s" x="684.7" y="480.67" font-size="6.1">RELN</text>
</svg>
</body></html>
